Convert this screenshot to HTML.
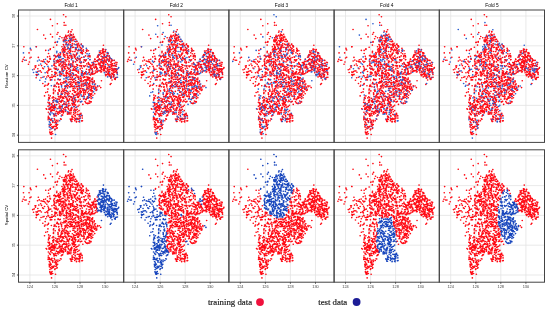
<!DOCTYPE html>
<html><head><meta charset="utf-8"><style>
html,body{margin:0;padding:0;background:#fff;width:550px;height:310px;overflow:hidden}
svg{display:block}
.gr{stroke:#e3e3e3;stroke-width:0.8}
.fr{fill:none;stroke:#444;stroke-width:1.0}
.tk{stroke:#333;stroke-width:0.8}
.dots path{stroke-width:1.6;stroke-linecap:round;fill:none}
text{font-family:"Liberation Sans",sans-serif}
.st{font-size:4.8px;fill:#000;text-anchor:middle}
.rl{font-size:4.3px;fill:#000;text-anchor:middle}
.xl{font-size:3.9px;fill:#444;text-anchor:middle}
.yl{font-size:3.9px;fill:#444;text-anchor:middle}
.lg{font-family:"Liberation Serif",serif;font-size:8.8px;fill:#1a1a1a;stroke:#1a1a1a;stroke-width:0.18px}
</style></head><body>
<svg width="550" height="310" viewBox="0 0 550 310">
<g class="dots"><g transform="translate(18.5 10.0)"><line x1="11.4" y1="0" x2="11.4" y2="132.4" class="gr"/><line x1="36.5" y1="0" x2="36.5" y2="132.4" class="gr"/><line x1="61.5" y1="0" x2="61.5" y2="132.4" class="gr"/><line x1="86.6" y1="0" x2="86.6" y2="132.4" class="gr"/><line x1="0" y1="6.0" x2="105.2" y2="6.0" class="gr"/><line x1="0" y1="35.8" x2="105.2" y2="35.8" class="gr"/><line x1="0" y1="65.6" x2="105.2" y2="65.6" class="gr"/><line x1="0" y1="95.4" x2="105.2" y2="95.4" class="gr"/><line x1="0" y1="125.2" x2="105.2" y2="125.2" class="gr"/><path stroke="#ff0a14" d="M51.6 24.1h.1M52.4 22.0h.1M54.7 24.3h.1M51.8 29.2h.1M50.9 26.9h.1M52.8 25.1h.1M50.1 25.3h.1M56.5 29.4h.1M57.2 29.4h.1M51.8 32.4h.1M53.6 30.8h.1M55.6 34.1h.1M46.3 37.7h.1M46.7 39.4h.1M47.4 39.5h.1M49.6 37.2h.1M52.1 37.8h.1M55.1 37.2h.1M64.0 35.8h.1M61.2 36.0h.1M64.6 36.7h.1M84.9 39.7h.1M40.0 44.1h.1M44.4 41.7h.1M44.8 40.6h.1M44.9 44.2h.1M52.2 41.2h.1M54.3 41.5h.1M51.4 42.4h.1M52.0 40.0h.1M56.4 41.6h.1M58.1 43.2h.1M67.0 42.7h.1M81.8 42.3h.1M84.2 40.1h.1M84.2 41.1h.1M82.4 40.7h.1M88.9 43.5h.1M84.5 42.5h.1M39.1 45.6h.1M40.0 46.2h.1M41.2 45.3h.1M45.9 46.2h.1M51.0 45.6h.1M57.5 45.1h.1M69.5 46.4h.1M71.3 49.8h.1M79.3 46.0h.1M76.3 49.1h.1M79.7 47.1h.1M79.7 45.2h.1M79.8 49.6h.1M80.9 49.8h.1M81.9 49.8h.1M88.5 48.7h.1M88.6 48.9h.1M40.0 52.0h.1M40.0 50.8h.1M48.1 51.0h.1M50.4 51.1h.1M62.3 53.1h.1M66.8 50.9h.1M77.0 54.6h.1M82.3 52.9h.1M80.8 55.0h.1M82.4 51.8h.1M80.2 53.1h.1M85.2 51.1h.1M87.4 51.0h.1M87.6 52.4h.1M85.2 54.7h.1M86.5 51.3h.1M91.7 54.7h.1M93.9 53.9h.1M93.7 53.7h.1M96.2 53.7h.1M98.4 52.6h.1M36.7 58.6h.1M43.6 59.1h.1M48.3 56.0h.1M46.3 56.6h.1M49.3 57.5h.1M46.7 58.9h.1M46.2 58.5h.1M52.0 55.5h.1M55.7 57.3h.1M57.2 58.8h.1M61.1 55.8h.1M62.4 55.6h.1M68.9 56.2h.1M65.3 55.8h.1M74.3 55.5h.1M71.4 59.9h.1M73.5 58.5h.1M77.7 57.3h.1M76.1 58.1h.1M82.7 59.1h.1M82.1 57.1h.1M86.6 58.5h.1M86.3 56.3h.1M86.5 56.1h.1M86.3 58.2h.1M88.6 59.1h.1M86.8 56.5h.1M90.8 57.1h.1M93.1 56.4h.1M93.7 58.2h.1M89.6 55.1h.1M96.2 55.8h.1M99.0 59.0h.1M95.7 55.7h.1M38.1 63.1h.1M41.0 64.1h.1M48.0 63.0h.1M47.9 61.1h.1M57.5 64.7h.1M64.3 63.6h.1M59.9 61.6h.1M72.9 63.0h.1M73.8 62.9h.1M78.5 62.3h.1M76.9 62.9h.1M80.5 60.9h.1M87.3 61.3h.1M88.6 64.8h.1M87.5 62.0h.1M87.7 64.8h.1M94.2 63.4h.1M97.9 60.1h.1M95.8 62.1h.1M35.8 66.0h.1M44.9 65.4h.1M47.6 68.5h.1M48.1 65.3h.1M59.3 67.5h.1M57.1 67.7h.1M59.3 66.1h.1M62.5 67.9h.1M62.1 68.5h.1M60.0 69.3h.1M66.4 67.1h.1M65.7 66.7h.1M68.6 69.2h.1M69.3 69.7h.1M70.2 69.8h.1M69.7 68.2h.1M74.1 68.1h.1M90.7 66.1h.1M95.3 65.3h.1M96.3 68.4h.1M38.2 73.7h.1M40.1 74.4h.1M42.4 72.5h.1M52.0 74.6h.1M52.1 73.4h.1M57.9 72.6h.1M56.5 72.8h.1M56.7 73.1h.1M57.1 70.6h.1M62.9 74.1h.1M63.4 71.5h.1M63.0 70.0h.1M67.8 71.0h.1M74.0 72.9h.1M73.8 71.6h.1M74.3 72.5h.1M36.5 75.3h.1M35.1 79.1h.1M40.8 79.2h.1M40.1 77.2h.1M43.7 79.0h.1M48.0 76.3h.1M47.5 76.1h.1M48.9 75.6h.1M55.1 78.6h.1M54.6 78.4h.1M61.4 75.2h.1M61.1 78.2h.1M62.4 78.6h.1M65.1 79.0h.1M65.9 75.4h.1M73.0 77.1h.1M72.1 79.6h.1M75.3 78.3h.1M34.9 80.1h.1M35.0 82.4h.1M36.7 80.9h.1M43.2 81.6h.1M45.7 80.2h.1M57.1 82.1h.1M59.0 80.8h.1M57.3 81.7h.1M61.0 81.7h.1M63.9 80.1h.1M60.4 83.4h.1M62.4 82.1h.1M65.8 80.5h.1M67.4 80.4h.1M66.5 80.4h.1M66.7 84.3h.1M73.1 80.5h.1M30.4 87.8h.1M34.6 86.7h.1M35.3 87.5h.1M44.6 87.3h.1M45.2 88.4h.1M52.7 86.8h.1M56.2 89.6h.1M57.4 85.4h.1M65.5 88.7h.1M72.9 86.7h.1M71.1 85.5h.1M33.3 93.9h.1M29.5 92.4h.1M39.4 92.5h.1M41.7 91.2h.1M45.3 94.3h.1M45.5 94.4h.1M54.1 90.8h.1M50.3 93.4h.1M54.6 95.0h.1M59.1 91.7h.1M62.3 91.8h.1M71.4 92.0h.1M70.7 91.0h.1M72.2 91.6h.1M32.9 96.6h.1M30.8 99.5h.1M31.8 98.2h.1M36.7 97.4h.1M38.5 98.8h.1M36.3 97.6h.1M35.4 98.6h.1M42.7 99.3h.1M41.4 97.9h.1M47.0 99.5h.1M46.8 99.2h.1M46.6 97.4h.1M52.1 99.1h.1M57.4 100.0h.1M55.8 96.6h.1M56.0 99.3h.1M60.5 95.3h.1M32.7 100.2h.1M33.8 100.4h.1M39.0 103.4h.1M42.4 101.6h.1M43.7 100.8h.1M43.5 104.9h.1M40.6 102.7h.1M43.1 102.1h.1M44.1 105.0h.1M45.2 101.4h.1M52.3 103.9h.1M49.7 102.6h.1M50.2 102.9h.1M56.9 100.7h.1M55.1 102.5h.1M56.8 100.8h.1M59.6 104.7h.1M32.5 109.9h.1M31.8 109.6h.1M37.9 105.8h.1M36.2 109.9h.1M43.4 105.5h.1M54.2 109.5h.1M53.4 109.4h.1M57.9 108.6h.1M56.5 105.4h.1M56.2 108.0h.1M60.6 106.8h.1M37.1 116.4h.1M38.4 115.2h.1M36.3 119.7h.1M33.5 121.7h.1M32.2 122.6h.1M32.8 124.5h.1M32.0 124.3h.1M20.3 55.3h.1M31.8 70.1h.1M22.6 51.1h.1M28.7 51.1h.1M30.4 59.6h.1M31.4 49.0h.1M30.6 59.4h.1M31.9 9.4h.1M33.9 15.8h.1M32.0 24.3h.1M26.9 28.6h.1M45.6 12.6h.1M5.7 47.2h.1M19.8 47.4h.1M4.6 49.4h.1M3.8 51.4h.1M29.7 52.2h.1M28.3 54.4h.1M17.3 55.9h.1M30.0 66.1h.1M26.6 75.2h.1M31.7 85.9h.1M91.7 74.4h.1M82.9 70.7h.1M29.4 65.5h.1M33.4 64.9h.1"/><path stroke="#2a5ecf" d="M52.6 24.7h.1M47.9 27.1h.1M51.1 28.5h.1M45.8 30.0h.1M52.6 30.7h.1M62.6 34.5h.1M45.2 39.1h.1M60.2 39.4h.1M38.2 42.8h.1M59.7 40.7h.1M67.8 40.3h.1M88.6 42.5h.1M89.7 43.7h.1M40.2 46.0h.1M44.7 48.5h.1M54.1 48.2h.1M59.3 48.5h.1M61.1 49.1h.1M87.5 46.6h.1M86.1 46.8h.1M88.4 45.4h.1M88.9 49.9h.1M91.6 48.1h.1M92.9 48.7h.1M90.5 46.2h.1M52.6 54.1h.1M73.4 52.6h.1M83.9 50.5h.1M93.4 50.1h.1M95.6 50.5h.1M58.0 58.9h.1M59.0 57.5h.1M65.5 56.5h.1M82.9 57.0h.1M83.3 55.6h.1M85.6 58.7h.1M90.8 56.9h.1M95.7 58.9h.1M97.5 58.9h.1M36.2 64.3h.1M51.7 63.2h.1M52.3 60.2h.1M59.6 60.1h.1M68.0 64.1h.1M69.9 62.8h.1M79.6 60.2h.1M86.8 64.7h.1M85.8 62.8h.1M94.7 64.6h.1M95.6 64.7h.1M45.4 68.9h.1M48.6 67.9h.1M48.2 67.0h.1M49.6 69.6h.1M50.3 66.9h.1M63.1 65.2h.1M63.8 65.7h.1M71.3 67.7h.1M73.4 69.7h.1M92.2 68.1h.1M48.4 74.2h.1M51.4 71.8h.1M62.0 70.9h.1M74.3 72.2h.1M43.1 76.9h.1M76.2 79.1h.1M46.3 82.8h.1M59.4 84.5h.1M78.1 80.2h.1M49.4 85.2h.1M51.3 86.4h.1M63.0 86.1h.1M30.6 93.8h.1M39.2 91.8h.1M50.0 91.7h.1M49.7 91.2h.1M30.6 98.1h.1M35.1 95.8h.1M39.5 98.5h.1M55.2 96.7h.1M33.5 103.0h.1M31.8 104.7h.1M56.3 101.0h.1M58.7 109.0h.1M61.0 105.4h.1M52.7 111.4h.1M31.9 117.8h.1M37.0 124.5h.1M26.0 52.0h.1M19.0 51.0h.1M20.4 61.0h.1M26.6 62.7h.1M38.8 32.2h.1M17.6 36.7h.1M30.0 40.4h.1M22.1 54.0h.1M29.4 56.4h.1"/><path stroke="#2a5ecf" d="M46.1 27.9h.1M54.9 27.2h.1M47.6 33.4h.1M48.4 34.4h.1M47.7 30.3h.1M52.1 34.9h.1M53.5 35.9h.1M57.1 38.5h.1M61.9 39.9h.1M63.7 35.8h.1M87.3 39.6h.1M48.9 43.4h.1M51.5 40.2h.1M63.7 44.0h.1M80.8 41.0h.1M89.5 42.9h.1M37.8 46.5h.1M40.1 47.5h.1M52.9 49.7h.1M53.0 45.6h.1M58.9 47.4h.1M56.0 45.1h.1M60.7 46.1h.1M71.5 49.5h.1M83.3 49.6h.1M91.1 47.0h.1M37.9 50.9h.1M45.2 51.4h.1M62.8 52.2h.1M78.6 50.7h.1M75.3 54.7h.1M84.4 52.9h.1M85.0 51.8h.1M90.4 51.5h.1M38.0 58.2h.1M50.4 55.0h.1M50.5 58.8h.1M52.0 57.5h.1M53.7 56.3h.1M73.2 59.5h.1M90.7 56.5h.1M41.1 61.5h.1M51.6 61.6h.1M62.8 64.1h.1M73.5 63.4h.1M94.4 60.3h.1M47.5 67.5h.1M53.7 66.8h.1M97.3 67.5h.1M60.4 73.2h.1M59.7 72.1h.1M67.0 72.8h.1M35.7 75.2h.1M43.0 75.5h.1M51.1 76.9h.1M65.6 79.6h.1M76.0 79.4h.1M39.5 84.6h.1M48.6 81.6h.1M56.0 85.8h.1M69.8 87.1h.1M34.4 92.3h.1M29.9 90.1h.1M42.6 91.1h.1M45.9 91.7h.1M46.3 93.9h.1M54.4 90.0h.1M43.5 98.1h.1M43.6 96.8h.1M48.1 96.9h.1M31.0 103.6h.1M61.6 108.0h.1M61.7 108.3h.1M30.8 111.8h.1M41.1 110.7h.1M61.0 111.9h.1M36.3 119.6h.1M27.0 49.3h.1M14.1 59.8h.1M20.7 50.1h.1M33.2 69.9h.1M15.0 62.5h.1M26.0 56.7h.1M27.2 68.9h.1M38.9 31.6h.1M11.8 38.3h.1M11.9 39.0h.1M6.3 50.2h.1M33.4 55.9h.1M18.1 65.6h.1M26.6 71.8h.1M67.8 38.4h.1M89.1 66.9h.1"/><path stroke="#ff0a14" d="M49.7 22.2h.1M50.1 21.1h.1M47.2 25.3h.1M45.7 27.9h.1M53.3 25.8h.1M52.4 29.4h.1M52.5 27.9h.1M52.8 25.3h.1M53.0 28.2h.1M55.1 26.2h.1M44.8 30.0h.1M46.3 30.1h.1M53.7 35.0h.1M57.1 31.8h.1M59.9 33.3h.1M43.4 36.7h.1M45.7 37.9h.1M54.1 37.5h.1M53.4 35.5h.1M56.9 39.7h.1M58.0 39.4h.1M59.2 36.3h.1M60.7 35.4h.1M63.1 38.3h.1M42.0 43.4h.1M48.0 43.2h.1M46.5 41.7h.1M44.9 43.7h.1M45.9 41.2h.1M46.0 42.3h.1M50.8 40.4h.1M59.4 40.7h.1M63.6 40.7h.1M64.0 43.4h.1M68.1 41.0h.1M69.9 40.7h.1M81.0 42.6h.1M85.7 44.5h.1M39.4 46.3h.1M41.6 47.1h.1M49.3 49.2h.1M49.0 47.4h.1M47.4 45.0h.1M53.1 48.2h.1M52.3 45.2h.1M55.7 46.2h.1M57.0 48.4h.1M57.8 49.6h.1M55.6 45.2h.1M63.2 47.5h.1M67.8 49.7h.1M65.2 47.0h.1M71.2 45.8h.1M78.6 47.2h.1M83.6 48.8h.1M80.8 48.7h.1M83.1 46.6h.1M80.9 45.0h.1M84.3 46.9h.1M85.5 48.8h.1M85.8 45.4h.1M91.0 47.8h.1M37.5 53.1h.1M35.6 51.8h.1M37.8 51.0h.1M42.3 53.2h.1M43.0 52.0h.1M46.5 54.4h.1M46.8 50.8h.1M46.4 52.5h.1M52.0 54.0h.1M50.1 54.7h.1M54.4 52.4h.1M49.8 54.6h.1M54.7 52.8h.1M61.7 50.1h.1M62.6 52.4h.1M69.9 53.7h.1M69.8 52.5h.1M70.2 54.3h.1M74.5 53.7h.1M74.3 54.6h.1M75.5 51.3h.1M77.0 51.6h.1M75.3 53.9h.1M84.5 53.1h.1M80.4 53.7h.1M80.8 53.2h.1M87.8 50.1h.1M85.7 50.7h.1M85.0 53.2h.1M88.9 53.9h.1M92.2 52.0h.1M92.5 52.5h.1M93.1 50.0h.1M95.8 53.2h.1M36.8 59.2h.1M39.7 59.2h.1M40.9 55.5h.1M46.1 57.1h.1M45.9 58.6h.1M54.2 56.4h.1M58.9 55.1h.1M56.4 59.4h.1M61.7 58.9h.1M67.1 55.8h.1M71.8 55.7h.1M77.6 56.3h.1M76.6 57.3h.1M84.4 55.2h.1M82.2 55.8h.1M82.1 55.5h.1M83.1 57.6h.1M86.8 57.8h.1M90.1 59.2h.1M91.3 59.3h.1M90.4 55.0h.1M93.6 59.5h.1M97.8 59.5h.1M96.7 59.4h.1M41.7 62.1h.1M43.1 64.4h.1M47.8 63.9h.1M49.0 63.1h.1M47.6 63.1h.1M48.3 60.5h.1M51.3 64.1h.1M50.1 64.1h.1M59.4 62.4h.1M54.5 63.4h.1M63.4 63.6h.1M59.9 63.1h.1M63.1 60.8h.1M69.2 63.9h.1M67.3 61.5h.1M64.8 64.9h.1M66.2 63.0h.1M73.7 63.0h.1M74.0 64.0h.1M70.9 60.0h.1M70.8 62.1h.1M79.2 61.2h.1M83.0 61.8h.1M81.4 60.5h.1M85.8 60.2h.1M87.3 64.4h.1M90.3 64.8h.1M89.7 61.3h.1M90.2 63.8h.1M91.1 61.3h.1M36.9 66.4h.1M36.3 70.0h.1M39.5 69.6h.1M35.0 66.4h.1M39.0 65.3h.1M41.0 69.9h.1M39.5 69.2h.1M48.1 66.0h.1M50.8 65.9h.1M52.1 67.2h.1M55.8 69.1h.1M54.7 65.5h.1M90.7 65.4h.1M96.7 68.7h.1M41.9 73.9h.1M39.5 73.8h.1M44.3 72.9h.1M47.5 71.9h.1M48.1 71.5h.1M46.4 71.6h.1M47.0 72.2h.1M51.1 74.2h.1M50.5 72.1h.1M52.5 71.8h.1M59.5 71.7h.1M55.4 71.6h.1M61.6 70.8h.1M62.5 71.8h.1M67.4 72.1h.1M65.1 70.8h.1M67.1 74.1h.1M71.3 70.8h.1M70.8 70.5h.1M71.2 72.2h.1M71.4 70.3h.1M72.6 71.2h.1M76.9 74.0h.1M37.8 76.7h.1M45.5 79.8h.1M47.0 76.1h.1M46.4 78.3h.1M52.0 76.5h.1M57.8 76.8h.1M64.1 78.7h.1M68.2 75.4h.1M68.2 79.1h.1M69.7 78.5h.1M72.7 77.7h.1M79.2 76.8h.1M76.3 76.0h.1M39.4 82.8h.1M40.8 81.2h.1M45.3 81.5h.1M47.4 80.4h.1M57.8 84.1h.1M56.0 82.2h.1M58.8 84.9h.1M59.3 83.1h.1M61.7 80.4h.1M62.8 81.9h.1M65.1 80.9h.1M67.2 81.3h.1M65.1 82.6h.1M69.8 81.2h.1M72.5 81.1h.1M71.6 84.4h.1M72.6 84.4h.1M76.2 83.8h.1M77.5 80.5h.1M30.1 89.0h.1M37.2 88.4h.1M43.9 88.1h.1M39.9 86.6h.1M42.4 85.2h.1M49.3 90.0h.1M48.4 89.4h.1M54.2 88.4h.1M51.1 89.9h.1M50.7 86.2h.1M56.7 87.8h.1M61.6 89.3h.1M59.8 87.4h.1M64.0 86.4h.1M68.8 88.2h.1M71.2 87.5h.1M71.8 85.1h.1M30.9 92.6h.1M43.2 90.3h.1M44.1 94.7h.1M40.5 93.8h.1M42.7 91.5h.1M44.5 91.1h.1M48.8 91.3h.1M48.3 94.1h.1M48.8 90.9h.1M57.0 91.2h.1M56.7 90.5h.1M56.1 94.4h.1M55.2 92.1h.1M55.2 93.7h.1M59.8 90.2h.1M68.9 93.6h.1M66.5 91.6h.1M72.6 91.9h.1M71.1 93.2h.1M28.2 99.3h.1M33.6 99.5h.1M31.4 99.2h.1M35.8 95.5h.1M34.9 97.0h.1M35.2 98.4h.1M41.7 96.8h.1M43.1 96.5h.1M41.5 98.2h.1M51.5 95.2h.1M50.1 96.1h.1M49.9 99.1h.1M53.3 97.8h.1M58.6 99.4h.1M55.8 99.3h.1M57.3 97.6h.1M56.6 95.3h.1M32.3 101.6h.1M29.8 102.2h.1M37.0 103.4h.1M35.2 104.6h.1M35.5 100.5h.1M37.8 101.3h.1M39.7 104.2h.1M42.3 100.8h.1M41.4 103.2h.1M47.1 101.5h.1M44.7 103.0h.1M51.2 102.2h.1M58.7 104.4h.1M57.2 100.6h.1M57.2 102.5h.1M61.9 104.0h.1M62.4 103.4h.1M29.7 108.1h.1M33.0 109.1h.1M35.7 108.7h.1M35.5 106.1h.1M42.6 109.2h.1M51.7 109.1h.1M52.2 109.7h.1M56.8 106.2h.1M58.5 108.4h.1M63.5 105.6h.1M63.6 105.9h.1M34.3 112.5h.1M31.8 114.0h.1M37.3 114.3h.1M39.1 114.5h.1M37.8 110.4h.1M39.3 111.8h.1M58.0 111.4h.1M63.9 110.8h.1M60.4 111.5h.1M31.4 119.8h.1M30.8 116.0h.1M34.0 117.3h.1M38.6 117.8h.1M36.6 119.0h.1M32.8 122.9h.1M22.8 62.2h.1M29.4 61.0h.1M29.7 74.4h.1M27.0 53.2h.1M30.8 59.8h.1M22.5 67.7h.1M25.2 25.1h.1M33.9 26.9h.1M45.0 4.7h.1M45.6 15.2h.1M53.5 19.8h.1M38.5 24.3h.1M41.4 26.5h.1M36.6 32.5h.1M5.3 36.8h.1M17.8 36.8h.1M12.5 40.0h.1M27.2 40.4h.1M10.8 52.0h.1M19.3 58.7h.1M32.2 69.5h.1M27.2 82.5h.1M33.4 61.5h.1M30.0 58.1h.1"/><path stroke="#ff0a14" d="M47.7 26.9h.1M46.8 26.5h.1M48.5 28.5h.1M47.1 29.4h.1M49.4 25.6h.1M54.5 29.1h.1M55.9 27.1h.1M46.6 31.8h.1M47.3 34.8h.1M44.8 34.5h.1M44.8 31.0h.1M45.3 30.5h.1M51.2 31.3h.1M52.1 30.7h.1M50.8 31.8h.1M50.3 33.9h.1M59.4 34.3h.1M59.4 34.8h.1M62.8 34.0h.1M44.2 38.6h.1M49.0 39.0h.1M45.2 35.1h.1M49.4 38.2h.1M45.8 36.5h.1M45.2 39.6h.1M50.4 35.0h.1M51.9 38.6h.1M52.3 36.2h.1M59.1 37.2h.1M56.8 37.7h.1M57.3 39.7h.1M58.7 35.7h.1M62.8 38.9h.1M61.7 37.6h.1M64.8 39.9h.1M84.9 35.3h.1M41.9 44.7h.1M43.7 42.0h.1M45.8 40.8h.1M45.8 44.8h.1M51.3 40.0h.1M50.7 42.9h.1M58.1 44.4h.1M54.7 44.2h.1M63.6 42.9h.1M61.3 40.5h.1M63.7 42.8h.1M80.1 44.5h.1M81.8 44.1h.1M86.9 40.1h.1M84.5 43.8h.1M89.1 43.6h.1M86.4 42.0h.1M36.9 46.7h.1M36.0 48.7h.1M35.5 49.5h.1M37.0 46.1h.1M40.9 49.8h.1M46.5 47.2h.1M48.6 49.3h.1M45.0 45.8h.1M53.4 46.2h.1M49.9 47.6h.1M56.6 46.3h.1M61.6 48.4h.1M66.0 49.8h.1M67.0 45.9h.1M71.1 45.9h.1M76.4 49.6h.1M82.7 49.7h.1M79.6 46.2h.1M86.6 47.5h.1M89.1 45.9h.1M85.7 45.3h.1M84.7 47.8h.1M86.1 49.9h.1M88.0 47.2h.1M90.1 49.2h.1M91.4 48.7h.1M40.5 54.0h.1M41.6 54.3h.1M44.5 54.5h.1M50.3 53.9h.1M50.6 52.0h.1M53.7 54.1h.1M61.0 52.1h.1M68.3 53.9h.1M74.4 52.5h.1M79.0 51.4h.1M79.7 54.1h.1M82.8 51.6h.1M84.5 51.8h.1M85.6 52.9h.1M84.6 53.2h.1M87.3 51.8h.1M93.2 51.2h.1M90.7 50.3h.1M92.3 54.7h.1M92.7 54.1h.1M95.7 50.2h.1M38.0 59.3h.1M37.4 56.5h.1M43.2 55.3h.1M40.5 55.6h.1M48.8 58.1h.1M47.2 56.1h.1M54.9 58.9h.1M59.0 55.4h.1M55.5 56.3h.1M62.7 56.7h.1M63.7 58.3h.1M63.2 55.8h.1M68.0 59.2h.1M65.7 56.6h.1M71.7 56.0h.1M71.7 57.9h.1M78.8 58.4h.1M82.8 58.9h.1M81.4 57.4h.1M82.4 57.7h.1M85.9 57.0h.1M85.6 59.0h.1M88.5 58.2h.1M91.9 57.1h.1M93.8 55.3h.1M93.4 55.7h.1M95.0 55.7h.1M97.2 58.7h.1M37.1 62.4h.1M37.1 63.9h.1M42.3 64.1h.1M43.4 60.2h.1M49.1 63.0h.1M47.8 62.3h.1M54.2 60.3h.1M55.1 64.8h.1M63.0 62.3h.1M63.8 62.4h.1M66.3 62.9h.1M66.3 63.2h.1M66.4 63.9h.1M72.4 64.1h.1M73.9 60.2h.1M73.7 64.1h.1M82.1 60.7h.1M84.9 60.3h.1M89.0 60.3h.1M94.0 64.2h.1M89.7 63.9h.1M90.1 62.4h.1M90.3 61.2h.1M98.1 61.0h.1M95.2 62.2h.1M95.0 64.6h.1M98.7 63.1h.1M95.2 64.4h.1M52.1 65.6h.1M53.1 69.1h.1M57.2 65.1h.1M58.0 66.0h.1M60.3 69.1h.1M66.5 69.7h.1M73.9 69.4h.1M70.9 67.7h.1M92.5 67.9h.1M92.1 66.9h.1M92.4 65.1h.1M95.3 66.7h.1M38.6 72.6h.1M43.0 74.6h.1M46.5 72.8h.1M47.4 70.4h.1M54.1 70.1h.1M49.7 72.8h.1M53.4 72.7h.1M57.4 74.4h.1M59.4 74.1h.1M68.3 70.5h.1M69.6 73.9h.1M71.1 73.6h.1M74.0 72.9h.1M69.7 74.7h.1M71.0 73.0h.1M75.7 71.9h.1M36.3 76.2h.1M45.9 78.9h.1M53.8 76.6h.1M52.3 76.8h.1M55.9 77.0h.1M58.9 79.3h.1M55.2 76.4h.1M58.0 76.2h.1M59.7 75.8h.1M68.7 78.9h.1M73.6 78.1h.1M73.5 76.3h.1M70.7 75.3h.1M71.3 77.1h.1M72.9 76.2h.1M77.5 77.3h.1M75.1 76.4h.1M42.7 83.1h.1M43.4 84.2h.1M44.1 80.8h.1M46.3 84.2h.1M49.0 84.7h.1M54.3 80.4h.1M49.7 82.2h.1M49.5 84.2h.1M55.5 80.4h.1M56.1 82.3h.1M62.5 81.5h.1M68.9 82.7h.1M65.1 84.3h.1M66.9 82.8h.1M72.3 83.9h.1M71.4 80.1h.1M73.9 80.8h.1M30.5 87.2h.1M33.7 87.9h.1M30.1 85.1h.1M31.0 88.4h.1M42.9 87.0h.1M41.9 85.8h.1M40.6 89.5h.1M40.3 86.8h.1M41.4 86.8h.1M47.0 86.3h.1M51.0 88.8h.1M49.8 86.7h.1M55.2 85.0h.1M54.8 86.5h.1M59.4 86.8h.1M60.3 86.3h.1M64.9 89.0h.1M65.2 85.9h.1M67.7 89.6h.1M68.2 88.2h.1M72.5 86.3h.1M74.4 85.3h.1M72.6 88.6h.1M30.8 93.6h.1M31.0 93.9h.1M34.2 90.7h.1M32.8 93.9h.1M35.3 90.1h.1M37.7 91.7h.1M36.1 94.5h.1M42.3 92.0h.1M40.8 91.3h.1M45.3 93.4h.1M47.4 94.4h.1M53.2 90.5h.1M54.1 93.6h.1M53.9 94.9h.1M55.4 93.4h.1M57.0 90.6h.1M69.7 93.5h.1M29.5 96.2h.1M27.6 98.7h.1M31.9 98.6h.1M32.1 97.6h.1M33.6 96.2h.1M30.4 99.1h.1M40.5 97.1h.1M45.5 99.9h.1M46.4 97.6h.1M59.4 96.4h.1M30.9 104.0h.1M35.6 104.2h.1M35.3 100.3h.1M41.0 101.2h.1M40.0 102.3h.1M45.0 102.4h.1M50.4 103.9h.1M51.0 100.3h.1M52.3 100.5h.1M55.0 104.4h.1M60.5 100.6h.1M62.0 104.5h.1M29.9 107.9h.1M31.2 109.1h.1M29.6 109.7h.1M53.7 106.2h.1M57.0 109.5h.1M59.2 109.1h.1M54.5 107.4h.1M61.8 106.7h.1M60.9 108.5h.1M34.3 111.8h.1M32.6 114.5h.1M33.7 110.8h.1M37.6 112.2h.1M36.4 112.6h.1M52.4 110.2h.1M57.9 111.9h.1M56.2 110.7h.1M31.7 115.5h.1M33.7 118.2h.1M33.4 116.6h.1M37.7 116.3h.1M35.8 116.2h.1M38.3 118.4h.1M35.1 116.5h.1M34.2 123.7h.1M31.2 122.0h.1M31.5 122.9h.1M31.5 48.4h.1M30.7 51.5h.1M29.2 63.1h.1M21.7 60.9h.1M15.6 59.1h.1M28.2 67.0h.1M23.0 55.6h.1M16.9 57.5h.1M28.6 75.2h.1M29.0 46.9h.1M32.4 67.4h.1M16.5 56.0h.1M24.2 51.5h.1M18.9 19.5h.1M47.3 6.8h.1M38.8 13.8h.1M52.4 21.5h.1M39.4 22.6h.1M31.8 38.7h.1M10.5 42.9h.1M30.0 43.5h.1M11.4 48.0h.1M7.6 50.2h.1M9.9 54.2h.1M25.2 49.7h.1M17.6 67.8h.1M25.5 66.7h.1M24.3 73.5h.1M26.0 76.3h.1M30.0 73.5h.1M29.4 79.1h.1M97.9 67.5h.1M96.7 69.4h.1M93.5 70.0h.1M92.5 73.5h.1M82.2 77.6h.1M18.7 64.9h.1M28.3 62.1h.1M32.2 59.3h.1M31.1 67.7h.1"/><path stroke="#2a5ecf" d="M46.5 30.5h.1M45.3 31.7h.1M49.9 30.5h.1M58.2 31.1h.1M55.9 31.3h.1M58.0 34.8h.1M49.4 38.3h.1M45.8 37.1h.1M41.7 42.5h.1M35.3 45.8h.1M39.0 50.0h.1M40.0 46.7h.1M40.8 47.8h.1M43.9 48.7h.1M42.1 46.9h.1M60.5 49.0h.1M65.6 47.1h.1M69.8 45.3h.1M35.2 51.0h.1M35.8 53.0h.1M44.3 51.6h.1M44.6 52.8h.1M51.4 54.5h.1M55.1 51.2h.1M58.3 50.2h.1M62.4 52.1h.1M79.5 50.2h.1M53.5 55.9h.1M78.4 58.6h.1M98.4 59.2h.1M97.0 55.3h.1M99.9 58.2h.1M39.0 60.2h.1M41.5 62.5h.1M40.9 62.5h.1M44.4 63.3h.1M43.5 61.7h.1M45.4 60.2h.1M54.1 63.3h.1M54.9 64.3h.1M67.6 62.1h.1M73.9 61.9h.1M70.9 64.3h.1M91.0 63.0h.1M98.8 64.4h.1M41.2 65.7h.1M42.1 65.9h.1M60.2 68.0h.1M91.8 66.6h.1M48.4 74.4h.1M59.3 72.4h.1M64.5 73.2h.1M68.7 72.9h.1M67.2 75.0h.1M74.0 74.1h.1M60.4 75.6h.1M68.8 78.0h.1M75.2 77.8h.1M70.1 85.0h.1M70.4 84.8h.1M38.5 89.7h.1M52.3 87.0h.1M57.3 89.7h.1M55.4 87.9h.1M65.5 88.0h.1M69.3 88.0h.1M65.6 86.6h.1M69.7 88.1h.1M70.3 85.7h.1M31.3 94.9h.1M37.3 90.9h.1M38.4 91.2h.1M63.2 91.4h.1M62.0 92.0h.1M36.3 99.0h.1M34.6 96.0h.1M37.4 95.3h.1M43.7 95.5h.1M53.1 97.4h.1M58.0 97.1h.1M32.2 102.0h.1M41.5 100.2h.1M49.3 101.7h.1M50.0 103.2h.1M57.8 109.2h.1M62.9 105.2h.1M30.6 114.4h.1M34.4 110.9h.1M61.1 110.3h.1M25.6 51.8h.1M19.9 64.4h.1M24.3 67.2h.1"/><path stroke="#2a5ecf" d="M52.8 28.8h.1M51.8 25.8h.1M49.6 34.8h.1M52.2 30.1h.1M56.7 34.7h.1M48.6 36.1h.1M52.2 37.6h.1M52.3 36.6h.1M50.9 38.9h.1M57.3 38.8h.1M57.6 37.5h.1M64.3 36.1h.1M64.3 37.0h.1M84.8 39.3h.1M38.3 41.4h.1M45.3 42.2h.1M52.1 43.8h.1M59.0 43.1h.1M63.0 41.1h.1M68.5 43.7h.1M70.8 43.7h.1M80.5 44.9h.1M69.7 48.3h.1M84.0 46.7h.1M42.3 51.8h.1M47.7 54.5h.1M65.1 52.2h.1M67.1 50.2h.1M75.1 52.7h.1M87.1 54.5h.1M43.6 58.2h.1M44.6 56.3h.1M70.5 56.9h.1M69.7 57.0h.1M100.2 57.5h.1M44.5 60.9h.1M63.8 63.6h.1M64.2 61.3h.1M87.8 62.0h.1M98.6 62.4h.1M39.6 69.0h.1M52.5 65.0h.1M56.1 68.6h.1M56.4 68.8h.1M98.9 67.2h.1M94.8 66.9h.1M46.8 72.3h.1M60.9 72.6h.1M76.0 74.4h.1M46.8 75.7h.1M47.1 77.7h.1M56.1 76.1h.1M60.4 79.2h.1M60.8 77.2h.1M65.9 75.2h.1M70.1 78.8h.1M42.7 84.2h.1M43.4 84.2h.1M62.4 84.8h.1M70.2 83.9h.1M75.1 81.9h.1M47.4 86.7h.1M74.1 87.8h.1M35.2 90.9h.1M38.5 92.3h.1M55.1 92.4h.1M47.8 96.6h.1M48.3 95.1h.1M31.7 104.4h.1M37.3 104.0h.1M35.0 103.9h.1M42.9 100.6h.1M47.2 100.4h.1M31.0 109.5h.1M33.4 108.6h.1M36.2 105.7h.1M42.7 106.0h.1M31.5 112.5h.1M37.8 113.2h.1M30.8 117.0h.1M32.9 118.8h.1M18.6 62.4h.1M21.3 70.2h.1M17.6 62.1h.1M40.5 28.8h.1M4.9 42.9h.1M32.8 75.7h.1M79.1 75.7h.1"/><path stroke="#ff0a14" d="M48.1 26.4h.1M51.9 25.2h.1M54.2 27.4h.1M48.0 32.6h.1M48.5 32.0h.1M50.8 31.7h.1M51.3 30.6h.1M53.8 33.5h.1M58.4 31.6h.1M58.5 34.1h.1M54.6 30.1h.1M43.5 39.9h.1M47.1 39.7h.1M46.3 37.3h.1M68.4 39.9h.1M84.1 39.1h.1M84.9 39.3h.1M52.0 41.0h.1M49.6 41.5h.1M62.1 42.5h.1M62.6 43.1h.1M62.9 42.4h.1M68.2 41.3h.1M64.9 41.3h.1M83.0 43.4h.1M84.3 42.2h.1M86.8 41.5h.1M85.2 41.7h.1M86.1 44.2h.1M35.9 45.2h.1M37.3 47.0h.1M42.6 49.3h.1M48.9 45.1h.1M46.5 49.6h.1M49.4 46.2h.1M53.3 47.3h.1M50.8 48.2h.1M52.4 46.9h.1M56.0 47.3h.1M59.3 48.2h.1M60.5 49.8h.1M65.6 49.9h.1M71.4 46.9h.1M82.6 46.3h.1M85.0 47.5h.1M90.7 45.8h.1M39.2 51.9h.1M38.8 52.2h.1M35.8 53.9h.1M39.2 50.5h.1M42.2 50.3h.1M40.9 51.5h.1M44.5 51.8h.1M46.6 54.1h.1M44.9 53.1h.1M47.1 54.6h.1M54.3 51.0h.1M57.1 51.9h.1M58.1 54.5h.1M58.7 50.6h.1M66.9 50.5h.1M65.0 52.2h.1M71.4 54.8h.1M70.3 53.9h.1M78.3 50.8h.1M77.9 54.5h.1M81.3 54.4h.1M81.5 54.0h.1M83.3 52.2h.1M94.0 50.2h.1M90.2 51.0h.1M91.0 50.2h.1M98.0 54.2h.1M97.3 52.2h.1M35.6 58.1h.1M35.2 55.1h.1M36.2 55.7h.1M42.5 56.8h.1M44.0 55.3h.1M43.8 59.6h.1M44.2 55.5h.1M43.6 58.2h.1M44.7 57.1h.1M50.0 59.1h.1M54.4 55.0h.1M52.0 56.7h.1M50.6 58.5h.1M57.6 56.8h.1M56.5 57.0h.1M70.4 59.9h.1M73.1 55.5h.1M73.5 58.7h.1M72.7 55.5h.1M72.0 58.2h.1M72.5 57.0h.1M76.6 56.1h.1M78.1 59.4h.1M78.4 58.5h.1M75.0 57.1h.1M77.6 57.0h.1M84.2 55.9h.1M83.4 59.7h.1M84.2 56.1h.1M84.4 56.8h.1M84.6 57.1h.1M89.2 57.6h.1M85.1 58.9h.1M85.6 59.8h.1M92.7 58.3h.1M91.3 59.6h.1M97.8 56.3h.1M95.3 59.5h.1M95.5 58.5h.1M97.3 56.3h.1M36.3 62.4h.1M42.4 63.2h.1M44.7 61.5h.1M53.4 62.8h.1M50.8 61.5h.1M52.4 64.6h.1M51.7 60.1h.1M56.6 60.5h.1M57.7 61.1h.1M55.3 60.1h.1M55.1 60.1h.1M58.1 61.2h.1M58.2 60.9h.1M66.7 63.4h.1M65.2 64.0h.1M71.0 62.1h.1M74.1 61.7h.1M75.5 63.8h.1M76.8 61.0h.1M75.8 63.8h.1M74.9 64.0h.1M78.4 61.2h.1M82.3 62.0h.1M88.4 62.1h.1M89.2 63.8h.1M85.5 60.9h.1M94.5 61.1h.1M91.3 64.5h.1M93.0 63.2h.1M93.3 60.5h.1M96.8 61.7h.1M97.6 60.7h.1M95.6 60.3h.1M98.1 62.8h.1M41.7 69.6h.1M47.4 65.7h.1M45.9 66.0h.1M45.5 65.3h.1M51.2 69.2h.1M53.8 67.5h.1M51.9 69.4h.1M54.8 69.4h.1M55.4 65.5h.1M60.1 67.5h.1M62.0 66.4h.1M60.1 67.0h.1M62.4 68.7h.1M68.7 67.6h.1M68.4 66.7h.1M66.7 69.9h.1M68.5 69.6h.1M64.8 67.6h.1M65.7 67.1h.1M69.8 67.2h.1M72.0 65.1h.1M72.7 69.0h.1M70.8 68.4h.1M87.2 65.7h.1M92.8 66.0h.1M93.1 67.3h.1M96.0 68.9h.1M95.0 66.1h.1M45.4 71.5h.1M45.2 72.9h.1M53.7 74.8h.1M54.5 72.6h.1M55.0 71.9h.1M57.2 74.1h.1M64.5 74.4h.1M65.8 73.2h.1M65.0 70.9h.1M67.6 74.0h.1M75.7 70.9h.1M35.5 76.4h.1M40.3 76.8h.1M49.0 77.9h.1M46.3 76.2h.1M49.9 75.9h.1M52.8 75.5h.1M59.0 78.9h.1M56.6 78.3h.1M58.7 76.8h.1M63.1 75.2h.1M60.5 76.5h.1M62.9 76.7h.1M64.7 76.2h.1M68.0 77.0h.1M69.2 77.1h.1M73.0 78.7h.1M71.8 75.3h.1M72.2 79.8h.1M70.5 76.6h.1M70.2 78.5h.1M77.1 77.2h.1M77.2 78.8h.1M78.3 79.2h.1M80.9 76.0h.1M39.5 83.8h.1M34.9 83.6h.1M44.2 83.3h.1M40.2 80.1h.1M41.0 80.9h.1M47.3 83.1h.1M48.6 83.5h.1M47.0 82.5h.1M47.9 80.8h.1M50.5 83.6h.1M53.8 83.9h.1M51.6 81.4h.1M56.2 82.2h.1M59.8 83.4h.1M61.9 83.2h.1M62.1 82.8h.1M65.6 82.9h.1M73.1 83.8h.1M73.7 82.0h.1M71.0 83.5h.1M72.3 84.6h.1M35.2 89.4h.1M38.9 89.0h.1M40.4 89.1h.1M43.7 87.0h.1M41.8 87.9h.1M45.9 86.4h.1M47.3 87.6h.1M44.7 87.8h.1M48.4 88.2h.1M53.5 89.4h.1M53.2 87.5h.1M51.9 86.8h.1M58.9 87.3h.1M56.0 88.6h.1M60.8 85.1h.1M68.9 86.7h.1M67.2 89.4h.1M34.8 92.5h.1M38.2 94.6h.1M42.7 92.0h.1M43.8 90.3h.1M46.9 94.5h.1M47.5 92.3h.1M54.5 91.5h.1M49.6 90.6h.1M53.5 93.4h.1M56.3 92.5h.1M64.3 94.4h.1M60.4 91.3h.1M67.9 93.3h.1M67.2 92.7h.1M69.5 93.0h.1M32.6 97.7h.1M32.1 97.4h.1M30.6 95.7h.1M34.1 97.6h.1M33.8 95.2h.1M37.1 97.3h.1M35.7 96.9h.1M36.2 96.9h.1M41.1 96.2h.1M41.4 95.2h.1M44.9 98.8h.1M47.5 97.3h.1M49.0 97.2h.1M52.9 98.7h.1M52.9 97.8h.1M53.3 98.8h.1M50.0 95.4h.1M49.8 98.4h.1M57.1 95.0h.1M32.5 100.9h.1M37.9 101.5h.1M39.3 102.1h.1M44.1 101.6h.1M43.6 100.6h.1M48.8 103.0h.1M49.0 104.2h.1M52.8 100.3h.1M50.7 103.7h.1M52.5 102.3h.1M56.4 103.3h.1M55.3 100.8h.1M59.2 101.7h.1M60.7 104.4h.1M30.7 108.0h.1M29.8 106.2h.1M36.5 105.4h.1M42.0 108.9h.1M53.2 109.2h.1M53.5 108.0h.1M53.4 106.3h.1M56.5 108.9h.1M60.1 109.1h.1M63.7 108.1h.1M32.1 110.0h.1M37.1 111.9h.1M37.9 114.5h.1M37.0 111.8h.1M39.4 110.3h.1M53.3 111.5h.1M63.2 110.9h.1M34.8 117.7h.1M33.0 128.1h.1M31.1 46.2h.1M17.7 64.5h.1M24.1 58.1h.1M33.7 67.4h.1M33.4 67.0h.1M31.9 49.1h.1M47.3 15.2h.1M43.4 27.7h.1M36.9 32.3h.1M38.2 35.1h.1M35.0 37.2h.1M31.7 39.5h.1M12.5 47.2h.1M24.5 51.4h.1M24.9 58.7h.1M28.9 81.9h.1M26.0 85.9h.1M19.3 61.5h.1M30.0 60.4h.1"/></g><g transform="translate(123.7 10.0)"><line x1="11.4" y1="0" x2="11.4" y2="132.4" class="gr"/><line x1="36.5" y1="0" x2="36.5" y2="132.4" class="gr"/><line x1="61.5" y1="0" x2="61.5" y2="132.4" class="gr"/><line x1="86.6" y1="0" x2="86.6" y2="132.4" class="gr"/><line x1="0" y1="6.0" x2="105.2" y2="6.0" class="gr"/><line x1="0" y1="35.8" x2="105.2" y2="35.8" class="gr"/><line x1="0" y1="65.6" x2="105.2" y2="65.6" class="gr"/><line x1="0" y1="95.4" x2="105.2" y2="95.4" class="gr"/><line x1="0" y1="125.2" x2="105.2" y2="125.2" class="gr"/><path stroke="#ff0a14" d="M51.6 24.1h.1M52.6 24.7h.1M47.9 27.1h.1M51.1 28.5h.1M50.9 26.9h.1M50.1 25.3h.1M56.5 29.4h.1M45.8 30.0h.1M52.6 30.7h.1M51.8 32.4h.1M53.6 30.8h.1M55.6 34.1h.1M62.6 34.5h.1M45.2 39.1h.1M46.3 37.7h.1M46.7 39.4h.1M47.4 39.5h.1M52.1 37.8h.1M55.1 37.2h.1M64.0 35.8h.1M60.2 39.4h.1M64.6 36.7h.1M84.9 39.7h.1M38.2 42.8h.1M40.0 44.1h.1M44.4 41.7h.1M44.9 44.2h.1M52.2 41.2h.1M51.4 42.4h.1M52.0 40.0h.1M58.1 43.2h.1M59.7 40.7h.1M67.0 42.7h.1M67.8 40.3h.1M81.8 42.3h.1M84.2 41.1h.1M82.4 40.7h.1M88.6 42.5h.1M84.5 42.5h.1M89.7 43.7h.1M39.1 45.6h.1M40.2 46.0h.1M40.0 46.2h.1M45.9 46.2h.1M44.7 48.5h.1M54.1 48.2h.1M51.0 45.6h.1M57.5 45.1h.1M59.3 48.5h.1M61.1 49.1h.1M69.5 46.4h.1M71.3 49.8h.1M79.3 46.0h.1M79.7 47.1h.1M79.7 45.2h.1M88.5 48.7h.1M88.6 48.9h.1M87.5 46.6h.1M86.1 46.8h.1M88.4 45.4h.1M88.9 49.9h.1M91.6 48.1h.1M92.9 48.7h.1M90.5 46.2h.1M40.0 52.0h.1M48.1 51.0h.1M52.6 54.1h.1M50.4 51.1h.1M62.3 53.1h.1M73.4 52.6h.1M77.0 54.6h.1M83.9 50.5h.1M85.2 51.1h.1M87.4 51.0h.1M87.6 52.4h.1M85.2 54.7h.1M91.7 54.7h.1M93.4 50.1h.1M93.9 53.9h.1M95.6 50.5h.1M96.2 53.7h.1M98.4 52.6h.1M36.7 58.6h.1M48.3 56.0h.1M46.3 56.6h.1M49.3 57.5h.1M58.0 58.9h.1M59.0 57.5h.1M57.2 58.8h.1M61.1 55.8h.1M68.9 56.2h.1M65.5 56.5h.1M65.3 55.8h.1M71.4 59.9h.1M73.5 58.5h.1M77.7 57.3h.1M82.9 57.0h.1M83.3 55.6h.1M86.6 58.5h.1M86.3 56.3h.1M85.6 58.7h.1M86.5 56.1h.1M86.3 58.2h.1M88.6 59.1h.1M86.8 56.5h.1M90.8 56.9h.1M93.1 56.4h.1M93.7 58.2h.1M89.6 55.1h.1M95.7 58.9h.1M96.2 55.8h.1M99.0 59.0h.1M97.5 58.9h.1M95.7 55.7h.1M36.2 64.3h.1M48.0 63.0h.1M47.9 61.1h.1M51.7 63.2h.1M52.3 60.2h.1M57.5 64.7h.1M64.3 63.6h.1M59.6 60.1h.1M59.9 61.6h.1M68.0 64.1h.1M72.9 63.0h.1M73.8 62.9h.1M69.9 62.8h.1M78.5 62.3h.1M79.6 60.2h.1M88.6 64.8h.1M86.8 64.7h.1M87.5 62.0h.1M85.8 62.8h.1M87.7 64.8h.1M94.2 63.4h.1M97.9 60.1h.1M94.7 64.6h.1M95.6 64.7h.1M95.8 62.1h.1M35.8 66.0h.1M45.4 68.9h.1M47.6 68.5h.1M48.6 67.9h.1M48.2 67.0h.1M48.1 65.3h.1M49.6 69.6h.1M50.3 66.9h.1M57.1 67.7h.1M59.3 66.1h.1M62.5 67.9h.1M62.1 68.5h.1M60.0 69.3h.1M63.1 65.2h.1M63.8 65.7h.1M66.4 67.1h.1M65.7 66.7h.1M71.3 67.7h.1M73.4 69.7h.1M69.7 68.2h.1M74.1 68.1h.1M92.2 68.1h.1M95.3 65.3h.1M96.3 68.4h.1M38.2 73.7h.1M40.1 74.4h.1M42.4 72.5h.1M48.4 74.2h.1M52.1 73.4h.1M51.4 71.8h.1M56.7 73.1h.1M62.9 74.1h.1M62.0 70.9h.1M63.0 70.0h.1M67.8 71.0h.1M74.0 72.9h.1M74.3 72.2h.1M73.8 71.6h.1M74.3 72.5h.1M35.1 79.1h.1M40.8 79.2h.1M40.1 77.2h.1M43.7 79.0h.1M43.1 76.9h.1M47.5 76.1h.1M48.9 75.6h.1M55.1 78.6h.1M54.6 78.4h.1M62.4 78.6h.1M65.1 79.0h.1M65.9 75.4h.1M72.1 79.6h.1M76.2 79.1h.1M36.7 80.9h.1M43.2 81.6h.1M46.3 82.8h.1M45.7 80.2h.1M57.1 82.1h.1M59.0 80.8h.1M59.4 84.5h.1M61.0 81.7h.1M60.4 83.4h.1M62.4 82.1h.1M65.8 80.5h.1M66.5 80.4h.1M73.1 80.5h.1M78.1 80.2h.1M30.4 87.8h.1M35.3 87.5h.1M49.4 85.2h.1M45.2 88.4h.1M51.3 86.4h.1M52.7 86.8h.1M56.2 89.6h.1M57.4 85.4h.1M63.0 86.1h.1M72.9 86.7h.1M33.3 93.9h.1M30.6 93.8h.1M39.2 91.8h.1M39.4 92.5h.1M41.7 91.2h.1M45.3 94.3h.1M45.5 94.4h.1M54.1 90.8h.1M50.3 93.4h.1M50.0 91.7h.1M49.7 91.2h.1M54.6 95.0h.1M59.1 91.7h.1M62.3 91.8h.1M71.4 92.0h.1M70.7 91.0h.1M72.2 91.6h.1M30.6 98.1h.1M30.8 99.5h.1M31.8 98.2h.1M35.1 95.8h.1M39.5 98.5h.1M36.7 97.4h.1M38.5 98.8h.1M36.3 97.6h.1M35.4 98.6h.1M42.7 99.3h.1M41.4 97.9h.1M46.8 99.2h.1M46.6 97.4h.1M52.1 99.1h.1M55.2 96.7h.1M56.0 99.3h.1M60.5 95.3h.1M33.5 103.0h.1M31.8 104.7h.1M32.7 100.2h.1M33.8 100.4h.1M39.0 103.4h.1M43.7 100.8h.1M43.5 104.9h.1M43.1 102.1h.1M44.1 105.0h.1M45.2 101.4h.1M52.3 103.9h.1M49.7 102.6h.1M50.2 102.9h.1M56.9 100.7h.1M55.1 102.5h.1M56.8 100.8h.1M56.3 101.0h.1M59.6 104.7h.1M32.5 109.9h.1M31.8 109.6h.1M37.9 105.8h.1M43.4 105.5h.1M54.2 109.5h.1M56.5 105.4h.1M56.2 108.0h.1M58.7 109.0h.1M60.6 106.8h.1M61.0 105.4h.1M52.7 111.4h.1M31.9 117.8h.1M37.1 116.4h.1M38.4 115.2h.1M33.5 121.7h.1M37.0 124.5h.1M20.3 55.3h.1M31.8 70.1h.1M26.0 52.0h.1M19.0 51.0h.1M22.6 51.1h.1M30.4 59.6h.1M30.6 59.4h.1M31.9 9.4h.1M26.9 28.6h.1M45.6 12.6h.1M5.7 47.2h.1M19.8 47.4h.1M4.6 49.4h.1M3.8 51.4h.1M28.3 54.4h.1M17.3 55.9h.1M30.0 66.1h.1M26.6 75.2h.1M31.7 85.9h.1M91.7 74.4h.1M82.9 70.7h.1M29.4 65.5h.1M33.4 64.9h.1M20.4 61.0h.1M26.6 62.7h.1M38.8 32.2h.1M17.6 36.7h.1M30.0 40.4h.1M22.1 54.0h.1M29.4 56.4h.1"/><path stroke="#2a5ecf" d="M52.4 22.0h.1M54.7 24.3h.1M51.8 29.2h.1M52.8 25.1h.1M57.2 29.4h.1M49.6 37.2h.1M61.2 36.0h.1M44.8 40.6h.1M54.3 41.5h.1M56.4 41.6h.1M84.2 40.1h.1M88.9 43.5h.1M41.2 45.3h.1M76.3 49.1h.1M79.8 49.6h.1M80.9 49.8h.1M81.9 49.8h.1M40.0 50.8h.1M66.8 50.9h.1M82.3 52.9h.1M80.8 55.0h.1M82.4 51.8h.1M80.2 53.1h.1M86.5 51.3h.1M93.7 53.7h.1M43.6 59.1h.1M46.7 58.9h.1M46.2 58.5h.1M52.0 55.5h.1M55.7 57.3h.1M62.4 55.6h.1M74.3 55.5h.1M76.1 58.1h.1M82.7 59.1h.1M82.1 57.1h.1M90.8 57.1h.1M38.1 63.1h.1M41.0 64.1h.1M76.9 62.9h.1M80.5 60.9h.1M87.3 61.3h.1M44.9 65.4h.1M59.3 67.5h.1M68.6 69.2h.1M69.3 69.7h.1M70.2 69.8h.1M90.7 66.1h.1M52.0 74.6h.1M57.9 72.6h.1M56.5 72.8h.1M57.1 70.6h.1M63.4 71.5h.1M36.5 75.3h.1M48.0 76.3h.1M61.4 75.2h.1M61.1 78.2h.1M73.0 77.1h.1M75.3 78.3h.1M34.9 80.1h.1M35.0 82.4h.1M57.3 81.7h.1M63.9 80.1h.1M67.4 80.4h.1M66.7 84.3h.1M34.6 86.7h.1M44.6 87.3h.1M65.5 88.7h.1M71.1 85.5h.1M29.5 92.4h.1M32.9 96.6h.1M47.0 99.5h.1M57.4 100.0h.1M55.8 96.6h.1M42.4 101.6h.1M40.6 102.7h.1M36.2 109.9h.1M53.4 109.4h.1M57.9 108.6h.1M36.3 119.7h.1M32.2 122.6h.1M32.8 124.5h.1M32.0 124.3h.1M28.7 51.1h.1M31.4 49.0h.1M33.9 15.8h.1M32.0 24.3h.1M29.7 52.2h.1"/><path stroke="#2a5ecf" d="M50.1 21.1h.1M45.7 27.9h.1M52.8 25.3h.1M46.3 30.1h.1M45.7 37.9h.1M54.1 37.5h.1M63.1 38.3h.1M50.8 40.4h.1M63.6 40.7h.1M64.0 43.4h.1M68.1 41.0h.1M81.0 42.6h.1M39.4 46.3h.1M55.7 46.2h.1M57.0 48.4h.1M63.2 47.5h.1M71.2 45.8h.1M78.6 47.2h.1M37.8 51.0h.1M49.8 54.6h.1M75.5 51.3h.1M77.0 51.6h.1M80.8 53.2h.1M85.7 50.7h.1M88.9 53.9h.1M92.2 52.0h.1M93.1 50.0h.1M40.9 55.5h.1M46.1 57.1h.1M71.8 55.7h.1M77.6 56.3h.1M83.1 57.6h.1M90.1 59.2h.1M97.8 59.5h.1M41.7 62.1h.1M59.9 63.1h.1M63.1 60.8h.1M64.8 64.9h.1M66.2 63.0h.1M74.0 64.0h.1M81.4 60.5h.1M89.7 61.3h.1M90.2 63.8h.1M55.8 69.1h.1M54.7 65.5h.1M90.7 65.4h.1M47.5 71.9h.1M46.4 71.6h.1M47.0 72.2h.1M61.6 70.8h.1M67.4 72.1h.1M76.9 74.0h.1M45.5 79.8h.1M57.8 76.8h.1M64.1 78.7h.1M76.3 76.0h.1M39.4 82.8h.1M40.8 81.2h.1M45.3 81.5h.1M58.8 84.9h.1M59.3 83.1h.1M67.2 81.3h.1M72.6 84.4h.1M39.9 86.6h.1M68.8 88.2h.1M71.2 87.5h.1M30.9 92.6h.1M43.2 90.3h.1M48.8 91.3h.1M56.1 94.4h.1M55.2 93.7h.1M71.1 93.2h.1M56.6 95.3h.1M29.8 102.2h.1M35.2 104.6h.1M35.5 100.5h.1M39.7 104.2h.1M41.4 103.2h.1M51.2 102.2h.1M58.7 104.4h.1M61.9 104.0h.1M35.7 108.7h.1M56.8 106.2h.1M63.6 105.9h.1M39.3 111.8h.1M34.0 117.3h.1M36.6 119.0h.1M32.8 122.9h.1M22.8 62.2h.1M29.4 61.0h.1M22.5 67.7h.1M41.4 26.5h.1M36.6 32.5h.1M17.8 36.8h.1M32.2 69.5h.1M27.2 82.5h.1"/><path stroke="#ff0a14" d="M49.7 22.2h.1M47.2 25.3h.1M46.1 27.9h.1M53.3 25.8h.1M52.4 29.4h.1M52.5 27.9h.1M53.0 28.2h.1M55.1 26.2h.1M54.9 27.2h.1M47.6 33.4h.1M48.4 34.4h.1M47.7 30.3h.1M44.8 30.0h.1M53.7 35.0h.1M52.1 34.9h.1M57.1 31.8h.1M59.9 33.3h.1M43.4 36.7h.1M53.5 35.9h.1M53.4 35.5h.1M57.1 38.5h.1M56.9 39.7h.1M58.0 39.4h.1M59.2 36.3h.1M60.7 35.4h.1M61.9 39.9h.1M63.7 35.8h.1M87.3 39.6h.1M42.0 43.4h.1M48.0 43.2h.1M46.5 41.7h.1M44.9 43.7h.1M48.9 43.4h.1M45.9 41.2h.1M46.0 42.3h.1M51.5 40.2h.1M59.4 40.7h.1M63.7 44.0h.1M69.9 40.7h.1M80.8 41.0h.1M85.7 44.5h.1M89.5 42.9h.1M37.8 46.5h.1M41.6 47.1h.1M40.1 47.5h.1M49.3 49.2h.1M49.0 47.4h.1M47.4 45.0h.1M52.9 49.7h.1M53.1 48.2h.1M52.3 45.2h.1M53.0 45.6h.1M58.9 47.4h.1M56.0 45.1h.1M57.8 49.6h.1M55.6 45.2h.1M60.7 46.1h.1M67.8 49.7h.1M65.2 47.0h.1M71.5 49.5h.1M83.6 48.8h.1M80.8 48.7h.1M83.1 46.6h.1M80.9 45.0h.1M83.3 49.6h.1M84.3 46.9h.1M85.5 48.8h.1M85.8 45.4h.1M91.0 47.8h.1M91.1 47.0h.1M37.5 53.1h.1M35.6 51.8h.1M37.9 50.9h.1M42.3 53.2h.1M43.0 52.0h.1M46.5 54.4h.1M46.8 50.8h.1M46.4 52.5h.1M45.2 51.4h.1M52.0 54.0h.1M50.1 54.7h.1M54.4 52.4h.1M54.7 52.8h.1M62.8 52.2h.1M61.7 50.1h.1M62.6 52.4h.1M69.9 53.7h.1M69.8 52.5h.1M70.2 54.3h.1M74.5 53.7h.1M74.3 54.6h.1M78.6 50.7h.1M75.3 54.7h.1M75.3 53.9h.1M84.5 53.1h.1M80.4 53.7h.1M84.4 52.9h.1M87.8 50.1h.1M85.0 51.8h.1M85.0 53.2h.1M92.5 52.5h.1M90.4 51.5h.1M95.8 53.2h.1M36.8 59.2h.1M38.0 58.2h.1M39.7 59.2h.1M45.9 58.6h.1M50.4 55.0h.1M50.5 58.8h.1M52.0 57.5h.1M53.7 56.3h.1M54.2 56.4h.1M58.9 55.1h.1M56.4 59.4h.1M61.7 58.9h.1M67.1 55.8h.1M73.2 59.5h.1M76.6 57.3h.1M84.4 55.2h.1M82.2 55.8h.1M82.1 55.5h.1M86.8 57.8h.1M91.3 59.3h.1M90.4 55.0h.1M90.7 56.5h.1M93.6 59.5h.1M96.7 59.4h.1M41.1 61.5h.1M43.1 64.4h.1M47.8 63.9h.1M49.0 63.1h.1M47.6 63.1h.1M48.3 60.5h.1M51.3 64.1h.1M51.6 61.6h.1M50.1 64.1h.1M59.4 62.4h.1M54.5 63.4h.1M63.4 63.6h.1M62.8 64.1h.1M69.2 63.9h.1M67.3 61.5h.1M73.7 63.0h.1M70.9 60.0h.1M70.8 62.1h.1M73.5 63.4h.1M79.2 61.2h.1M83.0 61.8h.1M85.8 60.2h.1M87.3 64.4h.1M90.3 64.8h.1M94.4 60.3h.1M91.1 61.3h.1M36.9 66.4h.1M36.3 70.0h.1M39.5 69.6h.1M35.0 66.4h.1M39.0 65.3h.1M41.0 69.9h.1M39.5 69.2h.1M48.1 66.0h.1M47.5 67.5h.1M50.8 65.9h.1M53.7 66.8h.1M52.1 67.2h.1M97.3 67.5h.1M96.7 68.7h.1M41.9 73.9h.1M39.5 73.8h.1M44.3 72.9h.1M48.1 71.5h.1M51.1 74.2h.1M50.5 72.1h.1M52.5 71.8h.1M59.5 71.7h.1M55.4 71.6h.1M60.4 73.2h.1M62.5 71.8h.1M59.7 72.1h.1M67.0 72.8h.1M65.1 70.8h.1M67.1 74.1h.1M71.3 70.8h.1M70.8 70.5h.1M71.2 72.2h.1M71.4 70.3h.1M72.6 71.2h.1M35.7 75.2h.1M37.8 76.7h.1M43.0 75.5h.1M47.0 76.1h.1M46.4 78.3h.1M51.1 76.9h.1M52.0 76.5h.1M65.6 79.6h.1M68.2 75.4h.1M68.2 79.1h.1M69.7 78.5h.1M72.7 77.7h.1M79.2 76.8h.1M76.0 79.4h.1M39.5 84.6h.1M48.6 81.6h.1M47.4 80.4h.1M57.8 84.1h.1M56.0 82.2h.1M61.7 80.4h.1M62.8 81.9h.1M65.1 80.9h.1M65.1 82.6h.1M69.8 81.2h.1M72.5 81.1h.1M71.6 84.4h.1M76.2 83.8h.1M77.5 80.5h.1M30.1 89.0h.1M37.2 88.4h.1M43.9 88.1h.1M42.4 85.2h.1M49.3 90.0h.1M48.4 89.4h.1M54.2 88.4h.1M51.1 89.9h.1M50.7 86.2h.1M56.7 87.8h.1M56.0 85.8h.1M61.6 89.3h.1M59.8 87.4h.1M64.0 86.4h.1M69.8 87.1h.1M71.8 85.1h.1M34.4 92.3h.1M29.9 90.1h.1M44.1 94.7h.1M42.6 91.1h.1M40.5 93.8h.1M42.7 91.5h.1M44.5 91.1h.1M48.3 94.1h.1M45.9 91.7h.1M46.3 93.9h.1M48.8 90.9h.1M54.4 90.0h.1M57.0 91.2h.1M56.7 90.5h.1M55.2 92.1h.1M59.8 90.2h.1M68.9 93.6h.1M66.5 91.6h.1M72.6 91.9h.1M28.2 99.3h.1M33.6 99.5h.1M31.4 99.2h.1M35.8 95.5h.1M34.9 97.0h.1M35.2 98.4h.1M43.5 98.1h.1M41.7 96.8h.1M43.1 96.5h.1M41.5 98.2h.1M43.6 96.8h.1M48.1 96.9h.1M51.5 95.2h.1M50.1 96.1h.1M49.9 99.1h.1M53.3 97.8h.1M58.6 99.4h.1M55.8 99.3h.1M57.3 97.6h.1M32.3 101.6h.1M31.0 103.6h.1M37.0 103.4h.1M37.8 101.3h.1M42.3 100.8h.1M47.1 101.5h.1M44.7 103.0h.1M57.2 100.6h.1M57.2 102.5h.1M62.4 103.4h.1M29.7 108.1h.1M33.0 109.1h.1M35.5 106.1h.1M42.6 109.2h.1M51.7 109.1h.1M52.2 109.7h.1M58.5 108.4h.1M61.6 108.0h.1M61.7 108.3h.1M63.5 105.6h.1M34.3 112.5h.1M31.8 114.0h.1M30.8 111.8h.1M37.3 114.3h.1M39.1 114.5h.1M37.8 110.4h.1M41.1 110.7h.1M58.0 111.4h.1M63.9 110.8h.1M61.0 111.9h.1M60.4 111.5h.1M31.4 119.8h.1M30.8 116.0h.1M36.3 119.6h.1M38.6 117.8h.1M27.0 49.3h.1M14.1 59.8h.1M29.7 74.4h.1M27.0 53.2h.1M20.7 50.1h.1M33.2 69.9h.1M30.8 59.8h.1M15.0 62.5h.1M26.0 56.7h.1M25.2 25.1h.1M33.9 26.9h.1M45.0 4.7h.1M45.6 15.2h.1M53.5 19.8h.1M38.5 24.3h.1M5.3 36.8h.1M12.5 40.0h.1M27.2 40.4h.1M10.8 52.0h.1M19.3 58.7h.1M33.4 61.5h.1M30.0 58.1h.1M27.2 68.9h.1M38.9 31.6h.1M11.8 38.3h.1M11.9 39.0h.1M6.3 50.2h.1M33.4 55.9h.1M18.1 65.6h.1M26.6 71.8h.1M67.8 38.4h.1M89.1 66.9h.1"/><path stroke="#ff0a14" d="M47.7 26.9h.1M46.8 26.5h.1M47.1 29.4h.1M49.4 25.6h.1M54.5 29.1h.1M46.6 31.8h.1M47.3 34.8h.1M46.5 30.5h.1M44.8 31.0h.1M45.3 31.7h.1M49.9 30.5h.1M52.1 30.7h.1M50.3 33.9h.1M59.4 34.3h.1M58.2 31.1h.1M55.9 31.3h.1M58.0 34.8h.1M59.4 34.8h.1M62.8 34.0h.1M44.2 38.6h.1M49.0 39.0h.1M49.4 38.3h.1M45.2 35.1h.1M49.4 38.2h.1M45.8 36.5h.1M45.8 37.1h.1M50.4 35.0h.1M51.9 38.6h.1M52.3 36.2h.1M56.8 37.7h.1M57.3 39.7h.1M62.8 38.9h.1M61.7 37.6h.1M64.8 39.9h.1M84.9 35.3h.1M41.7 42.5h.1M45.8 40.8h.1M51.3 40.0h.1M50.7 42.9h.1M58.1 44.4h.1M54.7 44.2h.1M63.6 42.9h.1M61.3 40.5h.1M63.7 42.8h.1M80.1 44.5h.1M86.9 40.1h.1M89.1 43.6h.1M86.4 42.0h.1M36.9 46.7h.1M36.0 48.7h.1M35.3 45.8h.1M35.5 49.5h.1M37.0 46.1h.1M39.0 50.0h.1M40.0 46.7h.1M40.8 47.8h.1M43.9 48.7h.1M42.1 46.9h.1M40.9 49.8h.1M46.5 47.2h.1M48.6 49.3h.1M45.0 45.8h.1M56.6 46.3h.1M60.5 49.0h.1M66.0 49.8h.1M67.0 45.9h.1M65.6 47.1h.1M69.8 45.3h.1M71.1 45.9h.1M76.4 49.6h.1M86.6 47.5h.1M85.7 45.3h.1M86.1 49.9h.1M88.0 47.2h.1M90.1 49.2h.1M91.4 48.7h.1M35.2 51.0h.1M35.8 53.0h.1M40.5 54.0h.1M44.3 51.6h.1M41.6 54.3h.1M44.6 52.8h.1M51.4 54.5h.1M50.3 53.9h.1M50.6 52.0h.1M53.7 54.1h.1M55.1 51.2h.1M58.3 50.2h.1M61.0 52.1h.1M62.4 52.1h.1M68.3 53.9h.1M79.0 51.4h.1M79.7 54.1h.1M82.8 51.6h.1M79.5 50.2h.1M85.6 52.9h.1M84.6 53.2h.1M93.2 51.2h.1M90.7 50.3h.1M92.3 54.7h.1M92.7 54.1h.1M38.0 59.3h.1M43.2 55.3h.1M40.5 55.6h.1M48.8 58.1h.1M47.2 56.1h.1M53.5 55.9h.1M54.9 58.9h.1M59.0 55.4h.1M55.5 56.3h.1M62.7 56.7h.1M63.7 58.3h.1M63.2 55.8h.1M68.0 59.2h.1M65.7 56.6h.1M71.7 56.0h.1M71.7 57.9h.1M78.8 58.4h.1M78.4 58.6h.1M82.4 57.7h.1M85.6 59.0h.1M88.5 58.2h.1M91.9 57.1h.1M98.4 59.2h.1M97.2 58.7h.1M97.0 55.3h.1M99.9 58.2h.1M39.0 60.2h.1M42.3 64.1h.1M41.5 62.5h.1M40.9 62.5h.1M44.4 63.3h.1M43.5 61.7h.1M49.1 63.0h.1M47.8 62.3h.1M45.4 60.2h.1M54.1 63.3h.1M54.2 60.3h.1M55.1 64.8h.1M54.9 64.3h.1M63.0 62.3h.1M66.3 62.9h.1M66.3 63.2h.1M67.6 62.1h.1M66.4 63.9h.1M73.9 61.9h.1M72.4 64.1h.1M73.9 60.2h.1M73.7 64.1h.1M70.9 64.3h.1M84.9 60.3h.1M89.0 60.3h.1M91.0 63.0h.1M90.1 62.4h.1M90.3 61.2h.1M98.1 61.0h.1M98.8 64.4h.1M95.2 62.2h.1M95.0 64.6h.1M98.7 63.1h.1M95.2 64.4h.1M41.2 65.7h.1M42.1 65.9h.1M53.1 69.1h.1M57.2 65.1h.1M58.0 66.0h.1M60.2 68.0h.1M60.3 69.1h.1M73.9 69.4h.1M70.9 67.7h.1M92.5 67.9h.1M91.8 66.6h.1M92.1 66.9h.1M92.4 65.1h.1M95.3 66.7h.1M38.6 72.6h.1M43.0 74.6h.1M48.4 74.4h.1M46.5 72.8h.1M47.4 70.4h.1M54.1 70.1h.1M49.7 72.8h.1M57.4 74.4h.1M59.3 72.4h.1M59.4 74.1h.1M64.5 73.2h.1M68.7 72.9h.1M67.2 75.0h.1M68.3 70.5h.1M69.6 73.9h.1M71.1 73.6h.1M74.0 72.9h.1M69.7 74.7h.1M74.0 74.1h.1M71.0 73.0h.1M75.7 71.9h.1M36.3 76.2h.1M53.8 76.6h.1M58.9 79.3h.1M55.2 76.4h.1M58.0 76.2h.1M60.4 75.6h.1M59.7 75.8h.1M68.7 78.9h.1M68.8 78.0h.1M70.7 75.3h.1M71.3 77.1h.1M75.2 77.8h.1M75.1 76.4h.1M42.7 83.1h.1M43.4 84.2h.1M44.1 80.8h.1M46.3 84.2h.1M49.0 84.7h.1M54.3 80.4h.1M56.1 82.3h.1M62.5 81.5h.1M68.9 82.7h.1M65.1 84.3h.1M66.9 82.8h.1M70.1 85.0h.1M70.4 84.8h.1M72.3 83.9h.1M71.4 80.1h.1M73.9 80.8h.1M30.5 87.2h.1M33.7 87.9h.1M30.1 85.1h.1M31.0 88.4h.1M38.5 89.7h.1M42.9 87.0h.1M41.9 85.8h.1M40.6 89.5h.1M40.3 86.8h.1M41.4 86.8h.1M47.0 86.3h.1M51.0 88.8h.1M52.3 87.0h.1M49.8 86.7h.1M55.2 85.0h.1M54.8 86.5h.1M57.3 89.7h.1M55.4 87.9h.1M59.4 86.8h.1M60.3 86.3h.1M65.5 88.0h.1M69.3 88.0h.1M65.2 85.9h.1M65.6 86.6h.1M68.2 88.2h.1M69.7 88.1h.1M72.5 86.3h.1M72.6 88.6h.1M70.3 85.7h.1M30.8 93.6h.1M31.0 93.9h.1M34.2 90.7h.1M32.8 93.9h.1M31.3 94.9h.1M37.3 90.9h.1M38.4 91.2h.1M40.8 91.3h.1M53.2 90.5h.1M54.1 93.6h.1M53.9 94.9h.1M55.4 93.4h.1M57.0 90.6h.1M63.2 91.4h.1M62.0 92.0h.1M69.7 93.5h.1M27.6 98.7h.1M31.9 98.6h.1M32.1 97.6h.1M33.6 96.2h.1M36.3 99.0h.1M34.6 96.0h.1M37.4 95.3h.1M43.7 95.5h.1M40.5 97.1h.1M45.5 99.9h.1M46.4 97.6h.1M53.1 97.4h.1M58.0 97.1h.1M59.4 96.4h.1M32.2 102.0h.1M30.9 104.0h.1M35.6 104.2h.1M35.3 100.3h.1M41.5 100.2h.1M40.0 102.3h.1M45.0 102.4h.1M49.3 101.7h.1M50.4 103.9h.1M51.0 100.3h.1M50.0 103.2h.1M55.0 104.4h.1M60.5 100.6h.1M62.0 104.5h.1M29.9 107.9h.1M31.2 109.1h.1M29.6 109.7h.1M53.7 106.2h.1M57.0 109.5h.1M57.8 109.2h.1M62.9 105.2h.1M34.3 111.8h.1M30.6 114.4h.1M32.6 114.5h.1M34.4 110.9h.1M33.7 110.8h.1M37.6 112.2h.1M36.4 112.6h.1M57.9 111.9h.1M56.2 110.7h.1M61.1 110.3h.1M31.7 115.5h.1M33.7 118.2h.1M33.4 116.6h.1M37.7 116.3h.1M35.8 116.2h.1M38.3 118.4h.1M35.1 116.5h.1M34.2 123.7h.1M31.2 122.0h.1M31.5 48.4h.1M25.6 51.8h.1M30.7 51.5h.1M29.2 63.1h.1M21.7 60.9h.1M28.2 67.0h.1M28.6 75.2h.1M29.0 46.9h.1M32.4 67.4h.1M24.2 51.5h.1M19.9 64.4h.1M18.9 19.5h.1M47.3 6.8h.1M38.8 13.8h.1M52.4 21.5h.1M10.5 42.9h.1M30.0 43.5h.1M11.4 48.0h.1M25.2 49.7h.1M17.6 67.8h.1M25.5 66.7h.1M24.3 73.5h.1M26.0 76.3h.1M29.4 79.1h.1M97.9 67.5h.1M93.5 70.0h.1M92.5 73.5h.1M18.7 64.9h.1M28.3 62.1h.1M32.2 59.3h.1M24.3 67.2h.1"/><path stroke="#2a5ecf" d="M48.5 28.5h.1M55.9 27.1h.1M44.8 34.5h.1M45.3 30.5h.1M51.2 31.3h.1M50.8 31.8h.1M45.2 39.6h.1M59.1 37.2h.1M58.7 35.7h.1M41.9 44.7h.1M43.7 42.0h.1M45.8 44.8h.1M81.8 44.1h.1M84.5 43.8h.1M53.4 46.2h.1M49.9 47.6h.1M61.6 48.4h.1M82.7 49.7h.1M79.6 46.2h.1M89.1 45.9h.1M84.7 47.8h.1M44.5 54.5h.1M74.4 52.5h.1M84.5 51.8h.1M87.3 51.8h.1M95.7 50.2h.1M37.4 56.5h.1M82.8 58.9h.1M81.4 57.4h.1M85.9 57.0h.1M93.8 55.3h.1M93.4 55.7h.1M95.0 55.7h.1M37.1 62.4h.1M37.1 63.9h.1M43.4 60.2h.1M63.8 62.4h.1M82.1 60.7h.1M94.0 64.2h.1M89.7 63.9h.1M52.1 65.6h.1M66.5 69.7h.1M53.4 72.7h.1M45.9 78.9h.1M52.3 76.8h.1M55.9 77.0h.1M73.6 78.1h.1M73.5 76.3h.1M72.9 76.2h.1M77.5 77.3h.1M49.7 82.2h.1M49.5 84.2h.1M55.5 80.4h.1M64.9 89.0h.1M67.7 89.6h.1M74.4 85.3h.1M35.3 90.1h.1M37.7 91.7h.1M36.1 94.5h.1M42.3 92.0h.1M45.3 93.4h.1M47.4 94.4h.1M29.5 96.2h.1M30.4 99.1h.1M41.0 101.2h.1M52.3 100.5h.1M59.2 109.1h.1M54.5 107.4h.1M61.8 106.7h.1M60.9 108.5h.1M52.4 110.2h.1M31.5 122.9h.1M15.6 59.1h.1M23.0 55.6h.1M16.9 57.5h.1M16.5 56.0h.1M39.4 22.6h.1M31.8 38.7h.1M7.6 50.2h.1M9.9 54.2h.1M30.0 73.5h.1M96.7 69.4h.1M82.2 77.6h.1M31.1 67.7h.1"/><path stroke="#2a5ecf" d="M48.0 32.6h.1M48.5 32.0h.1M53.8 33.5h.1M58.4 31.6h.1M84.9 39.3h.1M64.9 41.3h.1M86.8 41.5h.1M35.9 45.2h.1M48.9 45.1h.1M49.4 46.2h.1M50.8 48.2h.1M65.6 49.9h.1M82.6 46.3h.1M35.8 53.9h.1M39.2 50.5h.1M44.5 51.8h.1M47.1 54.6h.1M54.3 51.0h.1M57.1 51.9h.1M58.7 50.6h.1M71.4 54.8h.1M70.3 53.9h.1M90.2 51.0h.1M35.2 55.1h.1M44.0 55.3h.1M44.2 55.5h.1M43.6 58.2h.1M50.6 58.5h.1M70.4 59.9h.1M78.4 58.5h.1M91.3 59.6h.1M36.3 62.4h.1M42.4 63.2h.1M53.4 62.8h.1M52.4 64.6h.1M57.7 61.1h.1M55.3 60.1h.1M55.1 60.1h.1M65.2 64.0h.1M71.0 62.1h.1M74.1 61.7h.1M75.5 63.8h.1M75.8 63.8h.1M78.4 61.2h.1M91.3 64.5h.1M98.1 62.8h.1M47.4 65.7h.1M51.9 69.4h.1M55.4 65.5h.1M60.1 67.5h.1M68.7 67.6h.1M64.8 67.6h.1M70.8 68.4h.1M92.8 66.0h.1M95.0 66.1h.1M45.4 71.5h.1M75.7 70.9h.1M49.9 75.9h.1M64.7 76.2h.1M68.0 77.0h.1M69.2 77.1h.1M71.8 75.3h.1M70.5 76.6h.1M39.5 83.8h.1M47.3 83.1h.1M47.0 82.5h.1M50.5 83.6h.1M53.8 83.9h.1M73.1 83.8h.1M35.2 89.4h.1M43.7 87.0h.1M41.8 87.9h.1M60.8 85.1h.1M68.9 86.7h.1M67.2 89.4h.1M34.8 92.5h.1M46.9 94.5h.1M47.5 92.3h.1M56.3 92.5h.1M64.3 94.4h.1M67.2 92.7h.1M37.1 97.3h.1M41.1 96.2h.1M49.0 97.2h.1M39.3 102.1h.1M44.1 101.6h.1M48.8 103.0h.1M52.5 102.3h.1M59.2 101.7h.1M29.8 106.2h.1M53.4 106.3h.1M37.9 114.5h.1M37.0 111.8h.1M39.4 110.3h.1M33.4 67.0h.1M47.3 15.2h.1M38.2 35.1h.1M12.5 47.2h.1M28.9 81.9h.1M26.0 85.9h.1M30.0 60.4h.1"/><path stroke="#ff0a14" d="M48.1 26.4h.1M51.9 25.2h.1M52.8 28.8h.1M54.2 27.4h.1M51.8 25.8h.1M50.8 31.7h.1M51.3 30.6h.1M49.6 34.8h.1M52.2 30.1h.1M58.5 34.1h.1M54.6 30.1h.1M56.7 34.7h.1M43.5 39.9h.1M47.1 39.7h.1M48.6 36.1h.1M46.3 37.3h.1M52.2 37.6h.1M52.3 36.6h.1M50.9 38.9h.1M57.3 38.8h.1M57.6 37.5h.1M64.3 36.1h.1M64.3 37.0h.1M68.4 39.9h.1M84.1 39.1h.1M84.8 39.3h.1M38.3 41.4h.1M45.3 42.2h.1M52.0 41.0h.1M49.6 41.5h.1M52.1 43.8h.1M59.0 43.1h.1M62.1 42.5h.1M63.0 41.1h.1M62.6 43.1h.1M62.9 42.4h.1M68.5 43.7h.1M68.2 41.3h.1M70.8 43.7h.1M83.0 43.4h.1M80.5 44.9h.1M84.3 42.2h.1M85.2 41.7h.1M86.1 44.2h.1M37.3 47.0h.1M42.6 49.3h.1M46.5 49.6h.1M53.3 47.3h.1M52.4 46.9h.1M56.0 47.3h.1M59.3 48.2h.1M60.5 49.8h.1M69.7 48.3h.1M71.4 46.9h.1M84.0 46.7h.1M85.0 47.5h.1M90.7 45.8h.1M39.2 51.9h.1M38.8 52.2h.1M42.2 50.3h.1M40.9 51.5h.1M42.3 51.8h.1M46.6 54.1h.1M47.7 54.5h.1M44.9 53.1h.1M58.1 54.5h.1M66.9 50.5h.1M65.1 52.2h.1M65.0 52.2h.1M67.1 50.2h.1M78.3 50.8h.1M77.9 54.5h.1M75.1 52.7h.1M81.3 54.4h.1M81.5 54.0h.1M83.3 52.2h.1M87.1 54.5h.1M94.0 50.2h.1M91.0 50.2h.1M98.0 54.2h.1M97.3 52.2h.1M35.6 58.1h.1M36.2 55.7h.1M42.5 56.8h.1M43.8 59.6h.1M43.6 58.2h.1M44.6 56.3h.1M44.7 57.1h.1M50.0 59.1h.1M54.4 55.0h.1M52.0 56.7h.1M57.6 56.8h.1M56.5 57.0h.1M73.1 55.5h.1M73.5 58.7h.1M72.7 55.5h.1M70.5 56.9h.1M69.7 57.0h.1M72.0 58.2h.1M72.5 57.0h.1M76.6 56.1h.1M78.1 59.4h.1M75.0 57.1h.1M77.6 57.0h.1M84.2 55.9h.1M83.4 59.7h.1M84.2 56.1h.1M84.4 56.8h.1M84.6 57.1h.1M89.2 57.6h.1M85.1 58.9h.1M85.6 59.8h.1M92.7 58.3h.1M97.8 56.3h.1M95.3 59.5h.1M95.5 58.5h.1M97.3 56.3h.1M100.2 57.5h.1M44.7 61.5h.1M44.5 60.9h.1M50.8 61.5h.1M51.7 60.1h.1M56.6 60.5h.1M58.1 61.2h.1M58.2 60.9h.1M63.8 63.6h.1M64.2 61.3h.1M66.7 63.4h.1M76.8 61.0h.1M74.9 64.0h.1M82.3 62.0h.1M88.4 62.1h.1M89.2 63.8h.1M85.5 60.9h.1M87.8 62.0h.1M94.5 61.1h.1M93.0 63.2h.1M93.3 60.5h.1M96.8 61.7h.1M98.6 62.4h.1M97.6 60.7h.1M95.6 60.3h.1M39.6 69.0h.1M41.7 69.6h.1M45.9 66.0h.1M45.5 65.3h.1M51.2 69.2h.1M53.8 67.5h.1M52.5 65.0h.1M56.1 68.6h.1M56.4 68.8h.1M54.8 69.4h.1M62.0 66.4h.1M60.1 67.0h.1M62.4 68.7h.1M68.4 66.7h.1M66.7 69.9h.1M68.5 69.6h.1M65.7 67.1h.1M69.8 67.2h.1M72.0 65.1h.1M72.7 69.0h.1M87.2 65.7h.1M93.1 67.3h.1M96.0 68.9h.1M98.9 67.2h.1M94.8 66.9h.1M46.8 72.3h.1M45.2 72.9h.1M53.7 74.8h.1M54.5 72.6h.1M55.0 71.9h.1M57.2 74.1h.1M64.5 74.4h.1M60.9 72.6h.1M65.8 73.2h.1M65.0 70.9h.1M67.6 74.0h.1M76.0 74.4h.1M35.5 76.4h.1M40.3 76.8h.1M46.8 75.7h.1M49.0 77.9h.1M46.3 76.2h.1M47.1 77.7h.1M52.8 75.5h.1M56.1 76.1h.1M59.0 78.9h.1M56.6 78.3h.1M58.7 76.8h.1M63.1 75.2h.1M60.5 76.5h.1M60.4 79.2h.1M60.8 77.2h.1M62.9 76.7h.1M65.9 75.2h.1M73.0 78.7h.1M70.1 78.8h.1M72.2 79.8h.1M70.2 78.5h.1M77.1 77.2h.1M77.2 78.8h.1M78.3 79.2h.1M80.9 76.0h.1M34.9 83.6h.1M44.2 83.3h.1M40.2 80.1h.1M41.0 80.9h.1M42.7 84.2h.1M43.4 84.2h.1M48.6 83.5h.1M47.9 80.8h.1M51.6 81.4h.1M56.2 82.2h.1M59.8 83.4h.1M62.4 84.8h.1M61.9 83.2h.1M62.1 82.8h.1M65.6 82.9h.1M73.7 82.0h.1M70.2 83.9h.1M71.0 83.5h.1M72.3 84.6h.1M75.1 81.9h.1M38.9 89.0h.1M40.4 89.1h.1M47.4 86.7h.1M45.9 86.4h.1M47.3 87.6h.1M44.7 87.8h.1M48.4 88.2h.1M53.5 89.4h.1M53.2 87.5h.1M51.9 86.8h.1M58.9 87.3h.1M56.0 88.6h.1M74.1 87.8h.1M35.2 90.9h.1M38.2 94.6h.1M38.5 92.3h.1M42.7 92.0h.1M43.8 90.3h.1M54.5 91.5h.1M49.6 90.6h.1M53.5 93.4h.1M55.1 92.4h.1M60.4 91.3h.1M67.9 93.3h.1M69.5 93.0h.1M32.6 97.7h.1M32.1 97.4h.1M30.6 95.7h.1M34.1 97.6h.1M33.8 95.2h.1M35.7 96.9h.1M36.2 96.9h.1M41.4 95.2h.1M47.8 96.6h.1M44.9 98.8h.1M48.3 95.1h.1M47.5 97.3h.1M52.9 98.7h.1M52.9 97.8h.1M53.3 98.8h.1M50.0 95.4h.1M49.8 98.4h.1M57.1 95.0h.1M31.7 104.4h.1M32.5 100.9h.1M37.3 104.0h.1M37.9 101.5h.1M35.0 103.9h.1M42.9 100.6h.1M43.6 100.6h.1M47.2 100.4h.1M49.0 104.2h.1M52.8 100.3h.1M50.7 103.7h.1M56.4 103.3h.1M55.3 100.8h.1M60.7 104.4h.1M31.0 109.5h.1M30.7 108.0h.1M33.4 108.6h.1M36.5 105.4h.1M36.2 105.7h.1M42.0 108.9h.1M42.7 106.0h.1M53.2 109.2h.1M53.5 108.0h.1M56.5 108.9h.1M60.1 109.1h.1M63.7 108.1h.1M31.5 112.5h.1M32.1 110.0h.1M37.1 111.9h.1M37.8 113.2h.1M53.3 111.5h.1M63.2 110.9h.1M30.8 117.0h.1M32.9 118.8h.1M34.8 117.7h.1M33.0 128.1h.1M31.1 46.2h.1M17.7 64.5h.1M24.1 58.1h.1M18.6 62.4h.1M33.7 67.4h.1M21.3 70.2h.1M31.9 49.1h.1M43.4 27.7h.1M36.9 32.3h.1M35.0 37.2h.1M31.7 39.5h.1M24.5 51.4h.1M24.9 58.7h.1M19.3 61.5h.1M17.6 62.1h.1M40.5 28.8h.1M4.9 42.9h.1M32.8 75.7h.1M79.1 75.7h.1"/></g><g transform="translate(228.9 10.0)"><line x1="11.4" y1="0" x2="11.4" y2="132.4" class="gr"/><line x1="36.5" y1="0" x2="36.5" y2="132.4" class="gr"/><line x1="61.5" y1="0" x2="61.5" y2="132.4" class="gr"/><line x1="86.6" y1="0" x2="86.6" y2="132.4" class="gr"/><line x1="0" y1="6.0" x2="105.2" y2="6.0" class="gr"/><line x1="0" y1="35.8" x2="105.2" y2="35.8" class="gr"/><line x1="0" y1="65.6" x2="105.2" y2="65.6" class="gr"/><line x1="0" y1="95.4" x2="105.2" y2="95.4" class="gr"/><line x1="0" y1="125.2" x2="105.2" y2="125.2" class="gr"/><path stroke="#ff0a14" d="M51.6 24.1h.1M52.6 24.7h.1M52.4 22.0h.1M54.7 24.3h.1M47.9 27.1h.1M51.1 28.5h.1M51.8 29.2h.1M50.9 26.9h.1M52.8 25.1h.1M50.1 25.3h.1M56.5 29.4h.1M57.2 29.4h.1M45.8 30.0h.1M52.6 30.7h.1M53.6 30.8h.1M55.6 34.1h.1M62.6 34.5h.1M45.2 39.1h.1M46.3 37.7h.1M46.7 39.4h.1M47.4 39.5h.1M49.6 37.2h.1M52.1 37.8h.1M55.1 37.2h.1M60.2 39.4h.1M61.2 36.0h.1M64.6 36.7h.1M84.9 39.7h.1M38.2 42.8h.1M40.0 44.1h.1M44.8 40.6h.1M52.2 41.2h.1M54.3 41.5h.1M51.4 42.4h.1M56.4 41.6h.1M59.7 40.7h.1M67.0 42.7h.1M67.8 40.3h.1M81.8 42.3h.1M84.2 40.1h.1M82.4 40.7h.1M88.6 42.5h.1M88.9 43.5h.1M84.5 42.5h.1M89.7 43.7h.1M40.2 46.0h.1M40.0 46.2h.1M41.2 45.3h.1M45.9 46.2h.1M44.7 48.5h.1M54.1 48.2h.1M51.0 45.6h.1M59.3 48.5h.1M61.1 49.1h.1M79.3 46.0h.1M76.3 49.1h.1M79.8 49.6h.1M80.9 49.8h.1M81.9 49.8h.1M88.5 48.7h.1M87.5 46.6h.1M86.1 46.8h.1M88.4 45.4h.1M88.9 49.9h.1M91.6 48.1h.1M92.9 48.7h.1M90.5 46.2h.1M40.0 52.0h.1M40.0 50.8h.1M48.1 51.0h.1M52.6 54.1h.1M50.4 51.1h.1M66.8 50.9h.1M73.4 52.6h.1M82.3 52.9h.1M83.9 50.5h.1M80.8 55.0h.1M82.4 51.8h.1M80.2 53.1h.1M87.6 52.4h.1M85.2 54.7h.1M86.5 51.3h.1M93.4 50.1h.1M93.7 53.7h.1M95.6 50.5h.1M96.2 53.7h.1M98.4 52.6h.1M36.7 58.6h.1M43.6 59.1h.1M48.3 56.0h.1M46.3 56.6h.1M49.3 57.5h.1M46.7 58.9h.1M46.2 58.5h.1M52.0 55.5h.1M58.0 58.9h.1M59.0 57.5h.1M55.7 57.3h.1M57.2 58.8h.1M61.1 55.8h.1M62.4 55.6h.1M68.9 56.2h.1M65.5 56.5h.1M74.3 55.5h.1M71.4 59.9h.1M73.5 58.5h.1M76.1 58.1h.1M82.7 59.1h.1M82.1 57.1h.1M82.9 57.0h.1M83.3 55.6h.1M86.6 58.5h.1M86.3 56.3h.1M85.6 58.7h.1M86.5 56.1h.1M88.6 59.1h.1M90.8 56.9h.1M90.8 57.1h.1M95.7 58.9h.1M96.2 55.8h.1M99.0 59.0h.1M97.5 58.9h.1M38.1 63.1h.1M36.2 64.3h.1M41.0 64.1h.1M48.0 63.0h.1M47.9 61.1h.1M51.7 63.2h.1M52.3 60.2h.1M64.3 63.6h.1M59.6 60.1h.1M59.9 61.6h.1M68.0 64.1h.1M72.9 63.0h.1M69.9 62.8h.1M78.5 62.3h.1M76.9 62.9h.1M80.5 60.9h.1M79.6 60.2h.1M87.3 61.3h.1M86.8 64.7h.1M85.8 62.8h.1M97.9 60.1h.1M94.7 64.6h.1M95.6 64.7h.1M35.8 66.0h.1M45.4 68.9h.1M44.9 65.4h.1M47.6 68.5h.1M48.6 67.9h.1M48.2 67.0h.1M49.6 69.6h.1M50.3 66.9h.1M59.3 67.5h.1M57.1 67.7h.1M59.3 66.1h.1M62.5 67.9h.1M63.1 65.2h.1M63.8 65.7h.1M66.4 67.1h.1M68.6 69.2h.1M69.3 69.7h.1M71.3 67.7h.1M70.2 69.8h.1M73.4 69.7h.1M69.7 68.2h.1M92.2 68.1h.1M90.7 66.1h.1M95.3 65.3h.1M42.4 72.5h.1M48.4 74.2h.1M52.0 74.6h.1M51.4 71.8h.1M57.9 72.6h.1M56.5 72.8h.1M56.7 73.1h.1M57.1 70.6h.1M62.0 70.9h.1M63.4 71.5h.1M67.8 71.0h.1M74.0 72.9h.1M74.3 72.2h.1M73.8 71.6h.1M74.3 72.5h.1M36.5 75.3h.1M40.8 79.2h.1M40.1 77.2h.1M43.7 79.0h.1M43.1 76.9h.1M48.0 76.3h.1M47.5 76.1h.1M55.1 78.6h.1M54.6 78.4h.1M61.4 75.2h.1M61.1 78.2h.1M62.4 78.6h.1M65.1 79.0h.1M65.9 75.4h.1M73.0 77.1h.1M72.1 79.6h.1M76.2 79.1h.1M75.3 78.3h.1M34.9 80.1h.1M35.0 82.4h.1M36.7 80.9h.1M43.2 81.6h.1M46.3 82.8h.1M45.7 80.2h.1M57.3 81.7h.1M59.4 84.5h.1M63.9 80.1h.1M60.4 83.4h.1M62.4 82.1h.1M65.8 80.5h.1M67.4 80.4h.1M66.5 80.4h.1M66.7 84.3h.1M78.1 80.2h.1M30.4 87.8h.1M34.6 86.7h.1M44.6 87.3h.1M49.4 85.2h.1M45.2 88.4h.1M51.3 86.4h.1M52.7 86.8h.1M57.4 85.4h.1M63.0 86.1h.1M65.5 88.7h.1M71.1 85.5h.1M33.3 93.9h.1M29.5 92.4h.1M30.6 93.8h.1M39.2 91.8h.1M39.4 92.5h.1M45.3 94.3h.1M54.1 90.8h.1M50.3 93.4h.1M50.0 91.7h.1M49.7 91.2h.1M54.6 95.0h.1M59.1 91.7h.1M71.4 92.0h.1M70.7 91.0h.1M32.9 96.6h.1M30.6 98.1h.1M30.8 99.5h.1M31.8 98.2h.1M35.1 95.8h.1M39.5 98.5h.1M36.7 97.4h.1M38.5 98.8h.1M36.3 97.6h.1M35.4 98.6h.1M42.7 99.3h.1M41.4 97.9h.1M47.0 99.5h.1M52.1 99.1h.1M57.4 100.0h.1M55.2 96.7h.1M55.8 96.6h.1M60.5 95.3h.1M33.5 103.0h.1M31.8 104.7h.1M32.7 100.2h.1M33.8 100.4h.1M42.4 101.6h.1M40.6 102.7h.1M44.1 105.0h.1M45.2 101.4h.1M49.7 102.6h.1M50.2 102.9h.1M56.9 100.7h.1M55.1 102.5h.1M56.8 100.8h.1M56.3 101.0h.1M32.5 109.9h.1M31.8 109.6h.1M36.2 109.9h.1M43.4 105.5h.1M53.4 109.4h.1M57.9 108.6h.1M56.5 105.4h.1M56.2 108.0h.1M58.7 109.0h.1M60.6 106.8h.1M61.0 105.4h.1M52.7 111.4h.1M31.9 117.8h.1M37.1 116.4h.1M38.4 115.2h.1M36.3 119.7h.1M33.5 121.7h.1M32.2 122.6h.1M32.8 124.5h.1M32.0 124.3h.1M37.0 124.5h.1M20.3 55.3h.1M31.8 70.1h.1M26.0 52.0h.1M19.0 51.0h.1M28.7 51.1h.1M30.4 59.6h.1M31.4 49.0h.1M31.9 9.4h.1M33.9 15.8h.1M32.0 24.3h.1M26.9 28.6h.1M45.6 12.6h.1M5.7 47.2h.1M4.6 49.4h.1M29.7 52.2h.1M28.3 54.4h.1M17.3 55.9h.1M26.6 75.2h.1M91.7 74.4h.1M33.4 64.9h.1M20.4 61.0h.1M26.6 62.7h.1M38.8 32.2h.1M17.6 36.7h.1M30.0 40.4h.1M22.1 54.0h.1M29.4 56.4h.1"/><path stroke="#2a5ecf" d="M51.8 32.4h.1M64.0 35.8h.1M44.4 41.7h.1M44.9 44.2h.1M52.0 40.0h.1M58.1 43.2h.1M84.2 41.1h.1M39.1 45.6h.1M57.5 45.1h.1M69.5 46.4h.1M71.3 49.8h.1M79.7 47.1h.1M79.7 45.2h.1M88.6 48.9h.1M62.3 53.1h.1M77.0 54.6h.1M85.2 51.1h.1M87.4 51.0h.1M91.7 54.7h.1M93.9 53.9h.1M65.3 55.8h.1M77.7 57.3h.1M86.3 58.2h.1M86.8 56.5h.1M93.1 56.4h.1M93.7 58.2h.1M89.6 55.1h.1M95.7 55.7h.1M57.5 64.7h.1M73.8 62.9h.1M88.6 64.8h.1M87.5 62.0h.1M87.7 64.8h.1M94.2 63.4h.1M95.8 62.1h.1M48.1 65.3h.1M62.1 68.5h.1M60.0 69.3h.1M65.7 66.7h.1M74.1 68.1h.1M96.3 68.4h.1M38.2 73.7h.1M40.1 74.4h.1M52.1 73.4h.1M62.9 74.1h.1M63.0 70.0h.1M35.1 79.1h.1M48.9 75.6h.1M57.1 82.1h.1M59.0 80.8h.1M61.0 81.7h.1M73.1 80.5h.1M35.3 87.5h.1M56.2 89.6h.1M72.9 86.7h.1M41.7 91.2h.1M45.5 94.4h.1M62.3 91.8h.1M72.2 91.6h.1M46.8 99.2h.1M46.6 97.4h.1M56.0 99.3h.1M39.0 103.4h.1M43.7 100.8h.1M43.5 104.9h.1M43.1 102.1h.1M52.3 103.9h.1M59.6 104.7h.1M37.9 105.8h.1M54.2 109.5h.1M22.6 51.1h.1M30.6 59.4h.1M19.8 47.4h.1M3.8 51.4h.1M30.0 66.1h.1M31.7 85.9h.1M82.9 70.7h.1M29.4 65.5h.1"/><path stroke="#2a5ecf" d="M56.9 39.7h.1M58.0 39.4h.1M59.2 36.3h.1M46.5 41.7h.1M44.9 43.7h.1M45.9 41.2h.1M41.6 47.1h.1M49.0 47.4h.1M47.4 45.0h.1M52.3 45.2h.1M57.8 49.6h.1M55.6 45.2h.1M83.6 48.8h.1M83.1 46.6h.1M43.0 52.0h.1M54.4 52.4h.1M54.7 52.8h.1M74.3 54.6h.1M84.5 53.1h.1M80.4 53.7h.1M92.5 52.5h.1M39.7 59.2h.1M54.2 56.4h.1M84.4 55.2h.1M82.2 55.8h.1M47.8 63.9h.1M49.0 63.1h.1M47.6 63.1h.1M48.3 60.5h.1M51.3 64.1h.1M50.1 64.1h.1M63.4 63.6h.1M70.9 60.0h.1M83.0 61.8h.1M87.3 64.4h.1M90.3 64.8h.1M36.3 70.0h.1M39.0 65.3h.1M52.1 67.2h.1M96.7 68.7h.1M41.9 73.9h.1M44.3 72.9h.1M52.5 71.8h.1M62.5 71.8h.1M70.8 70.5h.1M71.2 72.2h.1M71.4 70.3h.1M72.7 77.7h.1M56.0 82.2h.1M69.8 81.2h.1M72.5 81.1h.1M43.9 88.1h.1M48.4 89.4h.1M51.1 89.9h.1M56.7 87.8h.1M61.6 89.3h.1M59.8 87.4h.1M44.1 94.7h.1M44.5 91.1h.1M57.0 91.2h.1M31.4 99.2h.1M35.2 98.4h.1M41.5 98.2h.1M50.1 96.1h.1M58.6 99.4h.1M55.8 99.3h.1M37.0 103.4h.1M44.7 103.0h.1M57.2 100.6h.1M57.2 102.5h.1M62.4 103.4h.1M33.0 109.1h.1M35.5 106.1h.1M42.6 109.2h.1M58.5 108.4h.1M63.5 105.6h.1M39.1 114.5h.1M31.4 119.8h.1M33.9 26.9h.1M45.0 4.7h.1M27.2 40.4h.1M33.4 61.5h.1"/><path stroke="#ff0a14" d="M49.7 22.2h.1M50.1 21.1h.1M47.2 25.3h.1M46.1 27.9h.1M45.7 27.9h.1M53.3 25.8h.1M52.4 29.4h.1M52.5 27.9h.1M52.8 25.3h.1M53.0 28.2h.1M55.1 26.2h.1M54.9 27.2h.1M47.6 33.4h.1M48.4 34.4h.1M47.7 30.3h.1M44.8 30.0h.1M46.3 30.1h.1M53.7 35.0h.1M52.1 34.9h.1M57.1 31.8h.1M59.9 33.3h.1M43.4 36.7h.1M45.7 37.9h.1M54.1 37.5h.1M53.5 35.9h.1M53.4 35.5h.1M57.1 38.5h.1M60.7 35.4h.1M63.1 38.3h.1M61.9 39.9h.1M63.7 35.8h.1M87.3 39.6h.1M42.0 43.4h.1M48.0 43.2h.1M48.9 43.4h.1M46.0 42.3h.1M50.8 40.4h.1M51.5 40.2h.1M59.4 40.7h.1M63.6 40.7h.1M63.7 44.0h.1M64.0 43.4h.1M68.1 41.0h.1M69.9 40.7h.1M81.0 42.6h.1M80.8 41.0h.1M85.7 44.5h.1M89.5 42.9h.1M39.4 46.3h.1M37.8 46.5h.1M40.1 47.5h.1M49.3 49.2h.1M52.9 49.7h.1M53.1 48.2h.1M53.0 45.6h.1M58.9 47.4h.1M55.7 46.2h.1M56.0 45.1h.1M57.0 48.4h.1M63.2 47.5h.1M60.7 46.1h.1M67.8 49.7h.1M65.2 47.0h.1M71.5 49.5h.1M71.2 45.8h.1M78.6 47.2h.1M80.8 48.7h.1M80.9 45.0h.1M83.3 49.6h.1M84.3 46.9h.1M85.5 48.8h.1M85.8 45.4h.1M91.0 47.8h.1M91.1 47.0h.1M37.5 53.1h.1M35.6 51.8h.1M37.8 51.0h.1M37.9 50.9h.1M42.3 53.2h.1M46.5 54.4h.1M46.8 50.8h.1M46.4 52.5h.1M45.2 51.4h.1M52.0 54.0h.1M50.1 54.7h.1M49.8 54.6h.1M62.8 52.2h.1M61.7 50.1h.1M62.6 52.4h.1M69.9 53.7h.1M69.8 52.5h.1M70.2 54.3h.1M74.5 53.7h.1M78.6 50.7h.1M75.5 51.3h.1M77.0 51.6h.1M75.3 54.7h.1M75.3 53.9h.1M80.8 53.2h.1M84.4 52.9h.1M87.8 50.1h.1M85.0 51.8h.1M85.7 50.7h.1M85.0 53.2h.1M88.9 53.9h.1M92.2 52.0h.1M90.4 51.5h.1M93.1 50.0h.1M95.8 53.2h.1M36.8 59.2h.1M38.0 58.2h.1M40.9 55.5h.1M46.1 57.1h.1M45.9 58.6h.1M50.4 55.0h.1M50.5 58.8h.1M52.0 57.5h.1M53.7 56.3h.1M58.9 55.1h.1M56.4 59.4h.1M61.7 58.9h.1M67.1 55.8h.1M71.8 55.7h.1M73.2 59.5h.1M77.6 56.3h.1M76.6 57.3h.1M82.1 55.5h.1M83.1 57.6h.1M86.8 57.8h.1M90.1 59.2h.1M91.3 59.3h.1M90.4 55.0h.1M90.7 56.5h.1M93.6 59.5h.1M97.8 59.5h.1M96.7 59.4h.1M41.7 62.1h.1M41.1 61.5h.1M43.1 64.4h.1M51.6 61.6h.1M59.4 62.4h.1M54.5 63.4h.1M59.9 63.1h.1M62.8 64.1h.1M63.1 60.8h.1M69.2 63.9h.1M67.3 61.5h.1M64.8 64.9h.1M66.2 63.0h.1M73.7 63.0h.1M74.0 64.0h.1M70.8 62.1h.1M73.5 63.4h.1M79.2 61.2h.1M81.4 60.5h.1M85.8 60.2h.1M89.7 61.3h.1M94.4 60.3h.1M90.2 63.8h.1M91.1 61.3h.1M36.9 66.4h.1M39.5 69.6h.1M35.0 66.4h.1M41.0 69.9h.1M39.5 69.2h.1M48.1 66.0h.1M47.5 67.5h.1M50.8 65.9h.1M53.7 66.8h.1M55.8 69.1h.1M54.7 65.5h.1M90.7 65.4h.1M97.3 67.5h.1M39.5 73.8h.1M47.5 71.9h.1M48.1 71.5h.1M46.4 71.6h.1M47.0 72.2h.1M51.1 74.2h.1M50.5 72.1h.1M59.5 71.7h.1M55.4 71.6h.1M61.6 70.8h.1M60.4 73.2h.1M59.7 72.1h.1M67.0 72.8h.1M67.4 72.1h.1M65.1 70.8h.1M67.1 74.1h.1M71.3 70.8h.1M72.6 71.2h.1M76.9 74.0h.1M35.7 75.2h.1M37.8 76.7h.1M43.0 75.5h.1M45.5 79.8h.1M47.0 76.1h.1M46.4 78.3h.1M51.1 76.9h.1M52.0 76.5h.1M57.8 76.8h.1M64.1 78.7h.1M65.6 79.6h.1M68.2 75.4h.1M68.2 79.1h.1M69.7 78.5h.1M79.2 76.8h.1M76.0 79.4h.1M76.3 76.0h.1M39.4 82.8h.1M39.5 84.6h.1M40.8 81.2h.1M48.6 81.6h.1M45.3 81.5h.1M47.4 80.4h.1M57.8 84.1h.1M58.8 84.9h.1M59.3 83.1h.1M61.7 80.4h.1M62.8 81.9h.1M65.1 80.9h.1M67.2 81.3h.1M65.1 82.6h.1M71.6 84.4h.1M72.6 84.4h.1M76.2 83.8h.1M77.5 80.5h.1M30.1 89.0h.1M37.2 88.4h.1M39.9 86.6h.1M42.4 85.2h.1M49.3 90.0h.1M54.2 88.4h.1M50.7 86.2h.1M56.0 85.8h.1M64.0 86.4h.1M68.8 88.2h.1M69.8 87.1h.1M71.2 87.5h.1M71.8 85.1h.1M34.4 92.3h.1M30.9 92.6h.1M29.9 90.1h.1M43.2 90.3h.1M42.6 91.1h.1M40.5 93.8h.1M42.7 91.5h.1M48.8 91.3h.1M48.3 94.1h.1M45.9 91.7h.1M46.3 93.9h.1M48.8 90.9h.1M54.4 90.0h.1M56.7 90.5h.1M56.1 94.4h.1M55.2 92.1h.1M55.2 93.7h.1M59.8 90.2h.1M68.9 93.6h.1M66.5 91.6h.1M72.6 91.9h.1M71.1 93.2h.1M28.2 99.3h.1M33.6 99.5h.1M35.8 95.5h.1M34.9 97.0h.1M43.5 98.1h.1M41.7 96.8h.1M43.1 96.5h.1M43.6 96.8h.1M48.1 96.9h.1M51.5 95.2h.1M49.9 99.1h.1M53.3 97.8h.1M57.3 97.6h.1M56.6 95.3h.1M32.3 101.6h.1M31.0 103.6h.1M29.8 102.2h.1M35.2 104.6h.1M35.5 100.5h.1M37.8 101.3h.1M39.7 104.2h.1M42.3 100.8h.1M41.4 103.2h.1M47.1 101.5h.1M51.2 102.2h.1M58.7 104.4h.1M61.9 104.0h.1M29.7 108.1h.1M35.7 108.7h.1M51.7 109.1h.1M52.2 109.7h.1M56.8 106.2h.1M61.6 108.0h.1M61.7 108.3h.1M63.6 105.9h.1M34.3 112.5h.1M31.8 114.0h.1M30.8 111.8h.1M37.3 114.3h.1M37.8 110.4h.1M39.3 111.8h.1M41.1 110.7h.1M58.0 111.4h.1M63.9 110.8h.1M61.0 111.9h.1M60.4 111.5h.1M30.8 116.0h.1M34.0 117.3h.1M36.3 119.6h.1M38.6 117.8h.1M36.6 119.0h.1M32.8 122.9h.1M27.0 49.3h.1M22.8 62.2h.1M14.1 59.8h.1M29.4 61.0h.1M29.7 74.4h.1M27.0 53.2h.1M20.7 50.1h.1M33.2 69.9h.1M30.8 59.8h.1M15.0 62.5h.1M22.5 67.7h.1M26.0 56.7h.1M25.2 25.1h.1M45.6 15.2h.1M53.5 19.8h.1M38.5 24.3h.1M41.4 26.5h.1M36.6 32.5h.1M5.3 36.8h.1M17.8 36.8h.1M12.5 40.0h.1M10.8 52.0h.1M19.3 58.7h.1M32.2 69.5h.1M27.2 82.5h.1M30.0 58.1h.1M27.2 68.9h.1M38.9 31.6h.1M11.8 38.3h.1M11.9 39.0h.1M6.3 50.2h.1M33.4 55.9h.1M18.1 65.6h.1M26.6 71.8h.1M67.8 38.4h.1M89.1 66.9h.1"/><path stroke="#ff0a14" d="M46.8 26.5h.1M48.5 28.5h.1M47.1 29.4h.1M49.4 25.6h.1M54.5 29.1h.1M55.9 27.1h.1M46.6 31.8h.1M47.3 34.8h.1M44.8 34.5h.1M46.5 30.5h.1M44.8 31.0h.1M45.3 31.7h.1M45.3 30.5h.1M49.9 30.5h.1M51.2 31.3h.1M52.1 30.7h.1M50.8 31.8h.1M50.3 33.9h.1M59.4 34.3h.1M58.2 31.1h.1M55.9 31.3h.1M58.0 34.8h.1M59.4 34.8h.1M62.8 34.0h.1M44.2 38.6h.1M49.0 39.0h.1M49.4 38.3h.1M45.2 35.1h.1M45.8 36.5h.1M45.8 37.1h.1M45.2 39.6h.1M50.4 35.0h.1M51.9 38.6h.1M59.1 37.2h.1M58.7 35.7h.1M62.8 38.9h.1M61.7 37.6h.1M64.8 39.9h.1M84.9 35.3h.1M41.9 44.7h.1M41.7 42.5h.1M43.7 42.0h.1M45.8 44.8h.1M51.3 40.0h.1M50.7 42.9h.1M63.6 42.9h.1M63.7 42.8h.1M80.1 44.5h.1M81.8 44.1h.1M86.9 40.1h.1M84.5 43.8h.1M36.9 46.7h.1M36.0 48.7h.1M35.3 45.8h.1M35.5 49.5h.1M39.0 50.0h.1M40.0 46.7h.1M40.8 47.8h.1M43.9 48.7h.1M42.1 46.9h.1M40.9 49.8h.1M48.6 49.3h.1M45.0 45.8h.1M53.4 46.2h.1M49.9 47.6h.1M56.6 46.3h.1M61.6 48.4h.1M60.5 49.0h.1M66.0 49.8h.1M65.6 47.1h.1M69.8 45.3h.1M82.7 49.7h.1M79.6 46.2h.1M89.1 45.9h.1M84.7 47.8h.1M88.0 47.2h.1M90.1 49.2h.1M91.4 48.7h.1M35.2 51.0h.1M35.8 53.0h.1M44.3 51.6h.1M41.6 54.3h.1M44.5 54.5h.1M44.6 52.8h.1M51.4 54.5h.1M50.3 53.9h.1M53.7 54.1h.1M55.1 51.2h.1M58.3 50.2h.1M62.4 52.1h.1M74.4 52.5h.1M79.7 54.1h.1M82.8 51.6h.1M79.5 50.2h.1M84.5 51.8h.1M85.6 52.9h.1M84.6 53.2h.1M87.3 51.8h.1M93.2 51.2h.1M92.3 54.7h.1M92.7 54.1h.1M95.7 50.2h.1M38.0 59.3h.1M37.4 56.5h.1M40.5 55.6h.1M53.5 55.9h.1M54.9 58.9h.1M55.5 56.3h.1M62.7 56.7h.1M63.2 55.8h.1M68.0 59.2h.1M65.7 56.6h.1M71.7 56.0h.1M71.7 57.9h.1M78.8 58.4h.1M78.4 58.6h.1M82.8 58.9h.1M81.4 57.4h.1M85.9 57.0h.1M85.6 59.0h.1M88.5 58.2h.1M93.8 55.3h.1M93.4 55.7h.1M95.0 55.7h.1M98.4 59.2h.1M97.2 58.7h.1M97.0 55.3h.1M99.9 58.2h.1M37.1 62.4h.1M39.0 60.2h.1M37.1 63.9h.1M41.5 62.5h.1M40.9 62.5h.1M44.4 63.3h.1M43.5 61.7h.1M43.4 60.2h.1M49.1 63.0h.1M45.4 60.2h.1M54.1 63.3h.1M54.2 60.3h.1M55.1 64.8h.1M54.9 64.3h.1M63.8 62.4h.1M66.3 62.9h.1M66.3 63.2h.1M67.6 62.1h.1M66.4 63.9h.1M73.9 61.9h.1M72.4 64.1h.1M73.9 60.2h.1M73.7 64.1h.1M70.9 64.3h.1M82.1 60.7h.1M84.9 60.3h.1M89.0 60.3h.1M94.0 64.2h.1M89.7 63.9h.1M91.0 63.0h.1M90.3 61.2h.1M98.8 64.4h.1M95.2 62.2h.1M95.0 64.6h.1M98.7 63.1h.1M95.2 64.4h.1M41.2 65.7h.1M42.1 65.9h.1M52.1 65.6h.1M53.1 69.1h.1M57.2 65.1h.1M58.0 66.0h.1M60.2 68.0h.1M60.3 69.1h.1M66.5 69.7h.1M73.9 69.4h.1M70.9 67.7h.1M91.8 66.6h.1M92.1 66.9h.1M43.0 74.6h.1M48.4 74.4h.1M46.5 72.8h.1M54.1 70.1h.1M53.4 72.7h.1M57.4 74.4h.1M59.3 72.4h.1M59.4 74.1h.1M64.5 73.2h.1M68.7 72.9h.1M67.2 75.0h.1M68.3 70.5h.1M71.1 73.6h.1M69.7 74.7h.1M74.0 74.1h.1M71.0 73.0h.1M75.7 71.9h.1M36.3 76.2h.1M45.9 78.9h.1M52.3 76.8h.1M55.9 77.0h.1M58.0 76.2h.1M60.4 75.6h.1M59.7 75.8h.1M68.8 78.0h.1M73.6 78.1h.1M73.5 76.3h.1M70.7 75.3h.1M72.9 76.2h.1M75.2 77.8h.1M77.5 77.3h.1M42.7 83.1h.1M43.4 84.2h.1M44.1 80.8h.1M46.3 84.2h.1M49.0 84.7h.1M54.3 80.4h.1M49.7 82.2h.1M49.5 84.2h.1M55.5 80.4h.1M56.1 82.3h.1M65.1 84.3h.1M66.9 82.8h.1M70.1 85.0h.1M70.4 84.8h.1M72.3 83.9h.1M71.4 80.1h.1M73.9 80.8h.1M33.7 87.9h.1M30.1 85.1h.1M38.5 89.7h.1M42.9 87.0h.1M41.9 85.8h.1M40.6 89.5h.1M40.3 86.8h.1M47.0 86.3h.1M51.0 88.8h.1M52.3 87.0h.1M55.2 85.0h.1M57.3 89.7h.1M55.4 87.9h.1M60.3 86.3h.1M65.5 88.0h.1M69.3 88.0h.1M64.9 89.0h.1M67.7 89.6h.1M65.6 86.6h.1M68.2 88.2h.1M69.7 88.1h.1M72.5 86.3h.1M74.4 85.3h.1M72.6 88.6h.1M70.3 85.7h.1M30.8 93.6h.1M31.0 93.9h.1M34.2 90.7h.1M31.3 94.9h.1M37.3 90.9h.1M35.3 90.1h.1M38.4 91.2h.1M37.7 91.7h.1M36.1 94.5h.1M42.3 92.0h.1M40.8 91.3h.1M45.3 93.4h.1M47.4 94.4h.1M53.2 90.5h.1M54.1 93.6h.1M53.9 94.9h.1M55.4 93.4h.1M57.0 90.6h.1M63.2 91.4h.1M62.0 92.0h.1M69.7 93.5h.1M29.5 96.2h.1M32.1 97.6h.1M30.4 99.1h.1M36.3 99.0h.1M34.6 96.0h.1M37.4 95.3h.1M43.7 95.5h.1M53.1 97.4h.1M58.0 97.1h.1M59.4 96.4h.1M32.2 102.0h.1M30.9 104.0h.1M35.6 104.2h.1M41.0 101.2h.1M41.5 100.2h.1M40.0 102.3h.1M45.0 102.4h.1M49.3 101.7h.1M50.4 103.9h.1M51.0 100.3h.1M52.3 100.5h.1M50.0 103.2h.1M55.0 104.4h.1M60.5 100.6h.1M62.0 104.5h.1M29.6 109.7h.1M57.0 109.5h.1M59.2 109.1h.1M57.8 109.2h.1M54.5 107.4h.1M61.8 106.7h.1M60.9 108.5h.1M62.9 105.2h.1M34.3 111.8h.1M30.6 114.4h.1M34.4 110.9h.1M37.6 112.2h.1M36.4 112.6h.1M52.4 110.2h.1M57.9 111.9h.1M61.1 110.3h.1M31.7 115.5h.1M33.7 118.2h.1M37.7 116.3h.1M38.3 118.4h.1M31.5 122.9h.1M31.5 48.4h.1M25.6 51.8h.1M30.7 51.5h.1M29.2 63.1h.1M21.7 60.9h.1M15.6 59.1h.1M28.2 67.0h.1M23.0 55.6h.1M16.9 57.5h.1M28.6 75.2h.1M29.0 46.9h.1M16.5 56.0h.1M24.2 51.5h.1M19.9 64.4h.1M18.9 19.5h.1M38.8 13.8h.1M39.4 22.6h.1M31.8 38.7h.1M30.0 43.5h.1M11.4 48.0h.1M7.6 50.2h.1M9.9 54.2h.1M17.6 67.8h.1M25.5 66.7h.1M24.3 73.5h.1M26.0 76.3h.1M30.0 73.5h.1M97.9 67.5h.1M96.7 69.4h.1M93.5 70.0h.1M92.5 73.5h.1M82.2 77.6h.1M18.7 64.9h.1M28.3 62.1h.1M32.2 59.3h.1M31.1 67.7h.1M24.3 67.2h.1"/><path stroke="#2a5ecf" d="M47.7 26.9h.1M49.4 38.2h.1M52.3 36.2h.1M56.8 37.7h.1M57.3 39.7h.1M45.8 40.8h.1M58.1 44.4h.1M54.7 44.2h.1M61.3 40.5h.1M89.1 43.6h.1M86.4 42.0h.1M37.0 46.1h.1M46.5 47.2h.1M67.0 45.9h.1M71.1 45.9h.1M76.4 49.6h.1M86.6 47.5h.1M85.7 45.3h.1M86.1 49.9h.1M40.5 54.0h.1M50.6 52.0h.1M61.0 52.1h.1M68.3 53.9h.1M79.0 51.4h.1M90.7 50.3h.1M43.2 55.3h.1M48.8 58.1h.1M47.2 56.1h.1M59.0 55.4h.1M63.7 58.3h.1M82.4 57.7h.1M91.9 57.1h.1M42.3 64.1h.1M47.8 62.3h.1M63.0 62.3h.1M90.1 62.4h.1M98.1 61.0h.1M92.5 67.9h.1M92.4 65.1h.1M95.3 66.7h.1M38.6 72.6h.1M47.4 70.4h.1M49.7 72.8h.1M69.6 73.9h.1M74.0 72.9h.1M53.8 76.6h.1M58.9 79.3h.1M55.2 76.4h.1M68.7 78.9h.1M71.3 77.1h.1M75.1 76.4h.1M62.5 81.5h.1M68.9 82.7h.1M30.5 87.2h.1M31.0 88.4h.1M41.4 86.8h.1M49.8 86.7h.1M54.8 86.5h.1M59.4 86.8h.1M65.2 85.9h.1M32.8 93.9h.1M27.6 98.7h.1M31.9 98.6h.1M33.6 96.2h.1M40.5 97.1h.1M45.5 99.9h.1M46.4 97.6h.1M35.3 100.3h.1M29.9 107.9h.1M31.2 109.1h.1M53.7 106.2h.1M32.6 114.5h.1M33.7 110.8h.1M56.2 110.7h.1M33.4 116.6h.1M35.8 116.2h.1M35.1 116.5h.1M34.2 123.7h.1M31.2 122.0h.1M32.4 67.4h.1M47.3 6.8h.1M52.4 21.5h.1M10.5 42.9h.1M25.2 49.7h.1M29.4 79.1h.1"/><path stroke="#2a5ecf" d="M58.5 34.1h.1M52.0 41.0h.1M62.1 42.5h.1M62.6 43.1h.1M62.9 42.4h.1M84.3 42.2h.1M85.2 41.7h.1M53.3 47.3h.1M52.4 46.9h.1M56.0 47.3h.1M71.4 46.9h.1M42.2 50.3h.1M83.3 52.2h.1M94.0 50.2h.1M98.0 54.2h.1M35.6 58.1h.1M52.0 56.7h.1M73.1 55.5h.1M73.5 58.7h.1M72.7 55.5h.1M72.5 57.0h.1M78.1 59.4h.1M84.2 56.1h.1M85.1 58.9h.1M85.6 59.8h.1M97.8 56.3h.1M44.7 61.5h.1M50.8 61.5h.1M51.7 60.1h.1M76.8 61.0h.1M82.3 62.0h.1M89.2 63.8h.1M85.5 60.9h.1M97.6 60.7h.1M41.7 69.6h.1M45.5 65.3h.1M54.8 69.4h.1M62.4 68.7h.1M72.0 65.1h.1M72.7 69.0h.1M87.2 65.7h.1M96.0 68.9h.1M45.2 72.9h.1M53.7 74.8h.1M55.0 71.9h.1M57.2 74.1h.1M64.5 74.4h.1M65.0 70.9h.1M35.5 76.4h.1M46.3 76.2h.1M59.0 78.9h.1M77.2 78.8h.1M40.2 80.1h.1M48.6 83.5h.1M47.9 80.8h.1M71.0 83.5h.1M40.4 89.1h.1M45.9 86.4h.1M44.7 87.8h.1M53.5 89.4h.1M53.2 87.5h.1M38.2 94.6h.1M43.8 90.3h.1M69.5 93.0h.1M32.1 97.4h.1M34.1 97.6h.1M47.5 97.3h.1M50.0 95.4h.1M37.9 101.5h.1M56.4 103.3h.1M53.5 108.0h.1M56.5 108.9h.1M32.1 110.0h.1M53.3 111.5h.1M34.8 117.7h.1M31.1 46.2h.1M31.9 49.1h.1M43.4 27.7h.1M35.0 37.2h.1M31.7 39.5h.1M24.9 58.7h.1"/><path stroke="#ff0a14" d="M48.1 26.4h.1M51.9 25.2h.1M52.8 28.8h.1M54.2 27.4h.1M51.8 25.8h.1M48.0 32.6h.1M48.5 32.0h.1M50.8 31.7h.1M51.3 30.6h.1M49.6 34.8h.1M52.2 30.1h.1M53.8 33.5h.1M58.4 31.6h.1M54.6 30.1h.1M56.7 34.7h.1M43.5 39.9h.1M47.1 39.7h.1M48.6 36.1h.1M46.3 37.3h.1M52.2 37.6h.1M52.3 36.6h.1M50.9 38.9h.1M57.3 38.8h.1M57.6 37.5h.1M64.3 36.1h.1M64.3 37.0h.1M68.4 39.9h.1M84.1 39.1h.1M84.9 39.3h.1M84.8 39.3h.1M38.3 41.4h.1M45.3 42.2h.1M49.6 41.5h.1M52.1 43.8h.1M59.0 43.1h.1M63.0 41.1h.1M68.5 43.7h.1M68.2 41.3h.1M64.9 41.3h.1M70.8 43.7h.1M83.0 43.4h.1M80.5 44.9h.1M86.8 41.5h.1M86.1 44.2h.1M35.9 45.2h.1M37.3 47.0h.1M42.6 49.3h.1M48.9 45.1h.1M46.5 49.6h.1M49.4 46.2h.1M50.8 48.2h.1M59.3 48.2h.1M60.5 49.8h.1M65.6 49.9h.1M69.7 48.3h.1M84.0 46.7h.1M82.6 46.3h.1M85.0 47.5h.1M90.7 45.8h.1M39.2 51.9h.1M38.8 52.2h.1M35.8 53.9h.1M39.2 50.5h.1M40.9 51.5h.1M42.3 51.8h.1M44.5 51.8h.1M46.6 54.1h.1M47.7 54.5h.1M44.9 53.1h.1M47.1 54.6h.1M54.3 51.0h.1M57.1 51.9h.1M58.1 54.5h.1M58.7 50.6h.1M66.9 50.5h.1M65.1 52.2h.1M65.0 52.2h.1M67.1 50.2h.1M71.4 54.8h.1M70.3 53.9h.1M78.3 50.8h.1M77.9 54.5h.1M75.1 52.7h.1M81.3 54.4h.1M81.5 54.0h.1M87.1 54.5h.1M90.2 51.0h.1M91.0 50.2h.1M97.3 52.2h.1M35.2 55.1h.1M36.2 55.7h.1M42.5 56.8h.1M44.0 55.3h.1M43.8 59.6h.1M44.2 55.5h.1M43.6 58.2h.1M43.6 58.2h.1M44.6 56.3h.1M44.7 57.1h.1M50.0 59.1h.1M54.4 55.0h.1M50.6 58.5h.1M57.6 56.8h.1M56.5 57.0h.1M70.4 59.9h.1M70.5 56.9h.1M69.7 57.0h.1M72.0 58.2h.1M76.6 56.1h.1M78.4 58.5h.1M75.0 57.1h.1M77.6 57.0h.1M84.2 55.9h.1M83.4 59.7h.1M84.4 56.8h.1M84.6 57.1h.1M89.2 57.6h.1M92.7 58.3h.1M91.3 59.6h.1M95.3 59.5h.1M95.5 58.5h.1M97.3 56.3h.1M100.2 57.5h.1M36.3 62.4h.1M42.4 63.2h.1M44.5 60.9h.1M53.4 62.8h.1M52.4 64.6h.1M56.6 60.5h.1M57.7 61.1h.1M55.3 60.1h.1M55.1 60.1h.1M58.1 61.2h.1M58.2 60.9h.1M63.8 63.6h.1M64.2 61.3h.1M66.7 63.4h.1M65.2 64.0h.1M71.0 62.1h.1M74.1 61.7h.1M75.5 63.8h.1M75.8 63.8h.1M74.9 64.0h.1M78.4 61.2h.1M88.4 62.1h.1M87.8 62.0h.1M94.5 61.1h.1M91.3 64.5h.1M93.0 63.2h.1M93.3 60.5h.1M96.8 61.7h.1M98.6 62.4h.1M95.6 60.3h.1M98.1 62.8h.1M39.6 69.0h.1M47.4 65.7h.1M45.9 66.0h.1M51.2 69.2h.1M53.8 67.5h.1M51.9 69.4h.1M52.5 65.0h.1M56.1 68.6h.1M56.4 68.8h.1M55.4 65.5h.1M60.1 67.5h.1M62.0 66.4h.1M60.1 67.0h.1M68.7 67.6h.1M68.4 66.7h.1M66.7 69.9h.1M68.5 69.6h.1M64.8 67.6h.1M65.7 67.1h.1M69.8 67.2h.1M70.8 68.4h.1M92.8 66.0h.1M93.1 67.3h.1M98.9 67.2h.1M94.8 66.9h.1M95.0 66.1h.1M46.8 72.3h.1M45.4 71.5h.1M54.5 72.6h.1M60.9 72.6h.1M65.8 73.2h.1M67.6 74.0h.1M76.0 74.4h.1M75.7 70.9h.1M40.3 76.8h.1M46.8 75.7h.1M49.0 77.9h.1M47.1 77.7h.1M49.9 75.9h.1M52.8 75.5h.1M56.1 76.1h.1M56.6 78.3h.1M58.7 76.8h.1M63.1 75.2h.1M60.5 76.5h.1M60.4 79.2h.1M60.8 77.2h.1M62.9 76.7h.1M65.9 75.2h.1M64.7 76.2h.1M68.0 77.0h.1M69.2 77.1h.1M73.0 78.7h.1M71.8 75.3h.1M70.1 78.8h.1M72.2 79.8h.1M70.5 76.6h.1M70.2 78.5h.1M77.1 77.2h.1M78.3 79.2h.1M80.9 76.0h.1M39.5 83.8h.1M34.9 83.6h.1M44.2 83.3h.1M41.0 80.9h.1M42.7 84.2h.1M43.4 84.2h.1M47.3 83.1h.1M47.0 82.5h.1M50.5 83.6h.1M53.8 83.9h.1M51.6 81.4h.1M56.2 82.2h.1M59.8 83.4h.1M62.4 84.8h.1M61.9 83.2h.1M62.1 82.8h.1M65.6 82.9h.1M73.1 83.8h.1M73.7 82.0h.1M70.2 83.9h.1M72.3 84.6h.1M75.1 81.9h.1M35.2 89.4h.1M38.9 89.0h.1M43.7 87.0h.1M41.8 87.9h.1M47.4 86.7h.1M47.3 87.6h.1M48.4 88.2h.1M51.9 86.8h.1M58.9 87.3h.1M56.0 88.6h.1M60.8 85.1h.1M68.9 86.7h.1M67.2 89.4h.1M74.1 87.8h.1M34.8 92.5h.1M35.2 90.9h.1M38.5 92.3h.1M42.7 92.0h.1M46.9 94.5h.1M47.5 92.3h.1M54.5 91.5h.1M49.6 90.6h.1M53.5 93.4h.1M55.1 92.4h.1M56.3 92.5h.1M64.3 94.4h.1M60.4 91.3h.1M67.9 93.3h.1M67.2 92.7h.1M32.6 97.7h.1M30.6 95.7h.1M33.8 95.2h.1M37.1 97.3h.1M35.7 96.9h.1M36.2 96.9h.1M41.1 96.2h.1M41.4 95.2h.1M47.8 96.6h.1M44.9 98.8h.1M48.3 95.1h.1M49.0 97.2h.1M52.9 98.7h.1M52.9 97.8h.1M53.3 98.8h.1M49.8 98.4h.1M57.1 95.0h.1M31.7 104.4h.1M32.5 100.9h.1M37.3 104.0h.1M35.0 103.9h.1M39.3 102.1h.1M44.1 101.6h.1M42.9 100.6h.1M43.6 100.6h.1M48.8 103.0h.1M47.2 100.4h.1M49.0 104.2h.1M52.8 100.3h.1M50.7 103.7h.1M52.5 102.3h.1M55.3 100.8h.1M59.2 101.7h.1M60.7 104.4h.1M31.0 109.5h.1M30.7 108.0h.1M33.4 108.6h.1M29.8 106.2h.1M36.5 105.4h.1M36.2 105.7h.1M42.0 108.9h.1M42.7 106.0h.1M53.2 109.2h.1M53.4 106.3h.1M60.1 109.1h.1M63.7 108.1h.1M31.5 112.5h.1M37.1 111.9h.1M37.8 113.2h.1M37.9 114.5h.1M37.0 111.8h.1M39.4 110.3h.1M63.2 110.9h.1M30.8 117.0h.1M32.9 118.8h.1M33.0 128.1h.1M17.7 64.5h.1M24.1 58.1h.1M18.6 62.4h.1M33.7 67.4h.1M33.4 67.0h.1M21.3 70.2h.1M47.3 15.2h.1M36.9 32.3h.1M38.2 35.1h.1M12.5 47.2h.1M24.5 51.4h.1M28.9 81.9h.1M26.0 85.9h.1M19.3 61.5h.1M30.0 60.4h.1M17.6 62.1h.1M40.5 28.8h.1M4.9 42.9h.1M32.8 75.7h.1M79.1 75.7h.1"/></g><g transform="translate(334.1 10.0)"><line x1="11.4" y1="0" x2="11.4" y2="132.4" class="gr"/><line x1="36.5" y1="0" x2="36.5" y2="132.4" class="gr"/><line x1="61.5" y1="0" x2="61.5" y2="132.4" class="gr"/><line x1="86.6" y1="0" x2="86.6" y2="132.4" class="gr"/><line x1="0" y1="6.0" x2="105.2" y2="6.0" class="gr"/><line x1="0" y1="35.8" x2="105.2" y2="35.8" class="gr"/><line x1="0" y1="65.6" x2="105.2" y2="65.6" class="gr"/><line x1="0" y1="95.4" x2="105.2" y2="95.4" class="gr"/><line x1="0" y1="125.2" x2="105.2" y2="125.2" class="gr"/><path stroke="#ff0a14" d="M52.6 24.7h.1M52.4 22.0h.1M54.7 24.3h.1M47.9 27.1h.1M51.1 28.5h.1M51.8 29.2h.1M50.9 26.9h.1M52.8 25.1h.1M57.2 29.4h.1M45.8 30.0h.1M52.6 30.7h.1M51.8 32.4h.1M55.6 34.1h.1M62.6 34.5h.1M45.2 39.1h.1M46.3 37.7h.1M49.6 37.2h.1M52.1 37.8h.1M64.0 35.8h.1M60.2 39.4h.1M61.2 36.0h.1M64.6 36.7h.1M84.9 39.7h.1M38.2 42.8h.1M44.4 41.7h.1M44.8 40.6h.1M44.9 44.2h.1M54.3 41.5h.1M51.4 42.4h.1M52.0 40.0h.1M56.4 41.6h.1M58.1 43.2h.1M59.7 40.7h.1M67.0 42.7h.1M67.8 40.3h.1M84.2 40.1h.1M84.2 41.1h.1M88.6 42.5h.1M88.9 43.5h.1M84.5 42.5h.1M89.7 43.7h.1M39.1 45.6h.1M40.2 46.0h.1M40.0 46.2h.1M41.2 45.3h.1M45.9 46.2h.1M44.7 48.5h.1M54.1 48.2h.1M57.5 45.1h.1M59.3 48.5h.1M61.1 49.1h.1M69.5 46.4h.1M71.3 49.8h.1M79.3 46.0h.1M76.3 49.1h.1M79.7 47.1h.1M79.7 45.2h.1M79.8 49.6h.1M80.9 49.8h.1M81.9 49.8h.1M88.6 48.9h.1M87.5 46.6h.1M86.1 46.8h.1M88.4 45.4h.1M88.9 49.9h.1M91.6 48.1h.1M92.9 48.7h.1M90.5 46.2h.1M40.0 50.8h.1M52.6 54.1h.1M62.3 53.1h.1M66.8 50.9h.1M73.4 52.6h.1M77.0 54.6h.1M82.3 52.9h.1M83.9 50.5h.1M80.8 55.0h.1M82.4 51.8h.1M80.2 53.1h.1M85.2 51.1h.1M87.4 51.0h.1M87.6 52.4h.1M86.5 51.3h.1M91.7 54.7h.1M93.4 50.1h.1M93.9 53.9h.1M93.7 53.7h.1M95.6 50.5h.1M96.2 53.7h.1M43.6 59.1h.1M46.7 58.9h.1M46.2 58.5h.1M52.0 55.5h.1M58.0 58.9h.1M59.0 57.5h.1M55.7 57.3h.1M61.1 55.8h.1M62.4 55.6h.1M65.5 56.5h.1M65.3 55.8h.1M74.3 55.5h.1M73.5 58.5h.1M77.7 57.3h.1M76.1 58.1h.1M82.7 59.1h.1M82.1 57.1h.1M82.9 57.0h.1M83.3 55.6h.1M86.6 58.5h.1M85.6 58.7h.1M86.3 58.2h.1M86.8 56.5h.1M90.8 56.9h.1M90.8 57.1h.1M93.1 56.4h.1M93.7 58.2h.1M89.6 55.1h.1M95.7 58.9h.1M96.2 55.8h.1M97.5 58.9h.1M95.7 55.7h.1M38.1 63.1h.1M36.2 64.3h.1M41.0 64.1h.1M51.7 63.2h.1M52.3 60.2h.1M57.5 64.7h.1M59.6 60.1h.1M59.9 61.6h.1M68.0 64.1h.1M73.8 62.9h.1M69.9 62.8h.1M76.9 62.9h.1M80.5 60.9h.1M79.6 60.2h.1M87.3 61.3h.1M88.6 64.8h.1M86.8 64.7h.1M87.5 62.0h.1M85.8 62.8h.1M87.7 64.8h.1M94.2 63.4h.1M97.9 60.1h.1M94.7 64.6h.1M95.6 64.7h.1M95.8 62.1h.1M45.4 68.9h.1M44.9 65.4h.1M47.6 68.5h.1M48.6 67.9h.1M48.2 67.0h.1M48.1 65.3h.1M49.6 69.6h.1M50.3 66.9h.1M59.3 67.5h.1M57.1 67.7h.1M62.1 68.5h.1M60.0 69.3h.1M63.1 65.2h.1M63.8 65.7h.1M65.7 66.7h.1M68.6 69.2h.1M69.3 69.7h.1M71.3 67.7h.1M70.2 69.8h.1M73.4 69.7h.1M74.1 68.1h.1M92.2 68.1h.1M90.7 66.1h.1M95.3 65.3h.1M96.3 68.4h.1M38.2 73.7h.1M40.1 74.4h.1M48.4 74.2h.1M52.0 74.6h.1M52.1 73.4h.1M51.4 71.8h.1M57.9 72.6h.1M56.5 72.8h.1M56.7 73.1h.1M57.1 70.6h.1M62.9 74.1h.1M62.0 70.9h.1M63.4 71.5h.1M63.0 70.0h.1M67.8 71.0h.1M74.0 72.9h.1M74.3 72.2h.1M73.8 71.6h.1M36.5 75.3h.1M35.1 79.1h.1M40.1 77.2h.1M43.7 79.0h.1M43.1 76.9h.1M48.0 76.3h.1M47.5 76.1h.1M48.9 75.6h.1M54.6 78.4h.1M61.4 75.2h.1M61.1 78.2h.1M62.4 78.6h.1M65.1 79.0h.1M73.0 77.1h.1M76.2 79.1h.1M75.3 78.3h.1M34.9 80.1h.1M35.0 82.4h.1M36.7 80.9h.1M46.3 82.8h.1M57.1 82.1h.1M59.0 80.8h.1M57.3 81.7h.1M59.4 84.5h.1M61.0 81.7h.1M63.9 80.1h.1M62.4 82.1h.1M65.8 80.5h.1M67.4 80.4h.1M66.5 80.4h.1M66.7 84.3h.1M73.1 80.5h.1M78.1 80.2h.1M30.4 87.8h.1M34.6 86.7h.1M35.3 87.5h.1M44.6 87.3h.1M49.4 85.2h.1M45.2 88.4h.1M51.3 86.4h.1M56.2 89.6h.1M57.4 85.4h.1M63.0 86.1h.1M65.5 88.7h.1M72.9 86.7h.1M71.1 85.5h.1M29.5 92.4h.1M30.6 93.8h.1M39.2 91.8h.1M41.7 91.2h.1M45.5 94.4h.1M50.3 93.4h.1M50.0 91.7h.1M49.7 91.2h.1M54.6 95.0h.1M62.3 91.8h.1M70.7 91.0h.1M72.2 91.6h.1M32.9 96.6h.1M30.6 98.1h.1M30.8 99.5h.1M31.8 98.2h.1M35.1 95.8h.1M39.5 98.5h.1M36.7 97.4h.1M36.3 97.6h.1M35.4 98.6h.1M47.0 99.5h.1M46.8 99.2h.1M46.6 97.4h.1M52.1 99.1h.1M57.4 100.0h.1M55.2 96.7h.1M55.8 96.6h.1M56.0 99.3h.1M60.5 95.3h.1M33.5 103.0h.1M31.8 104.7h.1M33.8 100.4h.1M39.0 103.4h.1M42.4 101.6h.1M43.7 100.8h.1M43.5 104.9h.1M40.6 102.7h.1M43.1 102.1h.1M44.1 105.0h.1M52.3 103.9h.1M49.7 102.6h.1M50.2 102.9h.1M56.8 100.8h.1M56.3 101.0h.1M59.6 104.7h.1M37.9 105.8h.1M36.2 109.9h.1M54.2 109.5h.1M53.4 109.4h.1M57.9 108.6h.1M56.5 105.4h.1M58.7 109.0h.1M60.6 106.8h.1M61.0 105.4h.1M52.7 111.4h.1M31.9 117.8h.1M38.4 115.2h.1M36.3 119.7h.1M33.5 121.7h.1M32.2 122.6h.1M32.8 124.5h.1M32.0 124.3h.1M37.0 124.5h.1M20.3 55.3h.1M26.0 52.0h.1M19.0 51.0h.1M22.6 51.1h.1M28.7 51.1h.1M31.4 49.0h.1M30.6 59.4h.1M33.9 15.8h.1M32.0 24.3h.1M26.9 28.6h.1M45.6 12.6h.1M19.8 47.4h.1M4.6 49.4h.1M3.8 51.4h.1M29.7 52.2h.1M30.0 66.1h.1M26.6 75.2h.1M31.7 85.9h.1M91.7 74.4h.1M82.9 70.7h.1M29.4 65.5h.1M33.4 64.9h.1M20.4 61.0h.1M26.6 62.7h.1M38.8 32.2h.1M17.6 36.7h.1M30.0 40.4h.1M22.1 54.0h.1M29.4 56.4h.1"/><path stroke="#2a5ecf" d="M51.6 24.1h.1M50.1 25.3h.1M56.5 29.4h.1M53.6 30.8h.1M46.7 39.4h.1M47.4 39.5h.1M55.1 37.2h.1M40.0 44.1h.1M52.2 41.2h.1M81.8 42.3h.1M82.4 40.7h.1M51.0 45.6h.1M88.5 48.7h.1M40.0 52.0h.1M48.1 51.0h.1M50.4 51.1h.1M85.2 54.7h.1M98.4 52.6h.1M36.7 58.6h.1M48.3 56.0h.1M46.3 56.6h.1M49.3 57.5h.1M57.2 58.8h.1M68.9 56.2h.1M71.4 59.9h.1M86.3 56.3h.1M86.5 56.1h.1M88.6 59.1h.1M99.0 59.0h.1M48.0 63.0h.1M47.9 61.1h.1M64.3 63.6h.1M72.9 63.0h.1M78.5 62.3h.1M35.8 66.0h.1M59.3 66.1h.1M62.5 67.9h.1M66.4 67.1h.1M69.7 68.2h.1M42.4 72.5h.1M74.3 72.5h.1M40.8 79.2h.1M55.1 78.6h.1M65.9 75.4h.1M72.1 79.6h.1M43.2 81.6h.1M45.7 80.2h.1M60.4 83.4h.1M52.7 86.8h.1M33.3 93.9h.1M39.4 92.5h.1M45.3 94.3h.1M54.1 90.8h.1M59.1 91.7h.1M71.4 92.0h.1M38.5 98.8h.1M42.7 99.3h.1M41.4 97.9h.1M32.7 100.2h.1M45.2 101.4h.1M56.9 100.7h.1M55.1 102.5h.1M32.5 109.9h.1M31.8 109.6h.1M43.4 105.5h.1M56.2 108.0h.1M37.1 116.4h.1M31.8 70.1h.1M30.4 59.6h.1M31.9 9.4h.1M5.7 47.2h.1M28.3 54.4h.1M17.3 55.9h.1"/><path stroke="#2a5ecf" d="M49.7 22.2h.1M47.2 25.3h.1M52.5 27.9h.1M53.0 28.2h.1M44.8 30.0h.1M53.7 35.0h.1M48.0 43.2h.1M46.0 42.3h.1M49.3 49.2h.1M53.1 48.2h.1M80.9 45.0h.1M84.3 46.9h.1M85.5 48.8h.1M85.8 45.4h.1M37.5 53.1h.1M35.6 51.8h.1M42.3 53.2h.1M46.8 50.8h.1M61.7 50.1h.1M62.6 52.4h.1M69.9 53.7h.1M70.2 54.3h.1M75.3 53.9h.1M87.8 50.1h.1M95.8 53.2h.1M56.4 59.4h.1M67.1 55.8h.1M82.1 55.5h.1M91.3 59.3h.1M90.4 55.0h.1M96.7 59.4h.1M43.1 64.4h.1M67.3 61.5h.1M85.8 60.2h.1M36.9 66.4h.1M35.0 66.4h.1M39.5 69.2h.1M50.8 65.9h.1M39.5 73.8h.1M48.1 71.5h.1M50.5 72.1h.1M59.5 71.7h.1M55.4 71.6h.1M65.1 70.8h.1M67.1 74.1h.1M71.3 70.8h.1M47.0 76.1h.1M52.0 76.5h.1M69.7 78.5h.1M79.2 76.8h.1M57.8 84.1h.1M61.7 80.4h.1M62.8 81.9h.1M65.1 80.9h.1M71.6 84.4h.1M77.5 80.5h.1M30.1 89.0h.1M49.3 90.0h.1M64.0 86.4h.1M40.5 93.8h.1M42.7 91.5h.1M48.3 94.1h.1M48.8 90.9h.1M56.7 90.5h.1M66.5 91.6h.1M72.6 91.9h.1M28.2 99.3h.1M35.8 95.5h.1M34.9 97.0h.1M41.7 96.8h.1M43.1 96.5h.1M49.9 99.1h.1M53.3 97.8h.1M57.3 97.6h.1M32.3 101.6h.1M42.3 100.8h.1M51.7 109.1h.1M34.3 112.5h.1M63.9 110.8h.1M38.6 117.8h.1M27.0 53.2h.1M25.2 25.1h.1M45.6 15.2h.1M5.3 36.8h.1M19.3 58.7h.1"/><path stroke="#ff0a14" d="M50.1 21.1h.1M46.1 27.9h.1M45.7 27.9h.1M53.3 25.8h.1M52.4 29.4h.1M52.8 25.3h.1M55.1 26.2h.1M54.9 27.2h.1M47.6 33.4h.1M48.4 34.4h.1M47.7 30.3h.1M46.3 30.1h.1M52.1 34.9h.1M57.1 31.8h.1M59.9 33.3h.1M43.4 36.7h.1M45.7 37.9h.1M54.1 37.5h.1M53.5 35.9h.1M53.4 35.5h.1M57.1 38.5h.1M56.9 39.7h.1M58.0 39.4h.1M59.2 36.3h.1M60.7 35.4h.1M63.1 38.3h.1M61.9 39.9h.1M63.7 35.8h.1M87.3 39.6h.1M42.0 43.4h.1M46.5 41.7h.1M44.9 43.7h.1M48.9 43.4h.1M45.9 41.2h.1M50.8 40.4h.1M51.5 40.2h.1M59.4 40.7h.1M63.6 40.7h.1M63.7 44.0h.1M64.0 43.4h.1M68.1 41.0h.1M69.9 40.7h.1M81.0 42.6h.1M80.8 41.0h.1M85.7 44.5h.1M89.5 42.9h.1M39.4 46.3h.1M37.8 46.5h.1M41.6 47.1h.1M40.1 47.5h.1M49.0 47.4h.1M47.4 45.0h.1M52.9 49.7h.1M52.3 45.2h.1M53.0 45.6h.1M58.9 47.4h.1M55.7 46.2h.1M56.0 45.1h.1M57.0 48.4h.1M57.8 49.6h.1M55.6 45.2h.1M63.2 47.5h.1M60.7 46.1h.1M67.8 49.7h.1M65.2 47.0h.1M71.5 49.5h.1M71.2 45.8h.1M78.6 47.2h.1M83.6 48.8h.1M80.8 48.7h.1M83.1 46.6h.1M83.3 49.6h.1M91.0 47.8h.1M91.1 47.0h.1M37.8 51.0h.1M37.9 50.9h.1M43.0 52.0h.1M46.5 54.4h.1M46.4 52.5h.1M45.2 51.4h.1M52.0 54.0h.1M50.1 54.7h.1M54.4 52.4h.1M49.8 54.6h.1M54.7 52.8h.1M62.8 52.2h.1M69.8 52.5h.1M74.5 53.7h.1M74.3 54.6h.1M78.6 50.7h.1M75.5 51.3h.1M77.0 51.6h.1M75.3 54.7h.1M84.5 53.1h.1M80.4 53.7h.1M80.8 53.2h.1M84.4 52.9h.1M85.0 51.8h.1M85.7 50.7h.1M85.0 53.2h.1M88.9 53.9h.1M92.2 52.0h.1M92.5 52.5h.1M90.4 51.5h.1M93.1 50.0h.1M36.8 59.2h.1M38.0 58.2h.1M39.7 59.2h.1M40.9 55.5h.1M46.1 57.1h.1M45.9 58.6h.1M50.4 55.0h.1M50.5 58.8h.1M52.0 57.5h.1M53.7 56.3h.1M54.2 56.4h.1M58.9 55.1h.1M61.7 58.9h.1M71.8 55.7h.1M73.2 59.5h.1M77.6 56.3h.1M76.6 57.3h.1M84.4 55.2h.1M82.2 55.8h.1M83.1 57.6h.1M86.8 57.8h.1M90.1 59.2h.1M90.7 56.5h.1M93.6 59.5h.1M97.8 59.5h.1M41.7 62.1h.1M41.1 61.5h.1M47.8 63.9h.1M49.0 63.1h.1M47.6 63.1h.1M48.3 60.5h.1M51.3 64.1h.1M51.6 61.6h.1M50.1 64.1h.1M59.4 62.4h.1M54.5 63.4h.1M63.4 63.6h.1M59.9 63.1h.1M62.8 64.1h.1M63.1 60.8h.1M69.2 63.9h.1M64.8 64.9h.1M66.2 63.0h.1M73.7 63.0h.1M74.0 64.0h.1M70.9 60.0h.1M70.8 62.1h.1M73.5 63.4h.1M79.2 61.2h.1M83.0 61.8h.1M81.4 60.5h.1M87.3 64.4h.1M90.3 64.8h.1M89.7 61.3h.1M94.4 60.3h.1M90.2 63.8h.1M91.1 61.3h.1M36.3 70.0h.1M39.5 69.6h.1M39.0 65.3h.1M41.0 69.9h.1M48.1 66.0h.1M47.5 67.5h.1M53.7 66.8h.1M52.1 67.2h.1M55.8 69.1h.1M54.7 65.5h.1M90.7 65.4h.1M97.3 67.5h.1M96.7 68.7h.1M41.9 73.9h.1M44.3 72.9h.1M47.5 71.9h.1M46.4 71.6h.1M47.0 72.2h.1M51.1 74.2h.1M52.5 71.8h.1M61.6 70.8h.1M60.4 73.2h.1M62.5 71.8h.1M59.7 72.1h.1M67.0 72.8h.1M67.4 72.1h.1M70.8 70.5h.1M71.2 72.2h.1M71.4 70.3h.1M72.6 71.2h.1M76.9 74.0h.1M35.7 75.2h.1M37.8 76.7h.1M43.0 75.5h.1M45.5 79.8h.1M46.4 78.3h.1M51.1 76.9h.1M57.8 76.8h.1M64.1 78.7h.1M65.6 79.6h.1M68.2 75.4h.1M68.2 79.1h.1M72.7 77.7h.1M76.0 79.4h.1M76.3 76.0h.1M39.4 82.8h.1M39.5 84.6h.1M40.8 81.2h.1M48.6 81.6h.1M45.3 81.5h.1M47.4 80.4h.1M56.0 82.2h.1M58.8 84.9h.1M59.3 83.1h.1M67.2 81.3h.1M65.1 82.6h.1M69.8 81.2h.1M72.5 81.1h.1M72.6 84.4h.1M76.2 83.8h.1M37.2 88.4h.1M43.9 88.1h.1M39.9 86.6h.1M42.4 85.2h.1M48.4 89.4h.1M54.2 88.4h.1M51.1 89.9h.1M50.7 86.2h.1M56.7 87.8h.1M56.0 85.8h.1M61.6 89.3h.1M59.8 87.4h.1M68.8 88.2h.1M69.8 87.1h.1M71.2 87.5h.1M71.8 85.1h.1M34.4 92.3h.1M30.9 92.6h.1M29.9 90.1h.1M43.2 90.3h.1M44.1 94.7h.1M42.6 91.1h.1M44.5 91.1h.1M48.8 91.3h.1M45.9 91.7h.1M46.3 93.9h.1M54.4 90.0h.1M57.0 91.2h.1M56.1 94.4h.1M55.2 92.1h.1M55.2 93.7h.1M59.8 90.2h.1M68.9 93.6h.1M71.1 93.2h.1M33.6 99.5h.1M31.4 99.2h.1M35.2 98.4h.1M43.5 98.1h.1M41.5 98.2h.1M43.6 96.8h.1M48.1 96.9h.1M51.5 95.2h.1M50.1 96.1h.1M58.6 99.4h.1M55.8 99.3h.1M56.6 95.3h.1M31.0 103.6h.1M29.8 102.2h.1M37.0 103.4h.1M35.2 104.6h.1M35.5 100.5h.1M37.8 101.3h.1M39.7 104.2h.1M41.4 103.2h.1M47.1 101.5h.1M44.7 103.0h.1M51.2 102.2h.1M58.7 104.4h.1M57.2 100.6h.1M57.2 102.5h.1M61.9 104.0h.1M62.4 103.4h.1M29.7 108.1h.1M33.0 109.1h.1M35.7 108.7h.1M35.5 106.1h.1M42.6 109.2h.1M52.2 109.7h.1M56.8 106.2h.1M58.5 108.4h.1M61.6 108.0h.1M61.7 108.3h.1M63.5 105.6h.1M63.6 105.9h.1M31.8 114.0h.1M30.8 111.8h.1M37.3 114.3h.1M39.1 114.5h.1M37.8 110.4h.1M39.3 111.8h.1M41.1 110.7h.1M58.0 111.4h.1M61.0 111.9h.1M60.4 111.5h.1M31.4 119.8h.1M30.8 116.0h.1M34.0 117.3h.1M36.3 119.6h.1M36.6 119.0h.1M32.8 122.9h.1M27.0 49.3h.1M22.8 62.2h.1M14.1 59.8h.1M29.4 61.0h.1M29.7 74.4h.1M20.7 50.1h.1M33.2 69.9h.1M30.8 59.8h.1M15.0 62.5h.1M22.5 67.7h.1M26.0 56.7h.1M33.9 26.9h.1M45.0 4.7h.1M53.5 19.8h.1M38.5 24.3h.1M41.4 26.5h.1M36.6 32.5h.1M17.8 36.8h.1M12.5 40.0h.1M27.2 40.4h.1M10.8 52.0h.1M32.2 69.5h.1M27.2 82.5h.1M33.4 61.5h.1M30.0 58.1h.1M27.2 68.9h.1M38.9 31.6h.1M11.8 38.3h.1M11.9 39.0h.1M6.3 50.2h.1M33.4 55.9h.1M18.1 65.6h.1M26.6 71.8h.1M67.8 38.4h.1M89.1 66.9h.1"/><path stroke="#ff0a14" d="M47.7 26.9h.1M46.8 26.5h.1M48.5 28.5h.1M49.4 25.6h.1M55.9 27.1h.1M47.3 34.8h.1M44.8 34.5h.1M46.5 30.5h.1M45.3 31.7h.1M45.3 30.5h.1M49.9 30.5h.1M51.2 31.3h.1M50.8 31.8h.1M50.3 33.9h.1M59.4 34.3h.1M58.2 31.1h.1M55.9 31.3h.1M58.0 34.8h.1M59.4 34.8h.1M62.8 34.0h.1M44.2 38.6h.1M49.0 39.0h.1M49.4 38.3h.1M45.2 35.1h.1M49.4 38.2h.1M45.8 36.5h.1M45.8 37.1h.1M45.2 39.6h.1M51.9 38.6h.1M52.3 36.2h.1M59.1 37.2h.1M56.8 37.7h.1M57.3 39.7h.1M58.7 35.7h.1M62.8 38.9h.1M61.7 37.6h.1M84.9 35.3h.1M41.9 44.7h.1M41.7 42.5h.1M43.7 42.0h.1M45.8 40.8h.1M45.8 44.8h.1M50.7 42.9h.1M58.1 44.4h.1M54.7 44.2h.1M63.6 42.9h.1M61.3 40.5h.1M80.1 44.5h.1M81.8 44.1h.1M84.5 43.8h.1M89.1 43.6h.1M86.4 42.0h.1M36.9 46.7h.1M36.0 48.7h.1M35.3 45.8h.1M37.0 46.1h.1M39.0 50.0h.1M40.0 46.7h.1M40.8 47.8h.1M43.9 48.7h.1M42.1 46.9h.1M40.9 49.8h.1M46.5 47.2h.1M53.4 46.2h.1M49.9 47.6h.1M56.6 46.3h.1M61.6 48.4h.1M60.5 49.0h.1M67.0 45.9h.1M65.6 47.1h.1M69.8 45.3h.1M71.1 45.9h.1M76.4 49.6h.1M82.7 49.7h.1M79.6 46.2h.1M86.6 47.5h.1M89.1 45.9h.1M85.7 45.3h.1M84.7 47.8h.1M86.1 49.9h.1M35.2 51.0h.1M35.8 53.0h.1M40.5 54.0h.1M44.3 51.6h.1M41.6 54.3h.1M44.5 54.5h.1M44.6 52.8h.1M51.4 54.5h.1M50.6 52.0h.1M55.1 51.2h.1M58.3 50.2h.1M61.0 52.1h.1M62.4 52.1h.1M68.3 53.9h.1M74.4 52.5h.1M79.0 51.4h.1M79.7 54.1h.1M79.5 50.2h.1M84.5 51.8h.1M87.3 51.8h.1M90.7 50.3h.1M95.7 50.2h.1M38.0 59.3h.1M37.4 56.5h.1M43.2 55.3h.1M40.5 55.6h.1M48.8 58.1h.1M47.2 56.1h.1M53.5 55.9h.1M59.0 55.4h.1M55.5 56.3h.1M62.7 56.7h.1M63.7 58.3h.1M63.2 55.8h.1M68.0 59.2h.1M65.7 56.6h.1M71.7 56.0h.1M78.4 58.6h.1M82.8 58.9h.1M81.4 57.4h.1M82.4 57.7h.1M85.9 57.0h.1M85.6 59.0h.1M88.5 58.2h.1M91.9 57.1h.1M93.8 55.3h.1M93.4 55.7h.1M95.0 55.7h.1M98.4 59.2h.1M97.2 58.7h.1M97.0 55.3h.1M99.9 58.2h.1M37.1 62.4h.1M39.0 60.2h.1M37.1 63.9h.1M42.3 64.1h.1M41.5 62.5h.1M40.9 62.5h.1M44.4 63.3h.1M43.5 61.7h.1M43.4 60.2h.1M49.1 63.0h.1M47.8 62.3h.1M45.4 60.2h.1M54.1 63.3h.1M54.2 60.3h.1M55.1 64.8h.1M54.9 64.3h.1M63.0 62.3h.1M63.8 62.4h.1M66.3 63.2h.1M67.6 62.1h.1M73.9 61.9h.1M73.9 60.2h.1M73.7 64.1h.1M70.9 64.3h.1M82.1 60.7h.1M84.9 60.3h.1M89.0 60.3h.1M94.0 64.2h.1M89.7 63.9h.1M91.0 63.0h.1M90.1 62.4h.1M98.1 61.0h.1M98.8 64.4h.1M95.2 62.2h.1M41.2 65.7h.1M42.1 65.9h.1M52.1 65.6h.1M53.1 69.1h.1M57.2 65.1h.1M60.2 68.0h.1M66.5 69.7h.1M73.9 69.4h.1M70.9 67.7h.1M92.5 67.9h.1M91.8 66.6h.1M92.1 66.9h.1M92.4 65.1h.1M95.3 66.7h.1M38.6 72.6h.1M43.0 74.6h.1M48.4 74.4h.1M46.5 72.8h.1M47.4 70.4h.1M49.7 72.8h.1M53.4 72.7h.1M57.4 74.4h.1M59.3 72.4h.1M64.5 73.2h.1M68.7 72.9h.1M67.2 75.0h.1M69.6 73.9h.1M71.1 73.6h.1M74.0 72.9h.1M69.7 74.7h.1M74.0 74.1h.1M36.3 76.2h.1M45.9 78.9h.1M53.8 76.6h.1M52.3 76.8h.1M55.9 77.0h.1M58.9 79.3h.1M55.2 76.4h.1M58.0 76.2h.1M60.4 75.6h.1M68.7 78.9h.1M68.8 78.0h.1M73.6 78.1h.1M73.5 76.3h.1M70.7 75.3h.1M71.3 77.1h.1M72.9 76.2h.1M75.2 77.8h.1M77.5 77.3h.1M75.1 76.4h.1M46.3 84.2h.1M49.7 82.2h.1M49.5 84.2h.1M55.5 80.4h.1M62.5 81.5h.1M68.9 82.7h.1M70.1 85.0h.1M70.4 84.8h.1M73.9 80.8h.1M30.5 87.2h.1M33.7 87.9h.1M31.0 88.4h.1M38.5 89.7h.1M42.9 87.0h.1M41.9 85.8h.1M40.6 89.5h.1M41.4 86.8h.1M51.0 88.8h.1M52.3 87.0h.1M49.8 86.7h.1M55.2 85.0h.1M54.8 86.5h.1M57.3 89.7h.1M55.4 87.9h.1M59.4 86.8h.1M65.5 88.0h.1M69.3 88.0h.1M64.9 89.0h.1M65.2 85.9h.1M67.7 89.6h.1M65.6 86.6h.1M69.7 88.1h.1M72.5 86.3h.1M74.4 85.3h.1M70.3 85.7h.1M34.2 90.7h.1M32.8 93.9h.1M31.3 94.9h.1M37.3 90.9h.1M35.3 90.1h.1M38.4 91.2h.1M37.7 91.7h.1M36.1 94.5h.1M42.3 92.0h.1M45.3 93.4h.1M47.4 94.4h.1M53.2 90.5h.1M55.4 93.4h.1M63.2 91.4h.1M62.0 92.0h.1M69.7 93.5h.1M29.5 96.2h.1M27.6 98.7h.1M31.9 98.6h.1M32.1 97.6h.1M33.6 96.2h.1M30.4 99.1h.1M36.3 99.0h.1M34.6 96.0h.1M37.4 95.3h.1M43.7 95.5h.1M40.5 97.1h.1M45.5 99.9h.1M46.4 97.6h.1M53.1 97.4h.1M58.0 97.1h.1M59.4 96.4h.1M32.2 102.0h.1M35.6 104.2h.1M35.3 100.3h.1M41.0 101.2h.1M41.5 100.2h.1M40.0 102.3h.1M49.3 101.7h.1M51.0 100.3h.1M52.3 100.5h.1M50.0 103.2h.1M60.5 100.6h.1M62.0 104.5h.1M29.9 107.9h.1M31.2 109.1h.1M29.6 109.7h.1M53.7 106.2h.1M57.0 109.5h.1M59.2 109.1h.1M57.8 109.2h.1M54.5 107.4h.1M61.8 106.7h.1M60.9 108.5h.1M62.9 105.2h.1M34.3 111.8h.1M30.6 114.4h.1M32.6 114.5h.1M34.4 110.9h.1M33.7 110.8h.1M37.6 112.2h.1M36.4 112.6h.1M52.4 110.2h.1M57.9 111.9h.1M56.2 110.7h.1M61.1 110.3h.1M33.4 116.6h.1M37.7 116.3h.1M35.8 116.2h.1M38.3 118.4h.1M35.1 116.5h.1M34.2 123.7h.1M31.2 122.0h.1M31.5 122.9h.1M31.5 48.4h.1M25.6 51.8h.1M30.7 51.5h.1M21.7 60.9h.1M15.6 59.1h.1M23.0 55.6h.1M16.9 57.5h.1M32.4 67.4h.1M16.5 56.0h.1M24.2 51.5h.1M19.9 64.4h.1M18.9 19.5h.1M47.3 6.8h.1M52.4 21.5h.1M39.4 22.6h.1M31.8 38.7h.1M10.5 42.9h.1M30.0 43.5h.1M11.4 48.0h.1M7.6 50.2h.1M9.9 54.2h.1M25.2 49.7h.1M24.3 73.5h.1M26.0 76.3h.1M30.0 73.5h.1M29.4 79.1h.1M96.7 69.4h.1M93.5 70.0h.1M82.2 77.6h.1M18.7 64.9h.1M32.2 59.3h.1M31.1 67.7h.1M24.3 67.2h.1"/><path stroke="#2a5ecf" d="M47.1 29.4h.1M54.5 29.1h.1M46.6 31.8h.1M44.8 31.0h.1M52.1 30.7h.1M50.4 35.0h.1M64.8 39.9h.1M51.3 40.0h.1M63.7 42.8h.1M86.9 40.1h.1M35.5 49.5h.1M48.6 49.3h.1M45.0 45.8h.1M66.0 49.8h.1M88.0 47.2h.1M90.1 49.2h.1M91.4 48.7h.1M50.3 53.9h.1M53.7 54.1h.1M82.8 51.6h.1M85.6 52.9h.1M84.6 53.2h.1M93.2 51.2h.1M92.3 54.7h.1M92.7 54.1h.1M54.9 58.9h.1M71.7 57.9h.1M78.8 58.4h.1M66.3 62.9h.1M66.4 63.9h.1M72.4 64.1h.1M90.3 61.2h.1M95.0 64.6h.1M98.7 63.1h.1M95.2 64.4h.1M58.0 66.0h.1M60.3 69.1h.1M54.1 70.1h.1M59.4 74.1h.1M68.3 70.5h.1M71.0 73.0h.1M75.7 71.9h.1M59.7 75.8h.1M42.7 83.1h.1M43.4 84.2h.1M44.1 80.8h.1M49.0 84.7h.1M54.3 80.4h.1M56.1 82.3h.1M65.1 84.3h.1M66.9 82.8h.1M72.3 83.9h.1M71.4 80.1h.1M30.1 85.1h.1M40.3 86.8h.1M47.0 86.3h.1M60.3 86.3h.1M68.2 88.2h.1M72.6 88.6h.1M30.8 93.6h.1M31.0 93.9h.1M40.8 91.3h.1M54.1 93.6h.1M53.9 94.9h.1M57.0 90.6h.1M30.9 104.0h.1M45.0 102.4h.1M50.4 103.9h.1M55.0 104.4h.1M31.7 115.5h.1M33.7 118.2h.1M29.2 63.1h.1M28.2 67.0h.1M28.6 75.2h.1M29.0 46.9h.1M38.8 13.8h.1M17.6 67.8h.1M25.5 66.7h.1M97.9 67.5h.1M92.5 73.5h.1M28.3 62.1h.1"/><path stroke="#2a5ecf" d="M48.1 26.4h.1M51.9 25.2h.1M54.2 27.4h.1M54.6 30.1h.1M47.1 39.7h.1M68.4 39.9h.1M84.1 39.1h.1M49.6 41.5h.1M68.2 41.3h.1M86.1 44.2h.1M42.6 49.3h.1M46.5 49.6h.1M60.5 49.8h.1M85.0 47.5h.1M90.7 45.8h.1M39.2 51.9h.1M38.8 52.2h.1M44.9 53.1h.1M58.1 54.5h.1M78.3 50.8h.1M81.3 54.4h.1M81.5 54.0h.1M42.5 56.8h.1M50.0 59.1h.1M54.4 55.0h.1M56.5 57.0h.1M72.0 58.2h.1M76.6 56.1h.1M75.0 57.1h.1M77.6 57.0h.1M84.2 55.9h.1M83.4 59.7h.1M84.6 57.1h.1M89.2 57.6h.1M56.6 60.5h.1M58.1 61.2h.1M58.2 60.9h.1M66.7 63.4h.1M88.4 62.1h.1M93.0 63.2h.1M96.8 61.7h.1M45.9 66.0h.1M51.2 69.2h.1M62.0 66.4h.1M66.7 69.9h.1M68.5 69.6h.1M65.7 67.1h.1M93.1 67.3h.1M65.8 73.2h.1M67.6 74.0h.1M40.3 76.8h.1M52.8 75.5h.1M56.6 78.3h.1M70.2 78.5h.1M51.6 81.4h.1M62.1 82.8h.1M73.7 82.0h.1M72.3 84.6h.1M38.9 89.0h.1M47.3 87.6h.1M51.9 86.8h.1M56.0 88.6h.1M67.9 93.3h.1M33.8 95.2h.1M36.2 96.9h.1M44.9 98.8h.1M52.9 97.8h.1M49.8 98.4h.1M32.5 100.9h.1M43.6 100.6h.1M49.0 104.2h.1M52.8 100.3h.1M50.7 103.7h.1M55.3 100.8h.1M60.7 104.4h.1M30.7 108.0h.1M42.0 108.9h.1M37.1 111.9h.1M63.2 110.9h.1M24.1 58.1h.1M33.7 67.4h.1M36.9 32.3h.1"/><path stroke="#ff0a14" d="M52.8 28.8h.1M51.8 25.8h.1M48.0 32.6h.1M48.5 32.0h.1M50.8 31.7h.1M51.3 30.6h.1M49.6 34.8h.1M52.2 30.1h.1M53.8 33.5h.1M58.4 31.6h.1M58.5 34.1h.1M56.7 34.7h.1M43.5 39.9h.1M48.6 36.1h.1M46.3 37.3h.1M52.2 37.6h.1M52.3 36.6h.1M50.9 38.9h.1M57.3 38.8h.1M57.6 37.5h.1M64.3 36.1h.1M64.3 37.0h.1M84.9 39.3h.1M84.8 39.3h.1M38.3 41.4h.1M45.3 42.2h.1M52.0 41.0h.1M52.1 43.8h.1M59.0 43.1h.1M62.1 42.5h.1M63.0 41.1h.1M62.6 43.1h.1M62.9 42.4h.1M68.5 43.7h.1M64.9 41.3h.1M70.8 43.7h.1M83.0 43.4h.1M80.5 44.9h.1M84.3 42.2h.1M86.8 41.5h.1M85.2 41.7h.1M35.9 45.2h.1M37.3 47.0h.1M48.9 45.1h.1M49.4 46.2h.1M53.3 47.3h.1M50.8 48.2h.1M52.4 46.9h.1M56.0 47.3h.1M59.3 48.2h.1M65.6 49.9h.1M69.7 48.3h.1M71.4 46.9h.1M84.0 46.7h.1M82.6 46.3h.1M35.8 53.9h.1M39.2 50.5h.1M42.2 50.3h.1M40.9 51.5h.1M42.3 51.8h.1M44.5 51.8h.1M46.6 54.1h.1M47.7 54.5h.1M47.1 54.6h.1M54.3 51.0h.1M57.1 51.9h.1M58.7 50.6h.1M66.9 50.5h.1M65.1 52.2h.1M65.0 52.2h.1M67.1 50.2h.1M71.4 54.8h.1M70.3 53.9h.1M77.9 54.5h.1M75.1 52.7h.1M83.3 52.2h.1M87.1 54.5h.1M94.0 50.2h.1M90.2 51.0h.1M91.0 50.2h.1M98.0 54.2h.1M97.3 52.2h.1M35.6 58.1h.1M35.2 55.1h.1M36.2 55.7h.1M44.0 55.3h.1M43.8 59.6h.1M44.2 55.5h.1M43.6 58.2h.1M43.6 58.2h.1M44.6 56.3h.1M44.7 57.1h.1M52.0 56.7h.1M50.6 58.5h.1M57.6 56.8h.1M70.4 59.9h.1M73.1 55.5h.1M73.5 58.7h.1M72.7 55.5h.1M70.5 56.9h.1M69.7 57.0h.1M72.5 57.0h.1M78.1 59.4h.1M78.4 58.5h.1M84.2 56.1h.1M84.4 56.8h.1M85.1 58.9h.1M85.6 59.8h.1M92.7 58.3h.1M91.3 59.6h.1M97.8 56.3h.1M95.3 59.5h.1M95.5 58.5h.1M97.3 56.3h.1M100.2 57.5h.1M36.3 62.4h.1M42.4 63.2h.1M44.7 61.5h.1M44.5 60.9h.1M53.4 62.8h.1M50.8 61.5h.1M52.4 64.6h.1M51.7 60.1h.1M57.7 61.1h.1M55.3 60.1h.1M55.1 60.1h.1M63.8 63.6h.1M64.2 61.3h.1M65.2 64.0h.1M71.0 62.1h.1M74.1 61.7h.1M75.5 63.8h.1M76.8 61.0h.1M75.8 63.8h.1M74.9 64.0h.1M78.4 61.2h.1M82.3 62.0h.1M89.2 63.8h.1M85.5 60.9h.1M87.8 62.0h.1M94.5 61.1h.1M91.3 64.5h.1M93.3 60.5h.1M98.6 62.4h.1M97.6 60.7h.1M95.6 60.3h.1M98.1 62.8h.1M39.6 69.0h.1M41.7 69.6h.1M47.4 65.7h.1M45.5 65.3h.1M53.8 67.5h.1M51.9 69.4h.1M52.5 65.0h.1M56.1 68.6h.1M56.4 68.8h.1M54.8 69.4h.1M55.4 65.5h.1M60.1 67.5h.1M60.1 67.0h.1M62.4 68.7h.1M68.7 67.6h.1M68.4 66.7h.1M64.8 67.6h.1M69.8 67.2h.1M72.0 65.1h.1M72.7 69.0h.1M70.8 68.4h.1M87.2 65.7h.1M92.8 66.0h.1M96.0 68.9h.1M98.9 67.2h.1M94.8 66.9h.1M95.0 66.1h.1M46.8 72.3h.1M45.4 71.5h.1M45.2 72.9h.1M53.7 74.8h.1M54.5 72.6h.1M55.0 71.9h.1M57.2 74.1h.1M64.5 74.4h.1M60.9 72.6h.1M65.0 70.9h.1M76.0 74.4h.1M75.7 70.9h.1M35.5 76.4h.1M46.8 75.7h.1M49.0 77.9h.1M46.3 76.2h.1M47.1 77.7h.1M49.9 75.9h.1M56.1 76.1h.1M59.0 78.9h.1M58.7 76.8h.1M63.1 75.2h.1M60.5 76.5h.1M60.4 79.2h.1M60.8 77.2h.1M62.9 76.7h.1M65.9 75.2h.1M64.7 76.2h.1M68.0 77.0h.1M69.2 77.1h.1M73.0 78.7h.1M71.8 75.3h.1M70.1 78.8h.1M72.2 79.8h.1M70.5 76.6h.1M77.1 77.2h.1M77.2 78.8h.1M78.3 79.2h.1M80.9 76.0h.1M39.5 83.8h.1M34.9 83.6h.1M44.2 83.3h.1M40.2 80.1h.1M41.0 80.9h.1M42.7 84.2h.1M43.4 84.2h.1M47.3 83.1h.1M48.6 83.5h.1M47.0 82.5h.1M47.9 80.8h.1M50.5 83.6h.1M53.8 83.9h.1M56.2 82.2h.1M59.8 83.4h.1M62.4 84.8h.1M61.9 83.2h.1M65.6 82.9h.1M73.1 83.8h.1M70.2 83.9h.1M71.0 83.5h.1M75.1 81.9h.1M35.2 89.4h.1M40.4 89.1h.1M43.7 87.0h.1M41.8 87.9h.1M47.4 86.7h.1M45.9 86.4h.1M44.7 87.8h.1M48.4 88.2h.1M53.5 89.4h.1M53.2 87.5h.1M58.9 87.3h.1M60.8 85.1h.1M68.9 86.7h.1M67.2 89.4h.1M74.1 87.8h.1M34.8 92.5h.1M35.2 90.9h.1M38.2 94.6h.1M38.5 92.3h.1M42.7 92.0h.1M43.8 90.3h.1M46.9 94.5h.1M47.5 92.3h.1M54.5 91.5h.1M49.6 90.6h.1M53.5 93.4h.1M55.1 92.4h.1M56.3 92.5h.1M64.3 94.4h.1M60.4 91.3h.1M67.2 92.7h.1M69.5 93.0h.1M32.6 97.7h.1M32.1 97.4h.1M30.6 95.7h.1M34.1 97.6h.1M37.1 97.3h.1M35.7 96.9h.1M41.1 96.2h.1M41.4 95.2h.1M47.8 96.6h.1M48.3 95.1h.1M47.5 97.3h.1M49.0 97.2h.1M52.9 98.7h.1M53.3 98.8h.1M50.0 95.4h.1M57.1 95.0h.1M31.7 104.4h.1M37.3 104.0h.1M37.9 101.5h.1M35.0 103.9h.1M39.3 102.1h.1M44.1 101.6h.1M42.9 100.6h.1M48.8 103.0h.1M47.2 100.4h.1M52.5 102.3h.1M56.4 103.3h.1M59.2 101.7h.1M31.0 109.5h.1M33.4 108.6h.1M29.8 106.2h.1M36.5 105.4h.1M36.2 105.7h.1M42.7 106.0h.1M53.2 109.2h.1M53.5 108.0h.1M53.4 106.3h.1M56.5 108.9h.1M60.1 109.1h.1M63.7 108.1h.1M31.5 112.5h.1M32.1 110.0h.1M37.8 113.2h.1M37.9 114.5h.1M37.0 111.8h.1M39.4 110.3h.1M53.3 111.5h.1M30.8 117.0h.1M32.9 118.8h.1M34.8 117.7h.1M33.0 128.1h.1M31.1 46.2h.1M17.7 64.5h.1M18.6 62.4h.1M33.4 67.0h.1M21.3 70.2h.1M31.9 49.1h.1M47.3 15.2h.1M43.4 27.7h.1M38.2 35.1h.1M35.0 37.2h.1M31.7 39.5h.1M12.5 47.2h.1M24.5 51.4h.1M24.9 58.7h.1M28.9 81.9h.1M26.0 85.9h.1M19.3 61.5h.1M30.0 60.4h.1M17.6 62.1h.1M40.5 28.8h.1M4.9 42.9h.1M32.8 75.7h.1M79.1 75.7h.1"/></g><g transform="translate(439.3 10.0)"><line x1="11.4" y1="0" x2="11.4" y2="132.4" class="gr"/><line x1="36.5" y1="0" x2="36.5" y2="132.4" class="gr"/><line x1="61.5" y1="0" x2="61.5" y2="132.4" class="gr"/><line x1="86.6" y1="0" x2="86.6" y2="132.4" class="gr"/><line x1="0" y1="6.0" x2="105.2" y2="6.0" class="gr"/><line x1="0" y1="35.8" x2="105.2" y2="35.8" class="gr"/><line x1="0" y1="65.6" x2="105.2" y2="65.6" class="gr"/><line x1="0" y1="95.4" x2="105.2" y2="95.4" class="gr"/><line x1="0" y1="125.2" x2="105.2" y2="125.2" class="gr"/><path stroke="#ff0a14" d="M51.6 24.1h.1M52.6 24.7h.1M52.4 22.0h.1M54.7 24.3h.1M47.9 27.1h.1M51.1 28.5h.1M51.8 29.2h.1M52.8 25.1h.1M50.1 25.3h.1M56.5 29.4h.1M57.2 29.4h.1M45.8 30.0h.1M52.6 30.7h.1M51.8 32.4h.1M53.6 30.8h.1M62.6 34.5h.1M45.2 39.1h.1M46.7 39.4h.1M47.4 39.5h.1M49.6 37.2h.1M55.1 37.2h.1M64.0 35.8h.1M60.2 39.4h.1M61.2 36.0h.1M38.2 42.8h.1M40.0 44.1h.1M44.4 41.7h.1M44.8 40.6h.1M44.9 44.2h.1M52.2 41.2h.1M54.3 41.5h.1M52.0 40.0h.1M56.4 41.6h.1M58.1 43.2h.1M59.7 40.7h.1M67.8 40.3h.1M81.8 42.3h.1M84.2 40.1h.1M84.2 41.1h.1M82.4 40.7h.1M88.6 42.5h.1M88.9 43.5h.1M89.7 43.7h.1M39.1 45.6h.1M40.2 46.0h.1M41.2 45.3h.1M44.7 48.5h.1M54.1 48.2h.1M51.0 45.6h.1M57.5 45.1h.1M59.3 48.5h.1M61.1 49.1h.1M69.5 46.4h.1M71.3 49.8h.1M76.3 49.1h.1M79.7 47.1h.1M79.7 45.2h.1M79.8 49.6h.1M80.9 49.8h.1M81.9 49.8h.1M88.5 48.7h.1M88.6 48.9h.1M87.5 46.6h.1M86.1 46.8h.1M88.4 45.4h.1M88.9 49.9h.1M91.6 48.1h.1M92.9 48.7h.1M90.5 46.2h.1M40.0 52.0h.1M40.0 50.8h.1M48.1 51.0h.1M52.6 54.1h.1M50.4 51.1h.1M62.3 53.1h.1M66.8 50.9h.1M73.4 52.6h.1M77.0 54.6h.1M82.3 52.9h.1M83.9 50.5h.1M80.8 55.0h.1M82.4 51.8h.1M80.2 53.1h.1M85.2 51.1h.1M87.4 51.0h.1M85.2 54.7h.1M86.5 51.3h.1M91.7 54.7h.1M93.4 50.1h.1M93.9 53.9h.1M93.7 53.7h.1M95.6 50.5h.1M98.4 52.6h.1M36.7 58.6h.1M43.6 59.1h.1M48.3 56.0h.1M46.3 56.6h.1M49.3 57.5h.1M46.7 58.9h.1M46.2 58.5h.1M52.0 55.5h.1M58.0 58.9h.1M59.0 57.5h.1M55.7 57.3h.1M57.2 58.8h.1M62.4 55.6h.1M68.9 56.2h.1M65.5 56.5h.1M65.3 55.8h.1M74.3 55.5h.1M71.4 59.9h.1M77.7 57.3h.1M76.1 58.1h.1M82.7 59.1h.1M82.1 57.1h.1M82.9 57.0h.1M83.3 55.6h.1M86.3 56.3h.1M85.6 58.7h.1M86.5 56.1h.1M86.3 58.2h.1M88.6 59.1h.1M86.8 56.5h.1M90.8 56.9h.1M90.8 57.1h.1M93.1 56.4h.1M93.7 58.2h.1M89.6 55.1h.1M95.7 58.9h.1M99.0 59.0h.1M97.5 58.9h.1M95.7 55.7h.1M38.1 63.1h.1M36.2 64.3h.1M41.0 64.1h.1M48.0 63.0h.1M47.9 61.1h.1M51.7 63.2h.1M52.3 60.2h.1M57.5 64.7h.1M64.3 63.6h.1M59.6 60.1h.1M68.0 64.1h.1M72.9 63.0h.1M73.8 62.9h.1M69.9 62.8h.1M78.5 62.3h.1M76.9 62.9h.1M80.5 60.9h.1M79.6 60.2h.1M87.3 61.3h.1M88.6 64.8h.1M86.8 64.7h.1M87.5 62.0h.1M85.8 62.8h.1M87.7 64.8h.1M94.2 63.4h.1M94.7 64.6h.1M95.6 64.7h.1M95.8 62.1h.1M35.8 66.0h.1M45.4 68.9h.1M44.9 65.4h.1M48.6 67.9h.1M48.2 67.0h.1M48.1 65.3h.1M49.6 69.6h.1M50.3 66.9h.1M59.3 67.5h.1M59.3 66.1h.1M62.5 67.9h.1M62.1 68.5h.1M60.0 69.3h.1M63.1 65.2h.1M63.8 65.7h.1M66.4 67.1h.1M65.7 66.7h.1M68.6 69.2h.1M69.3 69.7h.1M71.3 67.7h.1M70.2 69.8h.1M73.4 69.7h.1M69.7 68.2h.1M74.1 68.1h.1M92.2 68.1h.1M90.7 66.1h.1M96.3 68.4h.1M38.2 73.7h.1M40.1 74.4h.1M42.4 72.5h.1M48.4 74.2h.1M52.0 74.6h.1M52.1 73.4h.1M51.4 71.8h.1M57.9 72.6h.1M56.5 72.8h.1M57.1 70.6h.1M62.9 74.1h.1M62.0 70.9h.1M63.4 71.5h.1M63.0 70.0h.1M74.3 72.2h.1M74.3 72.5h.1M36.5 75.3h.1M35.1 79.1h.1M40.8 79.2h.1M43.1 76.9h.1M48.0 76.3h.1M48.9 75.6h.1M55.1 78.6h.1M61.4 75.2h.1M61.1 78.2h.1M65.9 75.4h.1M73.0 77.1h.1M72.1 79.6h.1M76.2 79.1h.1M75.3 78.3h.1M34.9 80.1h.1M35.0 82.4h.1M43.2 81.6h.1M46.3 82.8h.1M45.7 80.2h.1M57.1 82.1h.1M59.0 80.8h.1M57.3 81.7h.1M59.4 84.5h.1M61.0 81.7h.1M63.9 80.1h.1M60.4 83.4h.1M67.4 80.4h.1M66.7 84.3h.1M73.1 80.5h.1M78.1 80.2h.1M34.6 86.7h.1M35.3 87.5h.1M44.6 87.3h.1M49.4 85.2h.1M51.3 86.4h.1M52.7 86.8h.1M56.2 89.6h.1M63.0 86.1h.1M65.5 88.7h.1M72.9 86.7h.1M71.1 85.5h.1M33.3 93.9h.1M29.5 92.4h.1M30.6 93.8h.1M39.2 91.8h.1M39.4 92.5h.1M41.7 91.2h.1M45.3 94.3h.1M45.5 94.4h.1M54.1 90.8h.1M50.0 91.7h.1M49.7 91.2h.1M59.1 91.7h.1M62.3 91.8h.1M71.4 92.0h.1M72.2 91.6h.1M32.9 96.6h.1M30.6 98.1h.1M35.1 95.8h.1M39.5 98.5h.1M38.5 98.8h.1M42.7 99.3h.1M41.4 97.9h.1M47.0 99.5h.1M46.8 99.2h.1M46.6 97.4h.1M57.4 100.0h.1M55.2 96.7h.1M55.8 96.6h.1M56.0 99.3h.1M33.5 103.0h.1M31.8 104.7h.1M32.7 100.2h.1M39.0 103.4h.1M42.4 101.6h.1M43.7 100.8h.1M43.5 104.9h.1M40.6 102.7h.1M43.1 102.1h.1M45.2 101.4h.1M52.3 103.9h.1M56.9 100.7h.1M55.1 102.5h.1M56.3 101.0h.1M59.6 104.7h.1M32.5 109.9h.1M31.8 109.6h.1M37.9 105.8h.1M36.2 109.9h.1M43.4 105.5h.1M54.2 109.5h.1M53.4 109.4h.1M57.9 108.6h.1M56.2 108.0h.1M58.7 109.0h.1M61.0 105.4h.1M52.7 111.4h.1M31.9 117.8h.1M37.1 116.4h.1M36.3 119.7h.1M32.2 122.6h.1M32.8 124.5h.1M32.0 124.3h.1M37.0 124.5h.1M31.8 70.1h.1M26.0 52.0h.1M19.0 51.0h.1M22.6 51.1h.1M28.7 51.1h.1M30.4 59.6h.1M31.4 49.0h.1M30.6 59.4h.1M31.9 9.4h.1M33.9 15.8h.1M32.0 24.3h.1M5.7 47.2h.1M19.8 47.4h.1M3.8 51.4h.1M29.7 52.2h.1M28.3 54.4h.1M17.3 55.9h.1M30.0 66.1h.1M31.7 85.9h.1M82.9 70.7h.1M29.4 65.5h.1M20.4 61.0h.1M26.6 62.7h.1M38.8 32.2h.1M17.6 36.7h.1M30.0 40.4h.1M22.1 54.0h.1M29.4 56.4h.1"/><path stroke="#2a5ecf" d="M50.9 26.9h.1M55.6 34.1h.1M46.3 37.7h.1M52.1 37.8h.1M64.6 36.7h.1M84.9 39.7h.1M51.4 42.4h.1M67.0 42.7h.1M84.5 42.5h.1M40.0 46.2h.1M45.9 46.2h.1M79.3 46.0h.1M87.6 52.4h.1M96.2 53.7h.1M61.1 55.8h.1M73.5 58.5h.1M86.6 58.5h.1M96.2 55.8h.1M59.9 61.6h.1M97.9 60.1h.1M47.6 68.5h.1M57.1 67.7h.1M95.3 65.3h.1M56.7 73.1h.1M67.8 71.0h.1M74.0 72.9h.1M73.8 71.6h.1M40.1 77.2h.1M43.7 79.0h.1M47.5 76.1h.1M54.6 78.4h.1M62.4 78.6h.1M65.1 79.0h.1M36.7 80.9h.1M62.4 82.1h.1M65.8 80.5h.1M66.5 80.4h.1M30.4 87.8h.1M45.2 88.4h.1M57.4 85.4h.1M50.3 93.4h.1M54.6 95.0h.1M70.7 91.0h.1M30.8 99.5h.1M31.8 98.2h.1M36.7 97.4h.1M36.3 97.6h.1M35.4 98.6h.1M52.1 99.1h.1M60.5 95.3h.1M33.8 100.4h.1M44.1 105.0h.1M49.7 102.6h.1M50.2 102.9h.1M56.8 100.8h.1M56.5 105.4h.1M60.6 106.8h.1M38.4 115.2h.1M33.5 121.7h.1M20.3 55.3h.1M26.9 28.6h.1M45.6 12.6h.1M4.6 49.4h.1M26.6 75.2h.1M91.7 74.4h.1M33.4 64.9h.1"/><path stroke="#2a5ecf" d="M53.3 25.8h.1M52.4 29.4h.1M55.1 26.2h.1M57.1 31.8h.1M59.9 33.3h.1M43.4 36.7h.1M53.4 35.5h.1M60.7 35.4h.1M42.0 43.4h.1M59.4 40.7h.1M69.9 40.7h.1M85.7 44.5h.1M67.8 49.7h.1M65.2 47.0h.1M80.8 48.7h.1M91.0 47.8h.1M46.5 54.4h.1M46.4 52.5h.1M52.0 54.0h.1M50.1 54.7h.1M69.8 52.5h.1M74.5 53.7h.1M85.0 53.2h.1M36.8 59.2h.1M45.9 58.6h.1M58.9 55.1h.1M61.7 58.9h.1M76.6 57.3h.1M86.8 57.8h.1M93.6 59.5h.1M59.4 62.4h.1M54.5 63.4h.1M69.2 63.9h.1M73.7 63.0h.1M70.8 62.1h.1M79.2 61.2h.1M91.1 61.3h.1M39.5 69.6h.1M41.0 69.9h.1M48.1 66.0h.1M51.1 74.2h.1M72.6 71.2h.1M37.8 76.7h.1M46.4 78.3h.1M68.2 75.4h.1M68.2 79.1h.1M47.4 80.4h.1M65.1 82.6h.1M76.2 83.8h.1M37.2 88.4h.1M42.4 85.2h.1M54.2 88.4h.1M50.7 86.2h.1M71.8 85.1h.1M55.2 92.1h.1M59.8 90.2h.1M68.9 93.6h.1M33.6 99.5h.1M51.5 95.2h.1M37.8 101.3h.1M47.1 101.5h.1M29.7 108.1h.1M52.2 109.7h.1M31.8 114.0h.1M37.3 114.3h.1M37.8 110.4h.1M58.0 111.4h.1M60.4 111.5h.1M30.8 116.0h.1M29.7 74.4h.1M30.8 59.8h.1M53.5 19.8h.1M38.5 24.3h.1M12.5 40.0h.1M10.8 52.0h.1M30.0 58.1h.1"/><path stroke="#ff0a14" d="M49.7 22.2h.1M50.1 21.1h.1M47.2 25.3h.1M46.1 27.9h.1M45.7 27.9h.1M52.5 27.9h.1M52.8 25.3h.1M53.0 28.2h.1M54.9 27.2h.1M47.6 33.4h.1M48.4 34.4h.1M47.7 30.3h.1M44.8 30.0h.1M46.3 30.1h.1M53.7 35.0h.1M52.1 34.9h.1M45.7 37.9h.1M54.1 37.5h.1M53.5 35.9h.1M57.1 38.5h.1M56.9 39.7h.1M58.0 39.4h.1M59.2 36.3h.1M63.1 38.3h.1M61.9 39.9h.1M63.7 35.8h.1M87.3 39.6h.1M48.0 43.2h.1M46.5 41.7h.1M44.9 43.7h.1M48.9 43.4h.1M45.9 41.2h.1M46.0 42.3h.1M50.8 40.4h.1M51.5 40.2h.1M63.6 40.7h.1M63.7 44.0h.1M64.0 43.4h.1M68.1 41.0h.1M81.0 42.6h.1M80.8 41.0h.1M89.5 42.9h.1M39.4 46.3h.1M37.8 46.5h.1M41.6 47.1h.1M40.1 47.5h.1M49.3 49.2h.1M49.0 47.4h.1M47.4 45.0h.1M52.9 49.7h.1M53.1 48.2h.1M52.3 45.2h.1M53.0 45.6h.1M58.9 47.4h.1M55.7 46.2h.1M56.0 45.1h.1M57.0 48.4h.1M57.8 49.6h.1M55.6 45.2h.1M63.2 47.5h.1M60.7 46.1h.1M71.5 49.5h.1M71.2 45.8h.1M78.6 47.2h.1M83.6 48.8h.1M83.1 46.6h.1M80.9 45.0h.1M83.3 49.6h.1M84.3 46.9h.1M85.5 48.8h.1M85.8 45.4h.1M91.1 47.0h.1M37.5 53.1h.1M35.6 51.8h.1M37.8 51.0h.1M37.9 50.9h.1M42.3 53.2h.1M43.0 52.0h.1M46.8 50.8h.1M45.2 51.4h.1M54.4 52.4h.1M49.8 54.6h.1M54.7 52.8h.1M62.8 52.2h.1M61.7 50.1h.1M62.6 52.4h.1M69.9 53.7h.1M70.2 54.3h.1M74.3 54.6h.1M78.6 50.7h.1M75.5 51.3h.1M77.0 51.6h.1M75.3 54.7h.1M75.3 53.9h.1M84.5 53.1h.1M80.4 53.7h.1M80.8 53.2h.1M84.4 52.9h.1M87.8 50.1h.1M85.0 51.8h.1M85.7 50.7h.1M88.9 53.9h.1M92.2 52.0h.1M92.5 52.5h.1M90.4 51.5h.1M93.1 50.0h.1M95.8 53.2h.1M38.0 58.2h.1M39.7 59.2h.1M40.9 55.5h.1M46.1 57.1h.1M50.4 55.0h.1M50.5 58.8h.1M52.0 57.5h.1M53.7 56.3h.1M54.2 56.4h.1M56.4 59.4h.1M67.1 55.8h.1M71.8 55.7h.1M73.2 59.5h.1M77.6 56.3h.1M84.4 55.2h.1M82.2 55.8h.1M82.1 55.5h.1M83.1 57.6h.1M90.1 59.2h.1M91.3 59.3h.1M90.4 55.0h.1M90.7 56.5h.1M97.8 59.5h.1M96.7 59.4h.1M41.7 62.1h.1M41.1 61.5h.1M43.1 64.4h.1M47.8 63.9h.1M49.0 63.1h.1M47.6 63.1h.1M48.3 60.5h.1M51.3 64.1h.1M51.6 61.6h.1M50.1 64.1h.1M63.4 63.6h.1M59.9 63.1h.1M62.8 64.1h.1M63.1 60.8h.1M67.3 61.5h.1M64.8 64.9h.1M66.2 63.0h.1M74.0 64.0h.1M70.9 60.0h.1M73.5 63.4h.1M83.0 61.8h.1M81.4 60.5h.1M85.8 60.2h.1M87.3 64.4h.1M90.3 64.8h.1M89.7 61.3h.1M94.4 60.3h.1M90.2 63.8h.1M36.9 66.4h.1M36.3 70.0h.1M35.0 66.4h.1M39.0 65.3h.1M39.5 69.2h.1M47.5 67.5h.1M50.8 65.9h.1M53.7 66.8h.1M52.1 67.2h.1M55.8 69.1h.1M54.7 65.5h.1M90.7 65.4h.1M97.3 67.5h.1M96.7 68.7h.1M41.9 73.9h.1M39.5 73.8h.1M44.3 72.9h.1M47.5 71.9h.1M48.1 71.5h.1M46.4 71.6h.1M47.0 72.2h.1M50.5 72.1h.1M52.5 71.8h.1M59.5 71.7h.1M55.4 71.6h.1M61.6 70.8h.1M60.4 73.2h.1M62.5 71.8h.1M59.7 72.1h.1M67.0 72.8h.1M67.4 72.1h.1M65.1 70.8h.1M67.1 74.1h.1M71.3 70.8h.1M70.8 70.5h.1M71.2 72.2h.1M71.4 70.3h.1M76.9 74.0h.1M35.7 75.2h.1M43.0 75.5h.1M45.5 79.8h.1M47.0 76.1h.1M51.1 76.9h.1M52.0 76.5h.1M57.8 76.8h.1M64.1 78.7h.1M65.6 79.6h.1M69.7 78.5h.1M72.7 77.7h.1M79.2 76.8h.1M76.0 79.4h.1M76.3 76.0h.1M39.4 82.8h.1M39.5 84.6h.1M40.8 81.2h.1M48.6 81.6h.1M45.3 81.5h.1M57.8 84.1h.1M56.0 82.2h.1M58.8 84.9h.1M59.3 83.1h.1M61.7 80.4h.1M62.8 81.9h.1M65.1 80.9h.1M67.2 81.3h.1M69.8 81.2h.1M72.5 81.1h.1M71.6 84.4h.1M72.6 84.4h.1M77.5 80.5h.1M30.1 89.0h.1M43.9 88.1h.1M39.9 86.6h.1M49.3 90.0h.1M48.4 89.4h.1M51.1 89.9h.1M56.7 87.8h.1M56.0 85.8h.1M61.6 89.3h.1M59.8 87.4h.1M64.0 86.4h.1M68.8 88.2h.1M69.8 87.1h.1M71.2 87.5h.1M34.4 92.3h.1M30.9 92.6h.1M29.9 90.1h.1M43.2 90.3h.1M44.1 94.7h.1M42.6 91.1h.1M40.5 93.8h.1M42.7 91.5h.1M44.5 91.1h.1M48.8 91.3h.1M48.3 94.1h.1M45.9 91.7h.1M46.3 93.9h.1M48.8 90.9h.1M54.4 90.0h.1M57.0 91.2h.1M56.7 90.5h.1M56.1 94.4h.1M55.2 93.7h.1M66.5 91.6h.1M72.6 91.9h.1M71.1 93.2h.1M28.2 99.3h.1M31.4 99.2h.1M35.8 95.5h.1M34.9 97.0h.1M35.2 98.4h.1M43.5 98.1h.1M41.7 96.8h.1M43.1 96.5h.1M41.5 98.2h.1M43.6 96.8h.1M48.1 96.9h.1M50.1 96.1h.1M49.9 99.1h.1M53.3 97.8h.1M58.6 99.4h.1M55.8 99.3h.1M57.3 97.6h.1M56.6 95.3h.1M32.3 101.6h.1M31.0 103.6h.1M29.8 102.2h.1M37.0 103.4h.1M35.2 104.6h.1M35.5 100.5h.1M39.7 104.2h.1M42.3 100.8h.1M41.4 103.2h.1M44.7 103.0h.1M51.2 102.2h.1M58.7 104.4h.1M57.2 100.6h.1M57.2 102.5h.1M61.9 104.0h.1M62.4 103.4h.1M33.0 109.1h.1M35.7 108.7h.1M35.5 106.1h.1M42.6 109.2h.1M51.7 109.1h.1M56.8 106.2h.1M58.5 108.4h.1M61.6 108.0h.1M61.7 108.3h.1M63.5 105.6h.1M63.6 105.9h.1M34.3 112.5h.1M30.8 111.8h.1M39.1 114.5h.1M39.3 111.8h.1M41.1 110.7h.1M63.9 110.8h.1M61.0 111.9h.1M31.4 119.8h.1M34.0 117.3h.1M36.3 119.6h.1M38.6 117.8h.1M36.6 119.0h.1M32.8 122.9h.1M27.0 49.3h.1M22.8 62.2h.1M14.1 59.8h.1M29.4 61.0h.1M27.0 53.2h.1M20.7 50.1h.1M33.2 69.9h.1M15.0 62.5h.1M22.5 67.7h.1M26.0 56.7h.1M25.2 25.1h.1M33.9 26.9h.1M45.0 4.7h.1M45.6 15.2h.1M41.4 26.5h.1M36.6 32.5h.1M5.3 36.8h.1M17.8 36.8h.1M27.2 40.4h.1M19.3 58.7h.1M32.2 69.5h.1M27.2 82.5h.1M33.4 61.5h.1M27.2 68.9h.1M38.9 31.6h.1M11.8 38.3h.1M11.9 39.0h.1M6.3 50.2h.1M33.4 55.9h.1M18.1 65.6h.1M26.6 71.8h.1M67.8 38.4h.1M89.1 66.9h.1"/><path stroke="#ff0a14" d="M47.7 26.9h.1M48.5 28.5h.1M47.1 29.4h.1M54.5 29.1h.1M55.9 27.1h.1M46.6 31.8h.1M44.8 34.5h.1M46.5 30.5h.1M44.8 31.0h.1M45.3 31.7h.1M45.3 30.5h.1M49.9 30.5h.1M51.2 31.3h.1M52.1 30.7h.1M50.8 31.8h.1M58.2 31.1h.1M55.9 31.3h.1M58.0 34.8h.1M49.4 38.3h.1M49.4 38.2h.1M45.8 37.1h.1M45.2 39.6h.1M50.4 35.0h.1M52.3 36.2h.1M59.1 37.2h.1M56.8 37.7h.1M57.3 39.7h.1M58.7 35.7h.1M64.8 39.9h.1M41.9 44.7h.1M41.7 42.5h.1M43.7 42.0h.1M45.8 40.8h.1M45.8 44.8h.1M51.3 40.0h.1M58.1 44.4h.1M54.7 44.2h.1M61.3 40.5h.1M63.7 42.8h.1M81.8 44.1h.1M86.9 40.1h.1M84.5 43.8h.1M89.1 43.6h.1M86.4 42.0h.1M35.3 45.8h.1M35.5 49.5h.1M37.0 46.1h.1M39.0 50.0h.1M40.0 46.7h.1M40.8 47.8h.1M43.9 48.7h.1M42.1 46.9h.1M46.5 47.2h.1M48.6 49.3h.1M45.0 45.8h.1M53.4 46.2h.1M49.9 47.6h.1M61.6 48.4h.1M60.5 49.0h.1M66.0 49.8h.1M67.0 45.9h.1M65.6 47.1h.1M69.8 45.3h.1M71.1 45.9h.1M76.4 49.6h.1M82.7 49.7h.1M79.6 46.2h.1M86.6 47.5h.1M89.1 45.9h.1M85.7 45.3h.1M84.7 47.8h.1M86.1 49.9h.1M88.0 47.2h.1M90.1 49.2h.1M91.4 48.7h.1M35.2 51.0h.1M35.8 53.0h.1M40.5 54.0h.1M44.3 51.6h.1M44.5 54.5h.1M44.6 52.8h.1M51.4 54.5h.1M50.3 53.9h.1M50.6 52.0h.1M53.7 54.1h.1M55.1 51.2h.1M58.3 50.2h.1M61.0 52.1h.1M62.4 52.1h.1M68.3 53.9h.1M74.4 52.5h.1M79.0 51.4h.1M82.8 51.6h.1M79.5 50.2h.1M84.5 51.8h.1M85.6 52.9h.1M84.6 53.2h.1M87.3 51.8h.1M93.2 51.2h.1M90.7 50.3h.1M92.3 54.7h.1M92.7 54.1h.1M95.7 50.2h.1M37.4 56.5h.1M43.2 55.3h.1M48.8 58.1h.1M47.2 56.1h.1M53.5 55.9h.1M54.9 58.9h.1M59.0 55.4h.1M63.7 58.3h.1M71.7 57.9h.1M78.8 58.4h.1M78.4 58.6h.1M82.8 58.9h.1M81.4 57.4h.1M82.4 57.7h.1M85.9 57.0h.1M91.9 57.1h.1M93.8 55.3h.1M93.4 55.7h.1M95.0 55.7h.1M98.4 59.2h.1M97.0 55.3h.1M99.9 58.2h.1M37.1 62.4h.1M39.0 60.2h.1M37.1 63.9h.1M42.3 64.1h.1M41.5 62.5h.1M40.9 62.5h.1M44.4 63.3h.1M43.5 61.7h.1M43.4 60.2h.1M47.8 62.3h.1M45.4 60.2h.1M54.1 63.3h.1M54.9 64.3h.1M63.0 62.3h.1M63.8 62.4h.1M66.3 62.9h.1M67.6 62.1h.1M66.4 63.9h.1M73.9 61.9h.1M72.4 64.1h.1M70.9 64.3h.1M82.1 60.7h.1M94.0 64.2h.1M89.7 63.9h.1M91.0 63.0h.1M90.1 62.4h.1M90.3 61.2h.1M98.1 61.0h.1M98.8 64.4h.1M95.0 64.6h.1M98.7 63.1h.1M95.2 64.4h.1M41.2 65.7h.1M42.1 65.9h.1M52.1 65.6h.1M58.0 66.0h.1M60.2 68.0h.1M60.3 69.1h.1M66.5 69.7h.1M92.5 67.9h.1M91.8 66.6h.1M92.4 65.1h.1M95.3 66.7h.1M38.6 72.6h.1M48.4 74.4h.1M47.4 70.4h.1M54.1 70.1h.1M49.7 72.8h.1M53.4 72.7h.1M59.3 72.4h.1M59.4 74.1h.1M64.5 73.2h.1M68.7 72.9h.1M67.2 75.0h.1M68.3 70.5h.1M69.6 73.9h.1M74.0 72.9h.1M74.0 74.1h.1M71.0 73.0h.1M75.7 71.9h.1M45.9 78.9h.1M53.8 76.6h.1M52.3 76.8h.1M55.9 77.0h.1M58.9 79.3h.1M55.2 76.4h.1M60.4 75.6h.1M59.7 75.8h.1M68.7 78.9h.1M68.8 78.0h.1M73.6 78.1h.1M73.5 76.3h.1M71.3 77.1h.1M72.9 76.2h.1M75.2 77.8h.1M77.5 77.3h.1M75.1 76.4h.1M42.7 83.1h.1M43.4 84.2h.1M44.1 80.8h.1M49.0 84.7h.1M54.3 80.4h.1M49.7 82.2h.1M49.5 84.2h.1M55.5 80.4h.1M56.1 82.3h.1M62.5 81.5h.1M68.9 82.7h.1M65.1 84.3h.1M66.9 82.8h.1M70.1 85.0h.1M70.4 84.8h.1M72.3 83.9h.1M71.4 80.1h.1M30.5 87.2h.1M30.1 85.1h.1M31.0 88.4h.1M38.5 89.7h.1M40.3 86.8h.1M41.4 86.8h.1M47.0 86.3h.1M52.3 87.0h.1M49.8 86.7h.1M54.8 86.5h.1M57.3 89.7h.1M55.4 87.9h.1M59.4 86.8h.1M60.3 86.3h.1M65.5 88.0h.1M69.3 88.0h.1M64.9 89.0h.1M65.2 85.9h.1M67.7 89.6h.1M65.6 86.6h.1M68.2 88.2h.1M69.7 88.1h.1M74.4 85.3h.1M72.6 88.6h.1M70.3 85.7h.1M30.8 93.6h.1M31.0 93.9h.1M32.8 93.9h.1M31.3 94.9h.1M37.3 90.9h.1M35.3 90.1h.1M38.4 91.2h.1M37.7 91.7h.1M36.1 94.5h.1M42.3 92.0h.1M40.8 91.3h.1M45.3 93.4h.1M47.4 94.4h.1M54.1 93.6h.1M53.9 94.9h.1M57.0 90.6h.1M63.2 91.4h.1M62.0 92.0h.1M29.5 96.2h.1M27.6 98.7h.1M31.9 98.6h.1M33.6 96.2h.1M30.4 99.1h.1M36.3 99.0h.1M34.6 96.0h.1M37.4 95.3h.1M43.7 95.5h.1M40.5 97.1h.1M45.5 99.9h.1M46.4 97.6h.1M53.1 97.4h.1M58.0 97.1h.1M32.2 102.0h.1M30.9 104.0h.1M35.3 100.3h.1M41.0 101.2h.1M41.5 100.2h.1M45.0 102.4h.1M49.3 101.7h.1M50.4 103.9h.1M52.3 100.5h.1M50.0 103.2h.1M55.0 104.4h.1M29.9 107.9h.1M31.2 109.1h.1M53.7 106.2h.1M59.2 109.1h.1M57.8 109.2h.1M54.5 107.4h.1M61.8 106.7h.1M60.9 108.5h.1M62.9 105.2h.1M30.6 114.4h.1M32.6 114.5h.1M34.4 110.9h.1M33.7 110.8h.1M52.4 110.2h.1M56.2 110.7h.1M61.1 110.3h.1M31.7 115.5h.1M33.7 118.2h.1M33.4 116.6h.1M35.8 116.2h.1M35.1 116.5h.1M34.2 123.7h.1M31.2 122.0h.1M31.5 122.9h.1M25.6 51.8h.1M29.2 63.1h.1M15.6 59.1h.1M28.2 67.0h.1M23.0 55.6h.1M16.9 57.5h.1M28.6 75.2h.1M29.0 46.9h.1M32.4 67.4h.1M16.5 56.0h.1M19.9 64.4h.1M47.3 6.8h.1M38.8 13.8h.1M52.4 21.5h.1M39.4 22.6h.1M31.8 38.7h.1M10.5 42.9h.1M7.6 50.2h.1M9.9 54.2h.1M25.2 49.7h.1M17.6 67.8h.1M25.5 66.7h.1M30.0 73.5h.1M29.4 79.1h.1M97.9 67.5h.1M96.7 69.4h.1M92.5 73.5h.1M82.2 77.6h.1M28.3 62.1h.1M31.1 67.7h.1M24.3 67.2h.1"/><path stroke="#2a5ecf" d="M46.8 26.5h.1M49.4 25.6h.1M47.3 34.8h.1M50.3 33.9h.1M59.4 34.3h.1M59.4 34.8h.1M62.8 34.0h.1M44.2 38.6h.1M49.0 39.0h.1M45.2 35.1h.1M45.8 36.5h.1M51.9 38.6h.1M62.8 38.9h.1M61.7 37.6h.1M84.9 35.3h.1M50.7 42.9h.1M63.6 42.9h.1M80.1 44.5h.1M36.9 46.7h.1M36.0 48.7h.1M40.9 49.8h.1M56.6 46.3h.1M41.6 54.3h.1M79.7 54.1h.1M38.0 59.3h.1M40.5 55.6h.1M55.5 56.3h.1M62.7 56.7h.1M63.2 55.8h.1M68.0 59.2h.1M65.7 56.6h.1M71.7 56.0h.1M85.6 59.0h.1M88.5 58.2h.1M97.2 58.7h.1M49.1 63.0h.1M54.2 60.3h.1M55.1 64.8h.1M66.3 63.2h.1M73.9 60.2h.1M73.7 64.1h.1M84.9 60.3h.1M89.0 60.3h.1M95.2 62.2h.1M53.1 69.1h.1M57.2 65.1h.1M73.9 69.4h.1M70.9 67.7h.1M92.1 66.9h.1M43.0 74.6h.1M46.5 72.8h.1M57.4 74.4h.1M71.1 73.6h.1M69.7 74.7h.1M36.3 76.2h.1M58.0 76.2h.1M70.7 75.3h.1M46.3 84.2h.1M73.9 80.8h.1M33.7 87.9h.1M42.9 87.0h.1M41.9 85.8h.1M40.6 89.5h.1M51.0 88.8h.1M55.2 85.0h.1M72.5 86.3h.1M34.2 90.7h.1M53.2 90.5h.1M55.4 93.4h.1M69.7 93.5h.1M32.1 97.6h.1M59.4 96.4h.1M35.6 104.2h.1M40.0 102.3h.1M51.0 100.3h.1M60.5 100.6h.1M62.0 104.5h.1M29.6 109.7h.1M57.0 109.5h.1M34.3 111.8h.1M37.6 112.2h.1M36.4 112.6h.1M57.9 111.9h.1M37.7 116.3h.1M38.3 118.4h.1M31.5 48.4h.1M30.7 51.5h.1M21.7 60.9h.1M24.2 51.5h.1M18.9 19.5h.1M30.0 43.5h.1M11.4 48.0h.1M24.3 73.5h.1M26.0 76.3h.1M93.5 70.0h.1M18.7 64.9h.1M32.2 59.3h.1"/><path stroke="#2a5ecf" d="M50.8 31.7h.1M51.3 30.6h.1M43.5 39.9h.1M46.3 37.3h.1M83.0 43.4h.1M37.3 47.0h.1M59.3 48.2h.1M40.9 51.5h.1M46.6 54.1h.1M66.9 50.5h.1M65.0 52.2h.1M77.9 54.5h.1M91.0 50.2h.1M97.3 52.2h.1M36.2 55.7h.1M43.8 59.6h.1M44.7 57.1h.1M57.6 56.8h.1M84.4 56.8h.1M92.7 58.3h.1M95.3 59.5h.1M95.5 58.5h.1M97.3 56.3h.1M74.9 64.0h.1M94.5 61.1h.1M93.3 60.5h.1M95.6 60.3h.1M53.8 67.5h.1M60.1 67.0h.1M68.4 66.7h.1M69.8 67.2h.1M54.5 72.6h.1M49.0 77.9h.1M58.7 76.8h.1M63.1 75.2h.1M60.5 76.5h.1M62.9 76.7h.1M73.0 78.7h.1M72.2 79.8h.1M77.1 77.2h.1M78.3 79.2h.1M80.9 76.0h.1M34.9 83.6h.1M44.2 83.3h.1M41.0 80.9h.1M56.2 82.2h.1M59.8 83.4h.1M61.9 83.2h.1M65.6 82.9h.1M48.4 88.2h.1M58.9 87.3h.1M42.7 92.0h.1M54.5 91.5h.1M49.6 90.6h.1M53.5 93.4h.1M60.4 91.3h.1M32.6 97.7h.1M30.6 95.7h.1M35.7 96.9h.1M41.4 95.2h.1M52.9 98.7h.1M53.3 98.8h.1M57.1 95.0h.1M36.5 105.4h.1M53.2 109.2h.1M60.1 109.1h.1M63.7 108.1h.1M33.0 128.1h.1M17.7 64.5h.1M24.5 51.4h.1M19.3 61.5h.1"/><path stroke="#ff0a14" d="M48.1 26.4h.1M51.9 25.2h.1M52.8 28.8h.1M54.2 27.4h.1M51.8 25.8h.1M48.0 32.6h.1M48.5 32.0h.1M49.6 34.8h.1M52.2 30.1h.1M53.8 33.5h.1M58.4 31.6h.1M58.5 34.1h.1M54.6 30.1h.1M56.7 34.7h.1M47.1 39.7h.1M48.6 36.1h.1M52.2 37.6h.1M52.3 36.6h.1M50.9 38.9h.1M57.3 38.8h.1M57.6 37.5h.1M64.3 36.1h.1M64.3 37.0h.1M68.4 39.9h.1M84.1 39.1h.1M84.9 39.3h.1M84.8 39.3h.1M38.3 41.4h.1M45.3 42.2h.1M52.0 41.0h.1M49.6 41.5h.1M52.1 43.8h.1M59.0 43.1h.1M62.1 42.5h.1M63.0 41.1h.1M62.6 43.1h.1M62.9 42.4h.1M68.5 43.7h.1M68.2 41.3h.1M64.9 41.3h.1M70.8 43.7h.1M80.5 44.9h.1M84.3 42.2h.1M86.8 41.5h.1M85.2 41.7h.1M86.1 44.2h.1M35.9 45.2h.1M42.6 49.3h.1M48.9 45.1h.1M46.5 49.6h.1M49.4 46.2h.1M53.3 47.3h.1M50.8 48.2h.1M52.4 46.9h.1M56.0 47.3h.1M60.5 49.8h.1M65.6 49.9h.1M69.7 48.3h.1M71.4 46.9h.1M84.0 46.7h.1M82.6 46.3h.1M85.0 47.5h.1M90.7 45.8h.1M39.2 51.9h.1M38.8 52.2h.1M35.8 53.9h.1M39.2 50.5h.1M42.2 50.3h.1M42.3 51.8h.1M44.5 51.8h.1M47.7 54.5h.1M44.9 53.1h.1M47.1 54.6h.1M54.3 51.0h.1M57.1 51.9h.1M58.1 54.5h.1M58.7 50.6h.1M65.1 52.2h.1M67.1 50.2h.1M71.4 54.8h.1M70.3 53.9h.1M78.3 50.8h.1M75.1 52.7h.1M81.3 54.4h.1M81.5 54.0h.1M83.3 52.2h.1M87.1 54.5h.1M94.0 50.2h.1M90.2 51.0h.1M98.0 54.2h.1M35.6 58.1h.1M35.2 55.1h.1M42.5 56.8h.1M44.0 55.3h.1M44.2 55.5h.1M43.6 58.2h.1M43.6 58.2h.1M44.6 56.3h.1M50.0 59.1h.1M54.4 55.0h.1M52.0 56.7h.1M50.6 58.5h.1M56.5 57.0h.1M70.4 59.9h.1M73.1 55.5h.1M73.5 58.7h.1M72.7 55.5h.1M70.5 56.9h.1M69.7 57.0h.1M72.0 58.2h.1M72.5 57.0h.1M76.6 56.1h.1M78.1 59.4h.1M78.4 58.5h.1M75.0 57.1h.1M77.6 57.0h.1M84.2 55.9h.1M83.4 59.7h.1M84.2 56.1h.1M84.6 57.1h.1M89.2 57.6h.1M85.1 58.9h.1M85.6 59.8h.1M91.3 59.6h.1M97.8 56.3h.1M100.2 57.5h.1M36.3 62.4h.1M42.4 63.2h.1M44.7 61.5h.1M44.5 60.9h.1M53.4 62.8h.1M50.8 61.5h.1M52.4 64.6h.1M51.7 60.1h.1M56.6 60.5h.1M57.7 61.1h.1M55.3 60.1h.1M55.1 60.1h.1M58.1 61.2h.1M58.2 60.9h.1M63.8 63.6h.1M64.2 61.3h.1M66.7 63.4h.1M65.2 64.0h.1M71.0 62.1h.1M74.1 61.7h.1M75.5 63.8h.1M76.8 61.0h.1M75.8 63.8h.1M78.4 61.2h.1M82.3 62.0h.1M88.4 62.1h.1M89.2 63.8h.1M85.5 60.9h.1M87.8 62.0h.1M91.3 64.5h.1M93.0 63.2h.1M96.8 61.7h.1M98.6 62.4h.1M97.6 60.7h.1M98.1 62.8h.1M39.6 69.0h.1M41.7 69.6h.1M47.4 65.7h.1M45.9 66.0h.1M45.5 65.3h.1M51.2 69.2h.1M51.9 69.4h.1M52.5 65.0h.1M56.1 68.6h.1M56.4 68.8h.1M54.8 69.4h.1M55.4 65.5h.1M60.1 67.5h.1M62.0 66.4h.1M62.4 68.7h.1M68.7 67.6h.1M66.7 69.9h.1M68.5 69.6h.1M64.8 67.6h.1M65.7 67.1h.1M72.0 65.1h.1M72.7 69.0h.1M70.8 68.4h.1M87.2 65.7h.1M92.8 66.0h.1M93.1 67.3h.1M96.0 68.9h.1M98.9 67.2h.1M94.8 66.9h.1M95.0 66.1h.1M46.8 72.3h.1M45.4 71.5h.1M45.2 72.9h.1M53.7 74.8h.1M55.0 71.9h.1M57.2 74.1h.1M64.5 74.4h.1M60.9 72.6h.1M65.8 73.2h.1M65.0 70.9h.1M67.6 74.0h.1M76.0 74.4h.1M75.7 70.9h.1M35.5 76.4h.1M40.3 76.8h.1M46.8 75.7h.1M46.3 76.2h.1M47.1 77.7h.1M49.9 75.9h.1M52.8 75.5h.1M56.1 76.1h.1M59.0 78.9h.1M56.6 78.3h.1M60.4 79.2h.1M60.8 77.2h.1M65.9 75.2h.1M64.7 76.2h.1M68.0 77.0h.1M69.2 77.1h.1M71.8 75.3h.1M70.1 78.8h.1M70.5 76.6h.1M70.2 78.5h.1M77.2 78.8h.1M39.5 83.8h.1M40.2 80.1h.1M42.7 84.2h.1M43.4 84.2h.1M47.3 83.1h.1M48.6 83.5h.1M47.0 82.5h.1M47.9 80.8h.1M50.5 83.6h.1M53.8 83.9h.1M51.6 81.4h.1M62.4 84.8h.1M62.1 82.8h.1M73.1 83.8h.1M73.7 82.0h.1M70.2 83.9h.1M71.0 83.5h.1M72.3 84.6h.1M75.1 81.9h.1M35.2 89.4h.1M38.9 89.0h.1M40.4 89.1h.1M43.7 87.0h.1M41.8 87.9h.1M47.4 86.7h.1M45.9 86.4h.1M47.3 87.6h.1M44.7 87.8h.1M53.5 89.4h.1M53.2 87.5h.1M51.9 86.8h.1M56.0 88.6h.1M60.8 85.1h.1M68.9 86.7h.1M67.2 89.4h.1M74.1 87.8h.1M34.8 92.5h.1M35.2 90.9h.1M38.2 94.6h.1M38.5 92.3h.1M43.8 90.3h.1M46.9 94.5h.1M47.5 92.3h.1M55.1 92.4h.1M56.3 92.5h.1M64.3 94.4h.1M67.9 93.3h.1M67.2 92.7h.1M69.5 93.0h.1M32.1 97.4h.1M34.1 97.6h.1M33.8 95.2h.1M37.1 97.3h.1M36.2 96.9h.1M41.1 96.2h.1M47.8 96.6h.1M44.9 98.8h.1M48.3 95.1h.1M47.5 97.3h.1M49.0 97.2h.1M52.9 97.8h.1M50.0 95.4h.1M49.8 98.4h.1M31.7 104.4h.1M32.5 100.9h.1M37.3 104.0h.1M37.9 101.5h.1M35.0 103.9h.1M39.3 102.1h.1M44.1 101.6h.1M42.9 100.6h.1M43.6 100.6h.1M48.8 103.0h.1M47.2 100.4h.1M49.0 104.2h.1M52.8 100.3h.1M50.7 103.7h.1M52.5 102.3h.1M56.4 103.3h.1M55.3 100.8h.1M59.2 101.7h.1M60.7 104.4h.1M31.0 109.5h.1M30.7 108.0h.1M33.4 108.6h.1M29.8 106.2h.1M36.2 105.7h.1M42.0 108.9h.1M42.7 106.0h.1M53.5 108.0h.1M53.4 106.3h.1M56.5 108.9h.1M31.5 112.5h.1M32.1 110.0h.1M37.1 111.9h.1M37.8 113.2h.1M37.9 114.5h.1M37.0 111.8h.1M39.4 110.3h.1M53.3 111.5h.1M63.2 110.9h.1M30.8 117.0h.1M32.9 118.8h.1M34.8 117.7h.1M31.1 46.2h.1M24.1 58.1h.1M18.6 62.4h.1M33.7 67.4h.1M33.4 67.0h.1M21.3 70.2h.1M31.9 49.1h.1M47.3 15.2h.1M43.4 27.7h.1M36.9 32.3h.1M38.2 35.1h.1M35.0 37.2h.1M31.7 39.5h.1M12.5 47.2h.1M24.9 58.7h.1M28.9 81.9h.1M26.0 85.9h.1M30.0 60.4h.1M17.6 62.1h.1M40.5 28.8h.1M4.9 42.9h.1M32.8 75.7h.1M79.1 75.7h.1"/></g><g transform="translate(18.5 149.8)"><line x1="11.4" y1="0" x2="11.4" y2="132.4" class="gr"/><line x1="36.5" y1="0" x2="36.5" y2="132.4" class="gr"/><line x1="61.5" y1="0" x2="61.5" y2="132.4" class="gr"/><line x1="86.6" y1="0" x2="86.6" y2="132.4" class="gr"/><line x1="0" y1="6.0" x2="105.2" y2="6.0" class="gr"/><line x1="0" y1="35.8" x2="105.2" y2="35.8" class="gr"/><line x1="0" y1="65.6" x2="105.2" y2="65.6" class="gr"/><line x1="0" y1="95.4" x2="105.2" y2="95.4" class="gr"/><line x1="0" y1="125.2" x2="105.2" y2="125.2" class="gr"/><path stroke="#ff0a14" d="M49.7 22.2h.1M51.6 24.1h.1M50.1 21.1h.1M52.6 24.7h.1M52.4 22.0h.1M54.7 24.3h.1M47.7 26.9h.1M47.2 25.3h.1M47.9 27.1h.1M46.1 27.9h.1M46.8 26.5h.1M48.5 28.5h.1M45.7 27.9h.1M47.1 29.4h.1M48.1 26.4h.1M49.4 25.6h.1M53.3 25.8h.1M51.9 25.2h.1M52.8 28.8h.1M52.4 29.4h.1M51.1 28.5h.1M52.5 27.9h.1M51.8 29.2h.1M54.2 27.4h.1M52.8 25.3h.1M53.0 28.2h.1M54.5 29.1h.1M50.9 26.9h.1M52.8 25.1h.1M51.8 25.8h.1M50.1 25.3h.1M55.1 26.2h.1M56.5 29.4h.1M54.9 27.2h.1M57.2 29.4h.1M55.9 27.1h.1M45.8 30.0h.1M46.6 31.8h.1M47.3 34.8h.1M48.0 32.6h.1M47.6 33.4h.1M44.8 34.5h.1M48.4 34.4h.1M48.5 32.0h.1M46.5 30.5h.1M47.7 30.3h.1M44.8 31.0h.1M45.3 31.7h.1M44.8 30.0h.1M45.3 30.5h.1M46.3 30.1h.1M52.6 30.7h.1M50.8 31.7h.1M51.3 30.6h.1M53.7 35.0h.1M51.8 32.4h.1M49.9 30.5h.1M51.2 31.3h.1M53.6 30.8h.1M49.6 34.8h.1M52.1 30.7h.1M52.2 30.1h.1M52.1 34.9h.1M53.8 33.5h.1M50.8 31.8h.1M50.3 33.9h.1M58.4 31.6h.1M55.6 34.1h.1M59.4 34.3h.1M58.5 34.1h.1M58.2 31.1h.1M57.1 31.8h.1M54.6 30.1h.1M55.9 31.3h.1M58.0 34.8h.1M56.7 34.7h.1M59.4 34.8h.1M62.6 34.5h.1M62.8 34.0h.1M59.9 33.3h.1M43.4 36.7h.1M43.5 39.9h.1M44.2 38.6h.1M49.0 39.0h.1M45.2 39.1h.1M49.4 38.3h.1M46.3 37.7h.1M45.2 35.1h.1M49.4 38.2h.1M47.1 39.7h.1M46.7 39.4h.1M48.6 36.1h.1M45.8 36.5h.1M45.7 37.9h.1M45.8 37.1h.1M45.2 39.6h.1M46.3 37.3h.1M47.4 39.5h.1M54.1 37.5h.1M52.2 37.6h.1M49.6 37.2h.1M50.4 35.0h.1M53.5 35.9h.1M51.9 38.6h.1M52.3 36.6h.1M52.1 37.8h.1M53.4 35.5h.1M52.3 36.2h.1M50.9 38.9h.1M57.3 38.8h.1M59.1 37.2h.1M57.6 37.5h.1M57.1 38.5h.1M56.8 37.7h.1M56.9 39.7h.1M58.0 39.4h.1M59.2 36.3h.1M57.3 39.7h.1M58.7 35.7h.1M55.1 37.2h.1M60.7 35.4h.1M62.8 38.9h.1M64.0 35.8h.1M63.1 38.3h.1M60.2 39.4h.1M64.3 36.1h.1M64.3 37.0h.1M61.9 39.9h.1M63.7 35.8h.1M61.7 37.6h.1M61.2 36.0h.1M64.6 36.7h.1M64.8 39.9h.1M68.4 39.9h.1M38.3 41.4h.1M38.2 42.8h.1M41.9 44.7h.1M40.0 44.1h.1M41.7 42.5h.1M43.7 42.0h.1M42.0 43.4h.1M44.4 41.7h.1M48.0 43.2h.1M46.5 41.7h.1M44.8 40.6h.1M44.9 43.7h.1M45.8 40.8h.1M44.9 44.2h.1M48.9 43.4h.1M45.9 41.2h.1M46.0 42.3h.1M45.3 42.2h.1M45.8 44.8h.1M52.2 41.2h.1M54.3 41.5h.1M51.3 40.0h.1M51.4 42.4h.1M52.0 41.0h.1M52.0 40.0h.1M50.8 40.4h.1M51.5 40.2h.1M49.6 41.5h.1M50.7 42.9h.1M52.1 43.8h.1M58.1 44.4h.1M56.4 41.6h.1M59.4 40.7h.1M58.1 43.2h.1M54.7 44.2h.1M59.0 43.1h.1M63.6 40.7h.1M62.1 42.5h.1M63.7 44.0h.1M63.6 42.9h.1M64.0 43.4h.1M63.0 41.1h.1M59.7 40.7h.1M61.3 40.5h.1M63.7 42.8h.1M62.6 43.1h.1M62.9 42.4h.1M68.5 43.7h.1M67.0 42.7h.1M67.8 40.3h.1M68.2 41.3h.1M64.9 41.3h.1M68.1 41.0h.1M69.9 40.7h.1M70.8 43.7h.1M35.9 45.2h.1M39.1 45.6h.1M36.9 46.7h.1M36.0 48.7h.1M39.4 46.3h.1M37.8 46.5h.1M37.3 47.0h.1M35.3 45.8h.1M35.5 49.5h.1M37.0 46.1h.1M39.0 50.0h.1M40.2 46.0h.1M40.0 46.7h.1M40.0 46.2h.1M40.8 47.8h.1M43.9 48.7h.1M41.6 47.1h.1M42.1 46.9h.1M41.2 45.3h.1M40.9 49.8h.1M40.1 47.5h.1M42.6 49.3h.1M45.9 46.2h.1M46.5 47.2h.1M49.3 49.2h.1M48.9 45.1h.1M44.7 48.5h.1M49.0 47.4h.1M47.4 45.0h.1M46.5 49.6h.1M48.6 49.3h.1M49.4 46.2h.1M45.0 45.8h.1M52.9 49.7h.1M53.1 48.2h.1M53.3 47.3h.1M52.3 45.2h.1M53.4 46.2h.1M54.1 48.2h.1M51.0 45.6h.1M50.8 48.2h.1M53.0 45.6h.1M49.9 47.6h.1M52.4 46.9h.1M57.5 45.1h.1M56.0 47.3h.1M59.3 48.2h.1M58.9 47.4h.1M55.7 46.2h.1M59.3 48.5h.1M56.0 45.1h.1M57.0 48.4h.1M56.6 46.3h.1M57.8 49.6h.1M55.6 45.2h.1M61.6 48.4h.1M60.5 49.0h.1M63.2 47.5h.1M60.5 49.8h.1M61.1 49.1h.1M60.7 46.1h.1M66.0 49.8h.1M67.0 45.9h.1M65.6 47.1h.1M67.8 49.7h.1M65.2 47.0h.1M65.6 49.9h.1M69.8 45.3h.1M71.5 49.5h.1M71.1 45.9h.1M69.7 48.3h.1M71.4 46.9h.1M71.2 45.8h.1M69.5 46.4h.1M71.3 49.8h.1M76.3 49.1h.1M78.6 47.2h.1M76.4 49.6h.1M39.2 51.9h.1M38.8 52.2h.1M35.8 53.9h.1M39.2 50.5h.1M37.5 53.1h.1M35.6 51.8h.1M35.2 51.0h.1M35.8 53.0h.1M37.8 51.0h.1M37.9 50.9h.1M40.5 54.0h.1M42.2 50.3h.1M40.0 52.0h.1M42.3 53.2h.1M40.0 50.8h.1M43.0 52.0h.1M40.9 51.5h.1M44.3 51.6h.1M42.3 51.8h.1M41.6 54.3h.1M44.5 51.8h.1M48.1 51.0h.1M44.5 54.5h.1M46.6 54.1h.1M46.5 54.4h.1M46.8 50.8h.1M44.6 52.8h.1M47.7 54.5h.1M44.9 53.1h.1M46.4 52.5h.1M45.2 51.4h.1M47.1 54.6h.1M52.0 54.0h.1M54.3 51.0h.1M50.1 54.7h.1M54.4 52.4h.1M49.8 54.6h.1M51.4 54.5h.1M52.6 54.1h.1M50.3 53.9h.1M50.6 52.0h.1M53.7 54.1h.1M50.4 51.1h.1M57.1 51.9h.1M55.1 51.2h.1M58.1 54.5h.1M54.7 52.8h.1M58.3 50.2h.1M58.7 50.6h.1M62.3 53.1h.1M61.0 52.1h.1M62.4 52.1h.1M62.8 52.2h.1M61.7 50.1h.1M62.6 52.4h.1M68.3 53.9h.1M66.8 50.9h.1M66.9 50.5h.1M65.1 52.2h.1M65.0 52.2h.1M67.1 50.2h.1M69.9 53.7h.1M73.4 52.6h.1M69.8 52.5h.1M71.4 54.8h.1M70.2 54.3h.1M74.5 53.7h.1M74.4 52.5h.1M74.3 54.6h.1M70.3 53.9h.1M78.3 50.8h.1M78.6 50.7h.1M77.0 54.6h.1M75.5 51.3h.1M77.0 51.6h.1M75.3 54.7h.1M77.9 54.5h.1M75.3 53.9h.1M75.1 52.7h.1M36.8 59.2h.1M38.0 59.3h.1M36.7 58.6h.1M37.4 56.5h.1M35.6 58.1h.1M35.2 55.1h.1M36.2 55.7h.1M38.0 58.2h.1M43.2 55.3h.1M42.5 56.8h.1M43.6 59.1h.1M44.0 55.3h.1M43.8 59.6h.1M44.2 55.5h.1M40.5 55.6h.1M39.7 59.2h.1M43.6 58.2h.1M43.6 58.2h.1M40.9 55.5h.1M48.3 56.0h.1M46.1 57.1h.1M44.6 56.3h.1M45.9 58.6h.1M46.3 56.6h.1M49.3 57.5h.1M48.8 58.1h.1M44.7 57.1h.1M46.7 58.9h.1M46.2 58.5h.1M47.2 56.1h.1M50.0 59.1h.1M50.4 55.0h.1M50.5 58.8h.1M54.4 55.0h.1M52.0 57.5h.1M53.5 55.9h.1M52.0 56.7h.1M53.7 56.3h.1M54.2 56.4h.1M50.6 58.5h.1M52.0 55.5h.1M54.9 58.9h.1M58.0 58.9h.1M57.6 56.8h.1M56.5 57.0h.1M59.0 55.4h.1M58.9 55.1h.1M55.5 56.3h.1M59.0 57.5h.1M56.4 59.4h.1M55.7 57.3h.1M57.2 58.8h.1M62.7 56.7h.1M61.1 55.8h.1M63.7 58.3h.1M63.2 55.8h.1M61.7 58.9h.1M62.4 55.6h.1M68.9 56.2h.1M65.5 56.5h.1M68.0 59.2h.1M65.3 55.8h.1M65.7 56.6h.1M67.1 55.8h.1M70.4 59.9h.1M73.1 55.5h.1M74.3 55.5h.1M71.4 59.9h.1M73.5 58.7h.1M71.7 56.0h.1M72.7 55.5h.1M70.5 56.9h.1M69.7 57.0h.1M73.5 58.5h.1M72.0 58.2h.1M71.8 55.7h.1M72.5 57.0h.1M73.2 59.5h.1M71.7 57.9h.1M76.6 56.1h.1M78.1 59.4h.1M78.4 58.5h.1M77.7 57.3h.1M76.1 58.1h.1M75.0 57.1h.1M78.4 58.6h.1M77.6 56.3h.1M76.6 57.3h.1M77.6 57.0h.1M37.1 62.4h.1M39.0 60.2h.1M38.1 63.1h.1M36.2 64.3h.1M36.3 62.4h.1M37.1 63.9h.1M41.7 62.1h.1M42.3 64.1h.1M41.0 64.1h.1M41.5 62.5h.1M40.9 62.5h.1M44.4 63.3h.1M43.5 61.7h.1M41.1 61.5h.1M42.4 63.2h.1M43.4 60.2h.1M43.1 64.4h.1M44.7 61.5h.1M44.5 60.9h.1M49.1 63.0h.1M47.8 63.9h.1M49.0 63.1h.1M47.6 63.1h.1M48.0 63.0h.1M47.9 61.1h.1M47.8 62.3h.1M48.3 60.5h.1M45.4 60.2h.1M54.1 63.3h.1M51.3 64.1h.1M53.4 62.8h.1M50.8 61.5h.1M51.6 61.6h.1M51.7 63.2h.1M54.2 60.3h.1M52.3 60.2h.1M50.1 64.1h.1M52.4 64.6h.1M51.7 60.1h.1M57.5 64.7h.1M59.4 62.4h.1M56.6 60.5h.1M57.7 61.1h.1M55.3 60.1h.1M54.5 63.4h.1M55.1 64.8h.1M54.9 64.3h.1M55.1 60.1h.1M58.1 61.2h.1M58.2 60.9h.1M63.4 63.6h.1M63.8 63.6h.1M59.9 63.1h.1M63.0 62.3h.1M64.2 61.3h.1M64.3 63.6h.1M59.6 60.1h.1M62.8 64.1h.1M59.9 61.6h.1M63.1 60.8h.1M63.8 62.4h.1M66.3 62.9h.1M66.7 63.4h.1M65.2 64.0h.1M66.3 63.2h.1M67.6 62.1h.1M66.4 63.9h.1M69.2 63.9h.1M67.3 61.5h.1M64.8 64.9h.1M68.0 64.1h.1M66.2 63.0h.1M73.7 63.0h.1M71.0 62.1h.1M73.9 61.9h.1M72.9 63.0h.1M74.0 64.0h.1M70.9 60.0h.1M70.8 62.1h.1M72.4 64.1h.1M73.9 60.2h.1M73.7 64.1h.1M73.8 62.9h.1M70.9 64.3h.1M73.5 63.4h.1M74.1 61.7h.1M69.9 62.8h.1M75.5 63.8h.1M76.8 61.0h.1M75.8 63.8h.1M78.5 62.3h.1M74.9 64.0h.1M78.4 61.2h.1M76.9 62.9h.1M36.9 66.4h.1M35.8 66.0h.1M36.3 70.0h.1M39.5 69.6h.1M35.0 66.4h.1M39.0 65.3h.1M41.0 69.9h.1M39.6 69.0h.1M41.2 65.7h.1M39.5 69.2h.1M42.1 65.9h.1M41.7 69.6h.1M47.4 65.7h.1M45.4 68.9h.1M48.1 66.0h.1M44.9 65.4h.1M47.5 67.5h.1M45.9 66.0h.1M47.6 68.5h.1M48.6 67.9h.1M45.5 65.3h.1M48.2 67.0h.1M48.1 65.3h.1M51.2 69.2h.1M53.8 67.5h.1M49.6 69.6h.1M51.9 69.4h.1M50.8 65.9h.1M53.7 66.8h.1M50.3 66.9h.1M52.5 65.0h.1M52.1 67.2h.1M52.1 65.6h.1M53.1 69.1h.1M56.1 68.6h.1M56.4 68.8h.1M54.8 69.4h.1M59.3 67.5h.1M57.1 67.7h.1M57.2 65.1h.1M59.3 66.1h.1M55.4 65.5h.1M55.8 69.1h.1M54.7 65.5h.1M58.0 66.0h.1M62.5 67.9h.1M62.1 68.5h.1M60.0 69.3h.1M63.1 65.2h.1M60.1 67.5h.1M62.0 66.4h.1M60.1 67.0h.1M60.2 68.0h.1M63.8 65.7h.1M62.4 68.7h.1M60.3 69.1h.1M66.4 67.1h.1M68.7 67.6h.1M66.5 69.7h.1M68.4 66.7h.1M65.7 66.7h.1M66.7 69.9h.1M68.5 69.6h.1M68.6 69.2h.1M64.8 67.6h.1M69.3 69.7h.1M65.7 67.1h.1M71.3 67.7h.1M69.8 67.2h.1M72.0 65.1h.1M70.2 69.8h.1M73.4 69.7h.1M72.7 69.0h.1M73.9 69.4h.1M69.7 68.2h.1M70.8 68.4h.1M70.9 67.7h.1M74.1 68.1h.1M38.6 72.6h.1M38.2 73.7h.1M41.9 73.9h.1M43.0 74.6h.1M40.1 74.4h.1M39.5 73.8h.1M42.4 72.5h.1M44.3 72.9h.1M48.4 74.4h.1M47.5 71.9h.1M46.8 72.3h.1M48.1 71.5h.1M46.5 72.8h.1M46.4 71.6h.1M48.4 74.2h.1M47.0 72.2h.1M45.4 71.5h.1M45.2 72.9h.1M47.4 70.4h.1M51.1 74.2h.1M53.7 74.8h.1M50.5 72.1h.1M54.1 70.1h.1M49.7 72.8h.1M52.0 74.6h.1M53.4 72.7h.1M54.5 72.6h.1M52.1 73.4h.1M51.4 71.8h.1M52.5 71.8h.1M57.9 72.6h.1M55.0 71.9h.1M56.5 72.8h.1M57.4 74.4h.1M59.3 72.4h.1M56.7 73.1h.1M59.5 71.7h.1M57.2 74.1h.1M55.4 71.6h.1M59.4 74.1h.1M57.1 70.6h.1M62.9 74.1h.1M64.5 74.4h.1M61.6 70.8h.1M60.9 72.6h.1M62.0 70.9h.1M60.4 73.2h.1M62.5 71.8h.1M64.5 73.2h.1M59.7 72.1h.1M63.4 71.5h.1M63.0 70.0h.1M68.7 72.9h.1M67.8 71.0h.1M67.0 72.8h.1M65.8 73.2h.1M67.2 75.0h.1M67.4 72.1h.1M65.1 70.8h.1M68.3 70.5h.1M65.0 70.9h.1M67.1 74.1h.1M67.6 74.0h.1M69.6 73.9h.1M71.1 73.6h.1M71.3 70.8h.1M70.8 70.5h.1M74.0 72.9h.1M71.2 72.2h.1M71.4 70.3h.1M74.0 72.9h.1M74.3 72.2h.1M72.6 71.2h.1M69.7 74.7h.1M73.8 71.6h.1M74.0 74.1h.1M71.0 73.0h.1M74.3 72.5h.1M75.7 71.9h.1M76.0 74.4h.1M76.9 74.0h.1M75.7 70.9h.1M36.5 75.3h.1M35.1 79.1h.1M36.3 76.2h.1M35.5 76.4h.1M35.7 75.2h.1M37.8 76.7h.1M43.0 75.5h.1M40.8 79.2h.1M40.1 77.2h.1M43.7 79.0h.1M40.3 76.8h.1M43.1 76.9h.1M45.5 79.8h.1M47.0 76.1h.1M46.8 75.7h.1M48.0 76.3h.1M49.0 77.9h.1M46.3 76.2h.1M47.5 76.1h.1M48.9 75.6h.1M47.1 77.7h.1M45.9 78.9h.1M46.4 78.3h.1M51.1 76.9h.1M49.9 75.9h.1M53.8 76.6h.1M52.8 75.5h.1M52.3 76.8h.1M52.0 76.5h.1M56.1 76.1h.1M55.1 78.6h.1M55.9 77.0h.1M59.0 78.9h.1M58.9 79.3h.1M55.2 76.4h.1M54.6 78.4h.1M57.8 76.8h.1M56.6 78.3h.1M58.0 76.2h.1M58.7 76.8h.1M60.4 75.6h.1M64.1 78.7h.1M63.1 75.2h.1M59.7 75.8h.1M60.5 76.5h.1M61.4 75.2h.1M61.1 78.2h.1M60.4 79.2h.1M62.4 78.6h.1M60.8 77.2h.1M62.9 76.7h.1M68.7 78.9h.1M65.9 75.2h.1M68.8 78.0h.1M64.7 76.2h.1M65.1 79.0h.1M65.6 79.6h.1M68.2 75.4h.1M68.0 77.0h.1M68.2 79.1h.1M65.9 75.4h.1M69.2 77.1h.1M73.0 78.7h.1M73.6 78.1h.1M71.8 75.3h.1M73.0 77.1h.1M72.1 79.6h.1M70.1 78.8h.1M69.7 78.5h.1M73.5 76.3h.1M72.2 79.8h.1M72.7 77.7h.1M70.7 75.3h.1M71.3 77.1h.1M70.5 76.6h.1M70.2 78.5h.1M72.9 76.2h.1M77.1 77.2h.1M79.2 76.8h.1M76.0 79.4h.1M75.2 77.8h.1M76.2 79.1h.1M77.2 78.8h.1M75.3 78.3h.1M77.5 77.3h.1M78.3 79.2h.1M75.1 76.4h.1M76.3 76.0h.1M80.9 76.0h.1M34.9 80.1h.1M39.5 83.8h.1M34.9 83.6h.1M39.4 82.8h.1M35.0 82.4h.1M36.7 80.9h.1M39.5 84.6h.1M42.7 83.1h.1M44.2 83.3h.1M40.8 81.2h.1M40.2 80.1h.1M43.4 84.2h.1M41.0 80.9h.1M42.7 84.2h.1M44.1 80.8h.1M43.4 84.2h.1M43.2 81.6h.1M48.6 81.6h.1M46.3 82.8h.1M46.3 84.2h.1M45.7 80.2h.1M47.3 83.1h.1M48.6 83.5h.1M49.0 84.7h.1M47.0 82.5h.1M45.3 81.5h.1M47.4 80.4h.1M47.9 80.8h.1M54.3 80.4h.1M49.7 82.2h.1M50.5 83.6h.1M49.5 84.2h.1M53.8 83.9h.1M51.6 81.4h.1M57.1 82.1h.1M56.2 82.2h.1M57.8 84.1h.1M59.0 80.8h.1M56.0 82.2h.1M57.3 81.7h.1M55.5 80.4h.1M56.1 82.3h.1M59.4 84.5h.1M58.8 84.9h.1M59.3 83.1h.1M59.8 83.4h.1M62.5 81.5h.1M62.4 84.8h.1M61.9 83.2h.1M61.0 81.7h.1M63.9 80.1h.1M60.4 83.4h.1M61.7 80.4h.1M62.8 81.9h.1M62.4 82.1h.1M62.1 82.8h.1M65.1 80.9h.1M68.9 82.7h.1M65.1 84.3h.1M65.8 80.5h.1M67.2 81.3h.1M66.9 82.8h.1M65.6 82.9h.1M65.1 82.6h.1M67.4 80.4h.1M66.5 80.4h.1M66.7 84.3h.1M73.1 83.8h.1M70.1 85.0h.1M73.1 80.5h.1M73.7 82.0h.1M70.4 84.8h.1M72.3 83.9h.1M70.2 83.9h.1M69.8 81.2h.1M71.4 80.1h.1M72.5 81.1h.1M71.0 83.5h.1M71.6 84.4h.1M72.6 84.4h.1M72.3 84.6h.1M73.9 80.8h.1M76.2 83.8h.1M75.1 81.9h.1M78.1 80.2h.1M77.5 80.5h.1M30.5 87.2h.1M33.7 87.9h.1M30.1 85.1h.1M30.1 89.0h.1M30.4 87.8h.1M31.0 88.4h.1M35.2 89.4h.1M37.2 88.4h.1M38.5 89.7h.1M34.6 86.7h.1M35.3 87.5h.1M38.9 89.0h.1M40.4 89.1h.1M42.9 87.0h.1M41.9 85.8h.1M43.7 87.0h.1M43.9 88.1h.1M39.9 86.6h.1M40.6 89.5h.1M42.4 85.2h.1M40.3 86.8h.1M41.8 87.9h.1M41.4 86.8h.1M47.4 86.7h.1M44.6 87.3h.1M49.4 85.2h.1M45.2 88.4h.1M45.9 86.4h.1M47.0 86.3h.1M47.3 87.6h.1M49.3 90.0h.1M44.7 87.8h.1M48.4 89.4h.1M48.4 88.2h.1M51.3 86.4h.1M53.5 89.4h.1M54.2 88.4h.1M51.0 88.8h.1M53.2 87.5h.1M52.7 86.8h.1M52.3 87.0h.1M49.8 86.7h.1M51.1 89.9h.1M51.9 86.8h.1M50.7 86.2h.1M55.2 85.0h.1M58.9 87.3h.1M56.7 87.8h.1M56.0 85.8h.1M54.8 86.5h.1M56.0 88.6h.1M57.3 89.7h.1M56.2 89.6h.1M57.4 85.4h.1M55.4 87.9h.1M59.4 86.8h.1M61.6 89.3h.1M59.8 87.4h.1M64.0 86.4h.1M60.8 85.1h.1M60.3 86.3h.1M63.0 86.1h.1M65.5 88.0h.1M68.8 88.2h.1M65.5 88.7h.1M69.3 88.0h.1M64.9 89.0h.1M68.9 86.7h.1M65.2 85.9h.1M67.2 89.4h.1M67.7 89.6h.1M65.6 86.6h.1M68.2 88.2h.1M72.9 86.7h.1M69.8 87.1h.1M69.7 88.1h.1M71.2 87.5h.1M72.5 86.3h.1M71.8 85.1h.1M74.1 87.8h.1M74.4 85.3h.1M72.6 88.6h.1M71.1 85.5h.1M70.3 85.7h.1M30.8 93.6h.1M33.3 93.9h.1M31.0 93.9h.1M34.4 92.3h.1M30.9 92.6h.1M34.2 90.7h.1M29.5 92.4h.1M32.8 93.9h.1M31.3 94.9h.1M30.6 93.8h.1M29.9 90.1h.1M34.8 92.5h.1M37.3 90.9h.1M39.2 91.8h.1M35.2 90.9h.1M38.2 94.6h.1M35.3 90.1h.1M38.4 91.2h.1M39.4 92.5h.1M37.7 91.7h.1M38.5 92.3h.1M36.1 94.5h.1M43.2 90.3h.1M42.7 92.0h.1M43.8 90.3h.1M42.3 92.0h.1M44.1 94.7h.1M42.6 91.1h.1M40.8 91.3h.1M41.7 91.2h.1M40.5 93.8h.1M42.7 91.5h.1M44.5 91.1h.1M45.3 94.3h.1M48.8 91.3h.1M48.3 94.1h.1M45.9 91.7h.1M46.9 94.5h.1M45.3 93.4h.1M47.5 92.3h.1M47.4 94.4h.1M45.5 94.4h.1M46.3 93.9h.1M48.8 90.9h.1M54.5 91.5h.1M49.6 90.6h.1M54.4 90.0h.1M54.1 90.8h.1M53.2 90.5h.1M50.3 93.4h.1M50.0 91.7h.1M54.1 93.6h.1M53.9 94.9h.1M49.7 91.2h.1M53.5 93.4h.1M57.0 91.2h.1M56.7 90.5h.1M54.6 95.0h.1M56.1 94.4h.1M55.1 92.4h.1M55.2 92.1h.1M55.4 93.4h.1M55.2 93.7h.1M57.0 90.6h.1M56.3 92.5h.1M59.1 91.7h.1M64.3 94.4h.1M63.2 91.4h.1M60.4 91.3h.1M59.8 90.2h.1M62.0 92.0h.1M62.3 91.8h.1M67.9 93.3h.1M67.2 92.7h.1M68.9 93.6h.1M66.5 91.6h.1M71.4 92.0h.1M69.5 93.0h.1M72.6 91.9h.1M70.7 91.0h.1M69.7 93.5h.1M71.1 93.2h.1M72.2 91.6h.1M28.2 99.3h.1M29.5 96.2h.1M27.6 98.7h.1M32.9 96.6h.1M32.6 97.7h.1M30.6 98.1h.1M30.8 99.5h.1M31.9 98.6h.1M32.1 97.4h.1M30.6 95.7h.1M34.1 97.6h.1M32.1 97.6h.1M33.6 96.2h.1M30.4 99.1h.1M31.8 98.2h.1M33.6 99.5h.1M33.8 95.2h.1M31.4 99.2h.1M35.1 95.8h.1M35.8 95.5h.1M36.3 99.0h.1M37.1 97.3h.1M34.9 97.0h.1M39.5 98.5h.1M36.7 97.4h.1M38.5 98.8h.1M35.2 98.4h.1M36.3 97.6h.1M35.7 96.9h.1M36.2 96.9h.1M34.6 96.0h.1M37.4 95.3h.1M35.4 98.6h.1M41.1 96.2h.1M43.7 95.5h.1M42.7 99.3h.1M40.5 97.1h.1M43.5 98.1h.1M41.4 95.2h.1M41.7 96.8h.1M43.1 96.5h.1M41.5 98.2h.1M43.6 96.8h.1M41.4 97.9h.1M45.5 99.9h.1M48.1 96.9h.1M47.8 96.6h.1M44.9 98.8h.1M46.4 97.6h.1M47.0 99.5h.1M48.3 95.1h.1M47.5 97.3h.1M46.8 99.2h.1M46.6 97.4h.1M49.0 97.2h.1M52.1 99.1h.1M52.9 98.7h.1M51.5 95.2h.1M52.9 97.8h.1M53.3 98.8h.1M50.1 96.1h.1M49.9 99.1h.1M50.0 95.4h.1M53.3 97.8h.1M49.8 98.4h.1M53.1 97.4h.1M58.0 97.1h.1M57.4 100.0h.1M58.6 99.4h.1M55.2 96.7h.1M57.1 95.0h.1M59.4 96.4h.1M55.8 96.6h.1M55.8 99.3h.1M57.3 97.6h.1M56.6 95.3h.1M56.0 99.3h.1M60.5 95.3h.1M32.2 102.0h.1M32.3 101.6h.1M30.9 104.0h.1M31.0 103.6h.1M33.5 103.0h.1M31.8 104.7h.1M31.7 104.4h.1M29.8 102.2h.1M32.7 100.2h.1M33.8 100.4h.1M32.5 100.9h.1M37.3 104.0h.1M37.0 103.4h.1M37.9 101.5h.1M35.6 104.2h.1M35.2 104.6h.1M35.5 100.5h.1M35.0 103.9h.1M39.3 102.1h.1M37.8 101.3h.1M39.0 103.4h.1M35.3 100.3h.1M39.7 104.2h.1M41.0 101.2h.1M42.4 101.6h.1M42.3 100.8h.1M44.1 101.6h.1M43.7 100.8h.1M43.5 104.9h.1M41.5 100.2h.1M41.4 103.2h.1M40.6 102.7h.1M40.0 102.3h.1M43.1 102.1h.1M42.9 100.6h.1M43.6 100.6h.1M44.1 105.0h.1M47.1 101.5h.1M45.0 102.4h.1M48.8 103.0h.1M47.2 100.4h.1M45.2 101.4h.1M49.0 104.2h.1M44.7 103.0h.1M49.3 101.7h.1M52.8 100.3h.1M51.2 102.2h.1M50.7 103.7h.1M50.4 103.9h.1M51.0 100.3h.1M52.3 100.5h.1M52.3 103.9h.1M52.5 102.3h.1M49.7 102.6h.1M50.0 103.2h.1M50.2 102.9h.1M56.4 103.3h.1M55.3 100.8h.1M59.2 101.7h.1M58.7 104.4h.1M56.9 100.7h.1M55.0 104.4h.1M55.1 102.5h.1M57.2 100.6h.1M56.8 100.8h.1M57.2 102.5h.1M56.3 101.0h.1M60.5 100.6h.1M60.7 104.4h.1M62.0 104.5h.1M59.6 104.7h.1M61.9 104.0h.1M62.4 103.4h.1M31.0 109.5h.1M29.9 107.9h.1M30.7 108.0h.1M33.4 108.6h.1M29.8 106.2h.1M32.5 109.9h.1M29.7 108.1h.1M33.0 109.1h.1M31.2 109.1h.1M31.8 109.6h.1M29.6 109.7h.1M36.5 105.4h.1M35.7 108.7h.1M37.9 105.8h.1M36.2 105.7h.1M35.5 106.1h.1M36.2 109.9h.1M42.0 108.9h.1M42.7 106.0h.1M42.6 109.2h.1M43.4 105.5h.1M54.2 109.5h.1M53.2 109.2h.1M53.5 108.0h.1M51.7 109.1h.1M53.4 109.4h.1M52.2 109.7h.1M53.4 106.3h.1M53.7 106.2h.1M56.8 106.2h.1M57.0 109.5h.1M57.9 108.6h.1M56.5 108.9h.1M58.5 108.4h.1M59.2 109.1h.1M56.5 105.4h.1M57.8 109.2h.1M56.2 108.0h.1M58.7 109.0h.1M54.5 107.4h.1M60.1 109.1h.1M61.6 108.0h.1M61.8 106.7h.1M60.6 106.8h.1M63.7 108.1h.1M61.0 105.4h.1M60.9 108.5h.1M61.7 108.3h.1M63.5 105.6h.1M62.9 105.2h.1M63.6 105.9h.1M34.3 111.8h.1M30.6 114.4h.1M32.6 114.5h.1M31.5 112.5h.1M34.3 112.5h.1M34.4 110.9h.1M33.7 110.8h.1M32.1 110.0h.1M31.8 114.0h.1M30.8 111.8h.1M37.3 114.3h.1M37.1 111.9h.1M39.1 114.5h.1M37.8 110.4h.1M37.6 112.2h.1M39.3 111.8h.1M37.8 113.2h.1M36.4 112.6h.1M37.9 114.5h.1M37.0 111.8h.1M39.4 110.3h.1M41.1 110.7h.1M52.4 110.2h.1M52.7 111.4h.1M53.3 111.5h.1M57.9 111.9h.1M58.0 111.4h.1M56.2 110.7h.1M63.9 110.8h.1M63.2 110.9h.1M61.1 110.3h.1M61.0 111.9h.1M60.4 111.5h.1M31.7 115.5h.1M30.8 117.0h.1M31.4 119.8h.1M30.8 116.0h.1M34.0 117.3h.1M33.7 118.2h.1M33.4 116.6h.1M31.9 117.8h.1M32.9 118.8h.1M36.3 119.6h.1M37.1 116.4h.1M37.7 116.3h.1M38.4 115.2h.1M38.6 117.8h.1M36.3 119.7h.1M35.8 116.2h.1M34.8 117.7h.1M38.3 118.4h.1M36.6 119.0h.1M35.1 116.5h.1M34.2 123.7h.1M31.2 122.0h.1M33.5 121.7h.1M32.2 122.6h.1M32.8 124.5h.1M32.0 124.3h.1M32.8 122.9h.1M31.5 122.9h.1M37.0 124.5h.1M33.0 128.1h.1M27.0 49.3h.1M22.8 62.2h.1M31.1 46.2h.1M31.5 48.4h.1M17.7 64.5h.1M20.3 55.3h.1M25.6 51.8h.1M30.7 51.5h.1M31.8 70.1h.1M24.1 58.1h.1M29.2 63.1h.1M21.7 60.9h.1M26.0 52.0h.1M14.1 59.8h.1M15.6 59.1h.1M28.2 67.0h.1M23.0 55.6h.1M16.9 57.5h.1M19.0 51.0h.1M29.4 61.0h.1M22.6 51.1h.1M28.7 51.1h.1M18.6 62.4h.1M28.6 75.2h.1M29.7 74.4h.1M33.7 67.4h.1M29.0 46.9h.1M32.4 67.4h.1M27.0 53.2h.1M20.7 50.1h.1M16.5 56.0h.1M33.2 69.9h.1M30.4 59.6h.1M30.8 59.8h.1M31.4 49.0h.1M15.0 62.5h.1M24.2 51.5h.1M33.4 67.0h.1M22.5 67.7h.1M21.3 70.2h.1M31.9 49.1h.1M26.0 56.7h.1M30.6 59.4h.1M19.9 64.4h.1M31.9 9.4h.1M33.9 15.8h.1M18.9 19.5h.1M25.2 25.1h.1M32.0 24.3h.1M26.9 28.6h.1M33.9 26.9h.1M45.0 4.7h.1M47.3 6.8h.1M38.8 13.8h.1M45.6 12.6h.1M45.6 15.2h.1M47.3 15.2h.1M53.5 19.8h.1M52.4 21.5h.1M39.4 22.6h.1M38.5 24.3h.1M41.4 26.5h.1M43.4 27.7h.1M36.6 32.5h.1M36.9 32.3h.1M38.2 35.1h.1M5.3 36.8h.1M17.8 36.8h.1M31.8 38.7h.1M35.0 37.2h.1M12.5 40.0h.1M10.5 42.9h.1M27.2 40.4h.1M31.7 39.5h.1M30.0 43.5h.1M5.7 47.2h.1M11.4 48.0h.1M12.5 47.2h.1M19.8 47.4h.1M4.6 49.4h.1M7.6 50.2h.1M3.8 51.4h.1M10.8 52.0h.1M9.9 54.2h.1M25.2 49.7h.1M24.5 51.4h.1M29.7 52.2h.1M28.3 54.4h.1M17.3 55.9h.1M19.3 58.7h.1M24.9 58.7h.1M17.6 67.8h.1M25.5 66.7h.1M30.0 66.1h.1M32.2 69.5h.1M24.3 73.5h.1M26.6 75.2h.1M26.0 76.3h.1M30.0 73.5h.1M29.4 79.1h.1M27.2 82.5h.1M28.9 81.9h.1M26.0 85.9h.1M31.7 85.9h.1M82.2 77.6h.1M19.3 61.5h.1M18.7 64.9h.1M28.3 62.1h.1M30.0 60.4h.1M32.2 59.3h.1M33.4 61.5h.1M29.4 65.5h.1M31.1 67.7h.1M33.4 64.9h.1M30.0 58.1h.1M17.6 62.1h.1M20.4 61.0h.1M26.6 62.7h.1M24.3 67.2h.1M27.2 68.9h.1M40.5 28.8h.1M38.8 32.2h.1M38.9 31.6h.1M11.8 38.3h.1M17.6 36.7h.1M11.9 39.0h.1M4.9 42.9h.1M30.0 40.4h.1M6.3 50.2h.1M22.1 54.0h.1M33.4 55.9h.1M29.4 56.4h.1M18.1 65.6h.1M26.6 71.8h.1M32.8 75.7h.1M67.8 38.4h.1M79.1 75.7h.1"/><path stroke="#1846bd" d="M84.1 39.1h.1M84.9 35.3h.1M84.9 39.7h.1M84.9 39.3h.1M84.8 39.3h.1M87.3 39.6h.1M83.0 43.4h.1M81.0 42.6h.1M81.8 42.3h.1M80.1 44.5h.1M80.5 44.9h.1M84.2 40.1h.1M81.8 44.1h.1M84.3 42.2h.1M80.8 41.0h.1M84.2 41.1h.1M82.4 40.7h.1M88.6 42.5h.1M88.9 43.5h.1M85.7 44.5h.1M86.9 40.1h.1M84.5 42.5h.1M86.8 41.5h.1M85.2 41.7h.1M86.1 44.2h.1M84.5 43.8h.1M89.1 43.6h.1M86.4 42.0h.1M89.5 42.9h.1M89.7 43.7h.1M79.3 46.0h.1M79.7 47.1h.1M83.6 48.8h.1M79.7 45.2h.1M79.8 49.6h.1M80.8 48.7h.1M84.0 46.7h.1M80.9 49.8h.1M82.6 46.3h.1M83.1 46.6h.1M80.9 45.0h.1M83.3 49.6h.1M82.7 49.7h.1M79.6 46.2h.1M81.9 49.8h.1M84.3 46.9h.1M86.6 47.5h.1M89.1 45.9h.1M88.5 48.7h.1M88.6 48.9h.1M87.5 46.6h.1M86.1 46.8h.1M88.4 45.4h.1M85.5 48.8h.1M85.7 45.3h.1M84.7 47.8h.1M86.1 49.9h.1M88.9 49.9h.1M85.8 45.4h.1M85.0 47.5h.1M88.0 47.2h.1M91.6 48.1h.1M92.9 48.7h.1M90.1 49.2h.1M91.0 47.8h.1M91.4 48.7h.1M90.5 46.2h.1M90.7 45.8h.1M91.1 47.0h.1M79.0 51.4h.1M81.3 54.4h.1M82.3 52.9h.1M83.9 50.5h.1M84.5 53.1h.1M81.5 54.0h.1M80.8 55.0h.1M82.4 51.8h.1M83.3 52.2h.1M80.4 53.7h.1M79.7 54.1h.1M80.8 53.2h.1M84.4 52.9h.1M82.8 51.6h.1M79.5 50.2h.1M80.2 53.1h.1M87.1 54.5h.1M85.2 51.1h.1M87.8 50.1h.1M84.5 51.8h.1M85.0 51.8h.1M85.6 52.9h.1M87.4 51.0h.1M87.6 52.4h.1M85.2 54.7h.1M85.7 50.7h.1M85.0 53.2h.1M88.9 53.9h.1M86.5 51.3h.1M84.6 53.2h.1M87.3 51.8h.1M91.7 54.7h.1M93.2 51.2h.1M94.0 50.2h.1M92.2 52.0h.1M90.7 50.3h.1M93.4 50.1h.1M92.3 54.7h.1M90.2 51.0h.1M92.5 52.5h.1M92.7 54.1h.1M90.4 51.5h.1M91.0 50.2h.1M93.9 53.9h.1M93.1 50.0h.1M93.7 53.7h.1M95.6 50.5h.1M95.7 50.2h.1M96.2 53.7h.1M98.0 54.2h.1M97.3 52.2h.1M98.4 52.6h.1M95.8 53.2h.1M78.8 58.4h.1M84.2 55.9h.1M82.8 58.9h.1M81.4 57.4h.1M84.4 55.2h.1M82.2 55.8h.1M83.4 59.7h.1M82.1 55.5h.1M82.4 57.7h.1M83.1 57.6h.1M82.7 59.1h.1M82.1 57.1h.1M84.2 56.1h.1M82.9 57.0h.1M83.3 55.6h.1M84.4 56.8h.1M85.9 57.0h.1M84.6 57.1h.1M86.6 58.5h.1M86.3 56.3h.1M85.6 58.7h.1M89.2 57.6h.1M85.6 59.0h.1M86.5 56.1h.1M85.1 58.9h.1M88.5 58.2h.1M86.8 57.8h.1M85.6 59.8h.1M86.3 58.2h.1M88.6 59.1h.1M86.8 56.5h.1M90.1 59.2h.1M91.3 59.3h.1M90.8 56.9h.1M90.8 57.1h.1M90.4 55.0h.1M93.1 56.4h.1M90.7 56.5h.1M91.9 57.1h.1M92.7 58.3h.1M91.3 59.6h.1M93.8 55.3h.1M93.6 59.5h.1M93.4 55.7h.1M93.7 58.2h.1M89.6 55.1h.1M97.8 56.3h.1M95.0 55.7h.1M95.7 58.9h.1M96.2 55.8h.1M99.0 59.0h.1M95.3 59.5h.1M97.5 58.9h.1M97.8 59.5h.1M98.4 59.2h.1M95.5 58.5h.1M97.2 58.7h.1M96.7 59.4h.1M97.3 56.3h.1M95.7 55.7h.1M97.0 55.3h.1M100.2 57.5h.1M99.9 58.2h.1M79.2 61.2h.1M80.5 60.9h.1M83.0 61.8h.1M82.3 62.0h.1M82.1 60.7h.1M81.4 60.5h.1M79.6 60.2h.1M87.3 61.3h.1M88.4 62.1h.1M89.2 63.8h.1M88.6 64.8h.1M85.8 60.2h.1M85.5 60.9h.1M84.9 60.3h.1M87.3 64.4h.1M86.8 64.7h.1M89.0 60.3h.1M87.5 62.0h.1M85.8 62.8h.1M87.7 64.8h.1M87.8 62.0h.1M90.3 64.8h.1M94.5 61.1h.1M89.7 61.3h.1M91.3 64.5h.1M94.0 64.2h.1M89.7 63.9h.1M93.0 63.2h.1M94.4 60.3h.1M90.2 63.8h.1M94.2 63.4h.1M91.0 63.0h.1M93.3 60.5h.1M91.1 61.3h.1M90.1 62.4h.1M90.3 61.2h.1M97.9 60.1h.1M98.1 61.0h.1M94.7 64.6h.1M95.6 64.7h.1M98.8 64.4h.1M95.2 62.2h.1M95.0 64.6h.1M98.7 63.1h.1M96.8 61.7h.1M98.6 62.4h.1M97.6 60.7h.1M95.6 60.3h.1M98.1 62.8h.1M95.2 64.4h.1M95.8 62.1h.1M87.2 65.7h.1M90.7 65.4h.1M92.5 67.9h.1M92.8 66.0h.1M93.1 67.3h.1M92.2 68.1h.1M91.8 66.6h.1M90.7 66.1h.1M92.1 66.9h.1M92.4 65.1h.1M97.3 67.5h.1M96.0 68.9h.1M95.3 65.3h.1M98.9 67.2h.1M94.8 66.9h.1M96.7 68.7h.1M95.0 66.1h.1M95.3 66.7h.1M96.3 68.4h.1M97.9 67.5h.1M96.7 69.4h.1M93.5 70.0h.1M91.7 74.4h.1M92.5 73.5h.1M82.9 70.7h.1M89.1 66.9h.1"/></g><g transform="translate(123.7 149.8)"><line x1="11.4" y1="0" x2="11.4" y2="132.4" class="gr"/><line x1="36.5" y1="0" x2="36.5" y2="132.4" class="gr"/><line x1="61.5" y1="0" x2="61.5" y2="132.4" class="gr"/><line x1="86.6" y1="0" x2="86.6" y2="132.4" class="gr"/><line x1="0" y1="6.0" x2="105.2" y2="6.0" class="gr"/><line x1="0" y1="35.8" x2="105.2" y2="35.8" class="gr"/><line x1="0" y1="65.6" x2="105.2" y2="65.6" class="gr"/><line x1="0" y1="95.4" x2="105.2" y2="95.4" class="gr"/><line x1="0" y1="125.2" x2="105.2" y2="125.2" class="gr"/><path stroke="#ff0a14" d="M49.7 22.2h.1M51.6 24.1h.1M50.1 21.1h.1M52.6 24.7h.1M52.4 22.0h.1M54.7 24.3h.1M47.7 26.9h.1M47.2 25.3h.1M47.9 27.1h.1M46.1 27.9h.1M46.8 26.5h.1M48.5 28.5h.1M45.7 27.9h.1M47.1 29.4h.1M48.1 26.4h.1M49.4 25.6h.1M53.3 25.8h.1M51.9 25.2h.1M52.8 28.8h.1M52.4 29.4h.1M51.1 28.5h.1M52.5 27.9h.1M51.8 29.2h.1M54.2 27.4h.1M52.8 25.3h.1M53.0 28.2h.1M54.5 29.1h.1M50.9 26.9h.1M52.8 25.1h.1M51.8 25.8h.1M50.1 25.3h.1M55.1 26.2h.1M56.5 29.4h.1M54.9 27.2h.1M57.2 29.4h.1M55.9 27.1h.1M45.8 30.0h.1M46.6 31.8h.1M47.3 34.8h.1M48.0 32.6h.1M47.6 33.4h.1M44.8 34.5h.1M48.4 34.4h.1M48.5 32.0h.1M46.5 30.5h.1M47.7 30.3h.1M44.8 31.0h.1M45.3 31.7h.1M44.8 30.0h.1M45.3 30.5h.1M46.3 30.1h.1M52.6 30.7h.1M50.8 31.7h.1M51.3 30.6h.1M53.7 35.0h.1M51.8 32.4h.1M49.9 30.5h.1M51.2 31.3h.1M53.6 30.8h.1M49.6 34.8h.1M52.1 30.7h.1M52.2 30.1h.1M52.1 34.9h.1M53.8 33.5h.1M50.8 31.8h.1M50.3 33.9h.1M58.4 31.6h.1M55.6 34.1h.1M59.4 34.3h.1M58.5 34.1h.1M58.2 31.1h.1M57.1 31.8h.1M54.6 30.1h.1M55.9 31.3h.1M58.0 34.8h.1M56.7 34.7h.1M59.4 34.8h.1M62.6 34.5h.1M62.8 34.0h.1M59.9 33.3h.1M43.4 36.7h.1M43.5 39.9h.1M44.2 38.6h.1M49.0 39.0h.1M45.2 39.1h.1M49.4 38.3h.1M46.3 37.7h.1M45.2 35.1h.1M49.4 38.2h.1M47.1 39.7h.1M46.7 39.4h.1M48.6 36.1h.1M45.8 36.5h.1M45.7 37.9h.1M45.8 37.1h.1M45.2 39.6h.1M46.3 37.3h.1M47.4 39.5h.1M54.1 37.5h.1M52.2 37.6h.1M49.6 37.2h.1M50.4 35.0h.1M53.5 35.9h.1M51.9 38.6h.1M52.3 36.6h.1M52.1 37.8h.1M53.4 35.5h.1M52.3 36.2h.1M50.9 38.9h.1M57.3 38.8h.1M59.1 37.2h.1M57.6 37.5h.1M57.1 38.5h.1M56.8 37.7h.1M56.9 39.7h.1M58.0 39.4h.1M59.2 36.3h.1M57.3 39.7h.1M58.7 35.7h.1M55.1 37.2h.1M60.7 35.4h.1M62.8 38.9h.1M64.0 35.8h.1M63.1 38.3h.1M60.2 39.4h.1M64.3 36.1h.1M64.3 37.0h.1M61.9 39.9h.1M63.7 35.8h.1M61.7 37.6h.1M61.2 36.0h.1M64.6 36.7h.1M84.1 39.1h.1M84.9 35.3h.1M84.9 39.7h.1M84.9 39.3h.1M84.8 39.3h.1M87.3 39.6h.1M38.3 41.4h.1M38.2 42.8h.1M41.9 44.7h.1M40.0 44.1h.1M41.7 42.5h.1M43.7 42.0h.1M42.0 43.4h.1M44.4 41.7h.1M48.0 43.2h.1M46.5 41.7h.1M44.8 40.6h.1M44.9 43.7h.1M45.8 40.8h.1M44.9 44.2h.1M48.9 43.4h.1M45.9 41.2h.1M46.0 42.3h.1M45.3 42.2h.1M45.8 44.8h.1M52.2 41.2h.1M54.3 41.5h.1M51.3 40.0h.1M51.4 42.4h.1M52.0 41.0h.1M52.0 40.0h.1M50.8 40.4h.1M51.5 40.2h.1M49.6 41.5h.1M50.7 42.9h.1M52.1 43.8h.1M58.1 44.4h.1M56.4 41.6h.1M59.4 40.7h.1M58.1 43.2h.1M54.7 44.2h.1M59.0 43.1h.1M63.6 40.7h.1M62.1 42.5h.1M63.7 44.0h.1M63.6 42.9h.1M64.0 43.4h.1M63.0 41.1h.1M59.7 40.7h.1M61.3 40.5h.1M63.7 42.8h.1M62.6 43.1h.1M62.9 42.4h.1M68.5 43.7h.1M67.0 42.7h.1M67.8 40.3h.1M68.2 41.3h.1M64.9 41.3h.1M68.1 41.0h.1M83.0 43.4h.1M81.0 42.6h.1M81.8 42.3h.1M80.1 44.5h.1M80.5 44.9h.1M84.2 40.1h.1M81.8 44.1h.1M84.3 42.2h.1M80.8 41.0h.1M84.2 41.1h.1M82.4 40.7h.1M88.6 42.5h.1M88.9 43.5h.1M85.7 44.5h.1M86.9 40.1h.1M84.5 42.5h.1M86.8 41.5h.1M85.2 41.7h.1M86.1 44.2h.1M84.5 43.8h.1M89.1 43.6h.1M86.4 42.0h.1M89.5 42.9h.1M89.7 43.7h.1M35.9 45.2h.1M39.1 45.6h.1M36.9 46.7h.1M36.0 48.7h.1M39.4 46.3h.1M37.8 46.5h.1M37.3 47.0h.1M35.3 45.8h.1M35.5 49.5h.1M37.0 46.1h.1M39.0 50.0h.1M40.2 46.0h.1M40.0 46.7h.1M40.0 46.2h.1M40.8 47.8h.1M43.9 48.7h.1M41.6 47.1h.1M42.1 46.9h.1M41.2 45.3h.1M40.9 49.8h.1M40.1 47.5h.1M42.6 49.3h.1M45.9 46.2h.1M46.5 47.2h.1M49.3 49.2h.1M48.9 45.1h.1M44.7 48.5h.1M49.0 47.4h.1M47.4 45.0h.1M46.5 49.6h.1M48.6 49.3h.1M49.4 46.2h.1M45.0 45.8h.1M52.9 49.7h.1M53.1 48.2h.1M53.3 47.3h.1M52.3 45.2h.1M53.4 46.2h.1M54.1 48.2h.1M51.0 45.6h.1M50.8 48.2h.1M53.0 45.6h.1M49.9 47.6h.1M52.4 46.9h.1M57.5 45.1h.1M56.0 47.3h.1M59.3 48.2h.1M58.9 47.4h.1M55.7 46.2h.1M59.3 48.5h.1M56.0 45.1h.1M57.0 48.4h.1M56.6 46.3h.1M57.8 49.6h.1M55.6 45.2h.1M61.6 48.4h.1M60.5 49.0h.1M63.2 47.5h.1M60.5 49.8h.1M61.1 49.1h.1M60.7 46.1h.1M66.0 49.8h.1M67.0 45.9h.1M65.6 47.1h.1M67.8 49.7h.1M65.2 47.0h.1M65.6 49.9h.1M69.8 45.3h.1M71.5 49.5h.1M71.1 45.9h.1M69.7 48.3h.1M71.4 46.9h.1M71.2 45.8h.1M69.5 46.4h.1M71.3 49.8h.1M79.3 46.0h.1M79.7 47.1h.1M83.6 48.8h.1M79.7 45.2h.1M79.8 49.6h.1M80.8 48.7h.1M84.0 46.7h.1M80.9 49.8h.1M82.6 46.3h.1M83.1 46.6h.1M80.9 45.0h.1M83.3 49.6h.1M82.7 49.7h.1M79.6 46.2h.1M81.9 49.8h.1M84.3 46.9h.1M86.6 47.5h.1M89.1 45.9h.1M88.5 48.7h.1M88.6 48.9h.1M87.5 46.6h.1M86.1 46.8h.1M88.4 45.4h.1M85.5 48.8h.1M85.7 45.3h.1M84.7 47.8h.1M86.1 49.9h.1M88.9 49.9h.1M85.8 45.4h.1M85.0 47.5h.1M88.0 47.2h.1M91.6 48.1h.1M92.9 48.7h.1M90.1 49.2h.1M91.0 47.8h.1M91.4 48.7h.1M90.5 46.2h.1M90.7 45.8h.1M91.1 47.0h.1M39.2 51.9h.1M38.8 52.2h.1M35.8 53.9h.1M39.2 50.5h.1M37.5 53.1h.1M35.6 51.8h.1M35.2 51.0h.1M35.8 53.0h.1M37.8 51.0h.1M37.9 50.9h.1M40.5 54.0h.1M42.2 50.3h.1M40.0 52.0h.1M42.3 53.2h.1M40.0 50.8h.1M43.0 52.0h.1M40.9 51.5h.1M44.3 51.6h.1M42.3 51.8h.1M41.6 54.3h.1M44.5 51.8h.1M48.1 51.0h.1M44.5 54.5h.1M46.6 54.1h.1M46.5 54.4h.1M46.8 50.8h.1M44.6 52.8h.1M47.7 54.5h.1M44.9 53.1h.1M46.4 52.5h.1M45.2 51.4h.1M47.1 54.6h.1M52.0 54.0h.1M54.3 51.0h.1M50.1 54.7h.1M54.4 52.4h.1M49.8 54.6h.1M51.4 54.5h.1M52.6 54.1h.1M50.3 53.9h.1M50.6 52.0h.1M53.7 54.1h.1M50.4 51.1h.1M57.1 51.9h.1M55.1 51.2h.1M58.1 54.5h.1M54.7 52.8h.1M58.3 50.2h.1M58.7 50.6h.1M62.3 53.1h.1M61.0 52.1h.1M62.4 52.1h.1M62.8 52.2h.1M61.7 50.1h.1M62.6 52.4h.1M68.3 53.9h.1M66.8 50.9h.1M66.9 50.5h.1M65.1 52.2h.1M65.0 52.2h.1M67.1 50.2h.1M69.9 53.7h.1M73.4 52.6h.1M69.8 52.5h.1M71.4 54.8h.1M70.2 54.3h.1M74.5 53.7h.1M74.4 52.5h.1M74.3 54.6h.1M70.3 53.9h.1M79.0 51.4h.1M77.0 54.6h.1M75.3 54.7h.1M75.3 53.9h.1M75.1 52.7h.1M81.3 54.4h.1M82.3 52.9h.1M83.9 50.5h.1M84.5 53.1h.1M81.5 54.0h.1M80.8 55.0h.1M82.4 51.8h.1M83.3 52.2h.1M80.4 53.7h.1M79.7 54.1h.1M80.8 53.2h.1M84.4 52.9h.1M82.8 51.6h.1M79.5 50.2h.1M80.2 53.1h.1M87.1 54.5h.1M85.2 51.1h.1M87.8 50.1h.1M84.5 51.8h.1M85.0 51.8h.1M85.6 52.9h.1M87.4 51.0h.1M87.6 52.4h.1M85.2 54.7h.1M85.7 50.7h.1M85.0 53.2h.1M88.9 53.9h.1M86.5 51.3h.1M84.6 53.2h.1M87.3 51.8h.1M91.7 54.7h.1M93.2 51.2h.1M94.0 50.2h.1M92.2 52.0h.1M90.7 50.3h.1M93.4 50.1h.1M92.3 54.7h.1M90.2 51.0h.1M92.5 52.5h.1M92.7 54.1h.1M90.4 51.5h.1M91.0 50.2h.1M93.9 53.9h.1M93.1 50.0h.1M93.7 53.7h.1M95.6 50.5h.1M95.7 50.2h.1M96.2 53.7h.1M98.0 54.2h.1M97.3 52.2h.1M98.4 52.6h.1M95.8 53.2h.1M36.8 59.2h.1M38.0 59.3h.1M36.7 58.6h.1M37.4 56.5h.1M35.6 58.1h.1M35.2 55.1h.1M36.2 55.7h.1M38.0 58.2h.1M43.2 55.3h.1M42.5 56.8h.1M43.6 59.1h.1M44.0 55.3h.1M43.8 59.6h.1M44.2 55.5h.1M40.5 55.6h.1M39.7 59.2h.1M43.6 58.2h.1M43.6 58.2h.1M40.9 55.5h.1M48.3 56.0h.1M46.1 57.1h.1M44.6 56.3h.1M45.9 58.6h.1M46.3 56.6h.1M49.3 57.5h.1M48.8 58.1h.1M44.7 57.1h.1M46.7 58.9h.1M46.2 58.5h.1M47.2 56.1h.1M50.0 59.1h.1M50.4 55.0h.1M50.5 58.8h.1M54.4 55.0h.1M52.0 57.5h.1M53.5 55.9h.1M52.0 56.7h.1M53.7 56.3h.1M54.2 56.4h.1M50.6 58.5h.1M52.0 55.5h.1M54.9 58.9h.1M58.0 58.9h.1M57.6 56.8h.1M56.5 57.0h.1M59.0 55.4h.1M58.9 55.1h.1M55.5 56.3h.1M59.0 57.5h.1M56.4 59.4h.1M55.7 57.3h.1M57.2 58.8h.1M62.7 56.7h.1M61.1 55.8h.1M63.7 58.3h.1M63.2 55.8h.1M61.7 58.9h.1M62.4 55.6h.1M68.9 56.2h.1M65.5 56.5h.1M68.0 59.2h.1M65.3 55.8h.1M65.7 56.6h.1M67.1 55.8h.1M70.4 59.9h.1M73.1 55.5h.1M74.3 55.5h.1M71.4 59.9h.1M73.5 58.7h.1M71.7 56.0h.1M72.7 55.5h.1M70.5 56.9h.1M69.7 57.0h.1M73.5 58.5h.1M72.0 58.2h.1M71.8 55.7h.1M72.5 57.0h.1M73.2 59.5h.1M71.7 57.9h.1M76.6 56.1h.1M78.1 59.4h.1M78.4 58.5h.1M78.8 58.4h.1M77.7 57.3h.1M76.1 58.1h.1M75.0 57.1h.1M78.4 58.6h.1M77.6 56.3h.1M76.6 57.3h.1M77.6 57.0h.1M84.2 55.9h.1M82.8 58.9h.1M81.4 57.4h.1M84.4 55.2h.1M82.2 55.8h.1M83.4 59.7h.1M82.1 55.5h.1M82.4 57.7h.1M83.1 57.6h.1M82.7 59.1h.1M82.1 57.1h.1M84.2 56.1h.1M82.9 57.0h.1M83.3 55.6h.1M84.4 56.8h.1M85.9 57.0h.1M84.6 57.1h.1M86.6 58.5h.1M86.3 56.3h.1M85.6 58.7h.1M89.2 57.6h.1M85.6 59.0h.1M86.5 56.1h.1M85.1 58.9h.1M88.5 58.2h.1M86.8 57.8h.1M85.6 59.8h.1M86.3 58.2h.1M88.6 59.1h.1M86.8 56.5h.1M90.1 59.2h.1M91.3 59.3h.1M90.8 56.9h.1M90.8 57.1h.1M90.4 55.0h.1M93.1 56.4h.1M90.7 56.5h.1M91.9 57.1h.1M92.7 58.3h.1M91.3 59.6h.1M93.8 55.3h.1M93.6 59.5h.1M93.4 55.7h.1M93.7 58.2h.1M89.6 55.1h.1M97.8 56.3h.1M95.0 55.7h.1M95.7 58.9h.1M96.2 55.8h.1M99.0 59.0h.1M95.3 59.5h.1M97.5 58.9h.1M97.8 59.5h.1M98.4 59.2h.1M95.5 58.5h.1M97.2 58.7h.1M96.7 59.4h.1M97.3 56.3h.1M95.7 55.7h.1M97.0 55.3h.1M100.2 57.5h.1M99.9 58.2h.1M39.0 60.2h.1M41.7 62.1h.1M42.3 64.1h.1M41.0 64.1h.1M41.5 62.5h.1M40.9 62.5h.1M44.4 63.3h.1M43.5 61.7h.1M41.1 61.5h.1M42.4 63.2h.1M43.4 60.2h.1M43.1 64.4h.1M44.7 61.5h.1M44.5 60.9h.1M49.1 63.0h.1M47.8 63.9h.1M49.0 63.1h.1M47.6 63.1h.1M48.0 63.0h.1M47.9 61.1h.1M47.8 62.3h.1M48.3 60.5h.1M45.4 60.2h.1M54.1 63.3h.1M51.3 64.1h.1M53.4 62.8h.1M50.8 61.5h.1M51.6 61.6h.1M51.7 63.2h.1M54.2 60.3h.1M52.3 60.2h.1M50.1 64.1h.1M52.4 64.6h.1M51.7 60.1h.1M59.4 62.4h.1M56.6 60.5h.1M57.7 61.1h.1M55.3 60.1h.1M54.5 63.4h.1M55.1 64.8h.1M54.9 64.3h.1M55.1 60.1h.1M58.1 61.2h.1M58.2 60.9h.1M63.4 63.6h.1M63.8 63.6h.1M59.9 63.1h.1M63.0 62.3h.1M64.2 61.3h.1M64.3 63.6h.1M59.6 60.1h.1M62.8 64.1h.1M59.9 61.6h.1M63.1 60.8h.1M63.8 62.4h.1M66.3 62.9h.1M66.7 63.4h.1M65.2 64.0h.1M66.3 63.2h.1M67.6 62.1h.1M66.4 63.9h.1M69.2 63.9h.1M67.3 61.5h.1M64.8 64.9h.1M68.0 64.1h.1M66.2 63.0h.1M73.7 63.0h.1M71.0 62.1h.1M73.9 61.9h.1M72.9 63.0h.1M74.0 64.0h.1M70.9 60.0h.1M70.8 62.1h.1M72.4 64.1h.1M73.9 60.2h.1M73.7 64.1h.1M73.8 62.9h.1M70.9 64.3h.1M73.5 63.4h.1M74.1 61.7h.1M69.9 62.8h.1M75.5 63.8h.1M79.2 61.2h.1M76.8 61.0h.1M75.8 63.8h.1M78.5 62.3h.1M74.9 64.0h.1M78.4 61.2h.1M76.9 62.9h.1M80.5 60.9h.1M83.0 61.8h.1M82.3 62.0h.1M82.1 60.7h.1M81.4 60.5h.1M79.6 60.2h.1M87.3 61.3h.1M88.4 62.1h.1M89.2 63.8h.1M88.6 64.8h.1M85.8 60.2h.1M85.5 60.9h.1M84.9 60.3h.1M87.3 64.4h.1M86.8 64.7h.1M89.0 60.3h.1M87.5 62.0h.1M85.8 62.8h.1M87.7 64.8h.1M87.8 62.0h.1M90.3 64.8h.1M94.5 61.1h.1M89.7 61.3h.1M91.3 64.5h.1M94.0 64.2h.1M89.7 63.9h.1M93.0 63.2h.1M94.4 60.3h.1M90.2 63.8h.1M94.2 63.4h.1M91.0 63.0h.1M93.3 60.5h.1M91.1 61.3h.1M90.1 62.4h.1M90.3 61.2h.1M97.9 60.1h.1M98.1 61.0h.1M94.7 64.6h.1M95.6 64.7h.1M98.8 64.4h.1M95.2 62.2h.1M95.0 64.6h.1M98.7 63.1h.1M96.8 61.7h.1M98.6 62.4h.1M97.6 60.7h.1M95.6 60.3h.1M98.1 62.8h.1M95.2 64.4h.1M95.8 62.1h.1M47.4 65.7h.1M45.4 68.9h.1M48.1 66.0h.1M44.9 65.4h.1M47.5 67.5h.1M45.9 66.0h.1M47.6 68.5h.1M48.6 67.9h.1M45.5 65.3h.1M48.2 67.0h.1M48.1 65.3h.1M51.2 69.2h.1M53.8 67.5h.1M49.6 69.6h.1M51.9 69.4h.1M50.8 65.9h.1M53.7 66.8h.1M50.3 66.9h.1M52.5 65.0h.1M52.1 67.2h.1M52.1 65.6h.1M53.1 69.1h.1M56.1 68.6h.1M56.4 68.8h.1M54.8 69.4h.1M59.3 67.5h.1M57.1 67.7h.1M59.3 66.1h.1M55.4 65.5h.1M55.8 69.1h.1M54.7 65.5h.1M62.5 67.9h.1M62.1 68.5h.1M60.0 69.3h.1M63.1 65.2h.1M60.1 67.5h.1M62.0 66.4h.1M60.1 67.0h.1M60.2 68.0h.1M63.8 65.7h.1M62.4 68.7h.1M60.3 69.1h.1M66.4 67.1h.1M68.7 67.6h.1M66.5 69.7h.1M68.4 66.7h.1M65.7 66.7h.1M66.7 69.9h.1M68.5 69.6h.1M68.6 69.2h.1M64.8 67.6h.1M69.3 69.7h.1M65.7 67.1h.1M71.3 67.7h.1M69.8 67.2h.1M72.0 65.1h.1M70.2 69.8h.1M73.4 69.7h.1M72.7 69.0h.1M73.9 69.4h.1M69.7 68.2h.1M70.8 68.4h.1M70.9 67.7h.1M74.1 68.1h.1M87.2 65.7h.1M90.7 65.4h.1M92.5 67.9h.1M92.8 66.0h.1M93.1 67.3h.1M92.2 68.1h.1M91.8 66.6h.1M90.7 66.1h.1M92.1 66.9h.1M92.4 65.1h.1M97.3 67.5h.1M96.0 68.9h.1M95.3 65.3h.1M98.9 67.2h.1M94.8 66.9h.1M96.7 68.7h.1M95.0 66.1h.1M95.3 66.7h.1M96.3 68.4h.1M44.3 72.9h.1M48.4 74.4h.1M47.5 71.9h.1M46.8 72.3h.1M48.1 71.5h.1M46.5 72.8h.1M46.4 71.6h.1M48.4 74.2h.1M47.0 72.2h.1M45.4 71.5h.1M45.2 72.9h.1M47.4 70.4h.1M51.1 74.2h.1M53.7 74.8h.1M50.5 72.1h.1M54.1 70.1h.1M49.7 72.8h.1M52.0 74.6h.1M53.4 72.7h.1M54.5 72.6h.1M52.1 73.4h.1M51.4 71.8h.1M52.5 71.8h.1M57.9 72.6h.1M55.0 71.9h.1M56.5 72.8h.1M57.4 74.4h.1M59.3 72.4h.1M56.7 73.1h.1M59.5 71.7h.1M57.2 74.1h.1M55.4 71.6h.1M59.4 74.1h.1M57.1 70.6h.1M62.9 74.1h.1M64.5 74.4h.1M61.6 70.8h.1M60.9 72.6h.1M62.0 70.9h.1M60.4 73.2h.1M62.5 71.8h.1M64.5 73.2h.1M59.7 72.1h.1M63.4 71.5h.1M63.0 70.0h.1M68.7 72.9h.1M67.8 71.0h.1M67.0 72.8h.1M65.8 73.2h.1M67.2 75.0h.1M67.4 72.1h.1M65.1 70.8h.1M68.3 70.5h.1M65.0 70.9h.1M67.1 74.1h.1M67.6 74.0h.1M69.6 73.9h.1M71.1 73.6h.1M71.3 70.8h.1M70.8 70.5h.1M74.0 72.9h.1M71.2 72.2h.1M71.4 70.3h.1M74.0 72.9h.1M74.3 72.2h.1M72.6 71.2h.1M69.7 74.7h.1M73.8 71.6h.1M74.0 74.1h.1M71.0 73.0h.1M74.3 72.5h.1M75.7 71.9h.1M76.0 74.4h.1M76.9 74.0h.1M75.7 70.9h.1M43.7 79.0h.1M45.5 79.8h.1M47.0 76.1h.1M46.8 75.7h.1M48.0 76.3h.1M49.0 77.9h.1M46.3 76.2h.1M47.5 76.1h.1M48.9 75.6h.1M47.1 77.7h.1M45.9 78.9h.1M46.4 78.3h.1M51.1 76.9h.1M49.9 75.9h.1M53.8 76.6h.1M52.8 75.5h.1M52.3 76.8h.1M52.0 76.5h.1M56.1 76.1h.1M55.1 78.6h.1M55.9 77.0h.1M59.0 78.9h.1M58.9 79.3h.1M55.2 76.4h.1M54.6 78.4h.1M57.8 76.8h.1M56.6 78.3h.1M58.0 76.2h.1M58.7 76.8h.1M60.4 75.6h.1M64.1 78.7h.1M63.1 75.2h.1M59.7 75.8h.1M60.5 76.5h.1M61.4 75.2h.1M61.1 78.2h.1M60.4 79.2h.1M62.4 78.6h.1M60.8 77.2h.1M62.9 76.7h.1M68.7 78.9h.1M65.9 75.2h.1M68.8 78.0h.1M64.7 76.2h.1M65.1 79.0h.1M65.6 79.6h.1M68.2 75.4h.1M68.0 77.0h.1M68.2 79.1h.1M65.9 75.4h.1M69.2 77.1h.1M73.0 78.7h.1M73.6 78.1h.1M71.8 75.3h.1M73.0 77.1h.1M72.1 79.6h.1M70.1 78.8h.1M69.7 78.5h.1M73.5 76.3h.1M72.2 79.8h.1M72.7 77.7h.1M70.7 75.3h.1M71.3 77.1h.1M70.5 76.6h.1M70.2 78.5h.1M72.9 76.2h.1M77.1 77.2h.1M79.2 76.8h.1M76.0 79.4h.1M75.2 77.8h.1M76.2 79.1h.1M77.2 78.8h.1M75.3 78.3h.1M77.5 77.3h.1M78.3 79.2h.1M75.1 76.4h.1M76.3 76.0h.1M44.2 83.3h.1M43.4 84.2h.1M44.1 80.8h.1M43.4 84.2h.1M43.2 81.6h.1M48.6 81.6h.1M46.3 82.8h.1M46.3 84.2h.1M45.7 80.2h.1M47.3 83.1h.1M48.6 83.5h.1M49.0 84.7h.1M47.0 82.5h.1M45.3 81.5h.1M47.4 80.4h.1M47.9 80.8h.1M54.3 80.4h.1M49.7 82.2h.1M50.5 83.6h.1M49.5 84.2h.1M53.8 83.9h.1M51.6 81.4h.1M57.1 82.1h.1M56.2 82.2h.1M57.8 84.1h.1M59.0 80.8h.1M56.0 82.2h.1M57.3 81.7h.1M55.5 80.4h.1M56.1 82.3h.1M59.4 84.5h.1M58.8 84.9h.1M59.3 83.1h.1M59.8 83.4h.1M62.5 81.5h.1M62.4 84.8h.1M61.9 83.2h.1M61.0 81.7h.1M63.9 80.1h.1M60.4 83.4h.1M61.7 80.4h.1M62.8 81.9h.1M62.4 82.1h.1M62.1 82.8h.1M65.1 80.9h.1M68.9 82.7h.1M65.1 84.3h.1M65.8 80.5h.1M67.2 81.3h.1M66.9 82.8h.1M65.6 82.9h.1M65.1 82.6h.1M67.4 80.4h.1M66.5 80.4h.1M66.7 84.3h.1M73.1 83.8h.1M70.1 85.0h.1M73.1 80.5h.1M73.7 82.0h.1M70.4 84.8h.1M72.3 83.9h.1M70.2 83.9h.1M69.8 81.2h.1M71.4 80.1h.1M72.5 81.1h.1M71.0 83.5h.1M71.6 84.4h.1M72.6 84.4h.1M72.3 84.6h.1M73.9 80.8h.1M76.2 83.8h.1M75.1 81.9h.1M78.1 80.2h.1M77.5 80.5h.1M42.9 87.0h.1M43.7 87.0h.1M43.9 88.1h.1M47.4 86.7h.1M44.6 87.3h.1M49.4 85.2h.1M45.2 88.4h.1M45.9 86.4h.1M47.0 86.3h.1M47.3 87.6h.1M49.3 90.0h.1M44.7 87.8h.1M48.4 89.4h.1M48.4 88.2h.1M51.3 86.4h.1M53.5 89.4h.1M54.2 88.4h.1M51.0 88.8h.1M53.2 87.5h.1M52.7 86.8h.1M52.3 87.0h.1M49.8 86.7h.1M51.1 89.9h.1M51.9 86.8h.1M50.7 86.2h.1M55.2 85.0h.1M58.9 87.3h.1M56.7 87.8h.1M56.0 85.8h.1M54.8 86.5h.1M56.0 88.6h.1M57.3 89.7h.1M56.2 89.6h.1M57.4 85.4h.1M55.4 87.9h.1M59.4 86.8h.1M61.6 89.3h.1M59.8 87.4h.1M64.0 86.4h.1M60.8 85.1h.1M60.3 86.3h.1M63.0 86.1h.1M65.5 88.0h.1M68.8 88.2h.1M65.5 88.7h.1M69.3 88.0h.1M64.9 89.0h.1M68.9 86.7h.1M65.2 85.9h.1M67.2 89.4h.1M67.7 89.6h.1M65.6 86.6h.1M68.2 88.2h.1M72.9 86.7h.1M69.8 87.1h.1M69.7 88.1h.1M71.2 87.5h.1M72.5 86.3h.1M71.8 85.1h.1M74.1 87.8h.1M74.4 85.3h.1M72.6 88.6h.1M71.1 85.5h.1M70.3 85.7h.1M43.2 90.3h.1M42.7 92.0h.1M43.8 90.3h.1M44.1 94.7h.1M42.6 91.1h.1M42.7 91.5h.1M44.5 91.1h.1M45.3 94.3h.1M48.8 91.3h.1M48.3 94.1h.1M45.9 91.7h.1M46.9 94.5h.1M45.3 93.4h.1M47.5 92.3h.1M47.4 94.4h.1M45.5 94.4h.1M46.3 93.9h.1M48.8 90.9h.1M54.5 91.5h.1M49.6 90.6h.1M54.4 90.0h.1M54.1 90.8h.1M53.2 90.5h.1M50.3 93.4h.1M50.0 91.7h.1M54.1 93.6h.1M53.9 94.9h.1M49.7 91.2h.1M53.5 93.4h.1M57.0 91.2h.1M56.7 90.5h.1M54.6 95.0h.1M56.1 94.4h.1M55.1 92.4h.1M55.2 92.1h.1M55.4 93.4h.1M55.2 93.7h.1M57.0 90.6h.1M56.3 92.5h.1M59.1 91.7h.1M60.4 91.3h.1M59.8 90.2h.1M62.0 92.0h.1M67.9 93.3h.1M67.2 92.7h.1M68.9 93.6h.1M66.5 91.6h.1M71.4 92.0h.1M69.5 93.0h.1M72.6 91.9h.1M70.7 91.0h.1M69.7 93.5h.1M71.1 93.2h.1M72.2 91.6h.1M43.7 95.5h.1M43.5 98.1h.1M43.1 96.5h.1M43.6 96.8h.1M45.5 99.9h.1M48.1 96.9h.1M47.8 96.6h.1M44.9 98.8h.1M46.4 97.6h.1M47.0 99.5h.1M48.3 95.1h.1M47.5 97.3h.1M46.8 99.2h.1M46.6 97.4h.1M49.0 97.2h.1M52.1 99.1h.1M52.9 98.7h.1M51.5 95.2h.1M52.9 97.8h.1M53.3 98.8h.1M50.1 96.1h.1M49.9 99.1h.1M50.0 95.4h.1M53.3 97.8h.1M49.8 98.4h.1M53.1 97.4h.1M58.0 97.1h.1M57.4 100.0h.1M58.6 99.4h.1M55.2 96.7h.1M57.1 95.0h.1M59.4 96.4h.1M55.8 96.6h.1M55.8 99.3h.1M57.3 97.6h.1M56.6 95.3h.1M56.0 99.3h.1M60.5 95.3h.1M47.1 101.5h.1M45.0 102.4h.1M48.8 103.0h.1M47.2 100.4h.1M45.2 101.4h.1M49.0 104.2h.1M49.3 101.7h.1M52.8 100.3h.1M51.2 102.2h.1M50.7 103.7h.1M50.4 103.9h.1M51.0 100.3h.1M52.3 100.5h.1M52.3 103.9h.1M52.5 102.3h.1M49.7 102.6h.1M50.0 103.2h.1M50.2 102.9h.1M56.4 103.3h.1M55.3 100.8h.1M59.2 101.7h.1M58.7 104.4h.1M56.9 100.7h.1M55.0 104.4h.1M55.1 102.5h.1M57.2 100.6h.1M56.8 100.8h.1M57.2 102.5h.1M56.3 101.0h.1M60.5 100.6h.1M60.7 104.4h.1M62.0 104.5h.1M59.6 104.7h.1M61.9 104.0h.1M62.4 103.4h.1M54.2 109.5h.1M53.2 109.2h.1M53.5 108.0h.1M51.7 109.1h.1M53.4 109.4h.1M52.2 109.7h.1M53.4 106.3h.1M53.7 106.2h.1M56.8 106.2h.1M57.0 109.5h.1M57.9 108.6h.1M56.5 108.9h.1M58.5 108.4h.1M59.2 109.1h.1M56.5 105.4h.1M57.8 109.2h.1M56.2 108.0h.1M58.7 109.0h.1M54.5 107.4h.1M60.1 109.1h.1M61.6 108.0h.1M61.8 106.7h.1M60.6 106.8h.1M63.7 108.1h.1M61.0 105.4h.1M60.9 108.5h.1M61.7 108.3h.1M63.5 105.6h.1M62.9 105.2h.1M63.6 105.9h.1M52.4 110.2h.1M52.7 111.4h.1M53.3 111.5h.1M57.9 111.9h.1M58.0 111.4h.1M56.2 110.7h.1M63.9 110.8h.1M63.2 110.9h.1M61.1 110.3h.1M61.0 111.9h.1M60.4 111.5h.1M31.9 9.4h.1M33.9 15.8h.1M25.2 25.1h.1M32.0 24.3h.1M26.9 28.6h.1M33.9 26.9h.1M45.0 4.7h.1M47.3 6.8h.1M38.8 13.8h.1M45.6 12.6h.1M45.6 15.2h.1M47.3 15.2h.1M53.5 19.8h.1M52.4 21.5h.1M39.4 22.6h.1M38.5 24.3h.1M41.4 26.5h.1M43.4 27.7h.1M36.6 32.5h.1M36.9 32.3h.1M38.2 35.1h.1M31.8 38.7h.1M35.0 37.2h.1M31.7 39.5h.1M97.9 67.5h.1M96.7 69.4h.1M93.5 70.0h.1M91.7 74.4h.1M92.5 73.5h.1M82.9 70.7h.1M40.5 28.8h.1M38.8 32.2h.1M38.9 31.6h.1M89.1 66.9h.1M79.1 75.7h.1"/><path stroke="#1846bd" d="M64.8 39.9h.1M68.4 39.9h.1M69.9 40.7h.1M70.8 43.7h.1M76.3 49.1h.1M78.6 47.2h.1M76.4 49.6h.1M78.3 50.8h.1M78.6 50.7h.1M75.5 51.3h.1M77.0 51.6h.1M77.9 54.5h.1M37.1 62.4h.1M38.1 63.1h.1M36.2 64.3h.1M36.3 62.4h.1M37.1 63.9h.1M57.5 64.7h.1M36.9 66.4h.1M35.8 66.0h.1M36.3 70.0h.1M39.5 69.6h.1M35.0 66.4h.1M39.0 65.3h.1M41.0 69.9h.1M39.6 69.0h.1M41.2 65.7h.1M39.5 69.2h.1M42.1 65.9h.1M41.7 69.6h.1M57.2 65.1h.1M58.0 66.0h.1M38.6 72.6h.1M38.2 73.7h.1M41.9 73.9h.1M43.0 74.6h.1M40.1 74.4h.1M39.5 73.8h.1M42.4 72.5h.1M36.5 75.3h.1M35.1 79.1h.1M36.3 76.2h.1M35.5 76.4h.1M35.7 75.2h.1M37.8 76.7h.1M43.0 75.5h.1M40.8 79.2h.1M40.1 77.2h.1M40.3 76.8h.1M43.1 76.9h.1M80.9 76.0h.1M34.9 80.1h.1M39.5 83.8h.1M34.9 83.6h.1M39.4 82.8h.1M35.0 82.4h.1M36.7 80.9h.1M39.5 84.6h.1M42.7 83.1h.1M40.8 81.2h.1M40.2 80.1h.1M41.0 80.9h.1M42.7 84.2h.1M30.5 87.2h.1M33.7 87.9h.1M30.1 85.1h.1M30.1 89.0h.1M30.4 87.8h.1M31.0 88.4h.1M35.2 89.4h.1M37.2 88.4h.1M38.5 89.7h.1M34.6 86.7h.1M35.3 87.5h.1M38.9 89.0h.1M40.4 89.1h.1M41.9 85.8h.1M39.9 86.6h.1M40.6 89.5h.1M42.4 85.2h.1M40.3 86.8h.1M41.8 87.9h.1M41.4 86.8h.1M30.8 93.6h.1M33.3 93.9h.1M31.0 93.9h.1M34.4 92.3h.1M30.9 92.6h.1M34.2 90.7h.1M29.5 92.4h.1M32.8 93.9h.1M31.3 94.9h.1M30.6 93.8h.1M29.9 90.1h.1M34.8 92.5h.1M37.3 90.9h.1M39.2 91.8h.1M35.2 90.9h.1M38.2 94.6h.1M35.3 90.1h.1M38.4 91.2h.1M39.4 92.5h.1M37.7 91.7h.1M38.5 92.3h.1M36.1 94.5h.1M42.3 92.0h.1M40.8 91.3h.1M41.7 91.2h.1M40.5 93.8h.1M64.3 94.4h.1M63.2 91.4h.1M62.3 91.8h.1M28.2 99.3h.1M29.5 96.2h.1M27.6 98.7h.1M32.9 96.6h.1M32.6 97.7h.1M30.6 98.1h.1M30.8 99.5h.1M31.9 98.6h.1M32.1 97.4h.1M30.6 95.7h.1M34.1 97.6h.1M32.1 97.6h.1M33.6 96.2h.1M30.4 99.1h.1M31.8 98.2h.1M33.6 99.5h.1M33.8 95.2h.1M31.4 99.2h.1M35.1 95.8h.1M35.8 95.5h.1M36.3 99.0h.1M37.1 97.3h.1M34.9 97.0h.1M39.5 98.5h.1M36.7 97.4h.1M38.5 98.8h.1M35.2 98.4h.1M36.3 97.6h.1M35.7 96.9h.1M36.2 96.9h.1M34.6 96.0h.1M37.4 95.3h.1M35.4 98.6h.1M41.1 96.2h.1M42.7 99.3h.1M40.5 97.1h.1M41.4 95.2h.1M41.7 96.8h.1M41.5 98.2h.1M41.4 97.9h.1M32.2 102.0h.1M32.3 101.6h.1M30.9 104.0h.1M31.0 103.6h.1M33.5 103.0h.1M31.8 104.7h.1M31.7 104.4h.1M29.8 102.2h.1M32.7 100.2h.1M33.8 100.4h.1M32.5 100.9h.1M37.3 104.0h.1M37.0 103.4h.1M37.9 101.5h.1M35.6 104.2h.1M35.2 104.6h.1M35.5 100.5h.1M35.0 103.9h.1M39.3 102.1h.1M37.8 101.3h.1M39.0 103.4h.1M35.3 100.3h.1M39.7 104.2h.1M41.0 101.2h.1M42.4 101.6h.1M42.3 100.8h.1M44.1 101.6h.1M43.7 100.8h.1M43.5 104.9h.1M41.5 100.2h.1M41.4 103.2h.1M40.6 102.7h.1M40.0 102.3h.1M43.1 102.1h.1M42.9 100.6h.1M43.6 100.6h.1M44.1 105.0h.1M44.7 103.0h.1M31.0 109.5h.1M29.9 107.9h.1M30.7 108.0h.1M33.4 108.6h.1M29.8 106.2h.1M32.5 109.9h.1M29.7 108.1h.1M33.0 109.1h.1M31.2 109.1h.1M31.8 109.6h.1M29.6 109.7h.1M36.5 105.4h.1M35.7 108.7h.1M37.9 105.8h.1M36.2 105.7h.1M35.5 106.1h.1M36.2 109.9h.1M42.0 108.9h.1M42.7 106.0h.1M42.6 109.2h.1M43.4 105.5h.1M34.3 111.8h.1M30.6 114.4h.1M32.6 114.5h.1M31.5 112.5h.1M34.3 112.5h.1M34.4 110.9h.1M33.7 110.8h.1M32.1 110.0h.1M31.8 114.0h.1M30.8 111.8h.1M37.3 114.3h.1M37.1 111.9h.1M39.1 114.5h.1M37.8 110.4h.1M37.6 112.2h.1M39.3 111.8h.1M37.8 113.2h.1M36.4 112.6h.1M37.9 114.5h.1M37.0 111.8h.1M39.4 110.3h.1M41.1 110.7h.1M31.7 115.5h.1M30.8 117.0h.1M31.4 119.8h.1M30.8 116.0h.1M34.0 117.3h.1M33.7 118.2h.1M33.4 116.6h.1M31.9 117.8h.1M32.9 118.8h.1M36.3 119.6h.1M37.1 116.4h.1M37.7 116.3h.1M38.4 115.2h.1M38.6 117.8h.1M36.3 119.7h.1M35.8 116.2h.1M34.8 117.7h.1M38.3 118.4h.1M36.6 119.0h.1M35.1 116.5h.1M34.2 123.7h.1M31.2 122.0h.1M33.5 121.7h.1M32.2 122.6h.1M32.8 124.5h.1M32.0 124.3h.1M32.8 122.9h.1M31.5 122.9h.1M37.0 124.5h.1M33.0 128.1h.1M27.0 49.3h.1M22.8 62.2h.1M31.1 46.2h.1M31.5 48.4h.1M17.7 64.5h.1M20.3 55.3h.1M25.6 51.8h.1M30.7 51.5h.1M31.8 70.1h.1M24.1 58.1h.1M29.2 63.1h.1M21.7 60.9h.1M26.0 52.0h.1M14.1 59.8h.1M15.6 59.1h.1M28.2 67.0h.1M23.0 55.6h.1M16.9 57.5h.1M19.0 51.0h.1M29.4 61.0h.1M22.6 51.1h.1M28.7 51.1h.1M18.6 62.4h.1M28.6 75.2h.1M29.7 74.4h.1M33.7 67.4h.1M29.0 46.9h.1M32.4 67.4h.1M27.0 53.2h.1M20.7 50.1h.1M16.5 56.0h.1M33.2 69.9h.1M30.4 59.6h.1M30.8 59.8h.1M31.4 49.0h.1M15.0 62.5h.1M24.2 51.5h.1M33.4 67.0h.1M22.5 67.7h.1M21.3 70.2h.1M31.9 49.1h.1M26.0 56.7h.1M30.6 59.4h.1M19.9 64.4h.1M18.9 19.5h.1M5.3 36.8h.1M17.8 36.8h.1M12.5 40.0h.1M10.5 42.9h.1M27.2 40.4h.1M30.0 43.5h.1M5.7 47.2h.1M11.4 48.0h.1M12.5 47.2h.1M19.8 47.4h.1M4.6 49.4h.1M7.6 50.2h.1M3.8 51.4h.1M10.8 52.0h.1M9.9 54.2h.1M25.2 49.7h.1M24.5 51.4h.1M29.7 52.2h.1M28.3 54.4h.1M17.3 55.9h.1M19.3 58.7h.1M24.9 58.7h.1M17.6 67.8h.1M25.5 66.7h.1M30.0 66.1h.1M32.2 69.5h.1M24.3 73.5h.1M26.6 75.2h.1M26.0 76.3h.1M30.0 73.5h.1M29.4 79.1h.1M27.2 82.5h.1M28.9 81.9h.1M26.0 85.9h.1M31.7 85.9h.1M82.2 77.6h.1M19.3 61.5h.1M18.7 64.9h.1M28.3 62.1h.1M30.0 60.4h.1M32.2 59.3h.1M33.4 61.5h.1M29.4 65.5h.1M31.1 67.7h.1M33.4 64.9h.1M30.0 58.1h.1M17.6 62.1h.1M20.4 61.0h.1M26.6 62.7h.1M24.3 67.2h.1M27.2 68.9h.1M11.8 38.3h.1M17.6 36.7h.1M11.9 39.0h.1M4.9 42.9h.1M30.0 40.4h.1M6.3 50.2h.1M22.1 54.0h.1M33.4 55.9h.1M29.4 56.4h.1M18.1 65.6h.1M26.6 71.8h.1M32.8 75.7h.1M67.8 38.4h.1"/></g><g transform="translate(228.9 149.8)"><line x1="11.4" y1="0" x2="11.4" y2="132.4" class="gr"/><line x1="36.5" y1="0" x2="36.5" y2="132.4" class="gr"/><line x1="61.5" y1="0" x2="61.5" y2="132.4" class="gr"/><line x1="86.6" y1="0" x2="86.6" y2="132.4" class="gr"/><line x1="0" y1="6.0" x2="105.2" y2="6.0" class="gr"/><line x1="0" y1="35.8" x2="105.2" y2="35.8" class="gr"/><line x1="0" y1="65.6" x2="105.2" y2="65.6" class="gr"/><line x1="0" y1="95.4" x2="105.2" y2="95.4" class="gr"/><line x1="0" y1="125.2" x2="105.2" y2="125.2" class="gr"/><path stroke="#ff0a14" d="M64.8 39.9h.1M68.4 39.9h.1M84.1 39.1h.1M84.9 35.3h.1M84.9 39.7h.1M84.9 39.3h.1M84.8 39.3h.1M87.3 39.6h.1M63.7 44.0h.1M63.6 42.9h.1M64.0 43.4h.1M63.7 42.8h.1M68.5 43.7h.1M67.0 42.7h.1M67.8 40.3h.1M68.2 41.3h.1M64.9 41.3h.1M68.1 41.0h.1M69.9 40.7h.1M70.8 43.7h.1M83.0 43.4h.1M81.0 42.6h.1M81.8 42.3h.1M80.1 44.5h.1M80.5 44.9h.1M84.2 40.1h.1M81.8 44.1h.1M84.3 42.2h.1M80.8 41.0h.1M84.2 41.1h.1M82.4 40.7h.1M88.6 42.5h.1M88.9 43.5h.1M85.7 44.5h.1M86.9 40.1h.1M84.5 42.5h.1M86.8 41.5h.1M85.2 41.7h.1M86.1 44.2h.1M84.5 43.8h.1M89.1 43.6h.1M86.4 42.0h.1M89.5 42.9h.1M89.7 43.7h.1M61.6 48.4h.1M63.2 47.5h.1M66.0 49.8h.1M67.0 45.9h.1M65.6 47.1h.1M67.8 49.7h.1M65.2 47.0h.1M65.6 49.9h.1M69.8 45.3h.1M71.5 49.5h.1M71.1 45.9h.1M69.7 48.3h.1M71.4 46.9h.1M71.2 45.8h.1M69.5 46.4h.1M71.3 49.8h.1M79.3 46.0h.1M76.3 49.1h.1M78.6 47.2h.1M76.4 49.6h.1M79.7 47.1h.1M83.6 48.8h.1M79.7 45.2h.1M79.8 49.6h.1M80.8 48.7h.1M84.0 46.7h.1M80.9 49.8h.1M82.6 46.3h.1M83.1 46.6h.1M80.9 45.0h.1M83.3 49.6h.1M82.7 49.7h.1M79.6 46.2h.1M81.9 49.8h.1M84.3 46.9h.1M86.6 47.5h.1M89.1 45.9h.1M88.5 48.7h.1M88.6 48.9h.1M87.5 46.6h.1M86.1 46.8h.1M88.4 45.4h.1M85.5 48.8h.1M85.7 45.3h.1M84.7 47.8h.1M86.1 49.9h.1M88.9 49.9h.1M85.8 45.4h.1M85.0 47.5h.1M88.0 47.2h.1M91.6 48.1h.1M92.9 48.7h.1M90.1 49.2h.1M91.0 47.8h.1M91.4 48.7h.1M90.5 46.2h.1M90.7 45.8h.1M91.1 47.0h.1M62.3 53.1h.1M61.0 52.1h.1M62.4 52.1h.1M62.8 52.2h.1M61.7 50.1h.1M62.6 52.4h.1M68.3 53.9h.1M66.8 50.9h.1M66.9 50.5h.1M65.1 52.2h.1M65.0 52.2h.1M67.1 50.2h.1M69.9 53.7h.1M73.4 52.6h.1M69.8 52.5h.1M71.4 54.8h.1M70.2 54.3h.1M74.5 53.7h.1M74.4 52.5h.1M74.3 54.6h.1M70.3 53.9h.1M78.3 50.8h.1M79.0 51.4h.1M78.6 50.7h.1M77.0 54.6h.1M75.5 51.3h.1M77.0 51.6h.1M75.3 54.7h.1M77.9 54.5h.1M75.3 53.9h.1M75.1 52.7h.1M81.3 54.4h.1M82.3 52.9h.1M83.9 50.5h.1M84.5 53.1h.1M81.5 54.0h.1M80.8 55.0h.1M82.4 51.8h.1M83.3 52.2h.1M80.4 53.7h.1M79.7 54.1h.1M80.8 53.2h.1M84.4 52.9h.1M82.8 51.6h.1M79.5 50.2h.1M80.2 53.1h.1M87.1 54.5h.1M85.2 51.1h.1M87.8 50.1h.1M84.5 51.8h.1M85.0 51.8h.1M85.6 52.9h.1M87.4 51.0h.1M87.6 52.4h.1M85.2 54.7h.1M85.7 50.7h.1M85.0 53.2h.1M88.9 53.9h.1M86.5 51.3h.1M84.6 53.2h.1M87.3 51.8h.1M91.7 54.7h.1M93.2 51.2h.1M94.0 50.2h.1M92.2 52.0h.1M90.7 50.3h.1M93.4 50.1h.1M92.3 54.7h.1M90.2 51.0h.1M92.5 52.5h.1M92.7 54.1h.1M90.4 51.5h.1M91.0 50.2h.1M93.9 53.9h.1M93.1 50.0h.1M93.7 53.7h.1M95.6 50.5h.1M95.7 50.2h.1M96.2 53.7h.1M98.0 54.2h.1M97.3 52.2h.1M98.4 52.6h.1M95.8 53.2h.1M59.0 57.5h.1M62.7 56.7h.1M61.1 55.8h.1M63.7 58.3h.1M63.2 55.8h.1M61.7 58.9h.1M62.4 55.6h.1M68.9 56.2h.1M65.5 56.5h.1M68.0 59.2h.1M65.3 55.8h.1M65.7 56.6h.1M67.1 55.8h.1M70.4 59.9h.1M73.1 55.5h.1M74.3 55.5h.1M71.4 59.9h.1M73.5 58.7h.1M71.7 56.0h.1M72.7 55.5h.1M70.5 56.9h.1M69.7 57.0h.1M73.5 58.5h.1M72.0 58.2h.1M71.8 55.7h.1M72.5 57.0h.1M73.2 59.5h.1M71.7 57.9h.1M76.6 56.1h.1M78.1 59.4h.1M78.4 58.5h.1M78.8 58.4h.1M77.7 57.3h.1M76.1 58.1h.1M75.0 57.1h.1M78.4 58.6h.1M77.6 56.3h.1M76.6 57.3h.1M77.6 57.0h.1M84.2 55.9h.1M82.8 58.9h.1M81.4 57.4h.1M84.4 55.2h.1M82.2 55.8h.1M83.4 59.7h.1M82.1 55.5h.1M82.4 57.7h.1M83.1 57.6h.1M82.7 59.1h.1M82.1 57.1h.1M84.2 56.1h.1M82.9 57.0h.1M83.3 55.6h.1M84.4 56.8h.1M85.9 57.0h.1M84.6 57.1h.1M86.6 58.5h.1M86.3 56.3h.1M85.6 58.7h.1M89.2 57.6h.1M85.6 59.0h.1M86.5 56.1h.1M85.1 58.9h.1M88.5 58.2h.1M86.8 57.8h.1M85.6 59.8h.1M86.3 58.2h.1M88.6 59.1h.1M86.8 56.5h.1M90.1 59.2h.1M91.3 59.3h.1M90.8 56.9h.1M90.8 57.1h.1M90.4 55.0h.1M93.1 56.4h.1M90.7 56.5h.1M91.9 57.1h.1M92.7 58.3h.1M91.3 59.6h.1M93.8 55.3h.1M93.6 59.5h.1M93.4 55.7h.1M93.7 58.2h.1M89.6 55.1h.1M97.8 56.3h.1M95.0 55.7h.1M95.7 58.9h.1M96.2 55.8h.1M99.0 59.0h.1M95.3 59.5h.1M97.5 58.9h.1M97.8 59.5h.1M98.4 59.2h.1M95.5 58.5h.1M97.2 58.7h.1M96.7 59.4h.1M97.3 56.3h.1M95.7 55.7h.1M97.0 55.3h.1M100.2 57.5h.1M99.9 58.2h.1M37.1 62.4h.1M38.1 63.1h.1M36.2 64.3h.1M36.3 62.4h.1M37.1 63.9h.1M57.5 64.7h.1M59.4 62.4h.1M63.4 63.6h.1M63.8 63.6h.1M59.9 63.1h.1M63.0 62.3h.1M64.2 61.3h.1M64.3 63.6h.1M59.6 60.1h.1M62.8 64.1h.1M59.9 61.6h.1M63.1 60.8h.1M63.8 62.4h.1M66.3 62.9h.1M66.7 63.4h.1M65.2 64.0h.1M66.3 63.2h.1M67.6 62.1h.1M66.4 63.9h.1M69.2 63.9h.1M67.3 61.5h.1M64.8 64.9h.1M68.0 64.1h.1M66.2 63.0h.1M73.7 63.0h.1M71.0 62.1h.1M73.9 61.9h.1M72.9 63.0h.1M74.0 64.0h.1M70.9 60.0h.1M70.8 62.1h.1M72.4 64.1h.1M73.9 60.2h.1M73.7 64.1h.1M73.8 62.9h.1M70.9 64.3h.1M73.5 63.4h.1M74.1 61.7h.1M69.9 62.8h.1M75.5 63.8h.1M79.2 61.2h.1M76.8 61.0h.1M75.8 63.8h.1M78.5 62.3h.1M74.9 64.0h.1M78.4 61.2h.1M76.9 62.9h.1M80.5 60.9h.1M83.0 61.8h.1M82.3 62.0h.1M82.1 60.7h.1M81.4 60.5h.1M79.6 60.2h.1M87.3 61.3h.1M88.4 62.1h.1M89.2 63.8h.1M88.6 64.8h.1M85.8 60.2h.1M85.5 60.9h.1M84.9 60.3h.1M87.3 64.4h.1M86.8 64.7h.1M89.0 60.3h.1M87.5 62.0h.1M85.8 62.8h.1M87.7 64.8h.1M87.8 62.0h.1M90.3 64.8h.1M94.5 61.1h.1M89.7 61.3h.1M91.3 64.5h.1M94.0 64.2h.1M89.7 63.9h.1M93.0 63.2h.1M94.4 60.3h.1M90.2 63.8h.1M94.2 63.4h.1M91.0 63.0h.1M93.3 60.5h.1M91.1 61.3h.1M90.1 62.4h.1M90.3 61.2h.1M97.9 60.1h.1M98.1 61.0h.1M94.7 64.6h.1M95.6 64.7h.1M98.8 64.4h.1M95.2 62.2h.1M95.0 64.6h.1M98.7 63.1h.1M96.8 61.7h.1M98.6 62.4h.1M97.6 60.7h.1M95.6 60.3h.1M98.1 62.8h.1M95.2 64.4h.1M95.8 62.1h.1M36.9 66.4h.1M35.8 66.0h.1M36.3 70.0h.1M39.5 69.6h.1M35.0 66.4h.1M39.0 65.3h.1M41.0 69.9h.1M39.6 69.0h.1M41.2 65.7h.1M39.5 69.2h.1M42.1 65.9h.1M41.7 69.6h.1M45.4 68.9h.1M47.6 68.5h.1M51.2 69.2h.1M49.6 69.6h.1M51.9 69.4h.1M53.1 69.1h.1M56.1 68.6h.1M56.4 68.8h.1M54.8 69.4h.1M59.3 67.5h.1M57.1 67.7h.1M57.2 65.1h.1M59.3 66.1h.1M55.8 69.1h.1M58.0 66.0h.1M62.5 67.9h.1M62.1 68.5h.1M60.0 69.3h.1M63.1 65.2h.1M60.1 67.5h.1M62.0 66.4h.1M60.1 67.0h.1M60.2 68.0h.1M63.8 65.7h.1M62.4 68.7h.1M60.3 69.1h.1M66.4 67.1h.1M68.7 67.6h.1M66.5 69.7h.1M68.4 66.7h.1M65.7 66.7h.1M66.7 69.9h.1M68.5 69.6h.1M68.6 69.2h.1M64.8 67.6h.1M69.3 69.7h.1M65.7 67.1h.1M71.3 67.7h.1M69.8 67.2h.1M72.0 65.1h.1M70.2 69.8h.1M73.4 69.7h.1M72.7 69.0h.1M73.9 69.4h.1M69.7 68.2h.1M70.8 68.4h.1M70.9 67.7h.1M74.1 68.1h.1M87.2 65.7h.1M90.7 65.4h.1M92.5 67.9h.1M92.8 66.0h.1M93.1 67.3h.1M92.2 68.1h.1M91.8 66.6h.1M90.7 66.1h.1M92.1 66.9h.1M92.4 65.1h.1M97.3 67.5h.1M96.0 68.9h.1M95.3 65.3h.1M98.9 67.2h.1M94.8 66.9h.1M96.7 68.7h.1M95.0 66.1h.1M95.3 66.7h.1M96.3 68.4h.1M38.6 72.6h.1M38.2 73.7h.1M41.9 73.9h.1M43.0 74.6h.1M40.1 74.4h.1M39.5 73.8h.1M42.4 72.5h.1M44.3 72.9h.1M48.4 74.4h.1M47.5 71.9h.1M46.8 72.3h.1M48.1 71.5h.1M46.5 72.8h.1M46.4 71.6h.1M48.4 74.2h.1M47.0 72.2h.1M45.4 71.5h.1M45.2 72.9h.1M47.4 70.4h.1M51.1 74.2h.1M53.7 74.8h.1M50.5 72.1h.1M54.1 70.1h.1M49.7 72.8h.1M52.0 74.6h.1M53.4 72.7h.1M54.5 72.6h.1M52.1 73.4h.1M51.4 71.8h.1M52.5 71.8h.1M57.9 72.6h.1M55.0 71.9h.1M56.5 72.8h.1M57.4 74.4h.1M59.3 72.4h.1M56.7 73.1h.1M59.5 71.7h.1M57.2 74.1h.1M55.4 71.6h.1M59.4 74.1h.1M57.1 70.6h.1M62.9 74.1h.1M64.5 74.4h.1M61.6 70.8h.1M60.9 72.6h.1M62.0 70.9h.1M60.4 73.2h.1M62.5 71.8h.1M64.5 73.2h.1M59.7 72.1h.1M63.4 71.5h.1M63.0 70.0h.1M68.7 72.9h.1M67.8 71.0h.1M67.0 72.8h.1M65.8 73.2h.1M67.2 75.0h.1M67.4 72.1h.1M65.1 70.8h.1M68.3 70.5h.1M65.0 70.9h.1M67.1 74.1h.1M67.6 74.0h.1M69.6 73.9h.1M71.1 73.6h.1M71.3 70.8h.1M70.8 70.5h.1M74.0 72.9h.1M71.2 72.2h.1M71.4 70.3h.1M74.0 72.9h.1M74.3 72.2h.1M72.6 71.2h.1M69.7 74.7h.1M73.8 71.6h.1M74.0 74.1h.1M71.0 73.0h.1M74.3 72.5h.1M75.7 71.9h.1M76.0 74.4h.1M76.9 74.0h.1M75.7 70.9h.1M36.5 75.3h.1M35.1 79.1h.1M36.3 76.2h.1M35.5 76.4h.1M35.7 75.2h.1M37.8 76.7h.1M43.0 75.5h.1M40.8 79.2h.1M40.1 77.2h.1M43.7 79.0h.1M40.3 76.8h.1M43.1 76.9h.1M45.5 79.8h.1M47.0 76.1h.1M46.8 75.7h.1M48.0 76.3h.1M49.0 77.9h.1M46.3 76.2h.1M47.5 76.1h.1M48.9 75.6h.1M47.1 77.7h.1M45.9 78.9h.1M46.4 78.3h.1M51.1 76.9h.1M49.9 75.9h.1M53.8 76.6h.1M52.8 75.5h.1M52.3 76.8h.1M52.0 76.5h.1M56.1 76.1h.1M55.1 78.6h.1M55.9 77.0h.1M59.0 78.9h.1M58.9 79.3h.1M55.2 76.4h.1M54.6 78.4h.1M57.8 76.8h.1M56.6 78.3h.1M58.0 76.2h.1M58.7 76.8h.1M60.4 75.6h.1M64.1 78.7h.1M63.1 75.2h.1M59.7 75.8h.1M60.5 76.5h.1M61.4 75.2h.1M61.1 78.2h.1M60.4 79.2h.1M62.4 78.6h.1M60.8 77.2h.1M62.9 76.7h.1M68.7 78.9h.1M65.9 75.2h.1M68.8 78.0h.1M64.7 76.2h.1M65.1 79.0h.1M65.6 79.6h.1M68.2 75.4h.1M68.0 77.0h.1M68.2 79.1h.1M65.9 75.4h.1M69.2 77.1h.1M73.0 78.7h.1M73.6 78.1h.1M71.8 75.3h.1M73.0 77.1h.1M72.1 79.6h.1M70.1 78.8h.1M69.7 78.5h.1M73.5 76.3h.1M72.2 79.8h.1M72.7 77.7h.1M70.7 75.3h.1M71.3 77.1h.1M70.5 76.6h.1M70.2 78.5h.1M72.9 76.2h.1M77.1 77.2h.1M79.2 76.8h.1M76.0 79.4h.1M75.2 77.8h.1M76.2 79.1h.1M77.2 78.8h.1M75.3 78.3h.1M77.5 77.3h.1M78.3 79.2h.1M75.1 76.4h.1M76.3 76.0h.1M80.9 76.0h.1M34.9 80.1h.1M39.5 83.8h.1M34.9 83.6h.1M39.4 82.8h.1M35.0 82.4h.1M36.7 80.9h.1M39.5 84.6h.1M42.7 83.1h.1M44.2 83.3h.1M40.8 81.2h.1M40.2 80.1h.1M43.4 84.2h.1M41.0 80.9h.1M42.7 84.2h.1M44.1 80.8h.1M43.4 84.2h.1M43.2 81.6h.1M48.6 81.6h.1M46.3 82.8h.1M46.3 84.2h.1M45.7 80.2h.1M47.3 83.1h.1M48.6 83.5h.1M49.0 84.7h.1M47.0 82.5h.1M45.3 81.5h.1M47.4 80.4h.1M47.9 80.8h.1M54.3 80.4h.1M49.7 82.2h.1M50.5 83.6h.1M49.5 84.2h.1M53.8 83.9h.1M51.6 81.4h.1M57.1 82.1h.1M56.2 82.2h.1M57.8 84.1h.1M59.0 80.8h.1M56.0 82.2h.1M57.3 81.7h.1M55.5 80.4h.1M56.1 82.3h.1M59.4 84.5h.1M58.8 84.9h.1M59.3 83.1h.1M59.8 83.4h.1M62.5 81.5h.1M62.4 84.8h.1M61.9 83.2h.1M61.0 81.7h.1M63.9 80.1h.1M60.4 83.4h.1M61.7 80.4h.1M62.8 81.9h.1M62.4 82.1h.1M62.1 82.8h.1M65.1 80.9h.1M68.9 82.7h.1M65.1 84.3h.1M65.8 80.5h.1M67.2 81.3h.1M66.9 82.8h.1M65.6 82.9h.1M65.1 82.6h.1M67.4 80.4h.1M66.5 80.4h.1M66.7 84.3h.1M73.1 83.8h.1M70.1 85.0h.1M73.1 80.5h.1M73.7 82.0h.1M70.4 84.8h.1M72.3 83.9h.1M70.2 83.9h.1M69.8 81.2h.1M71.4 80.1h.1M72.5 81.1h.1M71.0 83.5h.1M71.6 84.4h.1M72.6 84.4h.1M72.3 84.6h.1M73.9 80.8h.1M76.2 83.8h.1M75.1 81.9h.1M78.1 80.2h.1M77.5 80.5h.1M30.5 87.2h.1M33.7 87.9h.1M30.1 85.1h.1M30.1 89.0h.1M30.4 87.8h.1M31.0 88.4h.1M35.2 89.4h.1M37.2 88.4h.1M38.5 89.7h.1M34.6 86.7h.1M35.3 87.5h.1M38.9 89.0h.1M40.4 89.1h.1M42.9 87.0h.1M41.9 85.8h.1M43.7 87.0h.1M43.9 88.1h.1M39.9 86.6h.1M40.6 89.5h.1M42.4 85.2h.1M40.3 86.8h.1M41.8 87.9h.1M41.4 86.8h.1M47.4 86.7h.1M44.6 87.3h.1M49.4 85.2h.1M45.2 88.4h.1M45.9 86.4h.1M47.0 86.3h.1M47.3 87.6h.1M49.3 90.0h.1M44.7 87.8h.1M48.4 89.4h.1M48.4 88.2h.1M51.3 86.4h.1M53.5 89.4h.1M54.2 88.4h.1M51.0 88.8h.1M53.2 87.5h.1M52.7 86.8h.1M52.3 87.0h.1M49.8 86.7h.1M51.1 89.9h.1M51.9 86.8h.1M50.7 86.2h.1M55.2 85.0h.1M58.9 87.3h.1M56.7 87.8h.1M56.0 85.8h.1M54.8 86.5h.1M56.0 88.6h.1M57.3 89.7h.1M56.2 89.6h.1M57.4 85.4h.1M55.4 87.9h.1M59.4 86.8h.1M61.6 89.3h.1M59.8 87.4h.1M64.0 86.4h.1M60.8 85.1h.1M60.3 86.3h.1M63.0 86.1h.1M65.5 88.0h.1M68.8 88.2h.1M65.5 88.7h.1M69.3 88.0h.1M64.9 89.0h.1M68.9 86.7h.1M65.2 85.9h.1M67.2 89.4h.1M67.7 89.6h.1M65.6 86.6h.1M68.2 88.2h.1M72.9 86.7h.1M69.8 87.1h.1M69.7 88.1h.1M71.2 87.5h.1M72.5 86.3h.1M71.8 85.1h.1M74.1 87.8h.1M74.4 85.3h.1M72.6 88.6h.1M71.1 85.5h.1M70.3 85.7h.1M30.8 93.6h.1M33.3 93.9h.1M31.0 93.9h.1M34.4 92.3h.1M30.9 92.6h.1M34.2 90.7h.1M29.5 92.4h.1M32.8 93.9h.1M31.3 94.9h.1M30.6 93.8h.1M29.9 90.1h.1M34.8 92.5h.1M37.3 90.9h.1M39.2 91.8h.1M35.2 90.9h.1M38.2 94.6h.1M35.3 90.1h.1M38.4 91.2h.1M39.4 92.5h.1M37.7 91.7h.1M38.5 92.3h.1M36.1 94.5h.1M43.2 90.3h.1M42.7 92.0h.1M43.8 90.3h.1M42.3 92.0h.1M44.1 94.7h.1M42.6 91.1h.1M40.8 91.3h.1M41.7 91.2h.1M40.5 93.8h.1M42.7 91.5h.1M44.5 91.1h.1M45.3 94.3h.1M48.8 91.3h.1M48.3 94.1h.1M45.9 91.7h.1M46.9 94.5h.1M45.3 93.4h.1M47.5 92.3h.1M47.4 94.4h.1M45.5 94.4h.1M46.3 93.9h.1M48.8 90.9h.1M54.5 91.5h.1M49.6 90.6h.1M54.4 90.0h.1M54.1 90.8h.1M53.2 90.5h.1M50.3 93.4h.1M50.0 91.7h.1M54.1 93.6h.1M53.9 94.9h.1M49.7 91.2h.1M53.5 93.4h.1M57.0 91.2h.1M56.7 90.5h.1M54.6 95.0h.1M56.1 94.4h.1M55.1 92.4h.1M55.2 92.1h.1M55.4 93.4h.1M55.2 93.7h.1M57.0 90.6h.1M56.3 92.5h.1M59.1 91.7h.1M64.3 94.4h.1M63.2 91.4h.1M60.4 91.3h.1M59.8 90.2h.1M62.0 92.0h.1M62.3 91.8h.1M67.9 93.3h.1M67.2 92.7h.1M68.9 93.6h.1M66.5 91.6h.1M71.4 92.0h.1M69.5 93.0h.1M72.6 91.9h.1M70.7 91.0h.1M69.7 93.5h.1M71.1 93.2h.1M72.2 91.6h.1M28.2 99.3h.1M29.5 96.2h.1M27.6 98.7h.1M32.9 96.6h.1M32.6 97.7h.1M30.6 98.1h.1M30.8 99.5h.1M31.9 98.6h.1M32.1 97.4h.1M30.6 95.7h.1M34.1 97.6h.1M32.1 97.6h.1M33.6 96.2h.1M30.4 99.1h.1M31.8 98.2h.1M33.6 99.5h.1M33.8 95.2h.1M31.4 99.2h.1M35.1 95.8h.1M35.8 95.5h.1M36.3 99.0h.1M37.1 97.3h.1M34.9 97.0h.1M39.5 98.5h.1M36.7 97.4h.1M38.5 98.8h.1M35.2 98.4h.1M36.3 97.6h.1M35.7 96.9h.1M36.2 96.9h.1M34.6 96.0h.1M37.4 95.3h.1M35.4 98.6h.1M41.1 96.2h.1M43.7 95.5h.1M42.7 99.3h.1M40.5 97.1h.1M43.5 98.1h.1M41.4 95.2h.1M41.7 96.8h.1M43.1 96.5h.1M41.5 98.2h.1M43.6 96.8h.1M41.4 97.9h.1M45.5 99.9h.1M48.1 96.9h.1M47.8 96.6h.1M44.9 98.8h.1M46.4 97.6h.1M47.0 99.5h.1M48.3 95.1h.1M47.5 97.3h.1M46.8 99.2h.1M46.6 97.4h.1M49.0 97.2h.1M52.1 99.1h.1M52.9 98.7h.1M51.5 95.2h.1M52.9 97.8h.1M53.3 98.8h.1M50.1 96.1h.1M49.9 99.1h.1M50.0 95.4h.1M53.3 97.8h.1M49.8 98.4h.1M53.1 97.4h.1M58.0 97.1h.1M57.4 100.0h.1M58.6 99.4h.1M55.2 96.7h.1M57.1 95.0h.1M59.4 96.4h.1M55.8 96.6h.1M55.8 99.3h.1M57.3 97.6h.1M56.6 95.3h.1M56.0 99.3h.1M60.5 95.3h.1M32.2 102.0h.1M32.3 101.6h.1M30.9 104.0h.1M31.0 103.6h.1M33.5 103.0h.1M31.8 104.7h.1M31.7 104.4h.1M29.8 102.2h.1M32.7 100.2h.1M33.8 100.4h.1M32.5 100.9h.1M37.3 104.0h.1M37.0 103.4h.1M37.9 101.5h.1M35.6 104.2h.1M35.2 104.6h.1M35.5 100.5h.1M35.0 103.9h.1M39.3 102.1h.1M37.8 101.3h.1M39.0 103.4h.1M35.3 100.3h.1M39.7 104.2h.1M41.0 101.2h.1M42.4 101.6h.1M42.3 100.8h.1M44.1 101.6h.1M43.7 100.8h.1M43.5 104.9h.1M41.5 100.2h.1M41.4 103.2h.1M40.6 102.7h.1M40.0 102.3h.1M43.1 102.1h.1M42.9 100.6h.1M43.6 100.6h.1M44.1 105.0h.1M47.1 101.5h.1M45.0 102.4h.1M48.8 103.0h.1M47.2 100.4h.1M45.2 101.4h.1M49.0 104.2h.1M44.7 103.0h.1M49.3 101.7h.1M52.8 100.3h.1M51.2 102.2h.1M50.7 103.7h.1M50.4 103.9h.1M51.0 100.3h.1M52.3 100.5h.1M52.3 103.9h.1M52.5 102.3h.1M49.7 102.6h.1M50.0 103.2h.1M50.2 102.9h.1M56.4 103.3h.1M55.3 100.8h.1M59.2 101.7h.1M58.7 104.4h.1M56.9 100.7h.1M55.0 104.4h.1M55.1 102.5h.1M57.2 100.6h.1M56.8 100.8h.1M57.2 102.5h.1M56.3 101.0h.1M60.5 100.6h.1M60.7 104.4h.1M62.0 104.5h.1M59.6 104.7h.1M61.9 104.0h.1M62.4 103.4h.1M31.0 109.5h.1M29.9 107.9h.1M30.7 108.0h.1M33.4 108.6h.1M29.8 106.2h.1M32.5 109.9h.1M29.7 108.1h.1M33.0 109.1h.1M31.2 109.1h.1M31.8 109.6h.1M29.6 109.7h.1M36.5 105.4h.1M35.7 108.7h.1M37.9 105.8h.1M36.2 105.7h.1M35.5 106.1h.1M36.2 109.9h.1M42.0 108.9h.1M42.7 106.0h.1M42.6 109.2h.1M43.4 105.5h.1M54.2 109.5h.1M53.2 109.2h.1M53.5 108.0h.1M51.7 109.1h.1M53.4 109.4h.1M52.2 109.7h.1M53.4 106.3h.1M53.7 106.2h.1M56.8 106.2h.1M57.0 109.5h.1M57.9 108.6h.1M56.5 108.9h.1M58.5 108.4h.1M59.2 109.1h.1M56.5 105.4h.1M57.8 109.2h.1M56.2 108.0h.1M58.7 109.0h.1M54.5 107.4h.1M60.1 109.1h.1M61.6 108.0h.1M61.8 106.7h.1M60.6 106.8h.1M63.7 108.1h.1M61.0 105.4h.1M60.9 108.5h.1M61.7 108.3h.1M63.5 105.6h.1M62.9 105.2h.1M63.6 105.9h.1M34.3 111.8h.1M30.6 114.4h.1M32.6 114.5h.1M31.5 112.5h.1M34.3 112.5h.1M34.4 110.9h.1M33.7 110.8h.1M32.1 110.0h.1M31.8 114.0h.1M30.8 111.8h.1M37.3 114.3h.1M37.1 111.9h.1M39.1 114.5h.1M37.8 110.4h.1M37.6 112.2h.1M39.3 111.8h.1M37.8 113.2h.1M36.4 112.6h.1M37.9 114.5h.1M37.0 111.8h.1M39.4 110.3h.1M41.1 110.7h.1M52.4 110.2h.1M52.7 111.4h.1M53.3 111.5h.1M57.9 111.9h.1M58.0 111.4h.1M56.2 110.7h.1M63.9 110.8h.1M63.2 110.9h.1M61.1 110.3h.1M61.0 111.9h.1M60.4 111.5h.1M31.7 115.5h.1M30.8 117.0h.1M31.4 119.8h.1M30.8 116.0h.1M34.0 117.3h.1M33.7 118.2h.1M33.4 116.6h.1M31.9 117.8h.1M32.9 118.8h.1M36.3 119.6h.1M37.1 116.4h.1M37.7 116.3h.1M38.4 115.2h.1M38.6 117.8h.1M36.3 119.7h.1M35.8 116.2h.1M34.8 117.7h.1M38.3 118.4h.1M36.6 119.0h.1M35.1 116.5h.1M34.2 123.7h.1M31.2 122.0h.1M33.5 121.7h.1M32.2 122.6h.1M32.8 124.5h.1M32.0 124.3h.1M32.8 122.9h.1M31.5 122.9h.1M37.0 124.5h.1M33.0 128.1h.1M27.0 49.3h.1M22.8 62.2h.1M31.1 46.2h.1M31.5 48.4h.1M17.7 64.5h.1M20.3 55.3h.1M25.6 51.8h.1M30.7 51.5h.1M31.8 70.1h.1M24.1 58.1h.1M29.2 63.1h.1M21.7 60.9h.1M26.0 52.0h.1M14.1 59.8h.1M15.6 59.1h.1M28.2 67.0h.1M23.0 55.6h.1M16.9 57.5h.1M19.0 51.0h.1M29.4 61.0h.1M22.6 51.1h.1M28.7 51.1h.1M18.6 62.4h.1M28.6 75.2h.1M29.7 74.4h.1M33.7 67.4h.1M29.0 46.9h.1M32.4 67.4h.1M27.0 53.2h.1M20.7 50.1h.1M16.5 56.0h.1M33.2 69.9h.1M30.4 59.6h.1M30.8 59.8h.1M31.4 49.0h.1M15.0 62.5h.1M24.2 51.5h.1M33.4 67.0h.1M22.5 67.7h.1M21.3 70.2h.1M31.9 49.1h.1M26.0 56.7h.1M30.6 59.4h.1M19.9 64.4h.1M18.9 19.5h.1M5.3 36.8h.1M17.8 36.8h.1M12.5 40.0h.1M10.5 42.9h.1M27.2 40.4h.1M30.0 43.5h.1M5.7 47.2h.1M11.4 48.0h.1M12.5 47.2h.1M19.8 47.4h.1M4.6 49.4h.1M7.6 50.2h.1M3.8 51.4h.1M10.8 52.0h.1M9.9 54.2h.1M25.2 49.7h.1M24.5 51.4h.1M29.7 52.2h.1M28.3 54.4h.1M17.3 55.9h.1M19.3 58.7h.1M24.9 58.7h.1M17.6 67.8h.1M25.5 66.7h.1M30.0 66.1h.1M32.2 69.5h.1M24.3 73.5h.1M26.6 75.2h.1M26.0 76.3h.1M30.0 73.5h.1M29.4 79.1h.1M27.2 82.5h.1M28.9 81.9h.1M26.0 85.9h.1M31.7 85.9h.1M97.9 67.5h.1M96.7 69.4h.1M93.5 70.0h.1M91.7 74.4h.1M92.5 73.5h.1M82.9 70.7h.1M82.2 77.6h.1M19.3 61.5h.1M18.7 64.9h.1M28.3 62.1h.1M30.0 60.4h.1M32.2 59.3h.1M33.4 61.5h.1M29.4 65.5h.1M31.1 67.7h.1M33.4 64.9h.1M30.0 58.1h.1M17.6 62.1h.1M20.4 61.0h.1M26.6 62.7h.1M24.3 67.2h.1M27.2 68.9h.1M11.8 38.3h.1M17.6 36.7h.1M11.9 39.0h.1M4.9 42.9h.1M30.0 40.4h.1M6.3 50.2h.1M22.1 54.0h.1M33.4 55.9h.1M29.4 56.4h.1M18.1 65.6h.1M26.6 71.8h.1M32.8 75.7h.1M67.8 38.4h.1M89.1 66.9h.1M79.1 75.7h.1"/><path stroke="#1846bd" d="M49.7 22.2h.1M51.6 24.1h.1M50.1 21.1h.1M52.6 24.7h.1M52.4 22.0h.1M54.7 24.3h.1M47.7 26.9h.1M47.2 25.3h.1M47.9 27.1h.1M46.1 27.9h.1M46.8 26.5h.1M48.5 28.5h.1M45.7 27.9h.1M47.1 29.4h.1M48.1 26.4h.1M49.4 25.6h.1M53.3 25.8h.1M51.9 25.2h.1M52.8 28.8h.1M52.4 29.4h.1M51.1 28.5h.1M52.5 27.9h.1M51.8 29.2h.1M54.2 27.4h.1M52.8 25.3h.1M53.0 28.2h.1M54.5 29.1h.1M50.9 26.9h.1M52.8 25.1h.1M51.8 25.8h.1M50.1 25.3h.1M55.1 26.2h.1M56.5 29.4h.1M54.9 27.2h.1M57.2 29.4h.1M55.9 27.1h.1M45.8 30.0h.1M46.6 31.8h.1M47.3 34.8h.1M48.0 32.6h.1M47.6 33.4h.1M44.8 34.5h.1M48.4 34.4h.1M48.5 32.0h.1M46.5 30.5h.1M47.7 30.3h.1M44.8 31.0h.1M45.3 31.7h.1M44.8 30.0h.1M45.3 30.5h.1M46.3 30.1h.1M52.6 30.7h.1M50.8 31.7h.1M51.3 30.6h.1M53.7 35.0h.1M51.8 32.4h.1M49.9 30.5h.1M51.2 31.3h.1M53.6 30.8h.1M49.6 34.8h.1M52.1 30.7h.1M52.2 30.1h.1M52.1 34.9h.1M53.8 33.5h.1M50.8 31.8h.1M50.3 33.9h.1M58.4 31.6h.1M55.6 34.1h.1M59.4 34.3h.1M58.5 34.1h.1M58.2 31.1h.1M57.1 31.8h.1M54.6 30.1h.1M55.9 31.3h.1M58.0 34.8h.1M56.7 34.7h.1M59.4 34.8h.1M62.6 34.5h.1M62.8 34.0h.1M59.9 33.3h.1M43.4 36.7h.1M43.5 39.9h.1M44.2 38.6h.1M49.0 39.0h.1M45.2 39.1h.1M49.4 38.3h.1M46.3 37.7h.1M45.2 35.1h.1M49.4 38.2h.1M47.1 39.7h.1M46.7 39.4h.1M48.6 36.1h.1M45.8 36.5h.1M45.7 37.9h.1M45.8 37.1h.1M45.2 39.6h.1M46.3 37.3h.1M47.4 39.5h.1M54.1 37.5h.1M52.2 37.6h.1M49.6 37.2h.1M50.4 35.0h.1M53.5 35.9h.1M51.9 38.6h.1M52.3 36.6h.1M52.1 37.8h.1M53.4 35.5h.1M52.3 36.2h.1M50.9 38.9h.1M57.3 38.8h.1M59.1 37.2h.1M57.6 37.5h.1M57.1 38.5h.1M56.8 37.7h.1M56.9 39.7h.1M58.0 39.4h.1M59.2 36.3h.1M57.3 39.7h.1M58.7 35.7h.1M55.1 37.2h.1M60.7 35.4h.1M62.8 38.9h.1M64.0 35.8h.1M63.1 38.3h.1M60.2 39.4h.1M64.3 36.1h.1M64.3 37.0h.1M61.9 39.9h.1M63.7 35.8h.1M61.7 37.6h.1M61.2 36.0h.1M64.6 36.7h.1M38.3 41.4h.1M38.2 42.8h.1M41.9 44.7h.1M40.0 44.1h.1M41.7 42.5h.1M43.7 42.0h.1M42.0 43.4h.1M44.4 41.7h.1M48.0 43.2h.1M46.5 41.7h.1M44.8 40.6h.1M44.9 43.7h.1M45.8 40.8h.1M44.9 44.2h.1M48.9 43.4h.1M45.9 41.2h.1M46.0 42.3h.1M45.3 42.2h.1M45.8 44.8h.1M52.2 41.2h.1M54.3 41.5h.1M51.3 40.0h.1M51.4 42.4h.1M52.0 41.0h.1M52.0 40.0h.1M50.8 40.4h.1M51.5 40.2h.1M49.6 41.5h.1M50.7 42.9h.1M52.1 43.8h.1M58.1 44.4h.1M56.4 41.6h.1M59.4 40.7h.1M58.1 43.2h.1M54.7 44.2h.1M59.0 43.1h.1M63.6 40.7h.1M62.1 42.5h.1M63.0 41.1h.1M59.7 40.7h.1M61.3 40.5h.1M62.6 43.1h.1M62.9 42.4h.1M35.9 45.2h.1M39.1 45.6h.1M36.9 46.7h.1M36.0 48.7h.1M39.4 46.3h.1M37.8 46.5h.1M37.3 47.0h.1M35.3 45.8h.1M35.5 49.5h.1M37.0 46.1h.1M39.0 50.0h.1M40.2 46.0h.1M40.0 46.7h.1M40.0 46.2h.1M40.8 47.8h.1M43.9 48.7h.1M41.6 47.1h.1M42.1 46.9h.1M41.2 45.3h.1M40.9 49.8h.1M40.1 47.5h.1M42.6 49.3h.1M45.9 46.2h.1M46.5 47.2h.1M49.3 49.2h.1M48.9 45.1h.1M44.7 48.5h.1M49.0 47.4h.1M47.4 45.0h.1M46.5 49.6h.1M48.6 49.3h.1M49.4 46.2h.1M45.0 45.8h.1M52.9 49.7h.1M53.1 48.2h.1M53.3 47.3h.1M52.3 45.2h.1M53.4 46.2h.1M54.1 48.2h.1M51.0 45.6h.1M50.8 48.2h.1M53.0 45.6h.1M49.9 47.6h.1M52.4 46.9h.1M57.5 45.1h.1M56.0 47.3h.1M59.3 48.2h.1M58.9 47.4h.1M55.7 46.2h.1M59.3 48.5h.1M56.0 45.1h.1M57.0 48.4h.1M56.6 46.3h.1M57.8 49.6h.1M55.6 45.2h.1M60.5 49.0h.1M60.5 49.8h.1M61.1 49.1h.1M60.7 46.1h.1M39.2 51.9h.1M38.8 52.2h.1M35.8 53.9h.1M39.2 50.5h.1M37.5 53.1h.1M35.6 51.8h.1M35.2 51.0h.1M35.8 53.0h.1M37.8 51.0h.1M37.9 50.9h.1M40.5 54.0h.1M42.2 50.3h.1M40.0 52.0h.1M42.3 53.2h.1M40.0 50.8h.1M43.0 52.0h.1M40.9 51.5h.1M44.3 51.6h.1M42.3 51.8h.1M41.6 54.3h.1M44.5 51.8h.1M48.1 51.0h.1M44.5 54.5h.1M46.6 54.1h.1M46.5 54.4h.1M46.8 50.8h.1M44.6 52.8h.1M47.7 54.5h.1M44.9 53.1h.1M46.4 52.5h.1M45.2 51.4h.1M47.1 54.6h.1M52.0 54.0h.1M54.3 51.0h.1M50.1 54.7h.1M54.4 52.4h.1M49.8 54.6h.1M51.4 54.5h.1M52.6 54.1h.1M50.3 53.9h.1M50.6 52.0h.1M53.7 54.1h.1M50.4 51.1h.1M57.1 51.9h.1M55.1 51.2h.1M58.1 54.5h.1M54.7 52.8h.1M58.3 50.2h.1M58.7 50.6h.1M36.8 59.2h.1M38.0 59.3h.1M36.7 58.6h.1M37.4 56.5h.1M35.6 58.1h.1M35.2 55.1h.1M36.2 55.7h.1M38.0 58.2h.1M43.2 55.3h.1M42.5 56.8h.1M43.6 59.1h.1M44.0 55.3h.1M43.8 59.6h.1M44.2 55.5h.1M40.5 55.6h.1M39.7 59.2h.1M43.6 58.2h.1M43.6 58.2h.1M40.9 55.5h.1M48.3 56.0h.1M46.1 57.1h.1M44.6 56.3h.1M45.9 58.6h.1M46.3 56.6h.1M49.3 57.5h.1M48.8 58.1h.1M44.7 57.1h.1M46.7 58.9h.1M46.2 58.5h.1M47.2 56.1h.1M50.0 59.1h.1M50.4 55.0h.1M50.5 58.8h.1M54.4 55.0h.1M52.0 57.5h.1M53.5 55.9h.1M52.0 56.7h.1M53.7 56.3h.1M54.2 56.4h.1M50.6 58.5h.1M52.0 55.5h.1M54.9 58.9h.1M58.0 58.9h.1M57.6 56.8h.1M56.5 57.0h.1M59.0 55.4h.1M58.9 55.1h.1M55.5 56.3h.1M56.4 59.4h.1M55.7 57.3h.1M57.2 58.8h.1M39.0 60.2h.1M41.7 62.1h.1M42.3 64.1h.1M41.0 64.1h.1M41.5 62.5h.1M40.9 62.5h.1M44.4 63.3h.1M43.5 61.7h.1M41.1 61.5h.1M42.4 63.2h.1M43.4 60.2h.1M43.1 64.4h.1M44.7 61.5h.1M44.5 60.9h.1M49.1 63.0h.1M47.8 63.9h.1M49.0 63.1h.1M47.6 63.1h.1M48.0 63.0h.1M47.9 61.1h.1M47.8 62.3h.1M48.3 60.5h.1M45.4 60.2h.1M54.1 63.3h.1M51.3 64.1h.1M53.4 62.8h.1M50.8 61.5h.1M51.6 61.6h.1M51.7 63.2h.1M54.2 60.3h.1M52.3 60.2h.1M50.1 64.1h.1M52.4 64.6h.1M51.7 60.1h.1M56.6 60.5h.1M57.7 61.1h.1M55.3 60.1h.1M54.5 63.4h.1M55.1 64.8h.1M54.9 64.3h.1M55.1 60.1h.1M58.1 61.2h.1M58.2 60.9h.1M47.4 65.7h.1M48.1 66.0h.1M44.9 65.4h.1M47.5 67.5h.1M45.9 66.0h.1M48.6 67.9h.1M45.5 65.3h.1M48.2 67.0h.1M48.1 65.3h.1M53.8 67.5h.1M50.8 65.9h.1M53.7 66.8h.1M50.3 66.9h.1M52.5 65.0h.1M52.1 67.2h.1M52.1 65.6h.1M55.4 65.5h.1M54.7 65.5h.1M31.9 9.4h.1M33.9 15.8h.1M25.2 25.1h.1M32.0 24.3h.1M26.9 28.6h.1M33.9 26.9h.1M45.0 4.7h.1M47.3 6.8h.1M38.8 13.8h.1M45.6 12.6h.1M45.6 15.2h.1M47.3 15.2h.1M53.5 19.8h.1M52.4 21.5h.1M39.4 22.6h.1M38.5 24.3h.1M41.4 26.5h.1M43.4 27.7h.1M36.6 32.5h.1M36.9 32.3h.1M38.2 35.1h.1M31.8 38.7h.1M35.0 37.2h.1M31.7 39.5h.1M40.5 28.8h.1M38.8 32.2h.1M38.9 31.6h.1"/></g><g transform="translate(334.1 149.8)"><line x1="11.4" y1="0" x2="11.4" y2="132.4" class="gr"/><line x1="36.5" y1="0" x2="36.5" y2="132.4" class="gr"/><line x1="61.5" y1="0" x2="61.5" y2="132.4" class="gr"/><line x1="86.6" y1="0" x2="86.6" y2="132.4" class="gr"/><line x1="0" y1="6.0" x2="105.2" y2="6.0" class="gr"/><line x1="0" y1="35.8" x2="105.2" y2="35.8" class="gr"/><line x1="0" y1="65.6" x2="105.2" y2="65.6" class="gr"/><line x1="0" y1="95.4" x2="105.2" y2="95.4" class="gr"/><line x1="0" y1="125.2" x2="105.2" y2="125.2" class="gr"/><path stroke="#ff0a14" d="M49.7 22.2h.1M51.6 24.1h.1M50.1 21.1h.1M52.6 24.7h.1M52.4 22.0h.1M54.7 24.3h.1M47.7 26.9h.1M47.2 25.3h.1M47.9 27.1h.1M46.1 27.9h.1M46.8 26.5h.1M48.5 28.5h.1M45.7 27.9h.1M47.1 29.4h.1M48.1 26.4h.1M49.4 25.6h.1M53.3 25.8h.1M51.9 25.2h.1M52.8 28.8h.1M52.4 29.4h.1M51.1 28.5h.1M52.5 27.9h.1M51.8 29.2h.1M54.2 27.4h.1M52.8 25.3h.1M53.0 28.2h.1M54.5 29.1h.1M50.9 26.9h.1M52.8 25.1h.1M51.8 25.8h.1M50.1 25.3h.1M55.1 26.2h.1M56.5 29.4h.1M54.9 27.2h.1M57.2 29.4h.1M55.9 27.1h.1M45.8 30.0h.1M46.6 31.8h.1M47.3 34.8h.1M48.0 32.6h.1M47.6 33.4h.1M44.8 34.5h.1M48.4 34.4h.1M48.5 32.0h.1M46.5 30.5h.1M47.7 30.3h.1M44.8 31.0h.1M45.3 31.7h.1M44.8 30.0h.1M45.3 30.5h.1M46.3 30.1h.1M52.6 30.7h.1M50.8 31.7h.1M51.3 30.6h.1M53.7 35.0h.1M51.8 32.4h.1M49.9 30.5h.1M51.2 31.3h.1M53.6 30.8h.1M49.6 34.8h.1M52.1 30.7h.1M52.2 30.1h.1M52.1 34.9h.1M53.8 33.5h.1M50.8 31.8h.1M50.3 33.9h.1M58.4 31.6h.1M55.6 34.1h.1M59.4 34.3h.1M58.5 34.1h.1M58.2 31.1h.1M57.1 31.8h.1M54.6 30.1h.1M55.9 31.3h.1M58.0 34.8h.1M56.7 34.7h.1M59.4 34.8h.1M62.6 34.5h.1M62.8 34.0h.1M59.9 33.3h.1M43.4 36.7h.1M43.5 39.9h.1M44.2 38.6h.1M49.0 39.0h.1M45.2 39.1h.1M49.4 38.3h.1M46.3 37.7h.1M45.2 35.1h.1M49.4 38.2h.1M47.1 39.7h.1M46.7 39.4h.1M48.6 36.1h.1M45.8 36.5h.1M45.7 37.9h.1M45.8 37.1h.1M45.2 39.6h.1M46.3 37.3h.1M47.4 39.5h.1M54.1 37.5h.1M52.2 37.6h.1M49.6 37.2h.1M50.4 35.0h.1M53.5 35.9h.1M51.9 38.6h.1M52.3 36.6h.1M52.1 37.8h.1M53.4 35.5h.1M52.3 36.2h.1M50.9 38.9h.1M57.3 38.8h.1M59.1 37.2h.1M57.6 37.5h.1M57.1 38.5h.1M56.8 37.7h.1M56.9 39.7h.1M58.0 39.4h.1M59.2 36.3h.1M57.3 39.7h.1M58.7 35.7h.1M55.1 37.2h.1M60.7 35.4h.1M62.8 38.9h.1M64.0 35.8h.1M63.1 38.3h.1M60.2 39.4h.1M64.3 36.1h.1M64.3 37.0h.1M61.9 39.9h.1M63.7 35.8h.1M61.7 37.6h.1M61.2 36.0h.1M64.6 36.7h.1M64.8 39.9h.1M68.4 39.9h.1M84.1 39.1h.1M84.9 35.3h.1M84.9 39.7h.1M84.9 39.3h.1M84.8 39.3h.1M87.3 39.6h.1M38.3 41.4h.1M38.2 42.8h.1M41.9 44.7h.1M40.0 44.1h.1M41.7 42.5h.1M43.7 42.0h.1M42.0 43.4h.1M44.4 41.7h.1M48.0 43.2h.1M46.5 41.7h.1M44.8 40.6h.1M44.9 43.7h.1M45.8 40.8h.1M44.9 44.2h.1M48.9 43.4h.1M45.9 41.2h.1M46.0 42.3h.1M45.3 42.2h.1M45.8 44.8h.1M52.2 41.2h.1M54.3 41.5h.1M51.3 40.0h.1M51.4 42.4h.1M52.0 41.0h.1M52.0 40.0h.1M50.8 40.4h.1M51.5 40.2h.1M49.6 41.5h.1M50.7 42.9h.1M52.1 43.8h.1M58.1 44.4h.1M56.4 41.6h.1M59.4 40.7h.1M58.1 43.2h.1M54.7 44.2h.1M59.0 43.1h.1M63.6 40.7h.1M62.1 42.5h.1M63.7 44.0h.1M63.6 42.9h.1M64.0 43.4h.1M63.0 41.1h.1M59.7 40.7h.1M61.3 40.5h.1M63.7 42.8h.1M62.6 43.1h.1M62.9 42.4h.1M68.5 43.7h.1M67.0 42.7h.1M67.8 40.3h.1M68.2 41.3h.1M64.9 41.3h.1M68.1 41.0h.1M69.9 40.7h.1M70.8 43.7h.1M83.0 43.4h.1M81.0 42.6h.1M81.8 42.3h.1M80.1 44.5h.1M80.5 44.9h.1M84.2 40.1h.1M81.8 44.1h.1M84.3 42.2h.1M80.8 41.0h.1M84.2 41.1h.1M82.4 40.7h.1M88.6 42.5h.1M88.9 43.5h.1M85.7 44.5h.1M86.9 40.1h.1M84.5 42.5h.1M86.8 41.5h.1M85.2 41.7h.1M86.1 44.2h.1M84.5 43.8h.1M89.1 43.6h.1M86.4 42.0h.1M89.5 42.9h.1M89.7 43.7h.1M35.9 45.2h.1M39.1 45.6h.1M36.9 46.7h.1M36.0 48.7h.1M39.4 46.3h.1M37.8 46.5h.1M37.3 47.0h.1M35.3 45.8h.1M35.5 49.5h.1M37.0 46.1h.1M39.0 50.0h.1M40.2 46.0h.1M40.0 46.7h.1M40.0 46.2h.1M40.8 47.8h.1M43.9 48.7h.1M41.6 47.1h.1M42.1 46.9h.1M41.2 45.3h.1M40.9 49.8h.1M40.1 47.5h.1M42.6 49.3h.1M45.9 46.2h.1M46.5 47.2h.1M49.3 49.2h.1M48.9 45.1h.1M44.7 48.5h.1M49.0 47.4h.1M47.4 45.0h.1M46.5 49.6h.1M48.6 49.3h.1M49.4 46.2h.1M45.0 45.8h.1M52.9 49.7h.1M53.1 48.2h.1M53.3 47.3h.1M52.3 45.2h.1M53.4 46.2h.1M54.1 48.2h.1M51.0 45.6h.1M50.8 48.2h.1M53.0 45.6h.1M49.9 47.6h.1M52.4 46.9h.1M57.5 45.1h.1M56.0 47.3h.1M59.3 48.2h.1M58.9 47.4h.1M55.7 46.2h.1M59.3 48.5h.1M56.0 45.1h.1M57.0 48.4h.1M56.6 46.3h.1M57.8 49.6h.1M55.6 45.2h.1M61.6 48.4h.1M60.5 49.0h.1M63.2 47.5h.1M60.5 49.8h.1M61.1 49.1h.1M60.7 46.1h.1M66.0 49.8h.1M67.0 45.9h.1M65.6 47.1h.1M67.8 49.7h.1M65.2 47.0h.1M65.6 49.9h.1M69.8 45.3h.1M71.5 49.5h.1M71.1 45.9h.1M69.7 48.3h.1M71.4 46.9h.1M71.2 45.8h.1M69.5 46.4h.1M71.3 49.8h.1M79.3 46.0h.1M76.3 49.1h.1M78.6 47.2h.1M76.4 49.6h.1M79.7 47.1h.1M83.6 48.8h.1M79.7 45.2h.1M79.8 49.6h.1M80.8 48.7h.1M84.0 46.7h.1M80.9 49.8h.1M82.6 46.3h.1M83.1 46.6h.1M80.9 45.0h.1M83.3 49.6h.1M82.7 49.7h.1M79.6 46.2h.1M81.9 49.8h.1M84.3 46.9h.1M86.6 47.5h.1M89.1 45.9h.1M88.5 48.7h.1M88.6 48.9h.1M87.5 46.6h.1M86.1 46.8h.1M88.4 45.4h.1M85.5 48.8h.1M85.7 45.3h.1M84.7 47.8h.1M86.1 49.9h.1M88.9 49.9h.1M85.8 45.4h.1M85.0 47.5h.1M88.0 47.2h.1M91.6 48.1h.1M92.9 48.7h.1M90.1 49.2h.1M91.0 47.8h.1M91.4 48.7h.1M90.5 46.2h.1M90.7 45.8h.1M91.1 47.0h.1M39.2 51.9h.1M38.8 52.2h.1M35.8 53.9h.1M39.2 50.5h.1M37.5 53.1h.1M35.6 51.8h.1M35.2 51.0h.1M35.8 53.0h.1M37.8 51.0h.1M37.9 50.9h.1M40.5 54.0h.1M42.2 50.3h.1M40.0 52.0h.1M42.3 53.2h.1M40.0 50.8h.1M43.0 52.0h.1M40.9 51.5h.1M44.3 51.6h.1M42.3 51.8h.1M41.6 54.3h.1M44.5 51.8h.1M48.1 51.0h.1M44.5 54.5h.1M46.6 54.1h.1M46.5 54.4h.1M46.8 50.8h.1M44.6 52.8h.1M47.7 54.5h.1M44.9 53.1h.1M46.4 52.5h.1M45.2 51.4h.1M47.1 54.6h.1M52.0 54.0h.1M54.3 51.0h.1M50.1 54.7h.1M54.4 52.4h.1M49.8 54.6h.1M51.4 54.5h.1M52.6 54.1h.1M50.3 53.9h.1M50.6 52.0h.1M53.7 54.1h.1M50.4 51.1h.1M57.1 51.9h.1M55.1 51.2h.1M58.1 54.5h.1M54.7 52.8h.1M58.3 50.2h.1M58.7 50.6h.1M62.3 53.1h.1M61.0 52.1h.1M62.4 52.1h.1M62.8 52.2h.1M61.7 50.1h.1M62.6 52.4h.1M68.3 53.9h.1M66.8 50.9h.1M66.9 50.5h.1M65.1 52.2h.1M65.0 52.2h.1M67.1 50.2h.1M69.9 53.7h.1M73.4 52.6h.1M69.8 52.5h.1M71.4 54.8h.1M70.2 54.3h.1M74.5 53.7h.1M74.4 52.5h.1M74.3 54.6h.1M70.3 53.9h.1M78.3 50.8h.1M79.0 51.4h.1M78.6 50.7h.1M77.0 54.6h.1M75.5 51.3h.1M77.0 51.6h.1M75.3 54.7h.1M77.9 54.5h.1M75.3 53.9h.1M75.1 52.7h.1M81.3 54.4h.1M82.3 52.9h.1M83.9 50.5h.1M84.5 53.1h.1M81.5 54.0h.1M80.8 55.0h.1M82.4 51.8h.1M83.3 52.2h.1M80.4 53.7h.1M79.7 54.1h.1M80.8 53.2h.1M84.4 52.9h.1M82.8 51.6h.1M79.5 50.2h.1M80.2 53.1h.1M87.1 54.5h.1M85.2 51.1h.1M87.8 50.1h.1M84.5 51.8h.1M85.0 51.8h.1M85.6 52.9h.1M87.4 51.0h.1M87.6 52.4h.1M85.2 54.7h.1M85.7 50.7h.1M85.0 53.2h.1M88.9 53.9h.1M86.5 51.3h.1M84.6 53.2h.1M87.3 51.8h.1M91.7 54.7h.1M93.2 51.2h.1M94.0 50.2h.1M92.2 52.0h.1M90.7 50.3h.1M93.4 50.1h.1M92.3 54.7h.1M90.2 51.0h.1M92.5 52.5h.1M92.7 54.1h.1M90.4 51.5h.1M91.0 50.2h.1M93.9 53.9h.1M93.1 50.0h.1M93.7 53.7h.1M95.6 50.5h.1M95.7 50.2h.1M96.2 53.7h.1M98.0 54.2h.1M97.3 52.2h.1M98.4 52.6h.1M95.8 53.2h.1M36.8 59.2h.1M38.0 59.3h.1M36.7 58.6h.1M37.4 56.5h.1M35.6 58.1h.1M35.2 55.1h.1M36.2 55.7h.1M38.0 58.2h.1M43.2 55.3h.1M42.5 56.8h.1M43.6 59.1h.1M44.0 55.3h.1M43.8 59.6h.1M44.2 55.5h.1M40.5 55.6h.1M39.7 59.2h.1M43.6 58.2h.1M43.6 58.2h.1M40.9 55.5h.1M48.3 56.0h.1M46.1 57.1h.1M44.6 56.3h.1M45.9 58.6h.1M46.3 56.6h.1M49.3 57.5h.1M48.8 58.1h.1M44.7 57.1h.1M46.7 58.9h.1M46.2 58.5h.1M47.2 56.1h.1M50.0 59.1h.1M50.4 55.0h.1M50.5 58.8h.1M54.4 55.0h.1M52.0 57.5h.1M53.5 55.9h.1M52.0 56.7h.1M53.7 56.3h.1M54.2 56.4h.1M50.6 58.5h.1M52.0 55.5h.1M54.9 58.9h.1M58.0 58.9h.1M57.6 56.8h.1M56.5 57.0h.1M59.0 55.4h.1M58.9 55.1h.1M55.5 56.3h.1M59.0 57.5h.1M56.4 59.4h.1M55.7 57.3h.1M57.2 58.8h.1M62.7 56.7h.1M61.1 55.8h.1M63.7 58.3h.1M63.2 55.8h.1M61.7 58.9h.1M62.4 55.6h.1M68.9 56.2h.1M65.5 56.5h.1M68.0 59.2h.1M65.3 55.8h.1M65.7 56.6h.1M67.1 55.8h.1M70.4 59.9h.1M73.1 55.5h.1M74.3 55.5h.1M71.4 59.9h.1M73.5 58.7h.1M71.7 56.0h.1M72.7 55.5h.1M70.5 56.9h.1M69.7 57.0h.1M73.5 58.5h.1M72.0 58.2h.1M71.8 55.7h.1M72.5 57.0h.1M73.2 59.5h.1M71.7 57.9h.1M76.6 56.1h.1M78.1 59.4h.1M78.4 58.5h.1M78.8 58.4h.1M77.7 57.3h.1M76.1 58.1h.1M75.0 57.1h.1M78.4 58.6h.1M77.6 56.3h.1M76.6 57.3h.1M77.6 57.0h.1M84.2 55.9h.1M82.8 58.9h.1M81.4 57.4h.1M84.4 55.2h.1M82.2 55.8h.1M83.4 59.7h.1M82.1 55.5h.1M82.4 57.7h.1M83.1 57.6h.1M82.7 59.1h.1M82.1 57.1h.1M84.2 56.1h.1M82.9 57.0h.1M83.3 55.6h.1M84.4 56.8h.1M85.9 57.0h.1M84.6 57.1h.1M86.6 58.5h.1M86.3 56.3h.1M85.6 58.7h.1M89.2 57.6h.1M85.6 59.0h.1M86.5 56.1h.1M85.1 58.9h.1M88.5 58.2h.1M86.8 57.8h.1M85.6 59.8h.1M86.3 58.2h.1M88.6 59.1h.1M86.8 56.5h.1M90.1 59.2h.1M91.3 59.3h.1M90.8 56.9h.1M90.8 57.1h.1M90.4 55.0h.1M93.1 56.4h.1M90.7 56.5h.1M91.9 57.1h.1M92.7 58.3h.1M91.3 59.6h.1M93.8 55.3h.1M93.6 59.5h.1M93.4 55.7h.1M93.7 58.2h.1M89.6 55.1h.1M97.8 56.3h.1M95.0 55.7h.1M95.7 58.9h.1M96.2 55.8h.1M99.0 59.0h.1M95.3 59.5h.1M97.5 58.9h.1M97.8 59.5h.1M98.4 59.2h.1M95.5 58.5h.1M97.2 58.7h.1M96.7 59.4h.1M97.3 56.3h.1M95.7 55.7h.1M97.0 55.3h.1M100.2 57.5h.1M99.9 58.2h.1M37.1 62.4h.1M39.0 60.2h.1M38.1 63.1h.1M36.2 64.3h.1M36.3 62.4h.1M37.1 63.9h.1M41.7 62.1h.1M42.3 64.1h.1M41.0 64.1h.1M41.5 62.5h.1M40.9 62.5h.1M44.4 63.3h.1M43.5 61.7h.1M41.1 61.5h.1M42.4 63.2h.1M43.4 60.2h.1M43.1 64.4h.1M44.7 61.5h.1M44.5 60.9h.1M49.1 63.0h.1M47.8 63.9h.1M49.0 63.1h.1M47.6 63.1h.1M48.0 63.0h.1M47.9 61.1h.1M47.8 62.3h.1M48.3 60.5h.1M45.4 60.2h.1M54.1 63.3h.1M51.3 64.1h.1M53.4 62.8h.1M50.8 61.5h.1M51.6 61.6h.1M51.7 63.2h.1M54.2 60.3h.1M52.3 60.2h.1M50.1 64.1h.1M52.4 64.6h.1M51.7 60.1h.1M57.5 64.7h.1M59.4 62.4h.1M56.6 60.5h.1M57.7 61.1h.1M55.3 60.1h.1M54.5 63.4h.1M55.1 64.8h.1M54.9 64.3h.1M55.1 60.1h.1M58.1 61.2h.1M58.2 60.9h.1M63.4 63.6h.1M63.8 63.6h.1M59.9 63.1h.1M63.0 62.3h.1M64.2 61.3h.1M64.3 63.6h.1M59.6 60.1h.1M62.8 64.1h.1M59.9 61.6h.1M63.1 60.8h.1M63.8 62.4h.1M66.3 62.9h.1M66.7 63.4h.1M65.2 64.0h.1M66.3 63.2h.1M67.6 62.1h.1M66.4 63.9h.1M69.2 63.9h.1M67.3 61.5h.1M64.8 64.9h.1M68.0 64.1h.1M66.2 63.0h.1M73.7 63.0h.1M71.0 62.1h.1M73.9 61.9h.1M72.9 63.0h.1M74.0 64.0h.1M70.9 60.0h.1M70.8 62.1h.1M72.4 64.1h.1M73.9 60.2h.1M73.7 64.1h.1M73.8 62.9h.1M70.9 64.3h.1M73.5 63.4h.1M74.1 61.7h.1M69.9 62.8h.1M75.5 63.8h.1M79.2 61.2h.1M76.8 61.0h.1M75.8 63.8h.1M78.5 62.3h.1M74.9 64.0h.1M78.4 61.2h.1M76.9 62.9h.1M80.5 60.9h.1M83.0 61.8h.1M82.3 62.0h.1M82.1 60.7h.1M81.4 60.5h.1M79.6 60.2h.1M87.3 61.3h.1M88.4 62.1h.1M89.2 63.8h.1M88.6 64.8h.1M85.8 60.2h.1M85.5 60.9h.1M84.9 60.3h.1M87.3 64.4h.1M86.8 64.7h.1M89.0 60.3h.1M87.5 62.0h.1M85.8 62.8h.1M87.7 64.8h.1M87.8 62.0h.1M90.3 64.8h.1M94.5 61.1h.1M89.7 61.3h.1M91.3 64.5h.1M94.0 64.2h.1M89.7 63.9h.1M93.0 63.2h.1M94.4 60.3h.1M90.2 63.8h.1M94.2 63.4h.1M91.0 63.0h.1M93.3 60.5h.1M91.1 61.3h.1M90.1 62.4h.1M90.3 61.2h.1M97.9 60.1h.1M98.1 61.0h.1M94.7 64.6h.1M95.6 64.7h.1M98.8 64.4h.1M95.2 62.2h.1M95.0 64.6h.1M98.7 63.1h.1M96.8 61.7h.1M98.6 62.4h.1M97.6 60.7h.1M95.6 60.3h.1M98.1 62.8h.1M95.2 64.4h.1M95.8 62.1h.1M36.9 66.4h.1M35.8 66.0h.1M36.3 70.0h.1M39.5 69.6h.1M35.0 66.4h.1M39.0 65.3h.1M41.0 69.9h.1M39.6 69.0h.1M41.2 65.7h.1M39.5 69.2h.1M42.1 65.9h.1M41.7 69.6h.1M47.4 65.7h.1M48.1 66.0h.1M44.9 65.4h.1M47.5 67.5h.1M45.9 66.0h.1M48.6 67.9h.1M45.5 65.3h.1M48.2 67.0h.1M48.1 65.3h.1M53.8 67.5h.1M50.8 65.9h.1M53.7 66.8h.1M50.3 66.9h.1M52.5 65.0h.1M52.1 67.2h.1M52.1 65.6h.1M59.3 67.5h.1M57.2 65.1h.1M59.3 66.1h.1M55.4 65.5h.1M54.7 65.5h.1M58.0 66.0h.1M62.5 67.9h.1M62.1 68.5h.1M60.0 69.3h.1M63.1 65.2h.1M60.1 67.5h.1M62.0 66.4h.1M60.1 67.0h.1M60.2 68.0h.1M63.8 65.7h.1M62.4 68.7h.1M60.3 69.1h.1M66.4 67.1h.1M68.7 67.6h.1M66.5 69.7h.1M68.4 66.7h.1M65.7 66.7h.1M66.7 69.9h.1M68.5 69.6h.1M68.6 69.2h.1M64.8 67.6h.1M69.3 69.7h.1M65.7 67.1h.1M71.3 67.7h.1M69.8 67.2h.1M72.0 65.1h.1M70.2 69.8h.1M73.4 69.7h.1M72.7 69.0h.1M73.9 69.4h.1M69.7 68.2h.1M70.8 68.4h.1M70.9 67.7h.1M74.1 68.1h.1M87.2 65.7h.1M90.7 65.4h.1M92.5 67.9h.1M92.8 66.0h.1M93.1 67.3h.1M92.2 68.1h.1M91.8 66.6h.1M90.7 66.1h.1M92.1 66.9h.1M92.4 65.1h.1M97.3 67.5h.1M96.0 68.9h.1M95.3 65.3h.1M98.9 67.2h.1M94.8 66.9h.1M96.7 68.7h.1M95.0 66.1h.1M95.3 66.7h.1M96.3 68.4h.1M38.6 72.6h.1M38.2 73.7h.1M41.9 73.9h.1M43.0 74.6h.1M40.1 74.4h.1M39.5 73.8h.1M42.4 72.5h.1M59.3 72.4h.1M59.5 71.7h.1M59.4 74.1h.1M62.9 74.1h.1M64.5 74.4h.1M61.6 70.8h.1M60.9 72.6h.1M62.0 70.9h.1M60.4 73.2h.1M62.5 71.8h.1M64.5 73.2h.1M59.7 72.1h.1M63.4 71.5h.1M63.0 70.0h.1M68.7 72.9h.1M67.8 71.0h.1M67.0 72.8h.1M65.8 73.2h.1M67.2 75.0h.1M67.4 72.1h.1M65.1 70.8h.1M68.3 70.5h.1M65.0 70.9h.1M67.1 74.1h.1M67.6 74.0h.1M69.6 73.9h.1M71.1 73.6h.1M71.3 70.8h.1M70.8 70.5h.1M74.0 72.9h.1M71.2 72.2h.1M71.4 70.3h.1M74.0 72.9h.1M74.3 72.2h.1M72.6 71.2h.1M69.7 74.7h.1M73.8 71.6h.1M74.0 74.1h.1M71.0 73.0h.1M74.3 72.5h.1M75.7 71.9h.1M76.0 74.4h.1M76.9 74.0h.1M75.7 70.9h.1M36.5 75.3h.1M35.1 79.1h.1M36.3 76.2h.1M35.5 76.4h.1M35.7 75.2h.1M37.8 76.7h.1M43.0 75.5h.1M40.8 79.2h.1M40.1 77.2h.1M40.3 76.8h.1M43.1 76.9h.1M60.4 75.6h.1M64.1 78.7h.1M63.1 75.2h.1M59.7 75.8h.1M60.5 76.5h.1M61.4 75.2h.1M61.1 78.2h.1M62.4 78.6h.1M60.8 77.2h.1M62.9 76.7h.1M68.7 78.9h.1M65.9 75.2h.1M68.8 78.0h.1M64.7 76.2h.1M65.1 79.0h.1M65.6 79.6h.1M68.2 75.4h.1M68.0 77.0h.1M68.2 79.1h.1M65.9 75.4h.1M69.2 77.1h.1M73.0 78.7h.1M73.6 78.1h.1M71.8 75.3h.1M73.0 77.1h.1M72.1 79.6h.1M70.1 78.8h.1M69.7 78.5h.1M73.5 76.3h.1M72.2 79.8h.1M72.7 77.7h.1M70.7 75.3h.1M71.3 77.1h.1M70.5 76.6h.1M70.2 78.5h.1M72.9 76.2h.1M77.1 77.2h.1M79.2 76.8h.1M76.0 79.4h.1M75.2 77.8h.1M76.2 79.1h.1M77.2 78.8h.1M75.3 78.3h.1M77.5 77.3h.1M78.3 79.2h.1M75.1 76.4h.1M76.3 76.0h.1M80.9 76.0h.1M34.9 80.1h.1M39.5 83.8h.1M34.9 83.6h.1M39.4 82.8h.1M35.0 82.4h.1M36.7 80.9h.1M39.5 84.6h.1M42.7 83.1h.1M40.8 81.2h.1M40.2 80.1h.1M41.0 80.9h.1M42.7 84.2h.1M62.5 81.5h.1M62.4 84.8h.1M61.9 83.2h.1M63.9 80.1h.1M61.7 80.4h.1M62.8 81.9h.1M62.4 82.1h.1M62.1 82.8h.1M65.1 80.9h.1M68.9 82.7h.1M65.1 84.3h.1M65.8 80.5h.1M67.2 81.3h.1M66.9 82.8h.1M65.6 82.9h.1M65.1 82.6h.1M67.4 80.4h.1M66.5 80.4h.1M66.7 84.3h.1M73.1 83.8h.1M70.1 85.0h.1M73.1 80.5h.1M73.7 82.0h.1M70.4 84.8h.1M72.3 83.9h.1M70.2 83.9h.1M69.8 81.2h.1M71.4 80.1h.1M72.5 81.1h.1M71.0 83.5h.1M71.6 84.4h.1M72.6 84.4h.1M72.3 84.6h.1M73.9 80.8h.1M76.2 83.8h.1M75.1 81.9h.1M78.1 80.2h.1M77.5 80.5h.1M30.5 87.2h.1M33.7 87.9h.1M30.1 85.1h.1M30.1 89.0h.1M30.4 87.8h.1M31.0 88.4h.1M35.2 89.4h.1M37.2 88.4h.1M38.5 89.7h.1M34.6 86.7h.1M35.3 87.5h.1M38.9 89.0h.1M40.4 89.1h.1M41.9 85.8h.1M39.9 86.6h.1M40.6 89.5h.1M42.4 85.2h.1M40.3 86.8h.1M41.8 87.9h.1M41.4 86.8h.1M64.0 86.4h.1M63.0 86.1h.1M65.5 88.0h.1M68.8 88.2h.1M65.5 88.7h.1M69.3 88.0h.1M64.9 89.0h.1M68.9 86.7h.1M65.2 85.9h.1M67.2 89.4h.1M67.7 89.6h.1M65.6 86.6h.1M68.2 88.2h.1M72.9 86.7h.1M69.8 87.1h.1M69.7 88.1h.1M71.2 87.5h.1M72.5 86.3h.1M71.8 85.1h.1M74.1 87.8h.1M74.4 85.3h.1M72.6 88.6h.1M71.1 85.5h.1M70.3 85.7h.1M30.8 93.6h.1M33.3 93.9h.1M31.0 93.9h.1M34.4 92.3h.1M30.9 92.6h.1M34.2 90.7h.1M29.5 92.4h.1M32.8 93.9h.1M31.3 94.9h.1M30.6 93.8h.1M29.9 90.1h.1M34.8 92.5h.1M37.3 90.9h.1M39.2 91.8h.1M35.2 90.9h.1M38.2 94.6h.1M35.3 90.1h.1M38.4 91.2h.1M39.4 92.5h.1M37.7 91.7h.1M38.5 92.3h.1M36.1 94.5h.1M42.3 92.0h.1M40.8 91.3h.1M41.7 91.2h.1M40.5 93.8h.1M64.3 94.4h.1M63.2 91.4h.1M62.3 91.8h.1M67.9 93.3h.1M67.2 92.7h.1M68.9 93.6h.1M66.5 91.6h.1M71.4 92.0h.1M69.5 93.0h.1M72.6 91.9h.1M70.7 91.0h.1M69.7 93.5h.1M71.1 93.2h.1M72.2 91.6h.1M28.2 99.3h.1M29.5 96.2h.1M27.6 98.7h.1M32.9 96.6h.1M32.6 97.7h.1M30.6 98.1h.1M30.8 99.5h.1M31.9 98.6h.1M32.1 97.4h.1M30.6 95.7h.1M34.1 97.6h.1M32.1 97.6h.1M33.6 96.2h.1M30.4 99.1h.1M31.8 98.2h.1M33.6 99.5h.1M33.8 95.2h.1M31.4 99.2h.1M35.1 95.8h.1M35.8 95.5h.1M36.3 99.0h.1M37.1 97.3h.1M34.9 97.0h.1M39.5 98.5h.1M36.7 97.4h.1M38.5 98.8h.1M35.2 98.4h.1M36.3 97.6h.1M35.7 96.9h.1M36.2 96.9h.1M34.6 96.0h.1M37.4 95.3h.1M35.4 98.6h.1M41.1 96.2h.1M42.7 99.3h.1M40.5 97.1h.1M41.4 95.2h.1M41.7 96.8h.1M41.5 98.2h.1M41.4 97.9h.1M32.2 102.0h.1M32.3 101.6h.1M30.9 104.0h.1M31.0 103.6h.1M33.5 103.0h.1M31.8 104.7h.1M31.7 104.4h.1M29.8 102.2h.1M32.7 100.2h.1M33.8 100.4h.1M32.5 100.9h.1M37.3 104.0h.1M37.0 103.4h.1M37.9 101.5h.1M35.6 104.2h.1M35.2 104.6h.1M35.5 100.5h.1M35.0 103.9h.1M39.3 102.1h.1M37.8 101.3h.1M39.0 103.4h.1M35.3 100.3h.1M39.7 104.2h.1M41.0 101.2h.1M42.4 101.6h.1M42.3 100.8h.1M44.1 101.6h.1M43.7 100.8h.1M43.5 104.9h.1M41.5 100.2h.1M41.4 103.2h.1M40.6 102.7h.1M40.0 102.3h.1M43.1 102.1h.1M42.9 100.6h.1M43.6 100.6h.1M44.1 105.0h.1M44.7 103.0h.1M31.0 109.5h.1M29.9 107.9h.1M30.7 108.0h.1M33.4 108.6h.1M29.8 106.2h.1M32.5 109.9h.1M29.7 108.1h.1M33.0 109.1h.1M31.2 109.1h.1M31.8 109.6h.1M29.6 109.7h.1M36.5 105.4h.1M35.7 108.7h.1M37.9 105.8h.1M36.2 105.7h.1M35.5 106.1h.1M36.2 109.9h.1M42.0 108.9h.1M42.7 106.0h.1M42.6 109.2h.1M43.4 105.5h.1M34.3 111.8h.1M30.6 114.4h.1M32.6 114.5h.1M31.5 112.5h.1M34.3 112.5h.1M34.4 110.9h.1M33.7 110.8h.1M32.1 110.0h.1M31.8 114.0h.1M30.8 111.8h.1M37.3 114.3h.1M37.1 111.9h.1M39.1 114.5h.1M37.8 110.4h.1M37.6 112.2h.1M39.3 111.8h.1M37.8 113.2h.1M36.4 112.6h.1M37.9 114.5h.1M37.0 111.8h.1M39.4 110.3h.1M41.1 110.7h.1M31.7 115.5h.1M30.8 117.0h.1M31.4 119.8h.1M30.8 116.0h.1M34.0 117.3h.1M33.7 118.2h.1M33.4 116.6h.1M31.9 117.8h.1M32.9 118.8h.1M36.3 119.6h.1M37.1 116.4h.1M37.7 116.3h.1M38.4 115.2h.1M38.6 117.8h.1M36.3 119.7h.1M35.8 116.2h.1M34.8 117.7h.1M38.3 118.4h.1M36.6 119.0h.1M35.1 116.5h.1M34.2 123.7h.1M31.2 122.0h.1M33.5 121.7h.1M32.2 122.6h.1M32.8 124.5h.1M32.0 124.3h.1M32.8 122.9h.1M31.5 122.9h.1M37.0 124.5h.1M33.0 128.1h.1M27.0 49.3h.1M22.8 62.2h.1M31.1 46.2h.1M31.5 48.4h.1M17.7 64.5h.1M20.3 55.3h.1M25.6 51.8h.1M30.7 51.5h.1M31.8 70.1h.1M24.1 58.1h.1M29.2 63.1h.1M21.7 60.9h.1M26.0 52.0h.1M14.1 59.8h.1M15.6 59.1h.1M28.2 67.0h.1M23.0 55.6h.1M16.9 57.5h.1M19.0 51.0h.1M29.4 61.0h.1M22.6 51.1h.1M28.7 51.1h.1M18.6 62.4h.1M28.6 75.2h.1M29.7 74.4h.1M33.7 67.4h.1M29.0 46.9h.1M32.4 67.4h.1M27.0 53.2h.1M20.7 50.1h.1M16.5 56.0h.1M33.2 69.9h.1M30.4 59.6h.1M30.8 59.8h.1M31.4 49.0h.1M15.0 62.5h.1M24.2 51.5h.1M33.4 67.0h.1M22.5 67.7h.1M21.3 70.2h.1M31.9 49.1h.1M26.0 56.7h.1M30.6 59.4h.1M19.9 64.4h.1M31.9 9.4h.1M33.9 15.8h.1M18.9 19.5h.1M25.2 25.1h.1M32.0 24.3h.1M26.9 28.6h.1M33.9 26.9h.1M45.0 4.7h.1M47.3 6.8h.1M38.8 13.8h.1M45.6 12.6h.1M45.6 15.2h.1M47.3 15.2h.1M53.5 19.8h.1M52.4 21.5h.1M39.4 22.6h.1M38.5 24.3h.1M41.4 26.5h.1M43.4 27.7h.1M36.6 32.5h.1M36.9 32.3h.1M38.2 35.1h.1M5.3 36.8h.1M17.8 36.8h.1M31.8 38.7h.1M35.0 37.2h.1M12.5 40.0h.1M10.5 42.9h.1M27.2 40.4h.1M31.7 39.5h.1M30.0 43.5h.1M5.7 47.2h.1M11.4 48.0h.1M12.5 47.2h.1M19.8 47.4h.1M4.6 49.4h.1M7.6 50.2h.1M3.8 51.4h.1M10.8 52.0h.1M9.9 54.2h.1M25.2 49.7h.1M24.5 51.4h.1M29.7 52.2h.1M28.3 54.4h.1M17.3 55.9h.1M19.3 58.7h.1M24.9 58.7h.1M17.6 67.8h.1M25.5 66.7h.1M30.0 66.1h.1M32.2 69.5h.1M24.3 73.5h.1M26.6 75.2h.1M26.0 76.3h.1M30.0 73.5h.1M29.4 79.1h.1M27.2 82.5h.1M28.9 81.9h.1M26.0 85.9h.1M31.7 85.9h.1M97.9 67.5h.1M96.7 69.4h.1M93.5 70.0h.1M91.7 74.4h.1M92.5 73.5h.1M82.9 70.7h.1M82.2 77.6h.1M19.3 61.5h.1M18.7 64.9h.1M28.3 62.1h.1M30.0 60.4h.1M32.2 59.3h.1M33.4 61.5h.1M29.4 65.5h.1M31.1 67.7h.1M33.4 64.9h.1M30.0 58.1h.1M17.6 62.1h.1M20.4 61.0h.1M26.6 62.7h.1M24.3 67.2h.1M27.2 68.9h.1M40.5 28.8h.1M38.8 32.2h.1M38.9 31.6h.1M11.8 38.3h.1M17.6 36.7h.1M11.9 39.0h.1M4.9 42.9h.1M30.0 40.4h.1M6.3 50.2h.1M22.1 54.0h.1M33.4 55.9h.1M29.4 56.4h.1M18.1 65.6h.1M26.6 71.8h.1M32.8 75.7h.1M67.8 38.4h.1M89.1 66.9h.1M79.1 75.7h.1"/><path stroke="#1846bd" d="M45.4 68.9h.1M47.6 68.5h.1M51.2 69.2h.1M49.6 69.6h.1M51.9 69.4h.1M53.1 69.1h.1M56.1 68.6h.1M56.4 68.8h.1M54.8 69.4h.1M57.1 67.7h.1M55.8 69.1h.1M44.3 72.9h.1M48.4 74.4h.1M47.5 71.9h.1M46.8 72.3h.1M48.1 71.5h.1M46.5 72.8h.1M46.4 71.6h.1M48.4 74.2h.1M47.0 72.2h.1M45.4 71.5h.1M45.2 72.9h.1M47.4 70.4h.1M51.1 74.2h.1M53.7 74.8h.1M50.5 72.1h.1M54.1 70.1h.1M49.7 72.8h.1M52.0 74.6h.1M53.4 72.7h.1M54.5 72.6h.1M52.1 73.4h.1M51.4 71.8h.1M52.5 71.8h.1M57.9 72.6h.1M55.0 71.9h.1M56.5 72.8h.1M57.4 74.4h.1M56.7 73.1h.1M57.2 74.1h.1M55.4 71.6h.1M57.1 70.6h.1M43.7 79.0h.1M45.5 79.8h.1M47.0 76.1h.1M46.8 75.7h.1M48.0 76.3h.1M49.0 77.9h.1M46.3 76.2h.1M47.5 76.1h.1M48.9 75.6h.1M47.1 77.7h.1M45.9 78.9h.1M46.4 78.3h.1M51.1 76.9h.1M49.9 75.9h.1M53.8 76.6h.1M52.8 75.5h.1M52.3 76.8h.1M52.0 76.5h.1M56.1 76.1h.1M55.1 78.6h.1M55.9 77.0h.1M59.0 78.9h.1M58.9 79.3h.1M55.2 76.4h.1M54.6 78.4h.1M57.8 76.8h.1M56.6 78.3h.1M58.0 76.2h.1M58.7 76.8h.1M60.4 79.2h.1M44.2 83.3h.1M43.4 84.2h.1M44.1 80.8h.1M43.4 84.2h.1M43.2 81.6h.1M48.6 81.6h.1M46.3 82.8h.1M46.3 84.2h.1M45.7 80.2h.1M47.3 83.1h.1M48.6 83.5h.1M49.0 84.7h.1M47.0 82.5h.1M45.3 81.5h.1M47.4 80.4h.1M47.9 80.8h.1M54.3 80.4h.1M49.7 82.2h.1M50.5 83.6h.1M49.5 84.2h.1M53.8 83.9h.1M51.6 81.4h.1M57.1 82.1h.1M56.2 82.2h.1M57.8 84.1h.1M59.0 80.8h.1M56.0 82.2h.1M57.3 81.7h.1M55.5 80.4h.1M56.1 82.3h.1M59.4 84.5h.1M58.8 84.9h.1M59.3 83.1h.1M59.8 83.4h.1M61.0 81.7h.1M60.4 83.4h.1M42.9 87.0h.1M43.7 87.0h.1M43.9 88.1h.1M47.4 86.7h.1M44.6 87.3h.1M49.4 85.2h.1M45.2 88.4h.1M45.9 86.4h.1M47.0 86.3h.1M47.3 87.6h.1M49.3 90.0h.1M44.7 87.8h.1M48.4 89.4h.1M48.4 88.2h.1M51.3 86.4h.1M53.5 89.4h.1M54.2 88.4h.1M51.0 88.8h.1M53.2 87.5h.1M52.7 86.8h.1M52.3 87.0h.1M49.8 86.7h.1M51.1 89.9h.1M51.9 86.8h.1M50.7 86.2h.1M55.2 85.0h.1M58.9 87.3h.1M56.7 87.8h.1M56.0 85.8h.1M54.8 86.5h.1M56.0 88.6h.1M57.3 89.7h.1M56.2 89.6h.1M57.4 85.4h.1M55.4 87.9h.1M59.4 86.8h.1M61.6 89.3h.1M59.8 87.4h.1M60.8 85.1h.1M60.3 86.3h.1M43.2 90.3h.1M42.7 92.0h.1M43.8 90.3h.1M44.1 94.7h.1M42.6 91.1h.1M42.7 91.5h.1M44.5 91.1h.1M45.3 94.3h.1M48.8 91.3h.1M48.3 94.1h.1M45.9 91.7h.1M46.9 94.5h.1M45.3 93.4h.1M47.5 92.3h.1M47.4 94.4h.1M45.5 94.4h.1M46.3 93.9h.1M48.8 90.9h.1M54.5 91.5h.1M49.6 90.6h.1M54.4 90.0h.1M54.1 90.8h.1M53.2 90.5h.1M50.3 93.4h.1M50.0 91.7h.1M54.1 93.6h.1M53.9 94.9h.1M49.7 91.2h.1M53.5 93.4h.1M57.0 91.2h.1M56.7 90.5h.1M54.6 95.0h.1M56.1 94.4h.1M55.1 92.4h.1M55.2 92.1h.1M55.4 93.4h.1M55.2 93.7h.1M57.0 90.6h.1M56.3 92.5h.1M59.1 91.7h.1M60.4 91.3h.1M59.8 90.2h.1M62.0 92.0h.1M43.7 95.5h.1M43.5 98.1h.1M43.1 96.5h.1M43.6 96.8h.1M45.5 99.9h.1M48.1 96.9h.1M47.8 96.6h.1M44.9 98.8h.1M46.4 97.6h.1M47.0 99.5h.1M48.3 95.1h.1M47.5 97.3h.1M46.8 99.2h.1M46.6 97.4h.1M49.0 97.2h.1M52.1 99.1h.1M52.9 98.7h.1M51.5 95.2h.1M52.9 97.8h.1M53.3 98.8h.1M50.1 96.1h.1M49.9 99.1h.1M50.0 95.4h.1M53.3 97.8h.1M49.8 98.4h.1M53.1 97.4h.1M58.0 97.1h.1M57.4 100.0h.1M58.6 99.4h.1M55.2 96.7h.1M57.1 95.0h.1M59.4 96.4h.1M55.8 96.6h.1M55.8 99.3h.1M57.3 97.6h.1M56.6 95.3h.1M56.0 99.3h.1M60.5 95.3h.1M47.1 101.5h.1M45.0 102.4h.1M48.8 103.0h.1M47.2 100.4h.1M45.2 101.4h.1M49.0 104.2h.1M49.3 101.7h.1M52.8 100.3h.1M51.2 102.2h.1M50.7 103.7h.1M50.4 103.9h.1M51.0 100.3h.1M52.3 100.5h.1M52.3 103.9h.1M52.5 102.3h.1M49.7 102.6h.1M50.0 103.2h.1M50.2 102.9h.1M56.4 103.3h.1M55.3 100.8h.1M59.2 101.7h.1M58.7 104.4h.1M56.9 100.7h.1M55.0 104.4h.1M55.1 102.5h.1M57.2 100.6h.1M56.8 100.8h.1M57.2 102.5h.1M56.3 101.0h.1M60.5 100.6h.1M60.7 104.4h.1M62.0 104.5h.1M59.6 104.7h.1M61.9 104.0h.1M62.4 103.4h.1M54.2 109.5h.1M53.2 109.2h.1M53.5 108.0h.1M51.7 109.1h.1M53.4 109.4h.1M52.2 109.7h.1M53.4 106.3h.1M53.7 106.2h.1M56.8 106.2h.1M57.0 109.5h.1M57.9 108.6h.1M56.5 108.9h.1M58.5 108.4h.1M59.2 109.1h.1M56.5 105.4h.1M57.8 109.2h.1M56.2 108.0h.1M58.7 109.0h.1M54.5 107.4h.1M60.1 109.1h.1M61.6 108.0h.1M61.8 106.7h.1M60.6 106.8h.1M63.7 108.1h.1M61.0 105.4h.1M60.9 108.5h.1M61.7 108.3h.1M63.5 105.6h.1M62.9 105.2h.1M63.6 105.9h.1M52.4 110.2h.1M52.7 111.4h.1M53.3 111.5h.1M57.9 111.9h.1M58.0 111.4h.1M56.2 110.7h.1M63.9 110.8h.1M63.2 110.9h.1M61.1 110.3h.1M61.0 111.9h.1M60.4 111.5h.1"/></g><g transform="translate(439.3 149.8)"><line x1="11.4" y1="0" x2="11.4" y2="132.4" class="gr"/><line x1="36.5" y1="0" x2="36.5" y2="132.4" class="gr"/><line x1="61.5" y1="0" x2="61.5" y2="132.4" class="gr"/><line x1="86.6" y1="0" x2="86.6" y2="132.4" class="gr"/><line x1="0" y1="6.0" x2="105.2" y2="6.0" class="gr"/><line x1="0" y1="35.8" x2="105.2" y2="35.8" class="gr"/><line x1="0" y1="65.6" x2="105.2" y2="65.6" class="gr"/><line x1="0" y1="95.4" x2="105.2" y2="95.4" class="gr"/><line x1="0" y1="125.2" x2="105.2" y2="125.2" class="gr"/><path stroke="#ff0a14" d="M49.7 22.2h.1M51.6 24.1h.1M50.1 21.1h.1M52.6 24.7h.1M52.4 22.0h.1M54.7 24.3h.1M47.7 26.9h.1M47.2 25.3h.1M47.9 27.1h.1M46.1 27.9h.1M46.8 26.5h.1M48.5 28.5h.1M45.7 27.9h.1M47.1 29.4h.1M48.1 26.4h.1M49.4 25.6h.1M53.3 25.8h.1M51.9 25.2h.1M52.8 28.8h.1M52.4 29.4h.1M51.1 28.5h.1M52.5 27.9h.1M51.8 29.2h.1M54.2 27.4h.1M52.8 25.3h.1M53.0 28.2h.1M54.5 29.1h.1M50.9 26.9h.1M52.8 25.1h.1M51.8 25.8h.1M50.1 25.3h.1M55.1 26.2h.1M56.5 29.4h.1M54.9 27.2h.1M57.2 29.4h.1M55.9 27.1h.1M45.8 30.0h.1M46.6 31.8h.1M47.3 34.8h.1M48.0 32.6h.1M47.6 33.4h.1M44.8 34.5h.1M48.4 34.4h.1M48.5 32.0h.1M46.5 30.5h.1M47.7 30.3h.1M44.8 31.0h.1M45.3 31.7h.1M44.8 30.0h.1M45.3 30.5h.1M46.3 30.1h.1M52.6 30.7h.1M50.8 31.7h.1M51.3 30.6h.1M53.7 35.0h.1M51.8 32.4h.1M49.9 30.5h.1M51.2 31.3h.1M53.6 30.8h.1M49.6 34.8h.1M52.1 30.7h.1M52.2 30.1h.1M52.1 34.9h.1M53.8 33.5h.1M50.8 31.8h.1M50.3 33.9h.1M58.4 31.6h.1M55.6 34.1h.1M59.4 34.3h.1M58.5 34.1h.1M58.2 31.1h.1M57.1 31.8h.1M54.6 30.1h.1M55.9 31.3h.1M58.0 34.8h.1M56.7 34.7h.1M59.4 34.8h.1M62.6 34.5h.1M62.8 34.0h.1M59.9 33.3h.1M43.4 36.7h.1M43.5 39.9h.1M44.2 38.6h.1M49.0 39.0h.1M45.2 39.1h.1M49.4 38.3h.1M46.3 37.7h.1M45.2 35.1h.1M49.4 38.2h.1M47.1 39.7h.1M46.7 39.4h.1M48.6 36.1h.1M45.8 36.5h.1M45.7 37.9h.1M45.8 37.1h.1M45.2 39.6h.1M46.3 37.3h.1M47.4 39.5h.1M54.1 37.5h.1M52.2 37.6h.1M49.6 37.2h.1M50.4 35.0h.1M53.5 35.9h.1M51.9 38.6h.1M52.3 36.6h.1M52.1 37.8h.1M53.4 35.5h.1M52.3 36.2h.1M50.9 38.9h.1M57.3 38.8h.1M59.1 37.2h.1M57.6 37.5h.1M57.1 38.5h.1M56.8 37.7h.1M56.9 39.7h.1M58.0 39.4h.1M59.2 36.3h.1M57.3 39.7h.1M58.7 35.7h.1M55.1 37.2h.1M60.7 35.4h.1M62.8 38.9h.1M64.0 35.8h.1M63.1 38.3h.1M60.2 39.4h.1M64.3 36.1h.1M64.3 37.0h.1M61.9 39.9h.1M63.7 35.8h.1M61.7 37.6h.1M61.2 36.0h.1M64.6 36.7h.1M64.8 39.9h.1M68.4 39.9h.1M84.1 39.1h.1M84.9 35.3h.1M84.9 39.7h.1M84.9 39.3h.1M84.8 39.3h.1M87.3 39.6h.1M38.3 41.4h.1M38.2 42.8h.1M41.9 44.7h.1M40.0 44.1h.1M41.7 42.5h.1M43.7 42.0h.1M42.0 43.4h.1M44.4 41.7h.1M48.0 43.2h.1M46.5 41.7h.1M44.8 40.6h.1M44.9 43.7h.1M45.8 40.8h.1M44.9 44.2h.1M48.9 43.4h.1M45.9 41.2h.1M46.0 42.3h.1M45.3 42.2h.1M45.8 44.8h.1M52.2 41.2h.1M54.3 41.5h.1M51.3 40.0h.1M51.4 42.4h.1M52.0 41.0h.1M52.0 40.0h.1M50.8 40.4h.1M51.5 40.2h.1M49.6 41.5h.1M50.7 42.9h.1M52.1 43.8h.1M58.1 44.4h.1M56.4 41.6h.1M59.4 40.7h.1M58.1 43.2h.1M54.7 44.2h.1M59.0 43.1h.1M63.6 40.7h.1M62.1 42.5h.1M63.0 41.1h.1M59.7 40.7h.1M61.3 40.5h.1M62.6 43.1h.1M62.9 42.4h.1M69.9 40.7h.1M70.8 43.7h.1M83.0 43.4h.1M81.0 42.6h.1M81.8 42.3h.1M80.1 44.5h.1M80.5 44.9h.1M84.2 40.1h.1M81.8 44.1h.1M84.3 42.2h.1M80.8 41.0h.1M84.2 41.1h.1M82.4 40.7h.1M88.6 42.5h.1M88.9 43.5h.1M85.7 44.5h.1M86.9 40.1h.1M84.5 42.5h.1M86.8 41.5h.1M85.2 41.7h.1M86.1 44.2h.1M84.5 43.8h.1M89.1 43.6h.1M86.4 42.0h.1M89.5 42.9h.1M89.7 43.7h.1M35.9 45.2h.1M39.1 45.6h.1M36.9 46.7h.1M36.0 48.7h.1M39.4 46.3h.1M37.8 46.5h.1M37.3 47.0h.1M35.3 45.8h.1M35.5 49.5h.1M37.0 46.1h.1M39.0 50.0h.1M40.2 46.0h.1M40.0 46.7h.1M40.0 46.2h.1M40.8 47.8h.1M43.9 48.7h.1M41.6 47.1h.1M42.1 46.9h.1M41.2 45.3h.1M40.9 49.8h.1M40.1 47.5h.1M42.6 49.3h.1M45.9 46.2h.1M46.5 47.2h.1M49.3 49.2h.1M48.9 45.1h.1M44.7 48.5h.1M49.0 47.4h.1M47.4 45.0h.1M46.5 49.6h.1M48.6 49.3h.1M49.4 46.2h.1M45.0 45.8h.1M52.9 49.7h.1M53.1 48.2h.1M53.3 47.3h.1M52.3 45.2h.1M53.4 46.2h.1M54.1 48.2h.1M51.0 45.6h.1M50.8 48.2h.1M53.0 45.6h.1M49.9 47.6h.1M52.4 46.9h.1M57.5 45.1h.1M56.0 47.3h.1M59.3 48.2h.1M58.9 47.4h.1M55.7 46.2h.1M59.3 48.5h.1M56.0 45.1h.1M57.0 48.4h.1M56.6 46.3h.1M57.8 49.6h.1M55.6 45.2h.1M60.5 49.0h.1M60.5 49.8h.1M61.1 49.1h.1M60.7 46.1h.1M79.3 46.0h.1M76.3 49.1h.1M78.6 47.2h.1M76.4 49.6h.1M79.7 47.1h.1M83.6 48.8h.1M79.7 45.2h.1M79.8 49.6h.1M80.8 48.7h.1M84.0 46.7h.1M80.9 49.8h.1M82.6 46.3h.1M83.1 46.6h.1M80.9 45.0h.1M83.3 49.6h.1M82.7 49.7h.1M79.6 46.2h.1M81.9 49.8h.1M84.3 46.9h.1M86.6 47.5h.1M89.1 45.9h.1M88.5 48.7h.1M88.6 48.9h.1M87.5 46.6h.1M86.1 46.8h.1M88.4 45.4h.1M85.5 48.8h.1M85.7 45.3h.1M84.7 47.8h.1M86.1 49.9h.1M88.9 49.9h.1M85.8 45.4h.1M85.0 47.5h.1M88.0 47.2h.1M91.6 48.1h.1M92.9 48.7h.1M90.1 49.2h.1M91.0 47.8h.1M91.4 48.7h.1M90.5 46.2h.1M90.7 45.8h.1M91.1 47.0h.1M39.2 51.9h.1M38.8 52.2h.1M35.8 53.9h.1M39.2 50.5h.1M37.5 53.1h.1M35.6 51.8h.1M35.2 51.0h.1M35.8 53.0h.1M37.8 51.0h.1M37.9 50.9h.1M40.5 54.0h.1M42.2 50.3h.1M40.0 52.0h.1M42.3 53.2h.1M40.0 50.8h.1M43.0 52.0h.1M40.9 51.5h.1M44.3 51.6h.1M42.3 51.8h.1M41.6 54.3h.1M44.5 51.8h.1M48.1 51.0h.1M44.5 54.5h.1M46.6 54.1h.1M46.5 54.4h.1M46.8 50.8h.1M44.6 52.8h.1M47.7 54.5h.1M44.9 53.1h.1M46.4 52.5h.1M45.2 51.4h.1M47.1 54.6h.1M52.0 54.0h.1M54.3 51.0h.1M50.1 54.7h.1M54.4 52.4h.1M49.8 54.6h.1M51.4 54.5h.1M52.6 54.1h.1M50.3 53.9h.1M50.6 52.0h.1M53.7 54.1h.1M50.4 51.1h.1M57.1 51.9h.1M55.1 51.2h.1M58.1 54.5h.1M54.7 52.8h.1M58.3 50.2h.1M58.7 50.6h.1M78.3 50.8h.1M79.0 51.4h.1M78.6 50.7h.1M75.5 51.3h.1M77.0 51.6h.1M77.9 54.5h.1M81.3 54.4h.1M82.3 52.9h.1M83.9 50.5h.1M84.5 53.1h.1M81.5 54.0h.1M80.8 55.0h.1M82.4 51.8h.1M83.3 52.2h.1M80.4 53.7h.1M79.7 54.1h.1M80.8 53.2h.1M84.4 52.9h.1M82.8 51.6h.1M79.5 50.2h.1M80.2 53.1h.1M87.1 54.5h.1M85.2 51.1h.1M87.8 50.1h.1M84.5 51.8h.1M85.0 51.8h.1M85.6 52.9h.1M87.4 51.0h.1M87.6 52.4h.1M85.2 54.7h.1M85.7 50.7h.1M85.0 53.2h.1M88.9 53.9h.1M86.5 51.3h.1M84.6 53.2h.1M87.3 51.8h.1M91.7 54.7h.1M93.2 51.2h.1M94.0 50.2h.1M92.2 52.0h.1M90.7 50.3h.1M93.4 50.1h.1M92.3 54.7h.1M90.2 51.0h.1M92.5 52.5h.1M92.7 54.1h.1M90.4 51.5h.1M91.0 50.2h.1M93.9 53.9h.1M93.1 50.0h.1M93.7 53.7h.1M95.6 50.5h.1M95.7 50.2h.1M96.2 53.7h.1M98.0 54.2h.1M97.3 52.2h.1M98.4 52.6h.1M95.8 53.2h.1M36.8 59.2h.1M38.0 59.3h.1M36.7 58.6h.1M37.4 56.5h.1M35.6 58.1h.1M35.2 55.1h.1M36.2 55.7h.1M38.0 58.2h.1M43.2 55.3h.1M42.5 56.8h.1M43.6 59.1h.1M44.0 55.3h.1M43.8 59.6h.1M44.2 55.5h.1M40.5 55.6h.1M39.7 59.2h.1M43.6 58.2h.1M43.6 58.2h.1M40.9 55.5h.1M48.3 56.0h.1M46.1 57.1h.1M44.6 56.3h.1M45.9 58.6h.1M46.3 56.6h.1M49.3 57.5h.1M48.8 58.1h.1M44.7 57.1h.1M46.7 58.9h.1M46.2 58.5h.1M47.2 56.1h.1M50.0 59.1h.1M50.4 55.0h.1M50.5 58.8h.1M54.4 55.0h.1M52.0 57.5h.1M53.5 55.9h.1M52.0 56.7h.1M53.7 56.3h.1M54.2 56.4h.1M50.6 58.5h.1M52.0 55.5h.1M54.9 58.9h.1M58.0 58.9h.1M57.6 56.8h.1M56.5 57.0h.1M59.0 55.4h.1M58.9 55.1h.1M55.5 56.3h.1M56.4 59.4h.1M55.7 57.3h.1M57.2 58.8h.1M78.8 58.4h.1M84.2 55.9h.1M82.8 58.9h.1M81.4 57.4h.1M84.4 55.2h.1M82.2 55.8h.1M83.4 59.7h.1M82.1 55.5h.1M82.4 57.7h.1M83.1 57.6h.1M82.7 59.1h.1M82.1 57.1h.1M84.2 56.1h.1M82.9 57.0h.1M83.3 55.6h.1M84.4 56.8h.1M85.9 57.0h.1M84.6 57.1h.1M86.6 58.5h.1M86.3 56.3h.1M85.6 58.7h.1M89.2 57.6h.1M85.6 59.0h.1M86.5 56.1h.1M85.1 58.9h.1M88.5 58.2h.1M86.8 57.8h.1M85.6 59.8h.1M86.3 58.2h.1M88.6 59.1h.1M86.8 56.5h.1M90.1 59.2h.1M91.3 59.3h.1M90.8 56.9h.1M90.8 57.1h.1M90.4 55.0h.1M93.1 56.4h.1M90.7 56.5h.1M91.9 57.1h.1M92.7 58.3h.1M91.3 59.6h.1M93.8 55.3h.1M93.6 59.5h.1M93.4 55.7h.1M93.7 58.2h.1M89.6 55.1h.1M97.8 56.3h.1M95.0 55.7h.1M95.7 58.9h.1M96.2 55.8h.1M99.0 59.0h.1M95.3 59.5h.1M97.5 58.9h.1M97.8 59.5h.1M98.4 59.2h.1M95.5 58.5h.1M97.2 58.7h.1M96.7 59.4h.1M97.3 56.3h.1M95.7 55.7h.1M97.0 55.3h.1M100.2 57.5h.1M99.9 58.2h.1M37.1 62.4h.1M39.0 60.2h.1M38.1 63.1h.1M36.2 64.3h.1M36.3 62.4h.1M37.1 63.9h.1M41.7 62.1h.1M42.3 64.1h.1M41.0 64.1h.1M41.5 62.5h.1M40.9 62.5h.1M44.4 63.3h.1M43.5 61.7h.1M41.1 61.5h.1M42.4 63.2h.1M43.4 60.2h.1M43.1 64.4h.1M44.7 61.5h.1M44.5 60.9h.1M49.1 63.0h.1M47.8 63.9h.1M49.0 63.1h.1M47.6 63.1h.1M48.0 63.0h.1M47.9 61.1h.1M47.8 62.3h.1M48.3 60.5h.1M45.4 60.2h.1M54.1 63.3h.1M51.3 64.1h.1M53.4 62.8h.1M50.8 61.5h.1M51.6 61.6h.1M51.7 63.2h.1M54.2 60.3h.1M52.3 60.2h.1M50.1 64.1h.1M52.4 64.6h.1M51.7 60.1h.1M57.5 64.7h.1M56.6 60.5h.1M57.7 61.1h.1M55.3 60.1h.1M54.5 63.4h.1M55.1 64.8h.1M54.9 64.3h.1M55.1 60.1h.1M58.1 61.2h.1M58.2 60.9h.1M79.2 61.2h.1M80.5 60.9h.1M83.0 61.8h.1M82.3 62.0h.1M82.1 60.7h.1M81.4 60.5h.1M79.6 60.2h.1M87.3 61.3h.1M88.4 62.1h.1M89.2 63.8h.1M88.6 64.8h.1M85.8 60.2h.1M85.5 60.9h.1M84.9 60.3h.1M87.3 64.4h.1M86.8 64.7h.1M89.0 60.3h.1M87.5 62.0h.1M85.8 62.8h.1M87.7 64.8h.1M87.8 62.0h.1M90.3 64.8h.1M94.5 61.1h.1M89.7 61.3h.1M91.3 64.5h.1M94.0 64.2h.1M89.7 63.9h.1M93.0 63.2h.1M94.4 60.3h.1M90.2 63.8h.1M94.2 63.4h.1M91.0 63.0h.1M93.3 60.5h.1M91.1 61.3h.1M90.1 62.4h.1M90.3 61.2h.1M97.9 60.1h.1M98.1 61.0h.1M94.7 64.6h.1M95.6 64.7h.1M98.8 64.4h.1M95.2 62.2h.1M95.0 64.6h.1M98.7 63.1h.1M96.8 61.7h.1M98.6 62.4h.1M97.6 60.7h.1M95.6 60.3h.1M98.1 62.8h.1M95.2 64.4h.1M95.8 62.1h.1M36.9 66.4h.1M35.8 66.0h.1M36.3 70.0h.1M39.5 69.6h.1M35.0 66.4h.1M39.0 65.3h.1M41.0 69.9h.1M39.6 69.0h.1M41.2 65.7h.1M39.5 69.2h.1M42.1 65.9h.1M41.7 69.6h.1M47.4 65.7h.1M45.4 68.9h.1M48.1 66.0h.1M44.9 65.4h.1M47.5 67.5h.1M45.9 66.0h.1M47.6 68.5h.1M48.6 67.9h.1M45.5 65.3h.1M48.2 67.0h.1M48.1 65.3h.1M51.2 69.2h.1M53.8 67.5h.1M49.6 69.6h.1M51.9 69.4h.1M50.8 65.9h.1M53.7 66.8h.1M50.3 66.9h.1M52.5 65.0h.1M52.1 67.2h.1M52.1 65.6h.1M53.1 69.1h.1M56.1 68.6h.1M56.4 68.8h.1M54.8 69.4h.1M57.1 67.7h.1M57.2 65.1h.1M55.4 65.5h.1M55.8 69.1h.1M54.7 65.5h.1M58.0 66.0h.1M87.2 65.7h.1M90.7 65.4h.1M92.5 67.9h.1M92.8 66.0h.1M93.1 67.3h.1M92.2 68.1h.1M91.8 66.6h.1M90.7 66.1h.1M92.1 66.9h.1M92.4 65.1h.1M97.3 67.5h.1M96.0 68.9h.1M95.3 65.3h.1M98.9 67.2h.1M94.8 66.9h.1M96.7 68.7h.1M95.0 66.1h.1M95.3 66.7h.1M96.3 68.4h.1M38.6 72.6h.1M38.2 73.7h.1M41.9 73.9h.1M43.0 74.6h.1M40.1 74.4h.1M39.5 73.8h.1M42.4 72.5h.1M44.3 72.9h.1M48.4 74.4h.1M47.5 71.9h.1M46.8 72.3h.1M48.1 71.5h.1M46.5 72.8h.1M46.4 71.6h.1M48.4 74.2h.1M47.0 72.2h.1M45.4 71.5h.1M45.2 72.9h.1M47.4 70.4h.1M51.1 74.2h.1M53.7 74.8h.1M50.5 72.1h.1M54.1 70.1h.1M49.7 72.8h.1M52.0 74.6h.1M53.4 72.7h.1M54.5 72.6h.1M52.1 73.4h.1M51.4 71.8h.1M52.5 71.8h.1M57.9 72.6h.1M55.0 71.9h.1M56.5 72.8h.1M57.4 74.4h.1M56.7 73.1h.1M57.2 74.1h.1M55.4 71.6h.1M57.1 70.6h.1M36.5 75.3h.1M35.1 79.1h.1M36.3 76.2h.1M35.5 76.4h.1M35.7 75.2h.1M37.8 76.7h.1M43.0 75.5h.1M40.8 79.2h.1M40.1 77.2h.1M43.7 79.0h.1M40.3 76.8h.1M43.1 76.9h.1M45.5 79.8h.1M47.0 76.1h.1M46.8 75.7h.1M48.0 76.3h.1M49.0 77.9h.1M46.3 76.2h.1M47.5 76.1h.1M48.9 75.6h.1M47.1 77.7h.1M45.9 78.9h.1M46.4 78.3h.1M51.1 76.9h.1M49.9 75.9h.1M53.8 76.6h.1M52.8 75.5h.1M52.3 76.8h.1M52.0 76.5h.1M56.1 76.1h.1M55.1 78.6h.1M55.9 77.0h.1M59.0 78.9h.1M58.9 79.3h.1M55.2 76.4h.1M54.6 78.4h.1M57.8 76.8h.1M56.6 78.3h.1M58.0 76.2h.1M58.7 76.8h.1M60.4 79.2h.1M80.9 76.0h.1M34.9 80.1h.1M39.5 83.8h.1M34.9 83.6h.1M39.4 82.8h.1M35.0 82.4h.1M36.7 80.9h.1M39.5 84.6h.1M42.7 83.1h.1M44.2 83.3h.1M40.8 81.2h.1M40.2 80.1h.1M43.4 84.2h.1M41.0 80.9h.1M42.7 84.2h.1M44.1 80.8h.1M43.4 84.2h.1M43.2 81.6h.1M48.6 81.6h.1M46.3 82.8h.1M46.3 84.2h.1M45.7 80.2h.1M47.3 83.1h.1M48.6 83.5h.1M49.0 84.7h.1M47.0 82.5h.1M45.3 81.5h.1M47.4 80.4h.1M47.9 80.8h.1M54.3 80.4h.1M49.7 82.2h.1M50.5 83.6h.1M49.5 84.2h.1M53.8 83.9h.1M51.6 81.4h.1M57.1 82.1h.1M56.2 82.2h.1M57.8 84.1h.1M59.0 80.8h.1M56.0 82.2h.1M57.3 81.7h.1M55.5 80.4h.1M56.1 82.3h.1M59.4 84.5h.1M58.8 84.9h.1M59.3 83.1h.1M59.8 83.4h.1M61.0 81.7h.1M60.4 83.4h.1M30.5 87.2h.1M33.7 87.9h.1M30.1 85.1h.1M30.1 89.0h.1M30.4 87.8h.1M31.0 88.4h.1M35.2 89.4h.1M37.2 88.4h.1M38.5 89.7h.1M34.6 86.7h.1M35.3 87.5h.1M38.9 89.0h.1M40.4 89.1h.1M42.9 87.0h.1M41.9 85.8h.1M43.7 87.0h.1M43.9 88.1h.1M39.9 86.6h.1M40.6 89.5h.1M42.4 85.2h.1M40.3 86.8h.1M41.8 87.9h.1M41.4 86.8h.1M47.4 86.7h.1M44.6 87.3h.1M49.4 85.2h.1M45.2 88.4h.1M45.9 86.4h.1M47.0 86.3h.1M47.3 87.6h.1M49.3 90.0h.1M44.7 87.8h.1M48.4 89.4h.1M48.4 88.2h.1M51.3 86.4h.1M53.5 89.4h.1M54.2 88.4h.1M51.0 88.8h.1M53.2 87.5h.1M52.7 86.8h.1M52.3 87.0h.1M49.8 86.7h.1M51.1 89.9h.1M51.9 86.8h.1M50.7 86.2h.1M55.2 85.0h.1M58.9 87.3h.1M56.7 87.8h.1M56.0 85.8h.1M54.8 86.5h.1M56.0 88.6h.1M57.3 89.7h.1M56.2 89.6h.1M57.4 85.4h.1M55.4 87.9h.1M59.4 86.8h.1M61.6 89.3h.1M59.8 87.4h.1M60.8 85.1h.1M60.3 86.3h.1M30.8 93.6h.1M33.3 93.9h.1M31.0 93.9h.1M34.4 92.3h.1M30.9 92.6h.1M34.2 90.7h.1M29.5 92.4h.1M32.8 93.9h.1M31.3 94.9h.1M30.6 93.8h.1M29.9 90.1h.1M34.8 92.5h.1M37.3 90.9h.1M39.2 91.8h.1M35.2 90.9h.1M38.2 94.6h.1M35.3 90.1h.1M38.4 91.2h.1M39.4 92.5h.1M37.7 91.7h.1M38.5 92.3h.1M36.1 94.5h.1M43.2 90.3h.1M42.7 92.0h.1M43.8 90.3h.1M42.3 92.0h.1M44.1 94.7h.1M42.6 91.1h.1M40.8 91.3h.1M41.7 91.2h.1M40.5 93.8h.1M42.7 91.5h.1M44.5 91.1h.1M45.3 94.3h.1M48.8 91.3h.1M48.3 94.1h.1M45.9 91.7h.1M46.9 94.5h.1M45.3 93.4h.1M47.5 92.3h.1M47.4 94.4h.1M45.5 94.4h.1M46.3 93.9h.1M48.8 90.9h.1M54.5 91.5h.1M49.6 90.6h.1M54.4 90.0h.1M54.1 90.8h.1M53.2 90.5h.1M50.3 93.4h.1M50.0 91.7h.1M54.1 93.6h.1M53.9 94.9h.1M49.7 91.2h.1M53.5 93.4h.1M57.0 91.2h.1M56.7 90.5h.1M54.6 95.0h.1M56.1 94.4h.1M55.1 92.4h.1M55.2 92.1h.1M55.4 93.4h.1M55.2 93.7h.1M57.0 90.6h.1M56.3 92.5h.1M59.1 91.7h.1M64.3 94.4h.1M63.2 91.4h.1M60.4 91.3h.1M59.8 90.2h.1M62.0 92.0h.1M62.3 91.8h.1M28.2 99.3h.1M29.5 96.2h.1M27.6 98.7h.1M32.9 96.6h.1M32.6 97.7h.1M30.6 98.1h.1M30.8 99.5h.1M31.9 98.6h.1M32.1 97.4h.1M30.6 95.7h.1M34.1 97.6h.1M32.1 97.6h.1M33.6 96.2h.1M30.4 99.1h.1M31.8 98.2h.1M33.6 99.5h.1M33.8 95.2h.1M31.4 99.2h.1M35.1 95.8h.1M35.8 95.5h.1M36.3 99.0h.1M37.1 97.3h.1M34.9 97.0h.1M39.5 98.5h.1M36.7 97.4h.1M38.5 98.8h.1M35.2 98.4h.1M36.3 97.6h.1M35.7 96.9h.1M36.2 96.9h.1M34.6 96.0h.1M37.4 95.3h.1M35.4 98.6h.1M41.1 96.2h.1M43.7 95.5h.1M42.7 99.3h.1M40.5 97.1h.1M43.5 98.1h.1M41.4 95.2h.1M41.7 96.8h.1M43.1 96.5h.1M41.5 98.2h.1M43.6 96.8h.1M41.4 97.9h.1M45.5 99.9h.1M48.1 96.9h.1M47.8 96.6h.1M44.9 98.8h.1M46.4 97.6h.1M47.0 99.5h.1M48.3 95.1h.1M47.5 97.3h.1M46.8 99.2h.1M46.6 97.4h.1M49.0 97.2h.1M52.1 99.1h.1M52.9 98.7h.1M51.5 95.2h.1M52.9 97.8h.1M53.3 98.8h.1M50.1 96.1h.1M49.9 99.1h.1M50.0 95.4h.1M53.3 97.8h.1M49.8 98.4h.1M53.1 97.4h.1M58.0 97.1h.1M57.4 100.0h.1M58.6 99.4h.1M55.2 96.7h.1M57.1 95.0h.1M59.4 96.4h.1M55.8 96.6h.1M55.8 99.3h.1M57.3 97.6h.1M56.6 95.3h.1M56.0 99.3h.1M60.5 95.3h.1M32.2 102.0h.1M32.3 101.6h.1M30.9 104.0h.1M31.0 103.6h.1M33.5 103.0h.1M31.8 104.7h.1M31.7 104.4h.1M29.8 102.2h.1M32.7 100.2h.1M33.8 100.4h.1M32.5 100.9h.1M37.3 104.0h.1M37.0 103.4h.1M37.9 101.5h.1M35.6 104.2h.1M35.2 104.6h.1M35.5 100.5h.1M35.0 103.9h.1M39.3 102.1h.1M37.8 101.3h.1M39.0 103.4h.1M35.3 100.3h.1M39.7 104.2h.1M41.0 101.2h.1M42.4 101.6h.1M42.3 100.8h.1M44.1 101.6h.1M43.7 100.8h.1M43.5 104.9h.1M41.5 100.2h.1M41.4 103.2h.1M40.6 102.7h.1M40.0 102.3h.1M43.1 102.1h.1M42.9 100.6h.1M43.6 100.6h.1M44.1 105.0h.1M47.1 101.5h.1M45.0 102.4h.1M48.8 103.0h.1M47.2 100.4h.1M45.2 101.4h.1M49.0 104.2h.1M44.7 103.0h.1M49.3 101.7h.1M52.8 100.3h.1M51.2 102.2h.1M50.7 103.7h.1M50.4 103.9h.1M51.0 100.3h.1M52.3 100.5h.1M52.3 103.9h.1M52.5 102.3h.1M49.7 102.6h.1M50.0 103.2h.1M50.2 102.9h.1M56.4 103.3h.1M55.3 100.8h.1M59.2 101.7h.1M58.7 104.4h.1M56.9 100.7h.1M55.0 104.4h.1M55.1 102.5h.1M57.2 100.6h.1M56.8 100.8h.1M57.2 102.5h.1M56.3 101.0h.1M60.5 100.6h.1M60.7 104.4h.1M62.0 104.5h.1M59.6 104.7h.1M61.9 104.0h.1M62.4 103.4h.1M31.0 109.5h.1M29.9 107.9h.1M30.7 108.0h.1M33.4 108.6h.1M29.8 106.2h.1M32.5 109.9h.1M29.7 108.1h.1M33.0 109.1h.1M31.2 109.1h.1M31.8 109.6h.1M29.6 109.7h.1M36.5 105.4h.1M35.7 108.7h.1M37.9 105.8h.1M36.2 105.7h.1M35.5 106.1h.1M36.2 109.9h.1M42.0 108.9h.1M42.7 106.0h.1M42.6 109.2h.1M43.4 105.5h.1M54.2 109.5h.1M53.2 109.2h.1M53.5 108.0h.1M51.7 109.1h.1M53.4 109.4h.1M52.2 109.7h.1M53.4 106.3h.1M53.7 106.2h.1M56.8 106.2h.1M57.0 109.5h.1M57.9 108.6h.1M56.5 108.9h.1M58.5 108.4h.1M59.2 109.1h.1M56.5 105.4h.1M57.8 109.2h.1M56.2 108.0h.1M58.7 109.0h.1M54.5 107.4h.1M60.1 109.1h.1M61.6 108.0h.1M61.8 106.7h.1M60.6 106.8h.1M63.7 108.1h.1M61.0 105.4h.1M60.9 108.5h.1M61.7 108.3h.1M63.5 105.6h.1M62.9 105.2h.1M63.6 105.9h.1M34.3 111.8h.1M30.6 114.4h.1M32.6 114.5h.1M31.5 112.5h.1M34.3 112.5h.1M34.4 110.9h.1M33.7 110.8h.1M32.1 110.0h.1M31.8 114.0h.1M30.8 111.8h.1M37.3 114.3h.1M37.1 111.9h.1M39.1 114.5h.1M37.8 110.4h.1M37.6 112.2h.1M39.3 111.8h.1M37.8 113.2h.1M36.4 112.6h.1M37.9 114.5h.1M37.0 111.8h.1M39.4 110.3h.1M41.1 110.7h.1M52.4 110.2h.1M52.7 111.4h.1M53.3 111.5h.1M57.9 111.9h.1M58.0 111.4h.1M56.2 110.7h.1M63.9 110.8h.1M63.2 110.9h.1M61.1 110.3h.1M61.0 111.9h.1M60.4 111.5h.1M31.7 115.5h.1M30.8 117.0h.1M31.4 119.8h.1M30.8 116.0h.1M34.0 117.3h.1M33.7 118.2h.1M33.4 116.6h.1M31.9 117.8h.1M32.9 118.8h.1M36.3 119.6h.1M37.1 116.4h.1M37.7 116.3h.1M38.4 115.2h.1M38.6 117.8h.1M36.3 119.7h.1M35.8 116.2h.1M34.8 117.7h.1M38.3 118.4h.1M36.6 119.0h.1M35.1 116.5h.1M34.2 123.7h.1M31.2 122.0h.1M33.5 121.7h.1M32.2 122.6h.1M32.8 124.5h.1M32.0 124.3h.1M32.8 122.9h.1M31.5 122.9h.1M37.0 124.5h.1M33.0 128.1h.1M27.0 49.3h.1M22.8 62.2h.1M31.1 46.2h.1M31.5 48.4h.1M17.7 64.5h.1M20.3 55.3h.1M25.6 51.8h.1M30.7 51.5h.1M31.8 70.1h.1M24.1 58.1h.1M29.2 63.1h.1M21.7 60.9h.1M26.0 52.0h.1M14.1 59.8h.1M15.6 59.1h.1M28.2 67.0h.1M23.0 55.6h.1M16.9 57.5h.1M19.0 51.0h.1M29.4 61.0h.1M22.6 51.1h.1M28.7 51.1h.1M18.6 62.4h.1M28.6 75.2h.1M29.7 74.4h.1M33.7 67.4h.1M29.0 46.9h.1M32.4 67.4h.1M27.0 53.2h.1M20.7 50.1h.1M16.5 56.0h.1M33.2 69.9h.1M30.4 59.6h.1M30.8 59.8h.1M31.4 49.0h.1M15.0 62.5h.1M24.2 51.5h.1M33.4 67.0h.1M22.5 67.7h.1M21.3 70.2h.1M31.9 49.1h.1M26.0 56.7h.1M30.6 59.4h.1M19.9 64.4h.1M31.9 9.4h.1M33.9 15.8h.1M18.9 19.5h.1M25.2 25.1h.1M32.0 24.3h.1M26.9 28.6h.1M33.9 26.9h.1M45.0 4.7h.1M47.3 6.8h.1M38.8 13.8h.1M45.6 12.6h.1M45.6 15.2h.1M47.3 15.2h.1M53.5 19.8h.1M52.4 21.5h.1M39.4 22.6h.1M38.5 24.3h.1M41.4 26.5h.1M43.4 27.7h.1M36.6 32.5h.1M36.9 32.3h.1M38.2 35.1h.1M5.3 36.8h.1M17.8 36.8h.1M31.8 38.7h.1M35.0 37.2h.1M12.5 40.0h.1M10.5 42.9h.1M27.2 40.4h.1M31.7 39.5h.1M30.0 43.5h.1M5.7 47.2h.1M11.4 48.0h.1M12.5 47.2h.1M19.8 47.4h.1M4.6 49.4h.1M7.6 50.2h.1M3.8 51.4h.1M10.8 52.0h.1M9.9 54.2h.1M25.2 49.7h.1M24.5 51.4h.1M29.7 52.2h.1M28.3 54.4h.1M17.3 55.9h.1M19.3 58.7h.1M24.9 58.7h.1M17.6 67.8h.1M25.5 66.7h.1M30.0 66.1h.1M32.2 69.5h.1M24.3 73.5h.1M26.6 75.2h.1M26.0 76.3h.1M30.0 73.5h.1M29.4 79.1h.1M27.2 82.5h.1M28.9 81.9h.1M26.0 85.9h.1M31.7 85.9h.1M97.9 67.5h.1M96.7 69.4h.1M93.5 70.0h.1M91.7 74.4h.1M92.5 73.5h.1M82.9 70.7h.1M82.2 77.6h.1M19.3 61.5h.1M18.7 64.9h.1M28.3 62.1h.1M30.0 60.4h.1M32.2 59.3h.1M33.4 61.5h.1M29.4 65.5h.1M31.1 67.7h.1M33.4 64.9h.1M30.0 58.1h.1M17.6 62.1h.1M20.4 61.0h.1M26.6 62.7h.1M24.3 67.2h.1M27.2 68.9h.1M40.5 28.8h.1M38.8 32.2h.1M38.9 31.6h.1M11.8 38.3h.1M17.6 36.7h.1M11.9 39.0h.1M4.9 42.9h.1M30.0 40.4h.1M6.3 50.2h.1M22.1 54.0h.1M33.4 55.9h.1M29.4 56.4h.1M18.1 65.6h.1M26.6 71.8h.1M32.8 75.7h.1M67.8 38.4h.1M89.1 66.9h.1"/><path stroke="#1846bd" d="M63.7 44.0h.1M63.6 42.9h.1M64.0 43.4h.1M63.7 42.8h.1M68.5 43.7h.1M67.0 42.7h.1M67.8 40.3h.1M68.2 41.3h.1M64.9 41.3h.1M68.1 41.0h.1M61.6 48.4h.1M63.2 47.5h.1M66.0 49.8h.1M67.0 45.9h.1M65.6 47.1h.1M67.8 49.7h.1M65.2 47.0h.1M65.6 49.9h.1M69.8 45.3h.1M71.5 49.5h.1M71.1 45.9h.1M69.7 48.3h.1M71.4 46.9h.1M71.2 45.8h.1M69.5 46.4h.1M71.3 49.8h.1M62.3 53.1h.1M61.0 52.1h.1M62.4 52.1h.1M62.8 52.2h.1M61.7 50.1h.1M62.6 52.4h.1M68.3 53.9h.1M66.8 50.9h.1M66.9 50.5h.1M65.1 52.2h.1M65.0 52.2h.1M67.1 50.2h.1M69.9 53.7h.1M73.4 52.6h.1M69.8 52.5h.1M71.4 54.8h.1M70.2 54.3h.1M74.5 53.7h.1M74.4 52.5h.1M74.3 54.6h.1M70.3 53.9h.1M77.0 54.6h.1M75.3 54.7h.1M75.3 53.9h.1M75.1 52.7h.1M59.0 57.5h.1M62.7 56.7h.1M61.1 55.8h.1M63.7 58.3h.1M63.2 55.8h.1M61.7 58.9h.1M62.4 55.6h.1M68.9 56.2h.1M65.5 56.5h.1M68.0 59.2h.1M65.3 55.8h.1M65.7 56.6h.1M67.1 55.8h.1M70.4 59.9h.1M73.1 55.5h.1M74.3 55.5h.1M71.4 59.9h.1M73.5 58.7h.1M71.7 56.0h.1M72.7 55.5h.1M70.5 56.9h.1M69.7 57.0h.1M73.5 58.5h.1M72.0 58.2h.1M71.8 55.7h.1M72.5 57.0h.1M73.2 59.5h.1M71.7 57.9h.1M76.6 56.1h.1M78.1 59.4h.1M78.4 58.5h.1M77.7 57.3h.1M76.1 58.1h.1M75.0 57.1h.1M78.4 58.6h.1M77.6 56.3h.1M76.6 57.3h.1M77.6 57.0h.1M59.4 62.4h.1M63.4 63.6h.1M63.8 63.6h.1M59.9 63.1h.1M63.0 62.3h.1M64.2 61.3h.1M64.3 63.6h.1M59.6 60.1h.1M62.8 64.1h.1M59.9 61.6h.1M63.1 60.8h.1M63.8 62.4h.1M66.3 62.9h.1M66.7 63.4h.1M65.2 64.0h.1M66.3 63.2h.1M67.6 62.1h.1M66.4 63.9h.1M69.2 63.9h.1M67.3 61.5h.1M64.8 64.9h.1M68.0 64.1h.1M66.2 63.0h.1M73.7 63.0h.1M71.0 62.1h.1M73.9 61.9h.1M72.9 63.0h.1M74.0 64.0h.1M70.9 60.0h.1M70.8 62.1h.1M72.4 64.1h.1M73.9 60.2h.1M73.7 64.1h.1M73.8 62.9h.1M70.9 64.3h.1M73.5 63.4h.1M74.1 61.7h.1M69.9 62.8h.1M75.5 63.8h.1M76.8 61.0h.1M75.8 63.8h.1M78.5 62.3h.1M74.9 64.0h.1M78.4 61.2h.1M76.9 62.9h.1M59.3 67.5h.1M59.3 66.1h.1M62.5 67.9h.1M62.1 68.5h.1M60.0 69.3h.1M63.1 65.2h.1M60.1 67.5h.1M62.0 66.4h.1M60.1 67.0h.1M60.2 68.0h.1M63.8 65.7h.1M62.4 68.7h.1M60.3 69.1h.1M66.4 67.1h.1M68.7 67.6h.1M66.5 69.7h.1M68.4 66.7h.1M65.7 66.7h.1M66.7 69.9h.1M68.5 69.6h.1M68.6 69.2h.1M64.8 67.6h.1M69.3 69.7h.1M65.7 67.1h.1M71.3 67.7h.1M69.8 67.2h.1M72.0 65.1h.1M70.2 69.8h.1M73.4 69.7h.1M72.7 69.0h.1M73.9 69.4h.1M69.7 68.2h.1M70.8 68.4h.1M70.9 67.7h.1M74.1 68.1h.1M59.3 72.4h.1M59.5 71.7h.1M59.4 74.1h.1M62.9 74.1h.1M64.5 74.4h.1M61.6 70.8h.1M60.9 72.6h.1M62.0 70.9h.1M60.4 73.2h.1M62.5 71.8h.1M64.5 73.2h.1M59.7 72.1h.1M63.4 71.5h.1M63.0 70.0h.1M68.7 72.9h.1M67.8 71.0h.1M67.0 72.8h.1M65.8 73.2h.1M67.2 75.0h.1M67.4 72.1h.1M65.1 70.8h.1M68.3 70.5h.1M65.0 70.9h.1M67.1 74.1h.1M67.6 74.0h.1M69.6 73.9h.1M71.1 73.6h.1M71.3 70.8h.1M70.8 70.5h.1M74.0 72.9h.1M71.2 72.2h.1M71.4 70.3h.1M74.0 72.9h.1M74.3 72.2h.1M72.6 71.2h.1M69.7 74.7h.1M73.8 71.6h.1M74.0 74.1h.1M71.0 73.0h.1M74.3 72.5h.1M75.7 71.9h.1M76.0 74.4h.1M76.9 74.0h.1M75.7 70.9h.1M60.4 75.6h.1M64.1 78.7h.1M63.1 75.2h.1M59.7 75.8h.1M60.5 76.5h.1M61.4 75.2h.1M61.1 78.2h.1M62.4 78.6h.1M60.8 77.2h.1M62.9 76.7h.1M68.7 78.9h.1M65.9 75.2h.1M68.8 78.0h.1M64.7 76.2h.1M65.1 79.0h.1M65.6 79.6h.1M68.2 75.4h.1M68.0 77.0h.1M68.2 79.1h.1M65.9 75.4h.1M69.2 77.1h.1M73.0 78.7h.1M73.6 78.1h.1M71.8 75.3h.1M73.0 77.1h.1M72.1 79.6h.1M70.1 78.8h.1M69.7 78.5h.1M73.5 76.3h.1M72.2 79.8h.1M72.7 77.7h.1M70.7 75.3h.1M71.3 77.1h.1M70.5 76.6h.1M70.2 78.5h.1M72.9 76.2h.1M77.1 77.2h.1M79.2 76.8h.1M76.0 79.4h.1M75.2 77.8h.1M76.2 79.1h.1M77.2 78.8h.1M75.3 78.3h.1M77.5 77.3h.1M78.3 79.2h.1M75.1 76.4h.1M76.3 76.0h.1M62.5 81.5h.1M62.4 84.8h.1M61.9 83.2h.1M63.9 80.1h.1M61.7 80.4h.1M62.8 81.9h.1M62.4 82.1h.1M62.1 82.8h.1M65.1 80.9h.1M68.9 82.7h.1M65.1 84.3h.1M65.8 80.5h.1M67.2 81.3h.1M66.9 82.8h.1M65.6 82.9h.1M65.1 82.6h.1M67.4 80.4h.1M66.5 80.4h.1M66.7 84.3h.1M73.1 83.8h.1M70.1 85.0h.1M73.1 80.5h.1M73.7 82.0h.1M70.4 84.8h.1M72.3 83.9h.1M70.2 83.9h.1M69.8 81.2h.1M71.4 80.1h.1M72.5 81.1h.1M71.0 83.5h.1M71.6 84.4h.1M72.6 84.4h.1M72.3 84.6h.1M73.9 80.8h.1M76.2 83.8h.1M75.1 81.9h.1M78.1 80.2h.1M77.5 80.5h.1M64.0 86.4h.1M63.0 86.1h.1M65.5 88.0h.1M68.8 88.2h.1M65.5 88.7h.1M69.3 88.0h.1M64.9 89.0h.1M68.9 86.7h.1M65.2 85.9h.1M67.2 89.4h.1M67.7 89.6h.1M65.6 86.6h.1M68.2 88.2h.1M72.9 86.7h.1M69.8 87.1h.1M69.7 88.1h.1M71.2 87.5h.1M72.5 86.3h.1M71.8 85.1h.1M74.1 87.8h.1M74.4 85.3h.1M72.6 88.6h.1M71.1 85.5h.1M70.3 85.7h.1M67.9 93.3h.1M67.2 92.7h.1M68.9 93.6h.1M66.5 91.6h.1M71.4 92.0h.1M69.5 93.0h.1M72.6 91.9h.1M70.7 91.0h.1M69.7 93.5h.1M71.1 93.2h.1M72.2 91.6h.1M79.1 75.7h.1"/></g></g>
<rect x="18.5" y="10.0" width="105.2" height="132.4" class="fr"/><rect x="123.7" y="10.0" width="105.2" height="132.4" class="fr"/><rect x="228.9" y="10.0" width="105.2" height="132.4" class="fr"/><rect x="334.1" y="10.0" width="105.2" height="132.4" class="fr"/><rect x="439.3" y="10.0" width="105.2" height="132.4" class="fr"/><rect x="18.5" y="149.8" width="105.2" height="132.4" class="fr"/><rect x="123.7" y="149.8" width="105.2" height="132.4" class="fr"/><rect x="228.9" y="149.8" width="105.2" height="132.4" class="fr"/><rect x="334.1" y="149.8" width="105.2" height="132.4" class="fr"/><rect x="439.3" y="149.8" width="105.2" height="132.4" class="fr"/>
<line x1="16.9" y1="16.0" x2="18.5" y2="16.0" class="tk"/><line x1="16.9" y1="45.8" x2="18.5" y2="45.8" class="tk"/><line x1="16.9" y1="75.6" x2="18.5" y2="75.6" class="tk"/><line x1="16.9" y1="105.4" x2="18.5" y2="105.4" class="tk"/><line x1="16.9" y1="135.2" x2="18.5" y2="135.2" class="tk"/><line x1="16.9" y1="155.8" x2="18.5" y2="155.8" class="tk"/><line x1="16.9" y1="185.6" x2="18.5" y2="185.6" class="tk"/><line x1="16.9" y1="215.4" x2="18.5" y2="215.4" class="tk"/><line x1="16.9" y1="245.2" x2="18.5" y2="245.2" class="tk"/><line x1="16.9" y1="275.0" x2="18.5" y2="275.0" class="tk"/><line x1="29.9" y1="282.2" x2="29.9" y2="283.8" class="tk"/><line x1="55.0" y1="282.2" x2="55.0" y2="283.8" class="tk"/><line x1="80.0" y1="282.2" x2="80.0" y2="283.8" class="tk"/><line x1="105.1" y1="282.2" x2="105.1" y2="283.8" class="tk"/><line x1="135.1" y1="282.2" x2="135.1" y2="283.8" class="tk"/><line x1="160.2" y1="282.2" x2="160.2" y2="283.8" class="tk"/><line x1="185.2" y1="282.2" x2="185.2" y2="283.8" class="tk"/><line x1="210.2" y1="282.2" x2="210.2" y2="283.8" class="tk"/><line x1="240.3" y1="282.2" x2="240.3" y2="283.8" class="tk"/><line x1="265.4" y1="282.2" x2="265.4" y2="283.8" class="tk"/><line x1="290.4" y1="282.2" x2="290.4" y2="283.8" class="tk"/><line x1="315.5" y1="282.2" x2="315.5" y2="283.8" class="tk"/><line x1="345.5" y1="282.2" x2="345.5" y2="283.8" class="tk"/><line x1="370.6" y1="282.2" x2="370.6" y2="283.8" class="tk"/><line x1="395.6" y1="282.2" x2="395.6" y2="283.8" class="tk"/><line x1="420.7" y1="282.2" x2="420.7" y2="283.8" class="tk"/><line x1="450.7" y1="282.2" x2="450.7" y2="283.8" class="tk"/><line x1="475.8" y1="282.2" x2="475.8" y2="283.8" class="tk"/><line x1="500.8" y1="282.2" x2="500.8" y2="283.8" class="tk"/><line x1="525.9" y1="282.2" x2="525.9" y2="283.8" class="tk"/>
<text transform="translate(15.3 16.0) rotate(-90)" class="yl">38</text><text transform="translate(15.3 45.8) rotate(-90)" class="yl">37</text><text transform="translate(15.3 75.6) rotate(-90)" class="yl">36</text><text transform="translate(15.3 105.4) rotate(-90)" class="yl">35</text><text transform="translate(15.3 135.2) rotate(-90)" class="yl">34</text><text transform="translate(15.3 155.8) rotate(-90)" class="yl">38</text><text transform="translate(15.3 185.6) rotate(-90)" class="yl">37</text><text transform="translate(15.3 215.4) rotate(-90)" class="yl">36</text><text transform="translate(15.3 245.2) rotate(-90)" class="yl">35</text><text transform="translate(15.3 275.0) rotate(-90)" class="yl">34</text><text x="29.9" y="288.4" class="xl">124</text><text x="55.0" y="288.4" class="xl">126</text><text x="80.0" y="288.4" class="xl">128</text><text x="105.1" y="288.4" class="xl">130</text><text x="71.1" y="7.35" class="st">Fold 1</text><text x="135.1" y="288.4" class="xl">124</text><text x="160.2" y="288.4" class="xl">126</text><text x="185.2" y="288.4" class="xl">128</text><text x="210.2" y="288.4" class="xl">130</text><text x="176.3" y="7.35" class="st">Fold 2</text><text x="240.3" y="288.4" class="xl">124</text><text x="265.4" y="288.4" class="xl">126</text><text x="290.4" y="288.4" class="xl">128</text><text x="315.5" y="288.4" class="xl">130</text><text x="281.5" y="7.35" class="st">Fold 3</text><text x="345.5" y="288.4" class="xl">124</text><text x="370.6" y="288.4" class="xl">126</text><text x="395.6" y="288.4" class="xl">128</text><text x="420.7" y="288.4" class="xl">130</text><text x="386.7" y="7.35" class="st">Fold 4</text><text x="450.7" y="288.4" class="xl">124</text><text x="475.8" y="288.4" class="xl">126</text><text x="500.8" y="288.4" class="xl">128</text><text x="525.9" y="288.4" class="xl">130</text><text x="491.9" y="7.35" class="st">Fold 5</text><text transform="translate(7.5 76.1) rotate(-90)" class="rl">Random CV</text><text transform="translate(7.5 215) rotate(-90)" class="rl">Spatial CV</text>
<text x="207.9" y="304.6" class="lg">training data</text>
<circle cx="260" cy="302.1" r="3.9" fill="#f0103c"/>
<text x="318.2" y="304.6" class="lg">test data</text>
<circle cx="356.6" cy="302" r="3.9" fill="#1c1c96"/>
</svg>
</body></html>
